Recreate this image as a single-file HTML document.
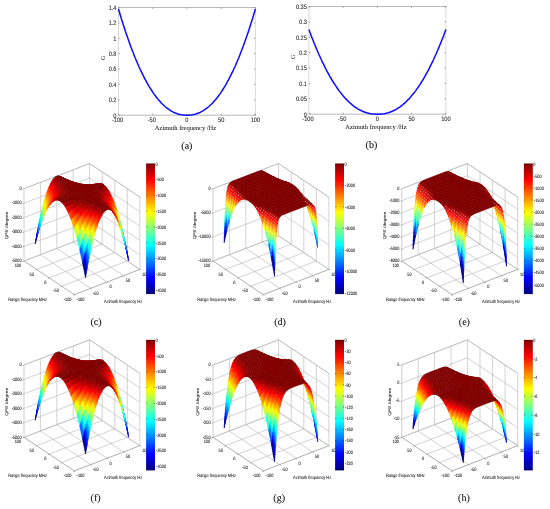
<!DOCTYPE html>
<html lang="en"><head><meta charset="utf-8"><title>Figure</title>
<style>html,body{margin:0;padding:0;background:#fff}svg{display:block}text{text-rendering:geometricPrecision}.j0{fill:#00008f;stroke:#00008f}.j1{fill:#00009f;stroke:#00009f}.j2{fill:#0000af;stroke:#0000af}.j3{fill:#0000bf;stroke:#0000bf}.j4{fill:#0000cf;stroke:#0000cf}.j5{fill:#0000df;stroke:#0000df}.j6{fill:#0000ef;stroke:#0000ef}.j7{fill:#0000ff;stroke:#0000ff}.j8{fill:#0010ff;stroke:#0010ff}.j9{fill:#0020ff;stroke:#0020ff}.j10{fill:#0030ff;stroke:#0030ff}.j11{fill:#0040ff;stroke:#0040ff}.j12{fill:#0050ff;stroke:#0050ff}.j13{fill:#0060ff;stroke:#0060ff}.j14{fill:#0070ff;stroke:#0070ff}.j15{fill:#0080ff;stroke:#0080ff}.j16{fill:#008fff;stroke:#008fff}.j17{fill:#009fff;stroke:#009fff}.j18{fill:#00afff;stroke:#00afff}.j19{fill:#00bfff;stroke:#00bfff}.j20{fill:#00cfff;stroke:#00cfff}.j21{fill:#00dfff;stroke:#00dfff}.j22{fill:#00efff;stroke:#00efff}.j23{fill:#00ffff;stroke:#00ffff}.j24{fill:#10ffef;stroke:#10ffef}.j25{fill:#20ffdf;stroke:#20ffdf}.j26{fill:#30ffcf;stroke:#30ffcf}.j27{fill:#40ffbf;stroke:#40ffbf}.j28{fill:#50ffaf;stroke:#50ffaf}.j29{fill:#60ff9f;stroke:#60ff9f}.j30{fill:#70ff8f;stroke:#70ff8f}.j31{fill:#80ff80;stroke:#80ff80}.j32{fill:#8fff70;stroke:#8fff70}.j33{fill:#9fff60;stroke:#9fff60}.j34{fill:#afff50;stroke:#afff50}.j35{fill:#bfff40;stroke:#bfff40}.j36{fill:#cfff30;stroke:#cfff30}.j37{fill:#dfff20;stroke:#dfff20}.j38{fill:#efff10;stroke:#efff10}.j39{fill:#ffff00;stroke:#ffff00}.j40{fill:#ffef00;stroke:#ffef00}.j41{fill:#ffdf00;stroke:#ffdf00}.j42{fill:#ffcf00;stroke:#ffcf00}.j43{fill:#ffbf00;stroke:#ffbf00}.j44{fill:#ffaf00;stroke:#ffaf00}.j45{fill:#ff9f00;stroke:#ff9f00}.j46{fill:#ff8f00;stroke:#ff8f00}.j47{fill:#ff8000;stroke:#ff8000}.j48{fill:#ff7000;stroke:#ff7000}.j49{fill:#ff6000;stroke:#ff6000}.j50{fill:#ff5000;stroke:#ff5000}.j51{fill:#ff4000;stroke:#ff4000}.j52{fill:#ff3000;stroke:#ff3000}.j53{fill:#ff2000;stroke:#ff2000}.j54{fill:#ff1000;stroke:#ff1000}.j55{fill:#ff0000;stroke:#ff0000}.j56{fill:#ef0000;stroke:#ef0000}.j57{fill:#df0000;stroke:#df0000}.j58{fill:#cf0000;stroke:#cf0000}.j59{fill:#bf0000;stroke:#bf0000}.j60{fill:#af0000;stroke:#af0000}.j61{fill:#9f0000;stroke:#9f0000}.j62{fill:#8f0000;stroke:#8f0000}.j63{fill:#800000;stroke:#800000}</style></head>
<body>
<svg width="550" height="509" viewBox="0 0 550 509">
<defs><linearGradient id="jet" x1="0" y1="1" x2="0" y2="0"><stop offset="0" stop-color="#000080"/><stop offset=".125" stop-color="#0000ff"/><stop offset=".375" stop-color="#00ffff"/><stop offset=".625" stop-color="#ffff00"/><stop offset=".875" stop-color="#ff0000"/><stop offset="1" stop-color="#800000"/></linearGradient><pattern id="net" width="24" height="24" patternUnits="userSpaceOnUse" patternTransform="rotate(40)"><circle cx="12" cy="12" r="6.5" fill="#fff" fill-opacity=".6"/></pattern><filter id="bl" x="0" y="0" width="100%" height="100%" filterUnits="userSpaceOnUse"><feGaussianBlur stdDeviation="0.35"/></filter></defs>
<rect width="550" height="509" fill="#fff"/>
<g filter="url(#bl)">
<line x1="118.5" y1="7.5" x2="255.4" y2="7.5" stroke="#a8a8a8" stroke-width="0.8"/>
<line x1="118.5" y1="115.2" x2="255.4" y2="115.2" stroke="#a8a8a8" stroke-width="0.8"/>
<line x1="118.5" y1="7.5" x2="118.5" y2="115.2" stroke="#cfcfcf" stroke-width="0.8"/>
<line x1="255.4" y1="7.5" x2="255.4" y2="115.2" stroke="#cfcfcf" stroke-width="0.8"/>
<line x1="118.5" y1="115.2" x2="120.1" y2="115.2" stroke="#777" stroke-width="0.6"/>
<line x1="253.8" y1="115.2" x2="255.4" y2="115.2" stroke="#777" stroke-width="0.6"/>
<line x1="118.5" y1="99.8" x2="120.1" y2="99.8" stroke="#777" stroke-width="0.6"/>
<line x1="253.8" y1="99.8" x2="255.4" y2="99.8" stroke="#777" stroke-width="0.6"/>
<line x1="118.5" y1="84.4" x2="120.1" y2="84.4" stroke="#777" stroke-width="0.6"/>
<line x1="253.8" y1="84.4" x2="255.4" y2="84.4" stroke="#777" stroke-width="0.6"/>
<line x1="118.5" y1="69" x2="120.1" y2="69" stroke="#777" stroke-width="0.6"/>
<line x1="253.8" y1="69" x2="255.4" y2="69" stroke="#777" stroke-width="0.6"/>
<line x1="118.5" y1="53.7" x2="120.1" y2="53.7" stroke="#777" stroke-width="0.6"/>
<line x1="253.8" y1="53.7" x2="255.4" y2="53.7" stroke="#777" stroke-width="0.6"/>
<line x1="118.5" y1="38.3" x2="120.1" y2="38.3" stroke="#777" stroke-width="0.6"/>
<line x1="253.8" y1="38.3" x2="255.4" y2="38.3" stroke="#777" stroke-width="0.6"/>
<line x1="118.5" y1="22.9" x2="120.1" y2="22.9" stroke="#777" stroke-width="0.6"/>
<line x1="253.8" y1="22.9" x2="255.4" y2="22.9" stroke="#777" stroke-width="0.6"/>
<line x1="118.5" y1="7.5" x2="120.1" y2="7.5" stroke="#777" stroke-width="0.6"/>
<line x1="253.8" y1="7.5" x2="255.4" y2="7.5" stroke="#777" stroke-width="0.6"/>
<line x1="118.5" y1="115.2" x2="118.5" y2="113.6" stroke="#777" stroke-width="0.6"/>
<line x1="118.5" y1="7.5" x2="118.5" y2="9.1" stroke="#777" stroke-width="0.6"/>
<line x1="152.7" y1="115.2" x2="152.7" y2="113.6" stroke="#777" stroke-width="0.6"/>
<line x1="152.7" y1="7.5" x2="152.7" y2="9.1" stroke="#777" stroke-width="0.6"/>
<line x1="186.9" y1="115.2" x2="186.9" y2="113.6" stroke="#777" stroke-width="0.6"/>
<line x1="186.9" y1="7.5" x2="186.9" y2="9.1" stroke="#777" stroke-width="0.6"/>
<line x1="221.2" y1="115.2" x2="221.2" y2="113.6" stroke="#777" stroke-width="0.6"/>
<line x1="221.2" y1="7.5" x2="221.2" y2="9.1" stroke="#777" stroke-width="0.6"/>
<line x1="255.4" y1="115.2" x2="255.4" y2="113.6" stroke="#777" stroke-width="0.6"/>
<line x1="255.4" y1="7.5" x2="255.4" y2="9.1" stroke="#777" stroke-width="0.6"/>
<polyline fill="none" stroke="#0a0aff" stroke-width="1.5" stroke-linejoin="round" points="118.5,9 119.9,13.7 121.2,18.2 122.6,22.5 124,26.8 125.3,31 126.7,35.1 128.1,39 129.5,42.9 130.8,46.6 132.2,50.2 133.6,53.7 134.9,57.2 136.3,60.5 137.7,63.7 139,66.8 140.4,69.8 141.8,72.6 143.1,75.4 144.5,78.1 145.9,80.7 147.2,83.2 148.6,85.6 150,87.8 151.4,90 152.7,92.1 154.1,94.1 155.5,96 156.8,97.8 158.2,99.5 159.6,101.1 160.9,102.6 162.3,104 163.7,105.3 165,106.5 166.4,107.7 167.8,108.7 169.2,109.7 170.5,110.6 171.9,111.4 173.3,112.1 174.6,112.8 176,113.3 177.4,113.8 178.7,114.2 180.1,114.5 181.5,114.8 182.8,115 184.2,115.1 185.6,115.2 186.9,115.2 188.3,115.2 189.7,115.1 191.1,115 192.4,114.8 193.8,114.5 195.2,114.2 196.5,113.8 197.9,113.3 199.3,112.8 200.6,112.1 202,111.4 203.4,110.6 204.7,109.7 206.1,108.7 207.5,107.7 208.9,106.5 210.2,105.3 211.6,104 213,102.6 214.3,101.1 215.7,99.5 217.1,97.8 218.4,96 219.8,94.1 221.2,92.1 222.5,90 223.9,87.8 225.3,85.6 226.7,83.2 228,80.7 229.4,78.1 230.8,75.4 232.1,72.6 233.5,69.8 234.9,66.8 236.2,63.7 237.6,60.5 239,57.2 240.3,53.7 241.7,50.2 243.1,46.6 244.4,42.9 245.8,39 247.2,35.1 248.6,31 249.9,26.8 251.3,22.5 252.7,18.2 254,13.7 255.4,9"/>
<line x1="308.9" y1="6.5" x2="445.9" y2="6.5" stroke="#a8a8a8" stroke-width="0.8"/>
<line x1="308.9" y1="114.2" x2="445.9" y2="114.2" stroke="#a8a8a8" stroke-width="0.8"/>
<line x1="308.9" y1="6.5" x2="308.9" y2="114.2" stroke="#cfcfcf" stroke-width="0.8"/>
<line x1="445.9" y1="6.5" x2="445.9" y2="114.2" stroke="#cfcfcf" stroke-width="0.8"/>
<line x1="308.9" y1="114.2" x2="310.5" y2="114.2" stroke="#777" stroke-width="0.6"/>
<line x1="444.3" y1="114.2" x2="445.9" y2="114.2" stroke="#777" stroke-width="0.6"/>
<line x1="308.9" y1="98.8" x2="310.5" y2="98.8" stroke="#777" stroke-width="0.6"/>
<line x1="444.3" y1="98.8" x2="445.9" y2="98.8" stroke="#777" stroke-width="0.6"/>
<line x1="308.9" y1="83.4" x2="310.5" y2="83.4" stroke="#777" stroke-width="0.6"/>
<line x1="444.3" y1="83.4" x2="445.9" y2="83.4" stroke="#777" stroke-width="0.6"/>
<line x1="308.9" y1="68" x2="310.5" y2="68" stroke="#777" stroke-width="0.6"/>
<line x1="444.3" y1="68" x2="445.9" y2="68" stroke="#777" stroke-width="0.6"/>
<line x1="308.9" y1="52.7" x2="310.5" y2="52.7" stroke="#777" stroke-width="0.6"/>
<line x1="444.3" y1="52.7" x2="445.9" y2="52.7" stroke="#777" stroke-width="0.6"/>
<line x1="308.9" y1="37.3" x2="310.5" y2="37.3" stroke="#777" stroke-width="0.6"/>
<line x1="444.3" y1="37.3" x2="445.9" y2="37.3" stroke="#777" stroke-width="0.6"/>
<line x1="308.9" y1="21.9" x2="310.5" y2="21.9" stroke="#777" stroke-width="0.6"/>
<line x1="444.3" y1="21.9" x2="445.9" y2="21.9" stroke="#777" stroke-width="0.6"/>
<line x1="308.9" y1="6.5" x2="310.5" y2="6.5" stroke="#777" stroke-width="0.6"/>
<line x1="444.3" y1="6.5" x2="445.9" y2="6.5" stroke="#777" stroke-width="0.6"/>
<line x1="308.9" y1="114.2" x2="308.9" y2="112.6" stroke="#777" stroke-width="0.6"/>
<line x1="308.9" y1="6.5" x2="308.9" y2="8.1" stroke="#777" stroke-width="0.6"/>
<line x1="343.1" y1="114.2" x2="343.1" y2="112.6" stroke="#777" stroke-width="0.6"/>
<line x1="343.1" y1="6.5" x2="343.1" y2="8.1" stroke="#777" stroke-width="0.6"/>
<line x1="377.4" y1="114.2" x2="377.4" y2="112.6" stroke="#777" stroke-width="0.6"/>
<line x1="377.4" y1="6.5" x2="377.4" y2="8.1" stroke="#777" stroke-width="0.6"/>
<line x1="411.6" y1="114.2" x2="411.6" y2="112.6" stroke="#777" stroke-width="0.6"/>
<line x1="411.6" y1="6.5" x2="411.6" y2="8.1" stroke="#777" stroke-width="0.6"/>
<line x1="445.9" y1="114.2" x2="445.9" y2="112.6" stroke="#777" stroke-width="0.6"/>
<line x1="445.9" y1="6.5" x2="445.9" y2="8.1" stroke="#777" stroke-width="0.6"/>
<polyline fill="none" stroke="#0a0aff" stroke-width="1.5" stroke-linejoin="round" points="308.9,29.6 310.3,33.3 311.6,36.8 313,40.3 314.4,43.8 315.8,47.1 317.1,50.3 318.5,53.5 319.9,56.5 321.2,59.5 322.6,62.4 324,65.2 325.3,67.9 326.7,70.6 328.1,73.1 329.4,75.6 330.8,78 332.2,80.3 333.6,82.5 334.9,84.6 336.3,86.7 337.7,88.7 339,90.6 340.4,92.4 341.8,94.1 343.1,95.8 344.5,97.4 345.9,98.9 347.3,100.3 348.6,101.7 350,102.9 351.4,104.1 352.7,105.3 354.1,106.3 355.5,107.3 356.8,108.2 358.2,109.1 359.6,109.8 361,110.5 362.3,111.2 363.7,111.7 365.1,112.3 366.4,112.7 367.8,113.1 369.2,113.4 370.5,113.7 371.9,113.9 373.3,114 374.7,114.1 376,114.2 377.4,114.2 378.8,114.2 380.1,114.1 381.5,114 382.9,113.9 384.2,113.7 385.6,113.4 387,113.1 388.4,112.7 389.7,112.3 391.1,111.7 392.5,111.2 393.8,110.5 395.2,109.8 396.6,109.1 397.9,108.2 399.3,107.3 400.7,106.3 402.1,105.3 403.4,104.1 404.8,102.9 406.2,101.7 407.5,100.3 408.9,98.9 410.3,97.4 411.6,95.8 413,94.1 414.4,92.4 415.8,90.6 417.1,88.7 418.5,86.7 419.9,84.6 421.2,82.5 422.6,80.3 424,78 425.3,75.6 426.7,73.1 428.1,70.6 429.5,67.9 430.8,65.2 432.2,62.4 433.6,59.5 434.9,56.5 436.3,53.5 437.7,50.3 439,47.1 440.4,43.8 441.8,40.3 443.2,36.8 444.5,33.3 445.9,29.6"/>
<line x1="90.7" y1="288.3" x2="40.4" y2="254.7" stroke="#b4b4b4" stroke-width="0.6"/>
<line x1="61.7" y1="286.2" x2="127.3" y2="261" stroke="#b4b4b4" stroke-width="0.6"/>
<line x1="107.1" y1="282" x2="56.8" y2="248.4" stroke="#b4b4b4" stroke-width="0.6"/>
<line x1="49.1" y1="277.8" x2="114.8" y2="252.6" stroke="#b4b4b4" stroke-width="0.6"/>
<line x1="123.5" y1="275.7" x2="73.2" y2="242.1" stroke="#b4b4b4" stroke-width="0.6"/>
<line x1="36.6" y1="269.4" x2="102.2" y2="244.2" stroke="#b4b4b4" stroke-width="0.6"/>
<line x1="40.4" y1="254.7" x2="40.4" y2="182.4" stroke="#b4b4b4" stroke-width="0.6"/>
<line x1="127.3" y1="261" x2="127.3" y2="188.7" stroke="#b4b4b4" stroke-width="0.6"/>
<line x1="56.8" y1="248.4" x2="56.8" y2="176.1" stroke="#b4b4b4" stroke-width="0.6"/>
<line x1="114.8" y1="252.6" x2="114.8" y2="180.3" stroke="#b4b4b4" stroke-width="0.6"/>
<line x1="73.2" y1="242.1" x2="73.2" y2="169.8" stroke="#b4b4b4" stroke-width="0.6"/>
<line x1="102.2" y1="244.2" x2="102.2" y2="171.9" stroke="#b4b4b4" stroke-width="0.6"/>
<line x1="24" y1="188.7" x2="89.6" y2="163.5" stroke="#b4b4b4" stroke-width="0.6"/>
<line x1="89.6" y1="163.5" x2="139.9" y2="197.1" stroke="#b4b4b4" stroke-width="0.6"/>
<line x1="24" y1="203.2" x2="89.6" y2="178" stroke="#b4b4b4" stroke-width="0.6"/>
<line x1="89.6" y1="178" x2="139.9" y2="211.6" stroke="#b4b4b4" stroke-width="0.6"/>
<line x1="24" y1="217.6" x2="89.6" y2="192.4" stroke="#b4b4b4" stroke-width="0.6"/>
<line x1="89.6" y1="192.4" x2="139.9" y2="226" stroke="#b4b4b4" stroke-width="0.6"/>
<line x1="24" y1="232.1" x2="89.6" y2="206.9" stroke="#b4b4b4" stroke-width="0.6"/>
<line x1="89.6" y1="206.9" x2="139.9" y2="240.5" stroke="#b4b4b4" stroke-width="0.6"/>
<line x1="24" y1="246.5" x2="89.6" y2="221.3" stroke="#b4b4b4" stroke-width="0.6"/>
<line x1="89.6" y1="221.3" x2="139.9" y2="254.9" stroke="#b4b4b4" stroke-width="0.6"/>
<line x1="24" y1="261" x2="89.6" y2="235.8" stroke="#b4b4b4" stroke-width="0.6"/>
<line x1="89.6" y1="235.8" x2="139.9" y2="269.4" stroke="#b4b4b4" stroke-width="0.6"/>
<line x1="24" y1="261" x2="89.6" y2="235.8" stroke="#b4b4b4" stroke-width="0.6"/>
<line x1="89.6" y1="235.8" x2="139.9" y2="269.4" stroke="#b4b4b4" stroke-width="0.6"/>
<line x1="89.6" y1="235.8" x2="89.6" y2="163.5" stroke="#b4b4b4" stroke-width="0.6"/>
<line x1="139.9" y1="269.4" x2="139.9" y2="197.1" stroke="#b4b4b4" stroke-width="0.6"/>
<line x1="24" y1="188.7" x2="89.6" y2="163.5" stroke="#b4b4b4" stroke-width="0.6"/>
<line x1="89.6" y1="163.5" x2="139.9" y2="197.1" stroke="#b4b4b4" stroke-width="0.6"/>
<line x1="24" y1="261" x2="74.3" y2="294.6" stroke="#8c8c8c" stroke-width="0.7"/>
<line x1="74.3" y1="294.6" x2="139.9" y2="269.4" stroke="#8c8c8c" stroke-width="0.7"/>
<line x1="24" y1="261" x2="24" y2="188.7" stroke="#cdcdcd" stroke-width="1"/>
<line x1="22.7" y1="189.2" x2="24" y2="188.7" stroke="#777" stroke-width="0.5"/>
<line x1="22.7" y1="203.7" x2="24" y2="203.2" stroke="#777" stroke-width="0.5"/>
<line x1="22.7" y1="218.1" x2="24" y2="217.6" stroke="#777" stroke-width="0.5"/>
<line x1="22.7" y1="232.6" x2="24" y2="232.1" stroke="#777" stroke-width="0.5"/>
<line x1="22.7" y1="247" x2="24" y2="246.5" stroke="#777" stroke-width="0.5"/>
<line x1="22.7" y1="261.5" x2="24" y2="261" stroke="#777" stroke-width="0.5"/>
<line x1="22.8" y1="261.9" x2="24" y2="261" stroke="#777" stroke-width="0.5"/>
<line x1="35.4" y1="270.3" x2="36.6" y2="269.4" stroke="#777" stroke-width="0.5"/>
<line x1="47.9" y1="278.7" x2="49.1" y2="277.8" stroke="#777" stroke-width="0.5"/>
<line x1="60.5" y1="287.1" x2="61.7" y2="286.2" stroke="#777" stroke-width="0.5"/>
<line x1="73.1" y1="295.5" x2="74.3" y2="294.6" stroke="#777" stroke-width="0.5"/>
<line x1="75.5" y1="295.5" x2="74.3" y2="294.6" stroke="#777" stroke-width="0.5"/>
<line x1="91.9" y1="289.2" x2="90.7" y2="288.3" stroke="#777" stroke-width="0.5"/>
<line x1="108.3" y1="282.9" x2="107.1" y2="282" stroke="#777" stroke-width="0.5"/>
<line x1="124.7" y1="276.6" x2="123.5" y2="275.7" stroke="#777" stroke-width="0.5"/>
<line x1="141.1" y1="270.3" x2="139.9" y2="269.4" stroke="#777" stroke-width="0.5"/>
<clipPath id="c115"><rect x="0" y="0" width="146" height="509"/></clipPath>
<g transform="scale(.1)" stroke-width="7" stroke-linejoin="round">
<path class="j3" d="M790 2203l6 25-12 46-5-28z"/>
<path class="j6" d="M785 2178l5 25-11 43-6-28z"/>
<path class="j8" d="M781 2164l4 14-12 40-3-16z"/>
<path class="j9" d="M779 2153l2 11-11 38-2-11z"/>
<path class="j12" d="M773 2129l6 24-11 38-6-28z"/>
<path class="j15" d="M767 2104l6 25-11 34-7-27z"/>
<path class="j19" d="M761 2079l6 25-12 32-6-28z"/>
<path class="j22" d="M754 2054l7 25-12 29-6-27z"/>
<path class="j23" d="M753 2050l1 4-11 27-2-5z"/>
<path class="j25" d="M747 2030l6 20-12 26-5-22z"/>
<path class="j28" d="M740 2006l7 24-11 24-7-27z"/>
<path class="j29" d="M738 2000l2 6-11 21-2-7z"/>
<path class="j32" d="M733 1981l5 19-11 20-6-20z"/>
<path class="j35" d="M724 1954l9 27-12 19-9-30z"/>
<path class="j38" d="M716 1933l8 21-12 16-7-23z"/>
<path class="j40" d="M709 1914l7 19-11 14-7-21z"/>
<path class="j41" d="M708 1909l1 5-11 12-2-6z"/>
<path class="j44" d="M698 1886l10 23-12 11-9-26z"/>
<path class="j45" d="M695 1879l3 7-11 8-4-8z"/>
<path class="j48" d="M688 1863l7 16-12 7-7-18z"/>
<path class="j50" d="M680 1848l8 15-12 5-7-16z"/>
<path class="j51" d="M676 1840l4 8-11 4-4-9z"/>
<path class="j53" d="M666 1822l10 18-11 3-10-20z"/>
<path class="j54" d="M663 1818l3 4-11 1-3-5z"/>
<path class="j56" d="M652 1801l11 17-11 0-12-19z"/>
<path class="j57" d="M648 1797l4 4-12-2-4-5z"/>
<path class="j59" d="M637 1785l11 12-12-3-10-13z"/>
<path class="j60" d="M628 1777l9 8-11-4-10-9z"/>
<path class="j61" d="M623 1774l5 3-12-5-5-4z"/>
<path class="j62" d="M608 1767l15 7-12-6-14-7z"/>
<path class="j63" d="M565 1777l14-8 15-3 14 1-11-6-15-3-14 3-14 8z"/>
<path class="j62" d="M551 1789l14-12-11-8-15 14z"/>
<path class="j61" d="M536 1807l15-18-12-6-14 18z"/>
<path class="j60" d="M531 1814l5-7-11-6-5 8z"/>
<path class="j59" d="M522 1829l9-15-11-5-10 17z"/>
<path class="j57" d="M511 1849l11-20-12-3-10 21z"/>
<path class="j56" d="M507 1857l4-8-11-2-4 8z"/>
<path class="j54" d="M496 1882l11-25-11-2-12 28z"/>
<path class="j53" d="M493 1889l3-7-12 1-3 7z"/>
<path class="j51" d="M483 1914l10-25-12 1-10 27z"/>
<path class="j50" d="M478 1926l5-12-12 3-4 13z"/>
<path class="j48" d="M471 1946l7-20-11 4-7 22z"/>
<path class="j45" d="M464 1967l7-21-11 6-7 23z"/>
<path class="j44" d="M461 1977l3-10-11 8-4 10z"/>
<path class="j41" d="M451 2008l10-31-12 8-9 34z"/>
<path class="j40" d="M450 2014l1-6-11 11-2 6z"/>
<path class="j38" d="M443 2038l7-24-12 11-7 27z"/>
<path class="j35" d="M434 2069l9-31-12 14-8 33z"/>
<path class="j32" d="M426 2099l8-30-11 16-8 33z"/>
<path class="j29" d="M421 2122l5-23-11 19-6 24z"/>
<path class="j28" d="M419 2129l2-7-12 20-2 8z"/>
<path class="j25" d="M412 2159l7-30-12 21-7 33z"/>
<path class="j23" d="M406 2183l6-24-12 24-5 26z"/>
<path class="j22" d="M405 2189l1-6-11 26-2 6z"/>
<path class="j19" d="M398 2218l7-29-12 26-6 33z"/>
<path class="j15" d="M392 2248l6-30-11 30-7 33z"/>
<path class="j12" d="M386 2277l6-29-12 33-6 31z"/>
<path class="j9" d="M380 2307l6-30-12 35-6 32z"/>
<path class="j8" d="M377 2319l3-12-12 37-2 14z"/>
<path class="j6" d="M374 2336l3-17-11 39-3 18z"/>
<path class="j3" d="M368 2365l6-29-11 40-6 32z"/>
<path class="j0" d="M363 2395l5-30-11 43-5 32z"/>
<path class="j8" d="M802 2163l5 22-11 43-6-25z"/>
<path class="j11" d="M796 2141l6 22-12 40-5-25z"/>
<path class="j13" d="M793 2128l3 13-11 37-4-14z"/>
<path class="j14" d="M790 2118l3 10-12 36-2-11z"/>
<path class="j17" d="M784 2096l6 22-11 35-6-24z"/>
<path class="j20" d="M778 2074l6 22-11 33-6-25z"/>
<path class="j23" d="M772 2051l6 23-11 30-6-25z"/>
<path class="j26" d="M764 2025l1 4 7 22-11 28-7-25-1-4z"/>
<path class="j29" d="M759 2007l5 18-11 25-6-20z"/>
<path class="j31" d="M751 1985l8 22-12 23-7-24z"/>
<path class="j32" d="M750 1980l1 5-11 21-2-6z"/>
<path class="j34" d="M744 1964l6 16-12 20-5-19z"/>
<path class="j38" d="M735 1940l9 24-11 17-9-27z"/>
<path class="j40" d="M728 1921l7 19-11 14-8-21z"/>
<path class="j43" d="M719 1899l2 5 7 17-12 12-7-19-1-5z"/>
<path class="j46" d="M709 1878l10 21-11 10-10-23z"/>
<path class="j47" d="M706 1872l3 6-11 8-3-7z"/>
<path class="j49" d="M699 1858l7 14-11 7-7-16z"/>
<path class="j51" d="M692 1845l7 13-11 5-8-15z"/>
<path class="j52" d="M688 1838l4 7-12 3-4-8z"/>
<path class="j54" d="M677 1822l11 16-12 2-10-18z"/>
<path class="j55" d="M675 1818l2 4-11 0-3-4z"/>
<path class="j57" d="M663 1803l12 15-12 0-11-17z"/>
<path class="j58" d="M659 1799l4 4-11-2-4-4z"/>
<path class="j59" d="M649 1789l10 10-11-2-11-12z"/>
<path class="j61" d="M634 1779l5 3 10 7-12-4-9-8-5-3z"/>
<path class="j62" d="M620 1774l14 5-11-5-15-7z"/>
<path class="j63" d="M576 1784l15-8 14-3 15 1-12-7-14-1-15 3-14 8z"/>
<path class="j62" d="M562 1796l14-12-11-7-14 12z"/>
<path class="j61" d="M542 1819l6-6 14-17-11-7-15 18-5 7z"/>
<path class="j59" d="M533 1833l9-14-11-5-9 15z"/>
<path class="j58" d="M522 1852l11-19-11-4-11 20z"/>
<path class="j57" d="M519 1859l3-7-11-3-4 8z"/>
<path class="j55" d="M507 1882l12-23-12-2-11 25z"/>
<path class="j54" d="M504 1888l3-6-11 0-3 7z"/>
<path class="j52" d="M494 1912l10-24-11 1-10 25z"/>
<path class="j51" d="M490 1922l4-10-11 2-5 12z"/>
<path class="j49" d="M483 1941l7-19-12 4-7 20z"/>
<path class="j47" d="M475 1961l8-20-12 5-7 21z"/>
<path class="j46" d="M472 1970l3-9-11 6-3 10z"/>
<path class="j43" d="M461 2003l2-5 9-28-11 7-10 31-1 6z"/>
<path class="j40" d="M454 2026l7-23-11 11-7 24z"/>
<path class="j37" d="M446 2054l8-28-11 12-9 31z"/>
<path class="j34" d="M438 2081l8-27-12 15-8 30z"/>
<path class="j32" d="M432 2102l6-21-12 18-5 23z"/>
<path class="j31" d="M430 2109l2-7-11 20-2 7z"/>
<path class="j29" d="M423 2136l7-27-11 20-7 30z"/>
<path class="j26" d="M416 2163l2-5 5-22-11 23-6 24-1 6z"/>
<path class="j23" d="M410 2191l6-28-11 26-7 29z"/>
<path class="j20" d="M403 2218l7-27-12 27-6 30z"/>
<path class="j17" d="M397 2245l6-27-11 30-6 29z"/>
<path class="j14" d="M391 2271l6-26-11 32-6 30z"/>
<path class="j13" d="M389 2283l2-12-11 36-3 12z"/>
<path class="j11" d="M385 2298l4-15-12 36-3 17z"/>
<path class="j8" d="M380 2325l5-27-11 38-6 29z"/>
<path class="j5" d="M374 2352l6-27-12 40-5 30z"/>
<path class="j13" d="M813 2125l6 20-12 40-5-22z"/>
<path class="j16" d="M808 2105l5 20-11 38-6-22z"/>
<path class="j17" d="M804 2093l4 12-12 36-3-13z"/>
<path class="j19" d="M802 2085l2 8-11 35-3-10z"/>
<path class="j21" d="M796 2065l6 20-12 33-6-22z"/>
<path class="j24" d="M790 2045l6 20-12 31-6-22z"/>
<path class="j26" d="M783 2025l7 20-12 29-6-23z"/>
<path class="j29" d="M777 2006l6 19-11 26-7-22z"/>
<path class="j30" d="M775 2002l2 4-12 23-1-4z"/>
<path class="j32" d="M770 1986l5 16-11 23-5-18z"/>
<path class="j34" d="M763 1967l7 19-11 21-8-22z"/>
<path class="j35" d="M761 1962l2 5-12 18-1-5z"/>
<path class="j37" d="M755 1947l6 15-11 18-6-16z"/>
<path class="j40" d="M747 1926l8 21-11 17-9-24z"/>
<path class="j42" d="M739 1909l8 17-12 14-7-19z"/>
<path class="j44" d="M732 1894l7 15-11 12-7-17z"/>
<path class="j45" d="M730 1890l2 4-11 10-2-5z"/>
<path class="j48" d="M718 1866l3 6 9 18-11 9-10-21-3-6z"/>
<path class="j50" d="M711 1853l7 13-12 6-7-14z"/>
<path class="j52" d="M703 1842l8 11-12 5-7-13z"/>
<path class="j53" d="M699 1836l4 6-11 3-4-7z"/>
<path class="j55" d="M689 1822l10 14-11 2-11-16z"/>
<path class="j56" d="M686 1818l3 4-12 0-2-4z"/>
<path class="j58" d="M671 1802l3 4 12 12-11 0-12-15-4-4z"/>
<path class="j60" d="M660 1793l11 9-12-3-10-10z"/>
<path class="j61" d="M646 1785l5 3 9 5-11-4-10-7-5-3z"/>
<path class="j63" d="M573 1803l15-12 14-7 15-4 14 1 15 4-12-6-14-5-15-1-14 3-15 8-14 12z"/>
<path class="j61" d="M554 1825l5-7 14-15-11-7-14 17-6 6z"/>
<path class="j60" d="M545 1838l9-13-12-6-9 14z"/>
<path class="j58" d="M530 1861l4-6 11-17-12-5-11 19-3 7z"/>
<path class="j56" d="M518 1883l12-22-11-2-12 23z"/>
<path class="j55" d="M516 1888l2-5-11-1-3 6z"/>
<path class="j53" d="M505 1910l11-22-12 0-10 24z"/>
<path class="j52" d="M501 1919l4-9-11 2-4 10z"/>
<path class="j50" d="M494 1937l7-18-11 3-7 19z"/>
<path class="j48" d="M484 1963l3-8 7-18-11 4-8 20-3 9z"/>
<path class="j45" d="M474 1989l10-26-12 7-9 28z"/>
<path class="j44" d="M472 1994l2-5-11 9-2 5z"/>
<path class="j42" d="M465 2014l7-20-11 9-7 23z"/>
<path class="j40" d="M457 2040l8-26-11 12-8 28z"/>
<path class="j37" d="M449 2065l8-25-11 14-8 27z"/>
<path class="j35" d="M444 2084l5-19-11 16-6 21z"/>
<path class="j34" d="M442 2090l2-6-12 18-2 7z"/>
<path class="j32" d="M435 2115l7-25-12 19-7 27z"/>
<path class="j30" d="M429 2135l6-20-12 21-5 22z"/>
<path class="j29" d="M428 2140l1-5-11 23-2 5z"/>
<path class="j26" d="M421 2165l7-25-12 23-6 28z"/>
<path class="j24" d="M415 2190l6-25-11 26-7 27z"/>
<path class="j21" d="M409 2214l6-24-12 28-6 27z"/>
<path class="j19" d="M403 2238l6-24-12 31-6 26z"/>
<path class="j17" d="M400 2249l3-11-12 33-2 12z"/>
<path class="j16" d="M397 2263l3-14-11 34-4 15z"/>
<path class="j13" d="M391 2287l6-24-12 35-5 27z"/>
<path class="j11" d="M386 2311l5-24-11 38-6 27z"/>
<path class="j18" d="M825 2089l5 18-11 38-6-20z"/>
<path class="j21" d="M819 2072l6 17-12 36-5-20z"/>
<path class="j22" d="M816 2061l3 11-11 33-4-12z"/>
<path class="j23" d="M813 2054l3 7-12 32-2-8z"/>
<path class="j25" d="M807 2036l6 18-11 31-6-20z"/>
<path class="j28" d="M801 2019l6 17-11 29-6-20z"/>
<path class="j30" d="M795 2001l6 18-11 26-7-20z"/>
<path class="j32" d="M788 1984l7 17-12 24-6-19z"/>
<path class="j33" d="M787 1980l1 4-11 22-2-4z"/>
<path class="j35" d="M781 1966l6 14-12 22-5-16z"/>
<path class="j37" d="M774 1949l7 17-11 20-7-19z"/>
<path class="j38" d="M772 1945l2 4-11 18-2-5z"/>
<path class="j40" d="M767 1932l5 13-11 17-6-15z"/>
<path class="j42" d="M758 1913l9 19-12 15-8-21z"/>
<path class="j44" d="M751 1898l7 15-11 13-8-17z"/>
<path class="j46" d="M744 1885l7 13-12 11-7-15z"/>
<path class="j47" d="M742 1882l2 3-12 9-2-4z"/>
<path class="j49" d="M732 1866l10 16-12 8-9-18z"/>
<path class="j50" d="M729 1861l3 5-11 6-3-6z"/>
<path class="j52" d="M722 1850l7 11-11 5-7-13z"/>
<path class="j53" d="M715 1840l7 10-11 3-8-11z"/>
<path class="j54" d="M711 1834l4 6-12 2-4-6z"/>
<path class="j56" d="M698 1819l2 3 11 12-12 2-10-14-3-4z"/>
<path class="j58" d="M686 1808l12 11-12-1-12-12z"/>
<path class="j59" d="M682 1805l4 3-12-2-3-4z"/>
<path class="j60" d="M671 1798l11 7-11-3-11-9z"/>
<path class="j61" d="M662 1793l9 5-11-5-9-5z"/>
<path class="j62" d="M657 1791l5 2-11-5-5-3z"/>
<path class="j63" d="M585 1810l14-11 15-7 14-4 15 0 14 3-11-6-15-4-14-1-15 4-14 7-15 12z"/>
<path class="j62" d="M570 1824l15-14-12-7-14 15z"/>
<path class="j61" d="M565 1830l5-6-11-6-5 7z"/>
<path class="j60" d="M556 1842l9-12-11-5-9 13z"/>
<path class="j59" d="M545 1858l11-16-11-4-11 17z"/>
<path class="j58" d="M542 1864l3-6-11-3-4 6z"/>
<path class="j56" d="M527 1889l3-5 12-20-12-3-12 22-2 5z"/>
<path class="j54" d="M517 1908l10-19-11-1-11 22z"/>
<path class="j53" d="M513 1917l4-9-12 2-4 9z"/>
<path class="j52" d="M505 1933l8-16-12 2-7 18z"/>
<path class="j50" d="M498 1949l7-16-11 4-7 18z"/>
<path class="j49" d="M495 1957l3-8-11 6-3 8z"/>
<path class="j47" d="M486 1980l9-23-11 6-10 26z"/>
<path class="j46" d="M484 1985l2-5-12 9-2 5z"/>
<path class="j44" d="M477 2004l7-19-12 9-7 20z"/>
<path class="j42" d="M469 2027l8-23-12 10-8 26z"/>
<path class="j40" d="M461 2050l8-23-12 13-8 25z"/>
<path class="j38" d="M455 2067l6-17-12 15-5 19z"/>
<path class="j37" d="M453 2073l2-6-11 17-2 6z"/>
<path class="j35" d="M446 2095l7-22-11 17-7 25z"/>
<path class="j33" d="M441 2113l5-18-11 20-6 20z"/>
<path class="j32" d="M439 2118l2-5-12 22-1 5z"/>
<path class="j30" d="M433 2140l6-22-11 22-7 25z"/>
<path class="j28" d="M426 2163l7-23-12 25-6 25z"/>
<path class="j25" d="M420 2185l6-22-11 27-6 24z"/>
<path class="j23" d="M414 2207l6-22-11 29-6 24z"/>
<path class="j22" d="M412 2217l2-10-11 31-3 11z"/>
<path class="j21" d="M408 2229l4-12-12 32-3 14z"/>
<path class="j18" d="M403 2251l5-22-11 34-6 24z"/>
<path class="j16" d="M397 2274l6-23-12 36-5 24z"/>
<path class="j23" d="M836 2056l6 16-12 35-5-18z"/>
<path class="j25" d="M831 2040l5 16-11 33-6-17z"/>
<path class="j26" d="M827 2031l4 9-12 32-3-11z"/>
<path class="j27" d="M825 2025l2 6-11 30-3-7z"/>
<path class="j29" d="M819 2009l6 16-12 29-6-18z"/>
<path class="j31" d="M813 1994l6 15-12 27-6-17z"/>
<path class="j34" d="M806 1979l7 15-12 25-6-18z"/>
<path class="j36" d="M798 1960l2 3 6 16-11 22-7-17-1-4z"/>
<path class="j38" d="M793 1948l5 12-11 20-6-14z"/>
<path class="j40" d="M784 1930l2 3 7 15-12 18-7-17-2-4z"/>
<path class="j42" d="M778 1918l6 12-12 15-5-13z"/>
<path class="j44" d="M769 1902l9 16-11 14-9-19z"/>
<path class="j46" d="M762 1889l7 13-11 11-7-15z"/>
<path class="j48" d="M755 1877l7 12-11 9-7-13z"/>
<path class="j49" d="M753 1874l2 3-11 8-2-3z"/>
<path class="j51" d="M741 1856l3 4 9 14-11 8-10-16-3-5z"/>
<path class="j53" d="M733 1847l8 9-12 5-7-11z"/>
<path class="j54" d="M726 1838l7 9-11 3-7-10z"/>
<path class="j55" d="M722 1833l4 5-11 2-4-6z"/>
<path class="j57" d="M709 1820l3 3 10 10-11 1-11-12-2-3z"/>
<path class="j59" d="M694 1808l3 3 12 9-11-1-12-11-4-3z"/>
<path class="j60" d="M683 1802l11 6-12-3-11-7z"/>
<path class="j61" d="M674 1798l9 4-12-4-9-5z"/>
<path class="j62" d="M668 1797l6 1-12-5-5-2z"/>
<path class="j63" d="M596 1817l15-11 14-7 15-4 14-1 14 3-11-6-14-3-15 0-14 4-15 7-14 11z"/>
<path class="j62" d="M582 1830l14-13-11-7-15 14z"/>
<path class="j61" d="M577 1836l5-6-12-6-5 6z"/>
<path class="j60" d="M567 1847l10-11-12-6-9 12z"/>
<path class="j59" d="M553 1866l4-5 10-14-11-5-11 16-3 6z"/>
<path class="j57" d="M539 1889l2-4 12-19-11-2-12 20-3 5z"/>
<path class="j55" d="M528 1908l11-19-12 0-10 19z"/>
<path class="j54" d="M524 1915l4-7-11 0-4 9z"/>
<path class="j53" d="M517 1930l7-15-11 2-8 16z"/>
<path class="j51" d="M507 1951l3-6 7-15-12 3-7 16-3 8z"/>
<path class="j49" d="M497 1973l10-22-12 6-9 23z"/>
<path class="j48" d="M495 1977l2-4-11 7-2 5z"/>
<path class="j46" d="M488 1994l7-17-11 8-7 19z"/>
<path class="j44" d="M480 2015l8-21-11 10-8 23z"/>
<path class="j42" d="M472 2036l8-21-11 12-8 23z"/>
<path class="j40" d="M465 2057l1-6 6-15-11 14-6 17-2 6z"/>
<path class="j38" d="M457 2077l8-20-12 16-7 22z"/>
<path class="j36" d="M451 2097l1-4 5-16-11 18-5 18-2 5z"/>
<path class="j34" d="M444 2118l7-21-12 21-6 22z"/>
<path class="j31" d="M438 2138l6-20-11 22-7 23z"/>
<path class="j29" d="M432 2158l6-20-12 25-6 22z"/>
<path class="j27" d="M426 2178l6-20-12 27-6 22z"/>
<path class="j26" d="M423 2187l3-9-12 29-2 10z"/>
<path class="j25" d="M420 2198l3-11-11 30-4 12z"/>
<path class="j23" d="M414 2218l6-20-12 31-5 22z"/>
<path class="j21" d="M409 2238l5-20-11 33-6 23z"/>
<path class="j27" d="M848 2025l5 14-11 33-6-16z"/>
<path class="j29" d="M842 2012l6 13-12 31-5-16z"/>
<path class="j30" d="M839 2004l3 8-11 28-4-9z"/>
<path class="j31" d="M836 1998l3 6-12 27-2-6z"/>
<path class="j33" d="M830 1985l6 13-11 27-6-16z"/>
<path class="j35" d="M824 1971l6 14-11 24-6-15z"/>
<path class="j37" d="M818 1958l6 13-11 23-7-15z"/>
<path class="j39" d="M810 1942l1 3 7 13-12 21-6-16-2-3z"/>
<path class="j41" d="M804 1931l6 11-12 18-5-12z"/>
<path class="j42" d="M797 1918l7 13-11 17-7-15z"/>
<path class="j43" d="M795 1915l2 3-11 15-2-3z"/>
<path class="j44" d="M790 1906l5 9-11 15-6-12z"/>
<path class="j47" d="M781 1891l9 15-12 12-9-16z"/>
<path class="j48" d="M774 1880l7 11-12 11-7-13z"/>
<path class="j50" d="M765 1868l1 2 8 10-12 9-7-12-2-3z"/>
<path class="j52" d="M755 1856l10 12-12 6-9-14z"/>
<path class="j53" d="M752 1852l3 4-11 4-3-4z"/>
<path class="j54" d="M745 1844l7 8-11 4-8-9z"/>
<path class="j55" d="M738 1837l7 7-12 3-7-9z"/>
<path class="j56" d="M733 1833l5 4-12 1-4-5z"/>
<path class="j57" d="M723 1824l10 9-11 0-10-10z"/>
<path class="j58" d="M720 1822l3 2-11-1-3-3z"/>
<path class="j59" d="M709 1814l11 8-11-2-12-9z"/>
<path class="j60" d="M705 1812l4 2-12-3-3-3z"/>
<path class="j61" d="M694 1807l11 5-11-4-11-6z"/>
<path class="j62" d="M680 1803l5 1 9 3-11-5-9-4-6-1z"/>
<path class="j63" d="M608 1824l14-10 15-7 14-4 14-2 15 2-12-6-14-3-14 1-15 4-14 7-15 11z"/>
<path class="j62" d="M588 1841l5-5 15-12-12-7-14 13-5 6z"/>
<path class="j61" d="M579 1851l9-10-11-5-10 11z"/>
<path class="j60" d="M568 1865l11-14-12-4-10 14z"/>
<path class="j59" d="M564 1870l4-5-11-4-4 5z"/>
<path class="j58" d="M553 1886l11-16-11-4-12 19z"/>
<path class="j57" d="M550 1890l3-4-12-1-2 4z"/>
<path class="j56" d="M540 1907l10-17-11-1-11 19z"/>
<path class="j55" d="M536 1914l4-7-12 1-4 7z"/>
<path class="j54" d="M528 1927l8-13-12 1-7 15z"/>
<path class="j53" d="M521 1941l7-14-11 3-7 15z"/>
<path class="j52" d="M518 1947l3-6-11 4-3 6z"/>
<path class="j50" d="M507 1970l2-4 9-19-11 4-10 22-2 4z"/>
<path class="j48" d="M500 1985l7-15-12 7-7 17z"/>
<path class="j46" d="M491 2004l9-19-12 9-8 21z"/>
<path class="j44" d="M484 2023l7-19-11 11-8 21z"/>
<path class="j43" d="M478 2037l6-14-12 13-6 15z"/>
<path class="j42" d="M476 2042l2-5-12 14-1 6z"/>
<path class="j41" d="M469 2060l7-18-11 15-8 20z"/>
<path class="j39" d="M462 2079l1-4 6-15-12 17-5 16-1 4z"/>
<path class="j37" d="M455 2097l7-18-11 18-7 21z"/>
<path class="j35" d="M449 2116l6-19-11 21-6 20z"/>
<path class="j33" d="M443 2133l6-17-11 22-6 20z"/>
<path class="j31" d="M437 2151l6-18-11 25-6 20z"/>
<path class="j30" d="M435 2159l2-8-11 27-3 9z"/>
<path class="j29" d="M431 2169l4-10-12 28-3 11z"/>
<path class="j27" d="M426 2187l5-18-11 29-6 20z"/>
<path class="j25" d="M420 2205l6-18-12 31-5 20z"/>
<path class="j31" d="M859 1997l6 11-12 31-5-14z"/>
<path class="j33" d="M853 1985l6 12-11 28-6-13z"/>
<path class="j34" d="M850 1978l3 7-11 27-3-8z"/>
<path class="j35" d="M848 1973l2 5-11 26-3-6z"/>
<path class="j36" d="M842 1962l6 11-12 25-6-13z"/>
<path class="j38" d="M836 1950l6 12-12 23-6-14z"/>
<path class="j40" d="M829 1939l7 11-12 21-6-13z"/>
<path class="j41" d="M823 1927l6 12-11 19-7-13z"/>
<path class="j42" d="M821 1925l2 2-12 18-1-3z"/>
<path class="j43" d="M816 1916l5 9-11 17-6-11z"/>
<path class="j45" d="M807 1902l2 3 7 11-12 15-7-13-2-3z"/>
<path class="j47" d="M801 1894l6 8-12 13-5-9z"/>
<path class="j48" d="M792 1882l9 12-11 12-9-15z"/>
<path class="j50" d="M785 1873l7 9-11 9-7-11z"/>
<path class="j51" d="M778 1864l7 9-11 7-8-10z"/>
<path class="j52" d="M776 1862l2 2-12 6-1-2z"/>
<path class="j53" d="M767 1852l9 10-11 6-10-12z"/>
<path class="j54" d="M763 1849l4 3-12 4-3-4z"/>
<path class="j55" d="M756 1842l7 7-11 3-7-8z"/>
<path class="j56" d="M749 1836l7 6-11 2-7-7z"/>
<path class="j57" d="M745 1833l4 3-11 1-5-4z"/>
<path class="j58" d="M732 1824l3 2 10 7-12 0-10-9-3-2z"/>
<path class="j60" d="M716 1816l4 2 12 6-12-2-11-8-4-2z"/>
<path class="j61" d="M706 1812l10 4-11-4-11-5z"/>
<path class="j62" d="M691 1809l5 1 10 2-12-5-9-3-5-1z"/>
<path class="j63" d="M619 1830l15-9 14-7 14-4 15-2 14 1-11-6-15-2-14 2-14 4-15 7-14 10z"/>
<path class="j62" d="M600 1847l5-5 14-12-11-6-15 12-5 5z"/>
<path class="j61" d="M590 1856l10-9-12-6-9 10z"/>
<path class="j60" d="M576 1873l4-5 10-12-11-5-11 14-4 5z"/>
<path class="j58" d="M561 1892l3-4 12-15-12-3-11 16-3 4z"/>
<path class="j57" d="M551 1907l10-15-11-2-10 17z"/>
<path class="j56" d="M547 1914l4-7-11 0-4 7z"/>
<path class="j55" d="M540 1925l7-11-11 0-8 13z"/>
<path class="j54" d="M533 1938l7-13-12 2-7 14z"/>
<path class="j53" d="M529 1943l4-5-12 3-3 6z"/>
<path class="j52" d="M520 1961l9-18-11 4-9 19z"/>
<path class="j51" d="M518 1964l2-3-11 5-2 4z"/>
<path class="j50" d="M511 1978l7-14-11 6-7 15z"/>
<path class="j48" d="M503 1995l8-17-11 7-9 19z"/>
<path class="j47" d="M495 2012l8-17-12 9-7 19z"/>
<path class="j45" d="M487 2028l2-4 6-12-11 11-6 14-2 5z"/>
<path class="j43" d="M480 2045l7-17-11 14-7 18z"/>
<path class="j42" d="M475 2058l5-13-11 15-6 15z"/>
<path class="j41" d="M473 2062l2-4-12 17-1 4z"/>
<path class="j40" d="M467 2078l6-16-11 17-7 18z"/>
<path class="j38" d="M460 2095l7-17-12 19-6 19z"/>
<path class="j36" d="M454 2110l6-15-11 21-6 17z"/>
<path class="j35" d="M448 2127l6-17-11 23-6 18z"/>
<path class="j34" d="M446 2133l2-6-11 24-2 8z"/>
<path class="j33" d="M443 2143l3-10-11 26-4 10z"/>
<path class="j31" d="M437 2159l6-16-12 26-5 18z"/>
<path class="j30" d="M432 2175l5-16-11 28-6 18z"/>
<path class="j35" d="M870 1970l6 10-11 28-6-11z"/>
<path class="j37" d="M865 1960l5 10-11 27-6-12z"/>
<path class="j38" d="M859 1950l3 5 3 5-12 25-3-7-2-5z"/>
<path class="j40" d="M853 1941l6 9-11 23-6-11z"/>
<path class="j41" d="M847 1931l6 10-11 21-6-12z"/>
<path class="j43" d="M841 1921l6 10-11 19-7-11z"/>
<path class="j44" d="M833 1910l1 2 7 9-12 18-6-12-2-2z"/>
<path class="j46" d="M827 1902l6 8-12 15-5-9z"/>
<path class="j47" d="M820 1893l7 9-11 14-7-11z"/>
<path class="j48" d="M818 1891l2 2-11 12-2-3z"/>
<path class="j49" d="M813 1884l5 7-11 11-6-8z"/>
<path class="j50" d="M804 1874l9 10-12 10-9-12z"/>
<path class="j52" d="M796 1866l8 8-12 8-7-9z"/>
<path class="j53" d="M788 1857l1 2 7 7-11 7-7-9-2-2z"/>
<path class="j55" d="M775 1846l3 3 10 8-12 5-9-10-4-3z"/>
<path class="j56" d="M768 1841l7 5-12 3-7-7z"/>
<path class="j57" d="M760 1836l8 5-12 1-7-6z"/>
<path class="j58" d="M756 1833l4 3-11 0-4-3z"/>
<path class="j59" d="M743 1826l3 1 10 6-11 0-10-7-3-2z"/>
<path class="j60" d="M732 1821l11 5-11-2-12-6z"/>
<path class="j61" d="M717 1817l11 3 4 1-12-3-4-2-10-4z"/>
<path class="j62" d="M703 1815l5 1 9 1-11-5-10-2-5-1z"/>
<path class="j63" d="M631 1837l14-8 14-7 15-4 14-3 15 0-12-6-14-1-15 2-14 4-14 7-15 9z"/>
<path class="j62" d="M611 1853l5-5 15-11-12-7-14 12-5 5z"/>
<path class="j61" d="M591 1873l11-12 9-8-11-6-10 9-10 12z"/>
<path class="j60" d="M587 1877l4-4-11-5-4 5z"/>
<path class="j59" d="M573 1894l3-4 11-13-11-4-12 15-3 4z"/>
<path class="j58" d="M563 1908l10-14-12-2-10 15z"/>
<path class="j57" d="M558 1913l5-5-12-1-4 7z"/>
<path class="j56" d="M551 1924l7-11-11 1-7 11z"/>
<path class="j55" d="M541 1940l3-5 7-11-11 1-7 13-4 5z"/>
<path class="j53" d="M530 1959l1-3 10-16-12 3-9 18-2 3z"/>
<path class="j52" d="M523 1971l7-12-12 5-7 14z"/>
<path class="j50" d="M514 1986l9-15-12 7-8 17z"/>
<path class="j49" d="M506 2002l8-16-11 9-8 17z"/>
<path class="j48" d="M501 2013l5-11-11 10-6 12z"/>
<path class="j47" d="M499 2016l2-3-12 11-2 4z"/>
<path class="j46" d="M492 2031l7-15-12 12-7 17z"/>
<path class="j44" d="M485 2046l1-3 6-12-12 14-5 13-2 4z"/>
<path class="j43" d="M478 2061l7-15-12 16-6 16z"/>
<path class="j41" d="M472 2075l6-14-11 17-7 17z"/>
<path class="j40" d="M466 2089l6-14-12 20-6 15z"/>
<path class="j38" d="M457 2110l3-6 6-15-12 21-6 17-2 6z"/>
<path class="j37" d="M454 2118l3-8-11 23-3 10z"/>
<path class="j35" d="M448 2132l6-14-11 25-6 16z"/>
<path class="j34" d="M443 2147l5-15-11 27-5 16z"/>
<path class="j39" d="M882 1946l5 9-11 25-6-10z"/>
<path class="j40" d="M876 1938l6 8-12 24-5-10z"/>
<path class="j41" d="M870 1930l3 3 3 5-11 22-3-5-3-5z"/>
<path class="j43" d="M865 1922l5 8-11 20-6-9z"/>
<path class="j44" d="M858 1914l7 8-12 19-6-10z"/>
<path class="j45" d="M852 1906l6 8-11 17-6-10z"/>
<path class="j47" d="M844 1896l1 2 7 8-11 15-7-9-1-2z"/>
<path class="j48" d="M839 1890l5 6-11 14-6-8z"/>
<path class="j49" d="M831 1882l8 8-12 12-7-9z"/>
<path class="j50" d="M830 1881l1 1-11 11-2-2z"/>
<path class="j51" d="M824 1875l6 6-12 10-5-7z"/>
<path class="j52" d="M815 1867l9 8-11 9-9-10z"/>
<path class="j53" d="M808 1860l7 7-11 7-8-8z"/>
<path class="j54" d="M799 1853l2 2 7 5-12 6-7-7-1-2z"/>
<path class="j56" d="M786 1845l3 2 10 6-11 4-10-8-3-3z"/>
<path class="j57" d="M779 1840l7 5-11 1-7-5z"/>
<path class="j58" d="M768 1834l4 2 7 4-11 1-8-5-4-3z"/>
<path class="j59" d="M757 1830l11 4-12-1-10-6z"/>
<path class="j60" d="M755 1829l2 1-11-3-3-1z"/>
<path class="j61" d="M739 1824l4 1 12 4-12-3-11-5-4-1z"/>
<path class="j62" d="M714 1821l5 1 10 0 10 2-11-4-11-3-9-1-5-1z"/>
<path class="j63" d="M642 1845l14-9 15-6 14-5 15-3 14-1-11-6-15 0-14 3-15 4-14 7-14 8z"/>
<path class="j62" d="M613 1867l9-8 6-4 14-10-11-8-15 11-5 5-9 8z"/>
<path class="j61" d="M599 1881l3-4 11-10-11-6-11 12-4 4z"/>
<path class="j60" d="M587 1893l12-12-12-4-11 13z"/>
<path class="j59" d="M584 1896l3-3-11-3-3 4z"/>
<path class="j58" d="M570 1914l4-5 10-13-11-2-10 14-5 5z"/>
<path class="j57" d="M563 1923l7-9-12-1-7 11z"/>
<path class="j56" d="M552 1938l3-5 8-10-12 1-7 11-3 5z"/>
<path class="j54" d="M541 1955l2-3 9-14-11 2-10 16-1 3z"/>
<path class="j53" d="M534 1966l7-11-11 4-7 12z"/>
<path class="j52" d="M526 1979l8-13-11 5-9 15z"/>
<path class="j51" d="M518 1993l8-14-12 7-8 16z"/>
<path class="j50" d="M512 2003l6-10-12 9-5 11z"/>
<path class="j49" d="M510 2006l2-3-11 10-2 3z"/>
<path class="j48" d="M503 2019l7-13-11 10-7 15z"/>
<path class="j47" d="M496 2032l2-3 5-10-11 12-6 12-1 3z"/>
<path class="j45" d="M490 2045l6-13-11 14-7 15z"/>
<path class="j44" d="M483 2058l7-13-12 16-6 14z"/>
<path class="j43" d="M477 2071l6-13-11 17-6 14z"/>
<path class="j41" d="M469 2089l2-6 6-12-11 18-6 15-3 6z"/>
<path class="j40" d="M466 2096l3-7-12 21-3 8z"/>
<path class="j39" d="M460 2108l6-12-12 22-6 14z"/>
<path class="j38" d="M454 2121l6-13-12 24-5 15z"/>
<path class="j42" d="M893 1925l6 6-12 24-5-9z"/>
<path class="j43" d="M888 1918l5 7-11 21-6-8z"/>
<path class="j44" d="M884 1914l4 4-12 20-3-5z"/>
<path class="j45" d="M882 1911l2 3-11 19-3-3z"/>
<path class="j46" d="M876 1905l6 6-12 19-5-8z"/>
<path class="j47" d="M870 1898l6 7-11 17-7-8z"/>
<path class="j48" d="M863 1892l7 6-12 16-6-8z"/>
<path class="j49" d="M856 1884l1 2 6 6-11 14-7-8-1-2z"/>
<path class="j50" d="M850 1879l6 5-12 12-5-6z"/>
<path class="j51" d="M841 1872l2 1 7 6-11 11-8-8-1-1z"/>
<path class="j52" d="M835 1867l6 5-11 9-6-6z"/>
<path class="j54" d="M827 1861l8 6-11 8-9-8z"/>
<path class="j55" d="M812 1851l7 5 8 5-12 6-7-7-7-5z"/>
<path class="j56" d="M810 1850l2 1-11 4-2-2z"/>
<path class="j57" d="M798 1843l3 2 9 5-11 3-10-6-3-2z"/>
<path class="j58" d="M791 1840l7 3-12 2-7-5z"/>
<path class="j59" d="M779 1836l4 1 8 3-12 0-7-4-4-2z"/>
<path class="j60" d="M766 1832l3 0 10 4-11-2-11-4-2-1z"/>
<path class="j61" d="M751 1829l3 0 12 3-11-3-12-4-4-1z"/>
<path class="j62" d="M731 1828l9 0 11 1-12-5-10-2-10 0z"/>
<path class="j63" d="M639 1861l14-9 15-8 14-7 15-4 14-4 15-1 5 0-12-6-5-1-14 1-15 3-14 5-15 6-14 9-14 10z"/>
<path class="j62" d="M625 1872l9-7 5-4-11-6-6 4-9 8z"/>
<path class="j61" d="M610 1885l4-4 11-9-12-5-11 10-3 4z"/>
<path class="j60" d="M596 1899l2-3 12-11-11-4-12 12-3 3z"/>
<path class="j59" d="M581 1915l5-5 10-11-12-3-10 13-4 5z"/>
<path class="j58" d="M574 1923l7-8-11-1-7 9z"/>
<path class="j57" d="M564 1936l3-4 7-9-11 0-8 10-3 5z"/>
<path class="j56" d="M554 1949l10-13-12 2-9 14z"/>
<path class="j55" d="M545 1961l7-10 2-2-11 3-2 3-7 11z"/>
<path class="j53" d="M537 1973l8-12-11 5-8 13z"/>
<path class="j52" d="M529 1985l8-12-11 6-8 14z"/>
<path class="j51" d="M522 1997l2-3 5-9-11 8-6 10-2 3z"/>
<path class="j50" d="M515 2008l7-11-12 9-7 13z"/>
<path class="j49" d="M508 2020l1-3 6-9-12 11-5 10-2 3z"/>
<path class="j48" d="M501 2031l7-11-12 12-6 13z"/>
<path class="j47" d="M495 2043l6-12-11 14-7 13z"/>
<path class="j46" d="M489 2054l6-11-12 15-6 13z"/>
<path class="j45" d="M483 2065l6-11-12 17-6 12z"/>
<path class="j44" d="M480 2069l3-4-12 18-2 6z"/>
<path class="j43" d="M477 2076l3-7-11 20-3 7z"/>
<path class="j42" d="M471 2087l6-11-11 20-6 12z"/>
<path class="j41" d="M466 2098l5-11-11 21-6 13z"/>
<path class="j45" d="M905 1905l5 6-11 20-6-6z"/>
<path class="j46" d="M899 1900l6 5-12 20-5-7z"/>
<path class="j47" d="M893 1895l3 2 3 3-11 18-4-4-2-3z"/>
<path class="j48" d="M887 1890l6 5-11 16-6-6z"/>
<path class="j49" d="M881 1885l6 5-11 15-6-7z"/>
<path class="j50" d="M875 1880l6 5-11 13-7-6z"/>
<path class="j51" d="M867 1874l1 1 7 5-12 12-6-6-1-2z"/>
<path class="j52" d="M861 1870l6 4-11 10-6-5z"/>
<path class="j53" d="M853 1864l1 1 7 5-11 9-7-6-2-1z"/>
<path class="j54" d="M847 1861l6 3-12 8-6-5z"/>
<path class="j55" d="M838 1856l9 5-12 6-8-6z"/>
<path class="j56" d="M831 1852l7 4-11 5-8-5z"/>
<path class="j57" d="M822 1848l2 1 7 3-12 4-7-5-2-1z"/>
<path class="j58" d="M809 1843l3 1 10 4-12 2-9-5-3-2z"/>
<path class="j59" d="M795 1839l7 2 7 2-11 0-7-3-8-3z"/>
<path class="j60" d="M780 1836l11 2 4 1-12-2-4-1-10-4z"/>
<path class="j61" d="M766 1834l12 1 2 1-11-4-3 0-12-3z"/>
<path class="j62" d="M751 1833l11 1 4 0-12-5-3 0-11-1z"/>
<path class="j63" d="M645 1871l5-3 15-9 14-8 15-6 14-5 15-3 14-3 5 0 9-1-11-5-9 0-5 0-15 1-14 4-15 4-14 7-15 8-14 9-5 4z"/>
<path class="j62" d="M625 1886l11-8 9-7-11-6-9 7-11 9z"/>
<path class="j61" d="M610 1900l12-11 3-3-11-5-4 4-12 11z"/>
<path class="j60" d="M597 1912l10-10 3-2-12-4-2 3-10 11z"/>
<path class="j59" d="M586 1924l7-8 4-4-11-2-5 5-7 8z"/>
<path class="j58" d="M575 1935l3-3 8-8-12-1-7 9-3 4z"/>
<path class="j57" d="M564 1949l2-3 9-11-11 1-10 13-2 2z"/>
<path class="j56" d="M557 1957l7-8-12 2-7 10z"/>
<path class="j55" d="M549 1968l8-11-12 4-8 12z"/>
<path class="j54" d="M541 1978l8-10-12 5-8 12z"/>
<path class="j53" d="M533 1989l2-3 6-8-12 7-5 9-2 3z"/>
<path class="j52" d="M526 1999l7-10-11 8-7 11z"/>
<path class="j51" d="M519 2009l2-2 5-8-11 9-6 9-1 3z"/>
<path class="j50" d="M513 2019l6-10-11 11-7 11z"/>
<path class="j49" d="M506 2029l7-10-12 12-6 12z"/>
<path class="j48" d="M500 2039l6-10-11 14-6 11z"/>
<path class="j47" d="M492 2052l2-4 6-9-11 15-6 11-3 4z"/>
<path class="j46" d="M488 2058l4-6-12 17-3 7z"/>
<path class="j45" d="M483 2068l5-10-11 18-6 11z"/>
<path class="j44" d="M477 2077l6-9-12 19-5 11z"/>
<path class="j48" d="M916 1889l6 4-12 18-5-6z"/>
<path class="j49" d="M911 1885l5 4-11 16-6-5z"/>
<path class="j50" d="M905 1881l2 1 4 3-12 15-3-3-3-2z"/>
<path class="j51" d="M893 1873l6 4 6 4-12 14-6-5-6-5z"/>
<path class="j52" d="M886 1869l7 4-12 12-6-5z"/>
<path class="j53" d="M878 1865l2 1 6 3-11 11-7-5-1-1z"/>
<path class="j54" d="M873 1862l5 3-11 9-6-4z"/>
<path class="j55" d="M864 1858l2 1 7 3-12 8-7-5-1-1z"/>
<path class="j56" d="M850 1852l8 3 6 3-11 6-6-3-9-5z"/>
<path class="j57" d="M842 1849l8 3-12 4-7-4z"/>
<path class="j58" d="M833 1847l2 0 7 2-11 3-7-3-2-1z"/>
<path class="j59" d="M821 1843l3 1 9 3-11 1-10-4-3-1z"/>
<path class="j60" d="M802 1840l4 1 7 1 8 1-12 0-7-2-7-2-4-1z"/>
<path class="j61" d="M789 1839l3 0 10 1-11-2-11-2-2-1z"/>
<path class="j62" d="M763 1839l11 0 3 0 12 0-11-4-12-1-4 0-11-1z"/>
<path class="j63" d="M657 1877l5-3 14-8 15-7 14-6 15-5 14-4 14-3 6-1 9-1-12-6-9 1-5 0-14 3-15 3-14 5-15 6-14 8-15 9-5 3z"/>
<path class="j62" d="M633 1894l4-3 10-7 10-7-12-6-9 7-11 8-3 3z"/>
<path class="j61" d="M619 1906l2-3 12-9-11-5-12 11-3 2z"/>
<path class="j60" d="M597 1925l7-7 4-4 11-8-12-4-10 10-4 4-7 8z"/>
<path class="j59" d="M587 1935l3-3 7-7-11-1-8 8-3 3z"/>
<path class="j58" d="M575 1947l2-2 10-10-12 0-9 11-2 3z"/>
<path class="j57" d="M568 1954l7-7-11 2-7 8z"/>
<path class="j56" d="M552 1973l8-9 8-10-11 3-8 11-8 10z"/>
<path class="j55" d="M545 1982l1-2 6-7-11 5-6 8-2 3z"/>
<path class="j54" d="M537 1991l8-9-12 7-7 10z"/>
<path class="j53" d="M531 2000l1-2 5-7-11 8-5 8-2 2z"/>
<path class="j52" d="M524 2008l7-8-12 9-6 10z"/>
<path class="j51" d="M512 2025l6-8 6-9-11 11-7 10-6 10z"/>
<path class="j50" d="M503 2037l3-3 6-9-12 14-6 9-2 4z"/>
<path class="j49" d="M500 2042l3-5-11 15-4 6z"/>
<path class="j48" d="M489 2059l5-8 6-9-12 16-5 10-6 9z"/>
<path class="j51" d="M928 1874l5 3-11 16-6-4z"/>
<path class="j52" d="M916 1868l3 2 3 1 6 3-12 15-5-4-4-3-2-1z"/>
<path class="j53" d="M910 1866l6 2-11 13-6-4z"/>
<path class="j54" d="M898 1860l6 3 6 3-11 11-6-4-7-4z"/>
<path class="j55" d="M890 1858l1 0 7 2-12 9-6-3-2-1z"/>
<path class="j56" d="M875 1853l2 0 7 3 6 2-12 7-5-3-7-3-2-1z"/>
<path class="j57" d="M870 1851l5 2-11 5-6-3z"/>
<path class="j58" d="M854 1848l7 1 9 2-12 4-8-3-8-3z"/>
<path class="j59" d="M845 1846l2 0 7 2-12 1-7-2-2 0z"/>
<path class="j60" d="M825 1844l7 0 3 1 10 1-12 1-9-3-3-1-8-1z"/>
<path class="j61" d="M803 1843l10 0 5 0 7 1-12-2-7-1-4-1-10-1z"/>
<path class="j62" d="M785 1844l4 0 11-1 3 0-11-4-3 0-12 0-3 0z"/>
<path class="j63" d="M659 1890l9-6 5-3 15-8 14-7 15-6 14-5 14-4 15-3 5-1 9-2 11-1-11-5-11 0-9 1-6 1-14 3-14 4-15 5-14 6-15 7-14 8-5 3-10 7z"/>
<path class="j62" d="M633 1907l11-8 4-2 11-7-12-6-10 7-4 3-12 9z"/>
<path class="j61" d="M616 1921l4-4 10-8 3-2-12-4-2 3-11 8-4 4z"/>
<path class="j60" d="M598 1936l3-3 7-6 8-6-12-3-7 7-7 7-3 3z"/>
<path class="j59" d="M587 1946l2-2 9-8-11-1-10 10-2 2z"/>
<path class="j58" d="M571 1961l9-8 7-7-12 1-7 7-8 10z"/>
<path class="j57" d="M564 1969l7-8-11 3-8 9z"/>
<path class="j56" d="M549 1985l7-8 2-2 6-6-12 4-6 7-1 2-8 9z"/>
<path class="j55" d="M542 1992l1-1 6-6-12 6-5 7-1 2z"/>
<path class="j54" d="M529 2007l6-7 7-8-11 8-7 8-6 9z"/>
<path class="j53" d="M523 2014l6-7-11 10-6 8z"/>
<path class="j52" d="M511 2029l4-4 2-3 6-8-11 11-6 9-3 3-3 5z"/>
<path class="j51" d="M506 2036l5-7-11 13-6 9z"/>
<path class="j50" d="M500 2043l6-7-12 15-5 8z"/>
<path class="j53" d="M939 1862l6 2-12 13-5-3z"/>
<path class="j54" d="M928 1858l2 1 3 1 6 2-11 12-6-3-3-1-3-2z"/>
<path class="j55" d="M916 1855l6 2 6 1-12 10-6-2-6-3z"/>
<path class="j56" d="M909 1853l7 2-12 8-6-3z"/>
<path class="j57" d="M896 1851l5 1 2 0 6 1-11 7-7-2-1 0-6-2z"/>
<path class="j58" d="M881 1848l6 1 2 1 7 1-12 5-7-3-2 0-5-2z"/>
<path class="j59" d="M865 1847l7 0 9 1-11 3-9-2-7-1z"/>
<path class="j60" d="M844 1846l3 0 9 0 2 0 7 1-11 1-7-2-2 0-10-1-3-1z"/>
<path class="j61" d="M825 1846l4 0 7 0 8 0-12-2-7 0-7-1-5 0z"/>
<path class="j62" d="M797 1849l3 0 12-1 3-1 10-1-12-3-10 0-3 0-11 1-4 0z"/>
<path class="j63" d="M670 1896l10-6 5-2 14-8 15-6 14-6 14-5 15-5 14-4 5-1 10-2 11-2-12-5-11 1-9 2-5 1-15 3-14 4-14 5-15 6-14 7-15 8-5 3-9 6z"/>
<path class="j62" d="M641 1914l3-2 12-8 4-2 10-6-11-6-11 7-4 2-11 8-3 2z"/>
<path class="j61" d="M620 1929l7-5 4-3 10-7-11-5-10 8-4 4-8 6z"/>
<path class="j60" d="M598 1946l2-1 9-8 4-2 7-6-12-2-7 6-3 3-9 8-2 2z"/>
<path class="j59" d="M583 1959l8-7 7-6-11 0-7 7-9 8z"/>
<path class="j58" d="M567 1973l2-2 6-5 8-7-12 2-7 8-6 6-2 2z"/>
<path class="j57" d="M554 1986l1-1 5-5 7-7-11 4-7 8-6 6-1 1z"/>
<path class="j56" d="M547 1993l7-7-12 6-7 8z"/>
<path class="j55" d="M534 2005l6-6 7-6-12 7-6 7-6 7z"/>
<path class="j54" d="M523 2018l3-4 2-2 6-7-11 9-6 8-2 3-4 4z"/>
<path class="j53" d="M512 2030l5-6 6-6-12 11-5 7-6 7z"/>
<path class="j55" d="M950 1852l6 1-11 11-6-2z"/>
<path class="j56" d="M939 1850l3 0 3 1 5 1-11 10-6-2-3-1-2-1z"/>
<path class="j57" d="M927 1849l6 0 6 1-11 8-6-1-6-2z"/>
<path class="j58" d="M907 1847l6 1 1 0 7 0 6 1-11 6-7-2-6-1-2 0-5-1z"/>
<path class="j59" d="M893 1847l5 0 2 0 7 0-11 4-7-1-2-1-6-1z"/>
<path class="j60" d="M869 1847l7 0 8 0 9 0-12 1-9-1-7 0-7-1z"/>
<path class="j61" d="M848 1849l7-1 3 0 10-1 1 0-11-1-2 0-9 0-3 0-8 0z"/>
<path class="j62" d="M823 1852l3 0 10-2 5 0 7-1-12-3-7 0-4 0-10 1-3 1z"/>
<path class="j63" d="M667 1910l4-2 11-6 9-5 5-2 15-7 14-7 14-5 15-6 14-4 15-5 5-1 9-2 11-3 4 0 11-3-11-4-12 1-3 0-11 2-10 2-5 1-14 4-15 5-14 5-14 6-15 6-14 8-5 2-10 6-10 6-4 2z"/>
<path class="j62" d="M638 1927l5-2 10-7 3-1 11-7-11-6-12 8-3 2-10 7-4 3z"/>
<path class="j61" d="M611 1946l10-7 3-2 7-5 7-5-11-3-7 5-7 6-4 2-9 8z"/>
<path class="j60" d="M594 1958l9-6 7-5 1-1-11-1-2 1-7 6-8 7z"/>
<path class="j59" d="M579 1970l2-1 5-4 8-7-11 1-8 7-6 5-2 2z"/>
<path class="j58" d="M558 1987l7-5 1-1 6-5 7-6-12 3-7 7-5 5-1 1-7 7z"/>
<path class="j57" d="M546 1998l6-5 6-6-11 6-7 6-6 6z"/>
<path class="j56" d="M534 2009l3-3 3-3 6-5-12 7-6 7-2 2-3 4z"/>
<path class="j55" d="M523 2019l5-5 6-5-11 9-6 6-5 6z"/>
<path class="j57" d="M962 1844l5 0-11 9-6-1z"/>
<path class="j58" d="M945 1844l5 0 3 0 3 0 6 0-12 8-5-1-3-1-3 0-6-1z"/>
<path class="j59" d="M924 1845l1 0 7 0 6-1 7 0-12 5-6 0-6-1-7 0-1 0z"/>
<path class="j60" d="M904 1847l6-1 1 0 8-1 5 0-11 3-6-1-7 0-2 0-5 0z"/>
<path class="j61" d="M879 1849l2 0 7-1 7-1 9 0-11 0-9 0-8 0-7 0-1 0z"/>
<path class="j62" d="M838 1857l10-2 4-1 7-1 7-2 3 0 10-2-11-2-10 1-3 0-7 1-7 1-5 0-10 2z"/>
<path class="j63" d="M667 1922l12-6 3-2 11-5 10-5 5-2 14-7 14-6 15-6 14-5 15-5 14-5 5-1 10-3 10-3 4-1 12-2 3-1-12-5-3 0-11 3-4 0-11 3-9 2-5 1-15 5-14 4-15 6-14 5-14 7-15 7-5 2-9 5-11 6-4 2-11 7z"/>
<path class="j62" d="M632 1942l3-2 8-4 7-4 4-3 10-5 3-2-11-5-3 1-10 7-5 2-7 5-7 5-3 2z"/>
<path class="j61" d="M606 1959l8-5 7-5 2-1 9-6-11-3-10 7-1 1-7 5-9 6z"/>
<path class="j60" d="M583 1974l7-5 2-1 6-4 8-5-12-1-8 7-5 4-2 1-7 6z"/>
<path class="j59" d="M563 1989l7-5 6-5 2-1 5-4-11 2-6 5-1 1-7 5-6 6z"/>
<path class="j58" d="M546 2002l3-3 2-1 6-5 6-4-11 4-6 5-6 5-3 3-3 3z"/>
<path class="j57" d="M534 2011l6-5 6-4-12 7-6 5-5 5z"/>
<path class="j59" d="M962 1840l2 0 4 0 5-1 6-1-12 6-5 0-6 0-3 0-3 0z"/>
<path class="j60" d="M936 1844l1 0 6-1 7-1 6-1 6-1-12 4-5 0-7 0-6 1-7 0-1 0z"/>
<path class="j61" d="M907 1849l8-2 6-1 2 0 7-1 6-1-12 1-5 0-8 1-1 0-6 1-9 0z"/>
<path class="j62" d="M863 1859l8-2 7-2 3 0 9-3 2 0 7-1 8-2-12-2-7 1-7 1-2 0-10 2-3 0-7 2-7 1z"/>
<path class="j63" d="M666 1934l10-5 2-1 12-6 4-2 11-5 9-4 5-2 14-7 15-6 14-5 15-6 14-5 15-5 5-1 9-3 11-3 4-1 11-4 3-1 10-2 4-1-11-5-4 1-10 2-3 1-12 2-4 1-10 3-10 3-5 1-14 5-15 5-14 5-15 6-14 6-14 7-5 2-10 5-11 5-3 2-12 6-3 2-10 5z"/>
<path class="j62" d="M625 1956l7-4 2-1 10-5 3-2 7-4 7-4 5-2-12-5-4 3-7 4-8 4-3 2-9 6-2 1-7 5z"/>
<path class="j61" d="M595 1974l7-5 2-1 5-3 8-5 8-4-11-2-8 5-8 5-6 4-2 1-7 5z"/>
<path class="j60" d="M569 1990l6-4 6-4 7-4 1-1 6-3-12 0-5 4-2 1-6 5-7 5-6 4z"/>
<path class="j59" d="M546 2005l5-4 6-4 3-2 3-1 6-4-12 3-6 5-2 1-3 3-6 4-6 5z"/>
<path class="j60" d="M985 1836l5-1-11 3-6 1z"/>
<path class="j61" d="M947 1845l1-1 7-1 6-2 6-1 6-1 3-1 3-1 6-1-12 3-5 1-4 0-2 0-6 1-6 1-7 1-6 1-1 0z"/>
<path class="j62" d="M902 1856l2 0 7-2 7-2 9-3 6-1 1 0 7-2 6-1-11-1-6 1-7 1-2 0-6 1-8 2-8 2-7 1-2 0z"/>
<path class="j63" d="M655 1950l3-2 8-3 7-3 4-2 10-5 3-1 12-6 3-1 11-5 9-4 5-2 15-6 14-6 15-6 14-5 15-5 14-5 5-2 10-3 10-4 4-1 12-4 2-1 11-3 4-1 7-2 7-2 3-1 10-3-12-4-9 3-3 0-7 2-8 2-4 1-10 2-3 1-11 4-4 1-11 3-9 3-5 1-15 5-14 5-15 6-14 5-15 6-14 7-5 2-9 4-11 5-4 2-12 6-2 1-10 5-5 2-7 4-7 4-3 2z"/>
<path class="j62" d="M606 1975l7-4 2-1 6-3 8-4 8-4 7-4 2 0 9-5-11-4-10 5-2 1-7 4-8 4-8 5-5 3-2 1-7 5z"/>
<path class="j61" d="M568 1995l4-2 2-1 6-3 6-4 7-3 6-4 2 0 5-3-11-1-6 3-1 1-7 4-6 4-6 4-6 4-3 1-3 2z"/>
<path class="j60" d="M557 2001l6-3 5-3-11 2-6 4-5 4z"/>
<path class="j61" d="M996 1836l6-2-12 1-5 1z"/>
<path class="j62" d="M938 1853l6-2 2 0 7-3 5-1 2-1 6-2 7-2 6-1 6-2 2-1 4-1 5-1-11 0-6 1-3 1-3 1-6 1-6 1-6 2-7 1-1 1-6 1-7 2-1 0-6 1z"/>
<path class="j63" d="M640 1967l8-4 7-3 2-1 10-4 3-1 7-4 7-3 4-2 11-4 2-1 12-5 4-2 10-4 10-4 5-2 14-6 15-5 14-6 15-5 14-6 15-5 5-2 9-3 11-4 3-1 12-4 3-1 10-4 4-1 7-3 8-2 3-1 9-3 2-1 7-2 8-2 8-3-11-4-9 3-7 2-7 2-2 0-10 3-3 1-7 2-7 2-4 1-11 3-2 1-12 4-4 1-10 4-10 3-5 2-14 5-15 5-14 5-15 6-14 6-15 6-5 2-9 4-11 5-3 1-12 6-3 1-10 5-4 2-7 3-8 3-3 2-9 5-2 0-7 4-8 4z"/>
<path class="j62" d="M580 1995l3-2 3-1 6-3 6-3 6-3 7-3 1 0 6-3 7-3 1-1 6-3 8-3-11-4-8 4-6 3-2 1-7 4-5 3-2 0-6 4-7 3-6 4-6 3-2 1-4 2z"/>
<path class="j61" d="M569 2000l5-2 6-3-12 0-5 3-6 3z"/>
<path class="j62" d="M996 1841l3-1 3-1 6-2 5-2-11-1-6 2-5 1-4 1-2 1z"/>
<path class="j63" d="M603 1992l6-3 7-2 6-3 1-1 6-2 7-3 2-1 6-2 7-3 9-4 7-3 2 0 9-4 3-2 7-2 8-3 4-2 10-4 3-1 11-5 4-1 11-5 9-3 5-2 15-6 14-6 15-5 14-6 15-5 14-6 5-2 9-3 11-4 4-1 11-5 3-1 10-3 5-2 7-3 7-2 3-1 10-4 2 0 7-3 7-3 9-3 5-2 2 0 7-3 6-2 1 0 7-2 6-3 6-2 6-2-11-2-6 2-6 1-7 2-6 2-2 1-5 1-7 3-2 0-6 2-8 3-8 2-7 2-2 1-9 3-3 1-8 2-7 3-4 1-10 4-3 1-12 4-3 1-11 4-9 3-5 2-15 5-14 6-15 5-14 6-15 5-14 6-5 2-10 4-10 4-4 2-12 5-2 1-11 4-4 2-7 3-7 4-3 1-10 4-2 1-7 3-8 4-8 3-6 3-1 1-7 3-6 3-1 0-7 3-6 3-6 3z"/>
<path class="j62" d="M580 2002l6-3 5-2 4-1 2-1 6-3-11-3-6 3-3 1-3 2-6 3-5 2z"/>
<path class="j63" d="M592 2006l5-2 6-3 3-1 2-1 6-2 6-3 7-2 7-3 1 0 5-2 8-3 1-1 6-2 8-3 8-4 7-2 2-1 9-4 4-1 7-3 7-3 4-1 10-4 3-1 12-5 4-1 10-4 10-4 5-2 14-6 15-5 14-6 15-5 14-6 14-5 5-2 10-4 11-4 3-1 12-5 3-1 10-4 4-1 7-3 8-3 3-1 9-3 2-1 7-3 7-3 9-3 6-2 2-1 7-2 5-2 2-1 6-2 7-3 6-2 6-2 2-1 3-1 6-3 6-2-12-4-5 2-6 2-3 1-3 1-6 2-6 2-6 3-7 2-1 0-6 2-7 3-2 0-5 2-9 3-7 3-7 3-2 0-10 4-3 1-7 2-7 3-5 2-10 3-3 1-11 5-4 1-11 4-9 3-5 2-14 6-15 5-14 6-15 5-14 6-15 6-5 2-9 3-11 5-4 1-11 5-3 1-10 4-4 2-8 3-7 2-3 2-9 4-2 0-7 3-9 4-7 3-6 2-2 1-7 3-6 2-1 1-6 3-7 2-6 3-6 3-2 1-4 1-5 2-6 3z"/>
<path class="j63" d="M603 2012l6-2 5-2 3-1 3-1 6-3 6-2 6-2 7-3 1 0 6-3 7-2 2-1 5-2 8-3 9-3 7-3 1-1 10-3 3-2 7-2 7-3 5-2 10-4 3-1 11-4 4-2 11-4 9-3 5-2 15-6 14-5 14-6 15-6 14-5 15-6 5-2 9-3 11-4 4-2 11-4 3-1 10-4 5-2 7-3 7-2 3-2 10-3 1-1 7-3 8-2 9-4 5-2 2-1 7-2 6-3 1 0 7-3 6-2 6-2 6-3 3-1 3-1 5-2 6-2-11-7-6 2-6 3-3 1-2 1-6 2-6 2-7 3-6 2-2 1-5 2-7 2-2 1-6 2-9 3-7 3-7 3-2 1-9 3-3 1-8 3-7 3-4 1-10 4-3 1-12 5-3 1-11 4-10 4-5 2-14 5-14 6-15 5-14 6-15 5-14 6-5 2-10 4-10 4-4 1-12 5-3 1-10 4-4 1-7 3-7 3-4 1-9 4-2 1-7 2-8 4-8 3-6 2-1 1-8 3-5 2-1 0-7 3-7 2-6 3-6 2-2 1-3 1-6 3-5 2z"/>
<path class="j63" d="M631 2038l5-2 6-3 3-1 3-1 6-3 6-3 6-3 7-3 1 0 6-3 7-3 2 0 5-3 8-3 9-4 7-3 1-1 10-4 3-1 7-3 7-3 5-2 10-4 3-1 11-5 4-1 11-5 9-3 5-2 15-6 14-6 14-5 15-6 14-5 15-6 5-2 9-3 11-4 4-1 11-4 3-1 10-4 4-2 8-2 7-3 3-1 10-3 1-1 7-2 8-3 9-2 5-2 2-1 7-2 6-2 1-1 7-2 6-2 6-2 6-2 2-1 4-1 5-1 6-2-28-26-6 2-5 2-3 1-3 1-6 3-6 2-6 2-7 3-1 0-6 3-7 2-2 1-5 2-9 4-8 2-7 3-1 1-10 3-3 2-7 2-7 3-5 2-10 4-3 1-11 4-4 2-11 4-9 3-5 2-15 6-14 5-15 6-14 6-14 5-15 6-5 2-9 3-11 4-4 2-11 4-3 1-10 4-5 2-7 3-7 2-3 2-10 3-1 1-7 3-9 3-8 3-5 2-2 1-7 2-6 3-1 0-7 3-6 2-6 2-6 3-3 1-3 1-5 2-6 2z"/>
<path class="j60" d="M1086 1913l6 0-28-41-6 2z"/>
<path class="j61" d="M1049 1919l1-1 7-1 6-1 6-1 6 0 2-1 4 0 5-1-28-39-5 1-4 1-2 1-6 2-6 2-6 2-7 2-1 1z"/>
<path class="j62" d="M1003 1927l2 0 7-1 8-2 8-2 6-1 2 0 7-1 6-1-28-33-6 2-7 2-2 1-5 2-9 2-8 3-7 2-1 1z"/>
<path class="j63" d="M757 2021l3-2 7-4 7-3 5-3 10-5 3-1 11-6 4-1 11-5 9-5 5-2 15-6 14-6 14-6 15-5 14-5 15-5 5-2 9-3 11-3 4-1 11-3 3-1 10-3 4-1 8-2 7-2 3 0 9-3-27-26-10 3-3 1-7 3-8 2-4 2-10 4-3 1-11 4-4 1-11 4-9 3-5 2-15 6-14 5-15 6-14 5-14 6-15 6-5 2-9 3-11 5-4 1-11 5-3 1-10 4-5 2-7 3-7 3-3 1z"/>
<path class="j62" d="M708 2048l7-4 2-1 5-3 8-5 8-4 8-4 1-1 10-5-28-26-10 4-1 1-7 3-9 4-8 3-5 3-2 0-7 3z"/>
<path class="j61" d="M670 2072l3-2 3-2 6-4 6-3 6-4 7-4 1-1 6-4-28-32-6 3-1 0-7 3-6 3-6 3-6 3-3 1-3 1z"/>
<path class="j60" d="M659 2079l5-4 6-3-28-39-6 3-5 2z"/>
<path class="j57" d="M1103 1965l2 0 4 1 5 1 6 1-28-55-6 0-5 1-4 0-2 1z"/>
<path class="j58" d="M1091 1963l6 1 6 1-28-50-6 0-6 1z"/>
<path class="j59" d="M1071 1960l6 1 1 0 6 1 7 1-28-47-6 1-7 1-1 1-6 1z"/>
<path class="j60" d="M1048 1959l8 0 6 1 2 0 7 0-28-40-7 1-2 0-6 1-8 2z"/>
<path class="j61" d="M1019 1959l3 0 9 0 2 0 7 0 8 0-28-35-8 2-7 1-2 0-9 3-3 0z"/>
<path class="j62" d="M987 1963l3-1 10-1 4 0 8-1 7-1-28-29-7 2-8 2-4 1-10 3-3 1z"/>
<path class="j63" d="M831 2020l4-2 11-6 9-5 5-3 14-7 15-6 14-6 15-5 14-5 15-4 5-1 9-2 11-3 3 0 12-2-28-24-11 3-4 1-11 3-9 3-5 2-15 5-14 5-15 5-14 6-14 6-15 6-5 2-9 5-11 5-4 1z"/>
<path class="j62" d="M795 2043l7-5 5-3 10-6 2-2 12-7-28-23-11 6-3 1-10 5-5 3-7 3z"/>
<path class="j61" d="M766 2064l7-5 2-2 10-7 3-2 7-5-28-28-7 4-3 2-10 5-1 1-8 4z"/>
<path class="j60" d="M743 2083l2-1 5-5 8-6 8-7-28-33-8 4-8 5-5 3-2 1z"/>
<path class="j59" d="M722 2101l7-6 1-1 6-5 7-6-28-39-7 4-6 4-1 1-7 4z"/>
<path class="j58" d="M710 2112l6-5 6-6-28-44-6 4-6 3z"/>
<path class="j57" d="M692 2129l6-6 3-3 3-2 6-6-28-48-6 4-3 2-3 2-6 3z"/>
<path class="j56" d="M687 2134l5-5-28-54-5 4z"/>
<path class="j51" d="M1142 2034l6 4-28-70-6-1z"/>
<path class="j52" d="M1133 2029l4 2 5 3-28-67-5-1-4-1z"/>
<path class="j53" d="M1125 2023l6 4 2 2-28-64-2 0-6-1z"/>
<path class="j54" d="M1119 2020l6 3-28-59-6-1z"/>
<path class="j55" d="M1104 2012l2 1 6 3 7 4-28-57-7-1-6-1-1 0z"/>
<path class="j56" d="M1099 2010l5 2-27-51-6-1z"/>
<path class="j57" d="M1084 2004l6 2 2 1 7 3-28-50-7 0-2 0-6-1z"/>
<path class="j58" d="M1068 1998l8 3 8 3-28-45-8 0-8 0z"/>
<path class="j59" d="M1059 1996l2 0 7 2-28-39-7 0-2 0z"/>
<path class="j60" d="M1040 1992l7 1 3 0 9 3-28-37-9 0-3 0-7 1z"/>
<path class="j61" d="M1018 1989l10 1 4 0 8 2-28-32-8 1-4 0-10 1z"/>
<path class="j62" d="M1000 1989l3 0 12 0 3 0-28-27-3 1-12 2-3 0z"/>
<path class="j63" d="M874 2034l9-6 5-3 14-8 15-7 14-6 15-5 14-4 15-3 5-1 9-1 11-1-28-24-11 3-9 2-5 1-15 4-14 5-15 5-14 6-15 6-14 7-5 3-9 5z"/>
<path class="j62" d="M847 2054l12-10 4-2 11-8-28-22-11 6-4 2-12 7z"/>
<path class="j61" d="M830 2068l4-4 11-8 2-2-28-27-2 2-10 6-5 3z"/>
<path class="j60" d="M813 2085l3-4 7-6 7-7-28-30-7 5-7 5-3 2z"/>
<path class="j59" d="M801 2096l2-2 10-9-28-35-10 7-2 2z"/>
<path class="j58" d="M786 2112l8-9 7-7-28-37-7 5-8 7z"/>
<path class="j57" d="M771 2130l2-2 5-7 8-9-28-41-8 6-5 5-2 1z"/>
<path class="j56" d="M764 2139l7-9-28-47-7 6z"/>
<path class="j55" d="M750 2156l7-9 1-1 6-7-28-50-6 5-1 1-7 6z"/>
<path class="j54" d="M744 2164l6-8-28-55-6 6z"/>
<path class="j53" d="M732 2180l6-8 6-8-28-57-6 5-6 6z"/>
<path class="j52" d="M726 2188l3-4 3-4-28-62-3 2-3 3z"/>
<path class="j51" d="M715 2205l5-8 6-9-28-65-6 6-5 5z"/>
<path class="j45" d="M1170 2116l6 7-28-85-6-4z"/>
<path class="j46" d="M1161 2105l4 4 5 7-28-82-5-3-4-2z"/>
<path class="j47" d="M1159 2102l2 3-28-76-2-2z"/>
<path class="j48" d="M1153 2095l6 7-28-75-6-4z"/>
<path class="j49" d="M1147 2088l6 7-28-72-6-3z"/>
<path class="j50" d="M1140 2081l7 7-28-68-7-4z"/>
<path class="j51" d="M1132 2073l2 2 6 6-28-65-6-3-2-1z"/>
<path class="j52" d="M1127 2068l5 5-28-61-5-2z"/>
<path class="j53" d="M1118 2060l2 2 7 6-28-58-7-3-2-1z"/>
<path class="j54" d="M1112 2055l6 5-28-54-6-2z"/>
<path class="j55" d="M1104 2049l8 6-28-51-8-3z"/>
<path class="j56" d="M1089 2039l7 4 8 6-28-48-8-3-7-2z"/>
<path class="j57" d="M1087 2037l2 2-28-43-2 0z"/>
<path class="j58" d="M1075 2030l3 2 9 5-28-41-9-3-3 0z"/>
<path class="j59" d="M1060 2024l7 3 8 3-28-37-7-1-8-2z"/>
<path class="j60" d="M1046 2018l10 4 4 2-28-34-4 0-10-1z"/>
<path class="j61" d="M1031 2015l12 3 3 0-28-29-3 0-12 0z"/>
<path class="j62" d="M1017 2013l11 1 3 1-28-26-3 0-11 1z"/>
<path class="j63" d="M911 2050l5-4 14-9 15-8 14-7 15-4 14-3 15-2 5 0 9 0-28-23-9 1-5 1-15 3-14 4-15 5-14 6-15 7-14 8-5 3z"/>
<path class="j62" d="M891 2067l10-9 10-8-28-22-9 6-11 8z"/>
<path class="j61" d="M875 2082l12-12 4-3-28-25-4 2-12 10z"/>
<path class="j60" d="M862 2096l11-11 2-3-28-28-2 2-11 8z"/>
<path class="j59" d="M851 2110l7-9 4-5-28-32-4 4-7 7z"/>
<path class="j58" d="M841 2123l3-4 7-9-28-35-7 6-3 4z"/>
<path class="j57" d="M831 2136l10-13-28-38-10 9z"/>
<path class="j56" d="M822 2148l7-10 2-2-28-42-2 2-7 7z"/>
<path class="j55" d="M814 2161l8-13-28-45-8 9z"/>
<path class="j54" d="M806 2173l8-12-28-49-8 9z"/>
<path class="j53" d="M799 2185l1-3 6-9-28-52-5 7-2 2z"/>
<path class="j52" d="M792 2197l7-12-28-55-7 9z"/>
<path class="j51" d="M785 2209l1-2 6-10-28-58-6 7-1 1z"/>
<path class="j50" d="M778 2221l7-12-28-62-7 9z"/>
<path class="j49" d="M772 2233l6-12-28-65-6 8z"/>
<path class="j48" d="M766 2244l6-11-28-69-6 8z"/>
<path class="j47" d="M760 2255l6-11-28-72-6 8z"/>
<path class="j46" d="M754 2267l3-7 3-5-28-75-3 4-3 4z"/>
<path class="j45" d="M748 2278l6-11-28-79-6 9z"/>
<path class="j44" d="M743 2289l5-11-28-81-5 8z"/>
<path class="j36" d="M1198 2211l6 12-28-100-6-7z"/>
<path class="j38" d="M1193 2200l5 11-28-95-5-7z"/>
<path class="j39" d="M1187 2189l2 5 4 6-28-91-4-4-2-3z"/>
<path class="j41" d="M1181 2178l6 11-28-87-6-7z"/>
<path class="j42" d="M1175 2168l6 10-28-83-6-7z"/>
<path class="j44" d="M1168 2157l7 11-28-80-7-7z"/>
<path class="j45" d="M1160 2144l2 2 6 11-28-76-6-6-2-2z"/>
<path class="j46" d="M1155 2135l5 9-28-71-5-5z"/>
<path class="j48" d="M1146 2122l2 3 7 10-28-67-7-6-2-2z"/>
<path class="j49" d="M1140 2115l6 7-28-62-6-5z"/>
<path class="j51" d="M1131 2103l9 12-28-60-8-6z"/>
<path class="j52" d="M1124 2094l7 9-27-54-8-6z"/>
<path class="j53" d="M1117 2086l7 8-28-51-7-4z"/>
<path class="j54" d="M1115 2084l2 2-28-47-2-2z"/>
<path class="j55" d="M1103 2072l3 3 9 9-28-47-9-5-3-2z"/>
<path class="j56" d="M1095 2066l8 6-28-42-8-3z"/>
<path class="j57" d="M1088 2060l7 6-28-39-7-3z"/>
<path class="j58" d="M1084 2057l4 3-28-36-4-2z"/>
<path class="j59" d="M1071 2049l3 1 10 7-28-35-10-4-3 0z"/>
<path class="j60" d="M1059 2043l12 6-28-31-12-3z"/>
<path class="j61" d="M1045 2038l11 3 3 2-28-28-3-1-11-1z"/>
<path class="j62" d="M1030 2035l6 1 9 2-28-25-9 0-5 0z"/>
<path class="j63" d="M958 2057l15-9 14-7 15-4 14-2 14 0-27-22-15 2-14 3-15 4-14 7-15 8z"/>
<path class="j62" d="M939 2073l5-5 14-11-28-20-14 9-5 4z"/>
<path class="j61" d="M919 2094l10-12 10-9-28-23-10 8-10 9z"/>
<path class="j60" d="M915 2098l4-4-28-27-4 3z"/>
<path class="j59" d="M901 2117l2-4 12-15-28-28-12 12-2 3z"/>
<path class="j58" d="M890 2131l11-14-28-32-11 11z"/>
<path class="j57" d="M886 2137l4-6-28-35-4 5z"/>
<path class="j56" d="M879 2149l7-12-28-36-7 9z"/>
<path class="j55" d="M869 2166l3-5 7-12-28-39-7 9-3 4z"/>
<path class="j54" d="M859 2183l10-17-28-43-10 13z"/>
<path class="j53" d="M857 2186l2-3-28-47-2 2z"/>
<path class="j52" d="M850 2200l7-14-28-48-7 10z"/>
<path class="j51" d="M842 2216l8-16-28-52-8 13z"/>
<path class="j49" d="M834 2232l8-16-28-55-8 12z"/>
<path class="j48" d="M827 2248l1-4 6-12-28-59-6 9-1 3z"/>
<path class="j46" d="M819 2264l8-16-28-63-7 12z"/>
<path class="j45" d="M813 2280l1-3 5-13-27-67-6 10-1 2z"/>
<path class="j44" d="M806 2296l7-16-28-71-7 12z"/>
<path class="j42" d="M800 2312l6-16-28-75-6 12z"/>
<path class="j41" d="M794 2327l6-15-28-79-6 11z"/>
<path class="j39" d="M785 2349l3-6 6-16-28-83-6 11-3 5z"/>
<path class="j38" d="M782 2358l3-9-28-89-3 7z"/>
<path class="j36" d="M776 2374l6-16-28-91-6 11z"/>
<path class="j35" d="M771 2389l5-15-28-96-5 11z"/>
<path class="j27" d="M1226 2321l6 16-28-114-6-12z"/>
<path class="j29" d="M1220 2305l6 16-28-110-5-11z"/>
<path class="j30" d="M1217 2296l3 9-27-105-4-6z"/>
<path class="j31" d="M1215 2289l2 7-28-102-2-5z"/>
<path class="j33" d="M1209 2274l6 15-28-100-6-11z"/>
<path class="j34" d="M1203 2258l6 16-28-96-6-10z"/>
<path class="j36" d="M1196 2242l7 16-28-90-7-11z"/>
<path class="j38" d="M1190 2227l6 15-28-85-6-11z"/>
<path class="j39" d="M1188 2224l2 3-28-81-2-2z"/>
<path class="j40" d="M1183 2211l5 13-28-80-5-9z"/>
<path class="j42" d="M1176 2196l7 15-28-76-7-10z"/>
<path class="j43" d="M1174 2192l2 4-28-71-2-3z"/>
<path class="j44" d="M1168 2181l6 11-28-70-6-7z"/>
<path class="j46" d="M1159 2164l9 17-28-66-9-12z"/>
<path class="j48" d="M1152 2151l7 13-28-61-7-9z"/>
<path class="j50" d="M1143 2137l2 3 7 11-28-57-7-8-2-2z"/>
<path class="j52" d="M1131 2118l3 4 9 15-28-53-9-9-3-3z"/>
<path class="j54" d="M1123 2108l8 10-28-46-8-6z"/>
<path class="j55" d="M1116 2099l7 9-28-42-7-6z"/>
<path class="j56" d="M1112 2095l4 4-28-39-4-3z"/>
<path class="j57" d="M1102 2084l10 11-28-38-10-7z"/>
<path class="j58" d="M1099 2082l3 2-28-34-3-1z"/>
<path class="j59" d="M1087 2072l12 10-28-33-12-6z"/>
<path class="j60" d="M1084 2069l3 3-28-29-3-2z"/>
<path class="j61" d="M1073 2063l11 6-28-28-11-3z"/>
<path class="j62" d="M1058 2057l6 2 9 4-28-25-9-2-6-1z"/>
<path class="j63" d="M986 2077l15-10 14-7 15-4 14-1 14 2-28-22-14 0-14 2-15 4-14 7-15 9z"/>
<path class="j62" d="M967 2096l5-5 14-14-28-20-14 11-5 5z"/>
<path class="j61" d="M957 2107l10-11-28-23-10 9z"/>
<path class="j60" d="M947 2122l10-15-28-25-10 12z"/>
<path class="j59" d="M943 2127l4-5-28-28-4 4z"/>
<path class="j58" d="M931 2146l12-19-28-29-12 15z"/>
<path class="j57" d="M929 2151l2-5-28-33-2 4z"/>
<path class="j56" d="M918 2169l11-18-28-34-11 14z"/>
<path class="j55" d="M914 2177l4-8-28-38-4 6z"/>
<path class="j54" d="M907 2191l7-14-28-40-7 12z"/>
<path class="j52" d="M897 2213l3-6 7-16-28-42-7 12-3 5z"/>
<path class="j50" d="M885 2239l2-4 10-22-28-47-10 17-2 3z"/>
<path class="j48" d="M878 2256l7-17-28-53-7 14z"/>
<path class="j46" d="M870 2278l8-22-28-56-8 16z"/>
<path class="j44" d="M862 2299l8-21-28-62-8 16z"/>
<path class="j43" d="M856 2314l6-15-28-67-6 12z"/>
<path class="j42" d="M855 2320l1-6-28-70-1 4z"/>
<path class="j40" d="M847 2340l8-20-28-72-8 16z"/>
<path class="j39" d="M842 2357l5-17-28-76-5 13z"/>
<path class="j38" d="M841 2361l1-4-28-80-1 3z"/>
<path class="j36" d="M834 2382l7-21-28-81-7 16z"/>
<path class="j34" d="M827 2402l7-20-28-86-6 16z"/>
<path class="j33" d="M821 2422l6-20-27-90-6 15z"/>
<path class="j31" d="M816 2443l5-21-27-95-6 16z"/>
<path class="j30" d="M813 2451l3-8-28-100-3 6z"/>
<path class="j29" d="M810 2463l3-12-28-102-3 9z"/>
<path class="j27" d="M804 2483l6-20-28-105-6 16z"/>
<path class="j25" d="M799 2503l5-20-28-109-5 15z"/>
<path class="j15" d="M1254 2444l6 22-28-129-6-16z"/>
<path class="j18" d="M1248 2423l6 21-28-123-6-16z"/>
<path class="j19" d="M1245 2411l3 12-28-118-3-9z"/>
<path class="j21" d="M1243 2402l2 9-28-115-2-7z"/>
<path class="j23" d="M1237 2381l6 21-28-113-6-15z"/>
<path class="j26" d="M1231 2359l6 22-28-107-6-16z"/>
<path class="j28" d="M1224 2338l7 21-28-101-7-16z"/>
<path class="j31" d="M1216 2313l2 4 6 21-28-96-6-15-2-3z"/>
<path class="j33" d="M1211 2296l5 17-28-89-5-13z"/>
<path class="j36" d="M1202 2270l2 6 7 20-28-85-7-15-2-4z"/>
<path class="j38" d="M1196 2255l6 15-28-78-6-11z"/>
<path class="j41" d="M1187 2232l9 23-28-74-9-17z"/>
<path class="j43" d="M1180 2214l7 18-28-68-7-13z"/>
<path class="j45" d="M1173 2198l7 16-28-63-7-11z"/>
<path class="j46" d="M1171 2194l2 4-28-58-2-3z"/>
<path class="j48" d="M1162 2174l9 20-28-57-9-15z"/>
<path class="j49" d="M1159 2168l3 6-28-52-3-4z"/>
<path class="j51" d="M1151 2154l8 14-28-50-8-10z"/>
<path class="j52" d="M1144 2142l7 12-28-46-7-9z"/>
<path class="j53" d="M1140 2135l4 7-28-43-4-4z"/>
<path class="j55" d="M1130 2120l10 15-28-40-10-11z"/>
<path class="j56" d="M1127 2117l3 3-28-36-3-2z"/>
<path class="j58" d="M1112 2099l3 4 12 14-28-35-12-10-3-3z"/>
<path class="j60" d="M1101 2090l11 9-28-30-11-6z"/>
<path class="j61" d="M1086 2081l5 2 10 7-28-27-9-4-6-2z"/>
<path class="j63" d="M1014 2098l15-12 14-8 14-3 15 1 14 5-28-24-14-2-14 1-15 4-14 7-15 10z"/>
<path class="j61" d="M995 2120l5-6 14-16-28-21-14 14-5 5z"/>
<path class="j60" d="M985 2134l10-14-28-24-10 11z"/>
<path class="j58" d="M971 2158l4-6 10-18-28-27-10 15-4 5z"/>
<path class="j56" d="M959 2181l12-23-28-31-12 19z"/>
<path class="j55" d="M956 2187l3-6-28-35-2 5z"/>
<path class="j53" d="M946 2210l10-23-27-36-11 18z"/>
<path class="j52" d="M942 2220l4-10-28-41-4 8z"/>
<path class="j51" d="M935 2238l7-18-28-43-7 14z"/>
<path class="j49" d="M928 2257l7-19-28-47-7 16z"/>
<path class="j48" d="M924 2265l4-8-28-50-3 6z"/>
<path class="j46" d="M915 2292l9-27-27-52-10 22z"/>
<path class="j45" d="M913 2298l2-6-28-57-2 4z"/>
<path class="j43" d="M906 2319l7-21-28-59-7 17z"/>
<path class="j41" d="M898 2346l8-27-28-63-8 22z"/>
<path class="j38" d="M890 2372l8-26-28-68-8 21z"/>
<path class="j36" d="M883 2399l1-7 6-20-28-73-6 15-1 6z"/>
<path class="j33" d="M875 2425l8-26-28-79-8 20z"/>
<path class="j31" d="M869 2451l1-5 5-21-28-85-5 17-1 4z"/>
<path class="j28" d="M862 2477l7-26-28-90-7 21z"/>
<path class="j26" d="M855 2504l7-27-28-95-7 20z"/>
<path class="j23" d="M849 2529l6-25-28-102-6 20z"/>
<path class="j21" d="M843 2555l6-26-28-107-5 21z"/>
<path class="j19" d="M841 2566l2-11-27-112-3 8z"/>
<path class="j18" d="M838 2581l3-15-28-115-3 12z"/>
<path class="j15" d="M832 2607l6-26-28-118-6 20z"/>
<path class="j13" d="M827 2632l5-25-28-124-5 20z"/>
<path class="j3" d="M1282 2582l5 28-27-144-6-22z"/>
<path class="j6" d="M1276 2554l6 28-28-138-6-21z"/>
<path class="j8" d="M1273 2538l3 16-28-131-3-12z"/>
<path class="j9" d="M1271 2527l2 11-28-127-2-9z"/>
<path class="j12" d="M1265 2499l6 28-28-125-6-21z"/>
<path class="j15" d="M1258 2472l7 27-28-118-6-22z"/>
<path class="j19" d="M1252 2444l6 28-27-113-7-21z"/>
<path class="j22" d="M1246 2417l6 27-28-106-6-21z"/>
<path class="j23" d="M1244 2412l2 5-28-100-2-4z"/>
<path class="j25" d="M1239 2390l5 22-28-99-5-17z"/>
<path class="j28" d="M1232 2363l7 27-28-94-7-20z"/>
<path class="j29" d="M1230 2356l2 7-28-87-2-6z"/>
<path class="j32" d="M1224 2336l6 20-28-86-6-15z"/>
<path class="j35" d="M1215 2306l9 30-28-81-9-23z"/>
<path class="j38" d="M1208 2283l7 23-28-74-7-18z"/>
<path class="j40" d="M1201 2262l7 21-28-69-7-16z"/>
<path class="j41" d="M1199 2256l2 6-28-64-2-4z"/>
<path class="j44" d="M1190 2230l9 26-28-62-9-20z"/>
<path class="j45" d="M1186 2222l4 8-28-56-3-6z"/>
<path class="j48" d="M1179 2204l7 18-27-54-8-14z"/>
<path class="j50" d="M1172 2188l7 16-28-50-7-12z"/>
<path class="j51" d="M1168 2179l4 9-28-46-4-7z"/>
<path class="j53" d="M1158 2159l10 20-28-44-10-15z"/>
<path class="j54" d="M1155 2154l3 5-28-39-3-3z"/>
<path class="j56" d="M1143 2135l12 19-28-37-12-14z"/>
<path class="j57" d="M1139 2130l4 5-28-32-3-4z"/>
<path class="j59" d="M1129 2117l10 13-27-31-11-9z"/>
<path class="j60" d="M1119 2108l10 9-28-27-10-7z"/>
<path class="j61" d="M1114 2104l5 4-28-25-5-2z"/>
<path class="j62" d="M1100 2097l14 7-28-23-14-5z"/>
<path class="j63" d="M1057 2105l14-8 14-3 15 3-28-21-15-1-14 3-14 8z"/>
<path class="j62" d="M1042 2119l15-14-28-19-15 12z"/>
<path class="j61" d="M1028 2137l14-18-28-21-14 16z"/>
<path class="j60" d="M1023 2145l5-8-28-23-5 6z"/>
<path class="j59" d="M1013 2162l10-17-28-25-10 14z"/>
<path class="j57" d="M1003 2183l10-21-28-28-10 18z"/>
<path class="j56" d="M999 2191l4-8-28-31-4 6z"/>
<path class="j54" d="M987 2219l12-28-28-33-12 23z"/>
<path class="j53" d="M984 2226l3-7-28-38-3 6z"/>
<path class="j51" d="M974 2253l10-27-28-39-10 23z"/>
<path class="j50" d="M970 2266l4-13-28-43-4 10z"/>
<path class="j48" d="M963 2288l7-22-28-46-7 18z"/>
<path class="j45" d="M956 2311l7-23-28-50-7 19z"/>
<path class="j44" d="M952 2321l4-10-28-54-4 8z"/>
<path class="j41" d="M943 2355l9-34-28-56-9 27z"/>
<path class="j40" d="M941 2361l2-6-28-63-2 6z"/>
<path class="j38" d="M934 2388l7-27-28-63-7 21z"/>
<path class="j35" d="M926 2421l8-33-28-69-8 27z"/>
<path class="j32" d="M918 2454l8-33-28-75-8 26z"/>
<path class="j29" d="M912 2478l6-24-28-82-6 20z"/>
<path class="j28" d="M910 2486l2-8-28-86-1 7z"/>
<path class="j25" d="M903 2519l7-33-27-87-8 26z"/>
<path class="j23" d="M898 2545l5-26-28-94-5 21z"/>
<path class="j22" d="M896 2551l2-6-28-99-1 5z"/>
<path class="j19" d="M890 2584l6-33-27-100-7 26z"/>
<path class="j15" d="M883 2617l7-33-28-107-7 27z"/>
<path class="j12" d="M877 2648l6-31-28-113-6 25z"/>
<path class="j9" d="M871 2680l6-32-28-119-6 26z"/>
<path class="j8" d="M869 2694l2-14-28-125-2 11z"/>
<path class="j6" d="M866 2712l3-18-28-128-3 15z"/>
<path class="j3" d="M860 2744l6-32-28-131-6 26z"/>
<path class="j0" d="M855 2776l5-32-28-137-5 25z"/>
</g>
<rect x="146.1" y="163.7" width="8.9" height="130.2" fill="url(#jet)"/>
<line x1="146.1" y1="163.9" x2="155" y2="163.9" stroke="#3a0000" stroke-width="0.5"/>
<line x1="146.1" y1="293.7" x2="155" y2="293.7" stroke="#00003a" stroke-width="0.5"/>
<line x1="153.7" y1="179.5" x2="155" y2="179.5" stroke="#222" stroke-width="0.45"/>
<line x1="146.1" y1="179.5" x2="147.4" y2="179.5" stroke="#222" stroke-width="0.45"/>
<line x1="153.7" y1="195.3" x2="155" y2="195.3" stroke="#222" stroke-width="0.45"/>
<line x1="146.1" y1="195.3" x2="147.4" y2="195.3" stroke="#222" stroke-width="0.45"/>
<line x1="153.7" y1="211.1" x2="155" y2="211.1" stroke="#222" stroke-width="0.45"/>
<line x1="146.1" y1="211.1" x2="147.4" y2="211.1" stroke="#222" stroke-width="0.45"/>
<line x1="153.7" y1="226.9" x2="155" y2="226.9" stroke="#222" stroke-width="0.45"/>
<line x1="146.1" y1="226.9" x2="147.4" y2="226.9" stroke="#222" stroke-width="0.45"/>
<line x1="153.7" y1="242.7" x2="155" y2="242.7" stroke="#222" stroke-width="0.45"/>
<line x1="146.1" y1="242.7" x2="147.4" y2="242.7" stroke="#222" stroke-width="0.45"/>
<line x1="153.7" y1="258.5" x2="155" y2="258.5" stroke="#222" stroke-width="0.45"/>
<line x1="146.1" y1="258.5" x2="147.4" y2="258.5" stroke="#222" stroke-width="0.45"/>
<line x1="153.7" y1="274.3" x2="155" y2="274.3" stroke="#222" stroke-width="0.45"/>
<line x1="146.1" y1="274.3" x2="147.4" y2="274.3" stroke="#222" stroke-width="0.45"/>
<line x1="153.7" y1="290.1" x2="155" y2="290.1" stroke="#222" stroke-width="0.45"/>
<line x1="146.1" y1="290.1" x2="147.4" y2="290.1" stroke="#222" stroke-width="0.45"/>
<line x1="279.7" y1="288.3" x2="229.4" y2="254.7" stroke="#b4b4b4" stroke-width="0.6"/>
<line x1="250.7" y1="286.2" x2="316.3" y2="261" stroke="#b4b4b4" stroke-width="0.6"/>
<line x1="296.1" y1="282" x2="245.8" y2="248.4" stroke="#b4b4b4" stroke-width="0.6"/>
<line x1="238.2" y1="277.8" x2="303.8" y2="252.6" stroke="#b4b4b4" stroke-width="0.6"/>
<line x1="312.5" y1="275.7" x2="262.2" y2="242.1" stroke="#b4b4b4" stroke-width="0.6"/>
<line x1="225.6" y1="269.4" x2="291.2" y2="244.2" stroke="#b4b4b4" stroke-width="0.6"/>
<line x1="229.4" y1="254.7" x2="229.4" y2="182.4" stroke="#b4b4b4" stroke-width="0.6"/>
<line x1="316.3" y1="261" x2="316.3" y2="188.7" stroke="#b4b4b4" stroke-width="0.6"/>
<line x1="245.8" y1="248.4" x2="245.8" y2="176.1" stroke="#b4b4b4" stroke-width="0.6"/>
<line x1="303.8" y1="252.6" x2="303.8" y2="180.3" stroke="#b4b4b4" stroke-width="0.6"/>
<line x1="262.2" y1="242.1" x2="262.2" y2="169.8" stroke="#b4b4b4" stroke-width="0.6"/>
<line x1="291.2" y1="244.2" x2="291.2" y2="171.9" stroke="#b4b4b4" stroke-width="0.6"/>
<line x1="213" y1="188.7" x2="278.6" y2="163.5" stroke="#b4b4b4" stroke-width="0.6"/>
<line x1="278.6" y1="163.5" x2="328.9" y2="197.1" stroke="#b4b4b4" stroke-width="0.6"/>
<line x1="213" y1="212.8" x2="278.6" y2="187.6" stroke="#b4b4b4" stroke-width="0.6"/>
<line x1="278.6" y1="187.6" x2="328.9" y2="221.2" stroke="#b4b4b4" stroke-width="0.6"/>
<line x1="213" y1="236.9" x2="278.6" y2="211.7" stroke="#b4b4b4" stroke-width="0.6"/>
<line x1="278.6" y1="211.7" x2="328.9" y2="245.3" stroke="#b4b4b4" stroke-width="0.6"/>
<line x1="213" y1="261" x2="278.6" y2="235.8" stroke="#b4b4b4" stroke-width="0.6"/>
<line x1="278.6" y1="235.8" x2="328.9" y2="269.4" stroke="#b4b4b4" stroke-width="0.6"/>
<line x1="213" y1="261" x2="278.6" y2="235.8" stroke="#b4b4b4" stroke-width="0.6"/>
<line x1="278.6" y1="235.8" x2="328.9" y2="269.4" stroke="#b4b4b4" stroke-width="0.6"/>
<line x1="278.6" y1="235.8" x2="278.6" y2="163.5" stroke="#b4b4b4" stroke-width="0.6"/>
<line x1="328.9" y1="269.4" x2="328.9" y2="197.1" stroke="#b4b4b4" stroke-width="0.6"/>
<line x1="213" y1="188.7" x2="278.6" y2="163.5" stroke="#b4b4b4" stroke-width="0.6"/>
<line x1="278.6" y1="163.5" x2="328.9" y2="197.1" stroke="#b4b4b4" stroke-width="0.6"/>
<line x1="213" y1="261" x2="263.3" y2="294.6" stroke="#8c8c8c" stroke-width="0.7"/>
<line x1="263.3" y1="294.6" x2="328.9" y2="269.4" stroke="#8c8c8c" stroke-width="0.7"/>
<line x1="213" y1="261" x2="213" y2="188.7" stroke="#cdcdcd" stroke-width="1"/>
<line x1="211.7" y1="189.2" x2="213" y2="188.7" stroke="#777" stroke-width="0.5"/>
<line x1="211.7" y1="213.3" x2="213" y2="212.8" stroke="#777" stroke-width="0.5"/>
<line x1="211.7" y1="237.4" x2="213" y2="236.9" stroke="#777" stroke-width="0.5"/>
<line x1="211.7" y1="261.5" x2="213" y2="261" stroke="#777" stroke-width="0.5"/>
<line x1="211.8" y1="261.9" x2="213" y2="261" stroke="#777" stroke-width="0.5"/>
<line x1="224.4" y1="270.3" x2="225.6" y2="269.4" stroke="#777" stroke-width="0.5"/>
<line x1="237" y1="278.7" x2="238.2" y2="277.8" stroke="#777" stroke-width="0.5"/>
<line x1="249.5" y1="287.1" x2="250.7" y2="286.2" stroke="#777" stroke-width="0.5"/>
<line x1="262.1" y1="295.5" x2="263.3" y2="294.6" stroke="#777" stroke-width="0.5"/>
<line x1="264.5" y1="295.5" x2="263.3" y2="294.6" stroke="#777" stroke-width="0.5"/>
<line x1="280.9" y1="289.2" x2="279.7" y2="288.3" stroke="#777" stroke-width="0.5"/>
<line x1="297.3" y1="282.9" x2="296.1" y2="282" stroke="#777" stroke-width="0.5"/>
<line x1="313.7" y1="276.6" x2="312.5" y2="275.7" stroke="#777" stroke-width="0.5"/>
<line x1="330.1" y1="270.3" x2="328.9" y2="269.4" stroke="#777" stroke-width="0.5"/>
<clipPath id="c1169"><rect x="0" y="0" width="335" height="509"/></clipPath>
<g transform="scale(.1)" stroke-width="7" stroke-linejoin="round">
<path class="j13" d="M2701 2023l1 21-28 95-1-28z"/>
<path class="j16" d="M2700 1991l1 32-28 88-1-43z"/>
<path class="j21" d="M2699 1970l1 21-28 77-1-28z"/>
<path class="j24" d="M2697 1949l2 21-28 70-2-28z"/>
<path class="j27" d="M2696 1928l1 21-28 63-1-28z"/>
<path class="j30" d="M2695 1907l1 21-28 56-1-28z"/>
<path class="j33" d="M2693 1883l2 24-28 49-2-33z"/>
<path class="j37" d="M2691 1865l2 18-28 40-2-23z"/>
<path class="j40" d="M2689 1844l2 21-28 35-2-28z"/>
<path class="j43" d="M2688 1834l1 10-28 28-1-14z"/>
<path class="j44" d="M2687 1823l1 11-28 24-1-14z"/>
<path class="j46" d="M2685 1813l2 10-28 21-2-14z"/>
<path class="j48" d="M2684 1803l1 10-28 17-1-14z"/>
<path class="j49" d="M2682 1792l2 11-28 13-2-14z"/>
<path class="j51" d="M2680 1782l2 10-28 10-2-13z"/>
<path class="j52" d="M2678 1772l2 10-28 7-2-14z"/>
<path class="j54" d="M2676 1762l2 10-28 3-2-14z"/>
<path class="j55" d="M2673 1752l3 10-28-1-3-13z"/>
<path class="j57" d="M2669 1743l4 9-28-4-4-13z"/>
<path class="j59" d="M2663 1733l6 10-28-8-6-14z"/>
<path class="j60" d="M2655 1726l8 7-28-12-8-10z"/>
<path class="j62" d="M2643 1723l10 2 2 1-28-15-2-1-10-4z"/>
<path class="j63" d="M2329 1845l9-7 10-5 10-4 10-4 10-4 10-4 9-3 10-4 10-4 10-4 10-3 10-4 9-4 10-4 10-4 10-3 10-4 10-4 9-4 10-3 10-4 10-4 10-4 10-4 10-3 9-4 10-4 10-4 10-3 10-4 10-2 9-2-28-17-9 1-10 2-10 3-10 4-10 3-10 4-9 4-10 4-10 4-10 3-10 4-10 4-9 4-10 3-10 4-10 4-10 4-10 4-10 3-9 4-10 4-10 4-10 3-10 4-10 4-9 4-10 4-10 3-10 4-10 5-10 5-9 8z"/>
<path class="j62" d="M2317 1858l2-2 10-11-28-17-10 13-2 3z"/>
<path class="j60" d="M2308 1875l9-17-28-14-9 21z"/>
<path class="j58" d="M2303 1890l5-15-28-10-5 20z"/>
<path class="j55" d="M2299 1907l4-17-28-5-4 22z"/>
<path class="j54" d="M2296 1920l3-13-28 0-3 17z"/>
<path class="j52" d="M2294 1935l2-15-28 4-2 19z"/>
<path class="j50" d="M2292 1949l2-14-28 8-2 19z"/>
<path class="j48" d="M2290 1964l2-15-28 13-2 19z"/>
<path class="j46" d="M2288 1978l2-14-28 17-2 19z"/>
<path class="j44" d="M2287 1992l1-14-28 22-1 18z"/>
<path class="j42" d="M2285 2007l2-15-28 26-2 19z"/>
<path class="j40" d="M2284 2021l1-14-28 30-1 19z"/>
<path class="j36" d="M2282 2049l2-28-28 35-2 37z"/>
<path class="j32" d="M2280 2078l2-29-28 44-2 37z"/>
<path class="j28" d="M2278 2106l2-28-28 52-2 38z"/>
<path class="j24" d="M2277 2134l1-28-28 62-1 37z"/>
<path class="j20" d="M2275 2162l2-28-28 71-2 37z"/>
<path class="j16" d="M2274 2190l1-28-28 80-1 37z"/>
<path class="j12" d="M2273 2218l1-28-28 89-1 37z"/>
<path class="j6" d="M2271 2260l2-42-28 98-2 56z"/>
<path class="j0" d="M2269 2302l2-42-28 112-1 55z"/>
<path class="j25" d="M2729 1952l1 15-28 77-1-21z"/>
<path class="j28" d="M2728 1929l1 23-28 71-1-32z"/>
<path class="j31" d="M2727 1914l1 15-28 62-1-21z"/>
<path class="j34" d="M2725 1899l2 15-28 56-2-21z"/>
<path class="j36" d="M2724 1884l1 15-28 50-1-21z"/>
<path class="j38" d="M2722 1869l2 15-28 44-1-21z"/>
<path class="j41" d="M2721 1851l1 18-27 38-2-24z"/>
<path class="j43" d="M2719 1839l2 12-28 32-2-18z"/>
<path class="j45" d="M2717 1824l2 15-28 26-2-21z"/>
<path class="j48" d="M2716 1816l1 8-28 20-1-10z"/>
<path class="j49" d="M2714 1809l2 7-28 18-1-11z"/>
<path class="j50" d="M2713 1801l1 8-27 14-2-10z"/>
<path class="j51" d="M2712 1794l1 7-28 12-1-10z"/>
<path class="j53" d="M2710 1787l2 7-28 9-2-11z"/>
<path class="j54" d="M2708 1780l2 7-28 5-2-10z"/>
<path class="j55" d="M2706 1773l2 7-28 2-2-10z"/>
<path class="j56" d="M2703 1766l3 7-28-1-2-10z"/>
<path class="j57" d="M2700 1759l3 7-27-4-3-10z"/>
<path class="j59" d="M2697 1752l3 7-27-7-4-9z"/>
<path class="j60" d="M2691 1746l6 6-28-9-6-10z"/>
<path class="j61" d="M2683 1742l8 4-28-13-8-7z"/>
<path class="j62" d="M2671 1741l10 0 2 1-28-16-2-1-10-2z"/>
<path class="j63" d="M2356 1862l10-6 10-4 10-4 10-4 10-4 9-4 10-4 10-3 10-4 10-4 10-4 10-4 9-3 10-4 10-4 10-4 10-3 10-4 9-4 10-4 10-4 10-3 10-4 10-4 9-4 10-3 10-4 10-4 10-4 10-3 9-3 10-2-28-18-9 2-10 2-10 4-10 3-10 4-10 4-9 4-10 3-10 4-10 4-10 4-10 4-10 3-9 4-10 4-10 4-10 3-10 4-10 4-9 4-10 4-10 3-10 4-10 4-10 4-9 3-10 4-10 4-10 4-10 4-10 5-9 7z"/>
<path class="j62" d="M2345 1873l2-2 9-9-27-17-10 11-2 2z"/>
<path class="j61" d="M2336 1886l9-13-28-15-9 17z"/>
<path class="j59" d="M2331 1898l5-12-28-11-5 15z"/>
<path class="j57" d="M2327 1911l4-13-28-8-4 17z"/>
<path class="j56" d="M2324 1920l3-9-28-4-3 13z"/>
<path class="j55" d="M2322 1931l2-11-28 0-2 15z"/>
<path class="j53" d="M2320 1942l2-11-28 4-2 14z"/>
<path class="j52" d="M2318 1953l2-11-28 7-2 15z"/>
<path class="j50" d="M2316 1963l2-10-28 11-2 14z"/>
<path class="j49" d="M2315 1974l1-11-28 15-1 14z"/>
<path class="j47" d="M2313 1984l2-10-28 18-2 15z"/>
<path class="j46" d="M2312 1995l1-11-28 23-1 14z"/>
<path class="j43" d="M2310 2015l2-20-28 26-2 28z"/>
<path class="j40" d="M2308 2036l2-21-28 34-2 29z"/>
<path class="j36" d="M2306 2057l2-21-28 42-2 28z"/>
<path class="j33" d="M2305 2077l1-20-28 49-1 28z"/>
<path class="j30" d="M2303 2098l2-21-28 57-2 28z"/>
<path class="j27" d="M2302 2119l1-21-28 64-1 28z"/>
<path class="j24" d="M2301 2139l1-20-28 71-1 28z"/>
<path class="j20" d="M2299 2170l2-31-28 79-2 42z"/>
<path class="j15" d="M2297 2201l2-31-28 90-2 42z"/>
<path class="j36" d="M2757 1898l1 10-28 59-1-15z"/>
<path class="j38" d="M2756 1882l1 16-28 54-1-23z"/>
<path class="j40" d="M2755 1872l1 10-28 47-1-15z"/>
<path class="j42" d="M2753 1861l2 11-28 42-2-15z"/>
<path class="j44" d="M2752 1851l1 10-28 38-1-15z"/>
<path class="j45" d="M2750 1841l2 10-28 33-2-15z"/>
<path class="j47" d="M2748 1829l2 12-28 28-1-18z"/>
<path class="j49" d="M2747 1820l1 9-27 22-2-12z"/>
<path class="j50" d="M2745 1810l2 10-28 19-2-15z"/>
<path class="j52" d="M2744 1805l1 5-28 14-1-8z"/>
<path class="j53" d="M2742 1800l2 5-28 11-2-7z"/>
<path class="j54" d="M2741 1795l1 5-28 9-1-8z"/>
<path class="j55" d="M2740 1791l1 4-28 6-1-7z"/>
<path class="j56" d="M2736 1781l2 5 2 5-28 3-2-7-2-7z"/>
<path class="j57" d="M2734 1776l2 5-28-1-2-7z"/>
<path class="j58" d="M2731 1772l3 4-28-3-3-7z"/>
<path class="j59" d="M2728 1767l3 5-28-6-3-7z"/>
<path class="j60" d="M2725 1763l3 4-28-8-3-7z"/>
<path class="j61" d="M2719 1760l6 3-28-11-6-6z"/>
<path class="j62" d="M2711 1758l8 2-28-14-8-4z"/>
<path class="j63" d="M2375 1887l9-7 10-5 10-5 10-4 10-4 10-3 9-4 10-4 10-4 10-4 10-3 10-4 9-4 10-4 10-3 10-4 10-4 10-4 10-4 9-3 10-4 10-4 10-4 10-3 10-4 9-4 10-4 10-4 10-3 10-4 10-4 9-3 10-2 10-1 2 0-28-16-2-1-10 0-10 2-9 3-10 3-10 4-10 4-10 4-10 3-9 4-10 4-10 4-10 3-10 4-10 4-9 4-10 4-10 3-10 4-10 4-10 4-9 3-10 4-10 4-10 4-10 4-10 3-10 4-9 4-10 4-10 4-10 4-10 4-10 6-9 9z"/>
<path class="j62" d="M2373 1889l2-2-28-16-2 2z"/>
<path class="j61" d="M2364 1899l9-10-28-16-9 13z"/>
<path class="j60" d="M2359 1908l5-9-28-13-5 12z"/>
<path class="j59" d="M2355 1917l4-9-28-10-4 13z"/>
<path class="j58" d="M2352 1924l3-7-28-6-3 9z"/>
<path class="j57" d="M2350 1932l2-8-28-4-2 11z"/>
<path class="j56" d="M2348 1939l2-7-28-1-2 11z"/>
<path class="j55" d="M2346 1947l2-8-28 3-2 11z"/>
<path class="j54" d="M2344 1954l2-7-28 6-2 10z"/>
<path class="j53" d="M2343 1962l1-8-28 9-1 11z"/>
<path class="j52" d="M2341 1969l2-7-28 12-2 10z"/>
<path class="j50" d="M2340 1977l1-8-28 15-1 11z"/>
<path class="j48" d="M2338 1991l2-14-28 18-2 20z"/>
<path class="j46" d="M2336 2006l2-15-28 24-2 21z"/>
<path class="j44" d="M2334 2020l2-14-28 30-2 21z"/>
<path class="j42" d="M2333 2035l1-15-28 37-1 20z"/>
<path class="j39" d="M2331 2049l2-14-28 42-2 21z"/>
<path class="j37" d="M2330 2063l1-14-28 49-1 21z"/>
<path class="j35" d="M2329 2078l1-15-28 56-1 20z"/>
<path class="j32" d="M2327 2099l2-21-28 61-2 31z"/>
<path class="j28" d="M2325 2121l2-22-28 71-2 31z"/>
<path class="j44" d="M2785 1858l1 7-28 43-1-10z"/>
<path class="j46" d="M2784 1849l1 9-28 40-1-16z"/>
<path class="j47" d="M2782 1842l2 7-28 33-1-10z"/>
<path class="j49" d="M2781 1836l1 6-27 30-2-11z"/>
<path class="j50" d="M2780 1829l1 7-28 25-1-10z"/>
<path class="j51" d="M2778 1823l2 6-28 22-2-10z"/>
<path class="j52" d="M2776 1815l2 8-28 18-2-12z"/>
<path class="j53" d="M2775 1810l1 5-28 14-1-9z"/>
<path class="j54" d="M2773 1804l2 6-28 10-2-10z"/>
<path class="j56" d="M2770 1798l2 3 1 3-28 6-1-5-2-5z"/>
<path class="j57" d="M2768 1792l1 3 1 3-28 2-1-5-1-4z"/>
<path class="j58" d="M2766 1789l2 3-28-1-2-5z"/>
<path class="j59" d="M2762 1783l2 3 2 3-28-3-2-5-2-5z"/>
<path class="j60" d="M2756 1778l3 3 3 2-28-7-3-4-3-5z"/>
<path class="j61" d="M2753 1776l3 2-28-11-3-4z"/>
<path class="j62" d="M2739 1774l8 1 6 1-28-13-6-3-8-2z"/>
<path class="j63" d="M2401 1905l1-1 10-6 10-5 10-4 10-4 10-4 10-4 9-4 10-3 10-4 10-4 10-4 10-3 9-4 10-4 10-4 10-4 10-3 10-4 9-4 10-4 10-3 10-4 10-4 10-4 9-4 10-3 10-4 10-4 10-4 10-3 10-4 9-3 10-3 10-2 2-1-28-16-2 0-10 1-10 2-9 3-10 4-10 4-10 3-10 4-10 4-9 4-10 4-10 3-10 4-10 4-10 4-9 3-10 4-10 4-10 4-10 4-10 3-10 4-9 4-10 4-10 3-10 4-10 4-10 4-9 4-10 3-10 4-10 4-10 5-10 5-9 7-2 2z"/>
<path class="j62" d="M2392 1913l9-8-28-16-9 10z"/>
<path class="j61" d="M2387 1919l5-6-28-14-5 9z"/>
<path class="j60" d="M2380 1930l3-5 4-6-28-11-4 9-3 7z"/>
<path class="j59" d="M2378 1936l2-6-28-6-2 8z"/>
<path class="j58" d="M2374 1946l2-5 2-5-28-4-2 7-2 8z"/>
<path class="j57" d="M2372 1951l2-5-28 1-2 7z"/>
<path class="j56" d="M2371 1956l1-5-28 3-1 8z"/>
<path class="j55" d="M2369 1961l2-5-28 6-2 7z"/>
<path class="j54" d="M2368 1966l1-5-28 8-1 8z"/>
<path class="j53" d="M2366 1976l2-10-28 11-2 14z"/>
<path class="j51" d="M2364 1986l2-10-28 15-2 15z"/>
<path class="j50" d="M2362 1995l2-9-28 20-2 14z"/>
<path class="j48" d="M2360 2005l2-10-28 25-1 15z"/>
<path class="j47" d="M2359 2014l1-9-27 30-2 14z"/>
<path class="j45" d="M2358 2024l1-10-28 35-1 14z"/>
<path class="j44" d="M2356 2033l2-9-28 39-1 15z"/>
<path class="j42" d="M2355 2047l1-14-27 45-2 21z"/>
<path class="j39" d="M2353 2061l2-14-28 52-2 22z"/>
<path class="j51" d="M2813 1833l1 4-28 28-1-7z"/>
<path class="j52" d="M2812 1828l1 5-28 25-1-9z"/>
<path class="j53" d="M2810 1824l2 4-28 21-2-7z"/>
<path class="j54" d="M2809 1821l1 3-28 18-1-6z"/>
<path class="j55" d="M2806 1813l2 4 1 4-28 15-1-7-2-6z"/>
<path class="j56" d="M2804 1809l2 4-28 10-2-8z"/>
<path class="j57" d="M2803 1807l1 2-28 6-1-5z"/>
<path class="j58" d="M2800 1802l1 1 2 4-28 3-2-6-1-3z"/>
<path class="j59" d="M2797 1799l1 1 2 2-28-1-2-3-1-3z"/>
<path class="j60" d="M2792 1794l2 2 1 1 2 2-28-4-1-3-2-3-2-3z"/>
<path class="j61" d="M2787 1792l3 1 2 1-28-8-2-3-3-2z"/>
<path class="j62" d="M2775 1790l6 0 3 1 3 1-28-11-3-3-3-2-6-1z"/>
<path class="j63" d="M2420 1928l9-6 1-1 10-5 10-5 10-4 10-3 10-4 9-4 10-4 10-4 10-3 10-4 10-4 10-4 9-4 10-3 10-4 10-4 10-4 10-3 9-4 10-4 10-4 10-4 10-3 10-4 9-4 10-4 10-3 10-4 10-4 10-4 9-3 10-4 10-3 10-3 2 0 8-2-28-15-8-1-2 1-10 2-10 3-9 3-10 4-10 3-10 4-10 4-10 4-10 3-9 4-10 4-10 4-10 4-10 3-10 4-9 4-10 4-10 3-10 4-10 4-10 4-9 4-10 3-10 4-10 4-10 4-10 3-9 4-10 4-10 4-10 4-10 4-10 5-10 6-1 1-9 8z"/>
<path class="j62" d="M2411 1937l4-5 5-4-28-15-5 6-4 6z"/>
<path class="j61" d="M2406 1944l2-4 3-3-28-12-3 5-2 6z"/>
<path class="j60" d="M2402 1950l2-3 2-3-28-8-2 5-2 5z"/>
<path class="j59" d="M2399 1957l1-3 2-4-28-4-2 5-1 5z"/>
<path class="j58" d="M2396 1963l1-3 2-3-28-1-2 5-1 5z"/>
<path class="j57" d="M2394 1969l2-6-28 3-2 10z"/>
<path class="j56" d="M2392 1975l2-6-28 7-2 10z"/>
<path class="j55" d="M2390 1981l2-6-28 11-2 9z"/>
<path class="j54" d="M2388 1987l2-6-28 14-2 10z"/>
<path class="j53" d="M2387 1992l1-5-28 18-1 9z"/>
<path class="j52" d="M2386 1998l1-6-28 22-1 10z"/>
<path class="j51" d="M2384 2004l2-6-28 26-2 9z"/>
<path class="j49" d="M2383 2012l1-8-28 29-1 14z"/>
<path class="j48" d="M2381 2021l2-9-28 35-2 14z"/>
<path class="j56" d="M2841 1821l1 2-28 14-1-4z"/>
<path class="j57" d="M2838 1817l2 2 1 2-28 12-1-5-2-4z"/>
<path class="j58" d="M2836 1814l1 2 1 1-28 7-1-3-1-4z"/>
<path class="j59" d="M2832 1811l2 2 2 1-28 3-2-4-2-4z"/>
<path class="j60" d="M2829 1809l2 1 1 1-28-2-1-2-2-4z"/>
<path class="j61" d="M2822 1806l1 0 2 1 1 0 1 1 2 1-28-6-1-1-2-2-1-1-2-2-1-1z"/>
<path class="j62" d="M2812 1806l3-1 3 0 2 1 2 0-28-10-2-2-2-1-3-1-3-1z"/>
<path class="j63" d="M2443 1947l5-3 9-5 1-1 10-4 10-4 10-4 10-4 10-4 9-3 10-4 10-4 10-4 10-4 10-3 9-4 10-4 10-4 10-3 10-4 10-4 10-4 9-4 10-3 10-4 10-4 10-4 10-3 9-4 10-4 10-4 10-4 10-3 10-4 9-4 10-4 10-3 10-3 2-1 8-2 5-1 4 0-28-15-3-1-6 0-8 2-2 0-10 3-10 3-10 4-9 3-10 4-10 4-10 4-10 3-10 4-9 4-10 4-10 3-10 4-10 4-10 4-9 4-10 3-10 4-10 4-10 4-10 3-9 4-10 4-10 4-10 4-10 3-10 4-10 4-9 4-10 4-10 3-10 4-10 5-10 5-1 1-9 6-5 4z"/>
<path class="j62" d="M2431 1957l3-2 2-3 3-2 4-3-28-15-4 5-3 3-2 4-2 3z"/>
<path class="j61" d="M2426 1962l2-1 2-2 1-2-27-10-2 3-2 4-1 3z"/>
<path class="j60" d="M2422 1970l2-4 1-2 1-2-27-5-2 3-1 3-2 6z"/>
<path class="j59" d="M2420 1973l2-3-28-1-2 6z"/>
<path class="j58" d="M2416 1979l2-3 2-3-28 2-2 6-2 6z"/>
<path class="j57" d="M2414 1986l1-3 1-4-28 8-1 5-1 6z"/>
<path class="j56" d="M2412 1989l2-3-28 12-2 6z"/>
<path class="j55" d="M2411 1993l1-4-28 15-1 8z"/>
<path class="j54" d="M2409 1998l2-5-28 19-2 9z"/>
<path class="j60" d="M2866 1820l1 0 2 1 1 0-28 2-1-2-1-2-2-2z"/>
<path class="j61" d="M2860 1819l2 0 2 0 1 0 1 1-28-3-1-1-1-2-2-1-2-2z"/>
<path class="j62" d="M2850 1820l1-1 2 0 1 0 1 0 2 0 2 0 1 0-28-8-1-1-2-1-2-1-1-1-1 0-2-1-1 0z"/>
<path class="j63" d="M2459 1970l3-2 2-1 3-2 4-2 5-2 9-4 1-1 10-4 10-4 10-3 10-4 10-4 9-4 10-4 10-3 10-4 10-4 10-4 9-3 10-4 10-4 10-4 10-4 10-3 9-4 10-4 10-4 10-3 10-4 10-4 9-4 10-4 10-3 10-4 10-4 10-4 10-3 9-4 10-4 10-4 10-3 2-1 8-3 5-1 4-1 3-1 3-1 2 0 2 0-28-14-2 0-2-1-3 0-3 1-4 0-5 1-8 2-2 1-10 3-10 3-10 4-9 4-10 4-10 3-10 4-10 4-10 4-9 4-10 3-10 4-10 4-10 4-10 3-9 4-10 4-10 4-10 4-10 3-10 4-10 4-9 4-10 3-10 4-10 4-10 4-10 4-9 3-10 4-10 4-10 4-10 4-10 4-1 1-9 5-5 3-4 3-3 2-2 3-3 2z"/>
<path class="j62" d="M2450 1977l2-2 1-1 1-1 2-1 2-1 1-1-28-13-1 2-2 2-2 1-1 2-1 2-2 4z"/>
<path class="j61" d="M2444 1982l2-2 2-1 2-2-28-7-2 3-2 3-2 3z"/>
<path class="j60" d="M2440 1986l2-1 1-2 1-1-28-3-1 4-1 3-2 3z"/>
<path class="j59" d="M2437 1991l2-2 1-3-28 3-1 4-2 5z"/>
<path class="j62" d="M2893 1831l1-1 1 0 2 0 1 0-28-9-1 0-2-1-1 0-1-1z"/>
<path class="j63" d="M2474 1992l2-1 1-1 3-1 1-1 1 0 2-1 1-1 2 0 2-1 3-1 3-1 4-2 5-2 9-4 1 0 10-4 10-4 10-4 10-4 9-3 10-4 10-4 10-4 10-3 10-4 10-4 9-4 10-4 10-3 10-4 10-4 10-4 9-3 10-4 10-4 10-4 10-4 10-3 9-4 10-4 10-4 10-3 10-4 10-4 9-4 10-4 10-3 10-4 10-4 2-1 8-3 5-2 4-1 3-1 3-1 2-1 2 0 1-1 2 0 1-1 1 0 2-1 2 0 1-1 2 0 2-1 1 0-28-12-1 0-2 0-2 0-1 0-2 0-2 0-1 0-1 0-2 0-1 1-2 0-2 0-3 1-3 1-4 1-5 1-8 3-2 1-10 3-10 4-10 4-9 4-10 3-10 4-10 4-10 4-10 3-10 4-9 4-10 4-10 4-10 3-10 4-10 4-9 4-10 3-10 4-10 4-10 4-10 4-9 3-10 4-10 4-10 4-10 3-10 4-9 4-10 4-10 4-10 3-10 4-10 4-1 1-9 4-5 2-4 2-3 2-2 1-3 2-1 1-2 1-2 1-1 1-1 1-2 2-2 2-2 1z"/>
<path class="j62" d="M2465 1996l2 0 1-1 1-1 2-1 1 0 2-1-28-12-2 2-1 1-1 2-2 1-1 3-2 2z"/>
<path class="j63" d="M2493 2012l2 0 1-1 1-1 2 0 1-1 2 0 1-1 2-1 3 0 1-1 1 0 2-1 1-1 2 0 2-1 3-1 3-1 4-2 5-2 8-3 2-1 10-4 10-3 10-4 10-4 9-4 10-3 10-4 10-4 10-4 10-4 9-3 10-4 10-4 10-4 10-3 10-4 10-4 9-4 10-4 10-3 10-4 10-4 10-4 9-3 10-4 10-4 10-4 10-4 10-3 9-4 10-4 10-4 10-3 10-4 2-1 8-3 5-2 4-2 3-1 3-1 2-1 2 0 1-1 2-1 1 0 1-1 1 0 3-1 1 0 2-1 2-1 1 0 1-1 1 0 2-1 1 0-28-16-1 0-2 0-1 0-1 1-1 0-2 1-2 0-1 1-2 0-2 1-1 0-1 1-2 0-1 1-2 0-2 1-3 1-3 1-4 1-5 2-8 3-2 1-10 4-10 4-10 3-10 4-9 4-10 4-10 4-10 3-10 4-10 4-9 4-10 3-10 4-10 4-10 4-10 4-9 3-10 4-10 4-10 4-10 3-10 4-9 4-10 4-10 4-10 3-10 4-10 4-10 4-9 3-10 4-10 4-10 4-10 4-1 0-9 4-5 2-4 2-3 1-3 1-2 1-2 0-1 1-2 1-1 0-1 1-3 1-1 1-2 1-2 1-1 0-2 1-1 1-1 1-2 0z"/>
<path class="j63" d="M2521 2034l1-1 2-1 1-1 2 0 1-1 2-1 1-1 2-1 3-1 1 0 1-1 2-1 1 0 2-1 2-1 3-1 2-1 5-2 5-2 8-3 2-1 10-4 10-4 10-3 10-4 9-4 10-4 10-4 10-3 10-4 10-4 9-4 10-3 10-4 10-4 10-4 10-4 9-3 10-4 10-4 10-4 10-3 10-4 9-4 10-4 10-4 10-3 10-4 10-4 10-4 9-3 10-4 10-4 10-4 10-4 1 0 9-3 5-2 4-2 3-1 3-1 2 0 2-1 1-1 2 0 1-1 1 0 1 0 3-1 1 0 2-1 2 0 1-1 1 0 1 0 2-1 1 0-28-21-1 0-2 1-1 0-1 1-1 0-2 1-2 1-1 0-3 1-1 0-1 1-1 0-2 1-1 1-2 0-2 1-3 1-3 1-4 2-5 2-8 3-2 1-10 4-10 3-10 4-10 4-9 4-10 3-10 4-10 4-10 4-10 4-9 3-10 4-10 4-10 4-10 3-10 4-9 4-10 4-10 4-10 3-10 4-10 4-10 4-9 3-10 4-10 4-10 4-10 4-10 3-9 4-10 4-10 4-10 3-10 4-2 1-8 3-5 2-4 2-3 1-3 1-2 1-2 0-1 1-2 1-1 0-1 1-3 0-2 1-1 1-2 0-1 1-2 0-1 1-1 1-2 0z"/>
<path class="j62" d="M2977 1894l1 0 1 1 2 0 1 1-28-29-1 0-2 1-1 0-1 0z"/>
<path class="j63" d="M2558 2055l1-2 2-1 3-2 1-1 1-1 2-1 1-1 2-2 2-1 3-1 2-2 5-2 5-2 8-4 2-1 10-4 10-4 10-4 9-4 10-3 10-4 10-4 10-4 10-3 10-4 9-4 10-4 10-4 10-3 10-4 10-4 9-4 10-3 10-4 10-4 10-4 10-4 9-3 10-4 10-4 10-4 10-3 10-4 9-4 10-4 10-4 10-3 10-4 10-4 1 0 9-3 5-2 4-1 3-1 2 0 3-1 1 0 2 0 2 0 1 0 1 0 1-1 2 0 2 0 2 1 1 0 2 0-28-26-1 1-2 0-2 1-1 0-3 1-1 0-1 0-1 1-2 0-1 1-2 1-2 0-3 1-3 1-4 2-5 2-9 3-1 0-10 4-10 4-10 4-10 4-9 3-10 4-10 4-10 4-10 3-10 4-10 4-9 4-10 4-10 3-10 4-10 4-10 4-9 3-10 4-10 4-10 4-10 4-10 3-9 4-10 4-10 4-10 3-10 4-10 4-9 4-10 4-10 3-10 4-10 4-2 1-8 3-5 2-5 2-2 1-3 1-2 1-2 1-1 0-2 1-1 1-1 0-3 1-2 1-1 1z"/>
<path class="j62" d="M2549 2065l1-2 2-2 1-1 2-2 1-1 2-2-28-26-2 1-1 1-2 0-1 1-2 1-1 1z"/>
<path class="j60" d="M3006 1929l1 2 2 2 1 2-28-39-1-1-2 0-1-1z"/>
<path class="j61" d="M3000 1923l2 2 1 1 2 2 1 1-28-35-1 0-2 0-1 0-2-1z"/>
<path class="j62" d="M2989 1918l2 0 2 1 1 0 1 1 1 1 2 1 2 1-28-30-2 0-2 0-1 1-1 0-1 0-2 0-2 0z"/>
<path class="j63" d="M2599 2069l2-2 3-3 2-2 5-3 5-3 8-5 2-1 10-4 10-4 10-4 9-4 10-4 10-3 10-4 10-4 10-4 9-4 10-3 10-4 10-4 10-4 10-3 9-4 10-4 10-4 10-4 10-3 10-4 10-4 9-4 10-3 10-4 10-4 10-4 10-4 9-3 10-4 10-4 10-4 10-3 10-3 1-1 8-2 6-1 4 0 3-1 2 0 3 1 1 0-28-24-1 0-3 1-2 0-3 1-4 1-5 2-9 3-1 0-10 4-10 4-10 3-10 4-10 4-9 4-10 4-10 3-10 4-10 4-10 4-9 3-10 4-10 4-10 4-10 4-10 3-9 4-10 4-10 4-10 3-10 4-10 4-9 4-10 4-10 3-10 4-10 4-10 4-10 3-9 4-10 4-10 4-10 4-2 1-8 4-5 2-5 2-2 2-3 1-2 1z"/>
<path class="j62" d="M2589 2082l3-4 1-2 1-2 2-1 1-2 2-2-28-25-2 2-1 1-2 1-1 1-1 1-3 2z"/>
<path class="j61" d="M2584 2091l2-3 1-3 2-3-28-30-2 1-1 2-2 2z"/>
<path class="j60" d="M2580 2101l1-3 2-3 1-4-28-34-1 1-2 2-1 1z"/>
<path class="j59" d="M2577 2110l1-5 2-4-28-40-2 2-1 2z"/>
<path class="j56" d="M3037 1983l1 3-28-51-1-2z"/>
<path class="j57" d="M3034 1974l1 3 2 6-28-50-2-2-1-2z"/>
<path class="j58" d="M3031 1966l2 4 1 4-28-45-1-1-2-2z"/>
<path class="j59" d="M3028 1959l2 4 1 3-28-40-1-1-2-2z"/>
<path class="j60" d="M3024 1953l2 3 2 3-28-36-2-1-2-1z"/>
<path class="j61" d="M3017 1945l2 1 1 2 2 1 1 2 1 2-28-32-1-1-1-1-1 0-2-1-2 0z"/>
<path class="j62" d="M3008 1940l3 1 2 1 2 2 2 1-28-27-1 0-3-1-2 0-3 1z"/>
<path class="j63" d="M2638 2082l6-5 8-6 2-1 10-5 10-4 10-4 9-4 10-4 10-4 10-4 10-3 10-4 9-4 10-4 10-3 10-4 10-4 10-4 9-4 10-3 10-4 10-4 10-4 10-3 9-4 10-4 10-4 10-4 10-3 10-4 10-4 9-4 10-3 10-4 10-4 10-3 10-3 1 0 8-1 6 0 4 0-28-22-4 0-6 1-8 2-1 1-10 3-10 3-10 4-10 4-10 4-9 3-10 4-10 4-10 4-10 4-10 3-9 4-10 4-10 4-10 3-10 4-10 4-10 4-9 4-10 3-10 4-10 4-10 4-10 3-9 4-10 4-10 4-10 4-10 3-10 4-9 4-10 4-10 4-10 4-2 1-8 5-5 3z"/>
<path class="j62" d="M2627 2096l2-3 3-4 2-3 4-4-27-23-5 3-2 2-3 3-2 2z"/>
<path class="j61" d="M2622 2106l2-3 1-3 2-4-28-27-2 2-1 2-2 1z"/>
<path class="j60" d="M2617 2118l2-6 2-3 1-3-28-32-1 2-1 2-3 4z"/>
<path class="j59" d="M2615 2124l2-6-28-36-2 3z"/>
<path class="j58" d="M2612 2136l2-6 1-6-28-39-1 3-2 3z"/>
<path class="j57" d="M2609 2147l2-5 1-6-28-45-1 4-2 3z"/>
<path class="j56" d="M2608 2153l1-6-28-49-1 3z"/>
<path class="j55" d="M2606 2162l2-9-28-52-2 4z"/>
<path class="j54" d="M2605 2170l1-8-28-57-1 5z"/>
<path class="j51" d="M3065 2045l1 7-28-66-1-3z"/>
<path class="j52" d="M3063 2035l2 10-28-62-2-6z"/>
<path class="j53" d="M3062 2029l1 6-28-58-1-3z"/>
<path class="j54" d="M3061 2022l1 7-28-55-1-4z"/>
<path class="j55" d="M3058 2009l1 7 2 6-28-52-2-4-1-3z"/>
<path class="j56" d="M3056 2002l2 7-28-46-2-4z"/>
<path class="j57" d="M3054 1997l2 5-28-43-2-3z"/>
<path class="j58" d="M3051 1987l1 3 2 7-28-41-2-3-1-2z"/>
<path class="j59" d="M3048 1981l2 3 1 3-28-36-1-2-2-1z"/>
<path class="j60" d="M3043 1973l2 2 2 3 1 3-28-33-1-2-2-1-2-1z"/>
<path class="j61" d="M3039 1967l2 3 2 3-28-29-2-2-2-1z"/>
<path class="j62" d="M3026 1961l6 2 4 2 3 2-28-26-3-1-4 0-6 0z"/>
<path class="j63" d="M2672 2099l8-7 2-2 10-6 10-4 9-5 10-3 10-4 10-4 10-4 10-4 10-3 9-4 10-4 10-4 10-4 10-3 10-4 9-4 10-4 10-3 10-4 10-4 10-4 9-4 10-3 10-4 10-4 10-4 10-3 9-4 10-4 10-4 10-3 10-4 10-3 10-2 1 0 8 0-28-21-8 1-1 0-10 3-10 3-10 4-10 4-10 3-9 4-10 4-10 4-10 3-10 4-10 4-10 4-9 4-10 3-10 4-10 4-10 4-10 3-9 4-10 4-10 4-10 4-10 3-10 4-9 4-10 4-10 3-10 4-10 4-10 4-9 4-10 4-10 4-10 5-2 1-8 6z"/>
<path class="j62" d="M2662 2112l4-6 6-7-28-22-6 5-4 4z"/>
<path class="j61" d="M2657 2122l3-5 2-5-28-26-2 3-3 4z"/>
<path class="j60" d="M2653 2133l2-5 2-6-28-29-2 3-2 4z"/>
<path class="j59" d="M2650 2143l1-5 2-5-28-33-1 3-2 3z"/>
<path class="j58" d="M2647 2153l2-5 1-5-28-37-1 3-2 3z"/>
<path class="j57" d="M2645 2163l2-10-28-41-2 6z"/>
<path class="j56" d="M2643 2172l2-9-28-45-2 6z"/>
<path class="j55" d="M2641 2182l2-10-28-48-1 6z"/>
<path class="j54" d="M2640 2191l1-9-27-52-2 6z"/>
<path class="j53" d="M2638 2201l2-10-28-55-1 6z"/>
<path class="j52" d="M2637 2210l1-9-27-59-2 5z"/>
<path class="j51" d="M2636 2220l1-10-28-63-1 6z"/>
<path class="j49" d="M2634 2234l2-14-28-67-2 9z"/>
<path class="j48" d="M2633 2248l1-14-28-72-1 8z"/>
<path class="j44" d="M3093 2122l1 10-28-80-1-7z"/>
<path class="j46" d="M3091 2106l2 16-28-77-2-10z"/>
<path class="j47" d="M3090 2096l1 10-28-71-1-6z"/>
<path class="j49" d="M3089 2085l1 11-28-67-1-7z"/>
<path class="j50" d="M3087 2075l2 10-28-63-2-6z"/>
<path class="j51" d="M3086 2065l1 10-28-59-1-7z"/>
<path class="j52" d="M3084 2053l2 12-28-56-2-7z"/>
<path class="j53" d="M3082 2044l2 9-28-51-2-5z"/>
<path class="j54" d="M3080 2034l2 10-28-47-2-7z"/>
<path class="j56" d="M3078 2024l1 5 1 5-28-44-1-3-1-3z"/>
<path class="j57" d="M3075 2015l1 4 2 5-28-40-2-3-1-3z"/>
<path class="j58" d="M3073 2010l2 5-28-37-2-3z"/>
<path class="j59" d="M3069 2000l2 5 2 5-28-35-2-2-2-3z"/>
<path class="j60" d="M3064 1991l3 5 2 4-28-30-2-3-3-2z"/>
<path class="j61" d="M3060 1987l4 4-28-26-4-2z"/>
<path class="j62" d="M3046 1982l8 2 6 3-28-24-6-2-8 0z"/>
<path class="j63" d="M2708 2113l2-2 10-7 10-5 9-5 10-4 10-4 10-3 10-4 10-4 9-4 10-4 10-3 10-4 10-4 10-4 9-3 10-4 10-4 10-4 10-4 10-3 10-4 9-4 10-4 10-3 10-4 10-4 10-4 9-4 10-3 10-4 10-4 10-3 10-2 9-1 2 0-28-21-1 0-10 2-10 3-10 4-10 3-10 4-10 4-9 4-10 3-10 4-10 4-10 4-10 3-9 4-10 4-10 4-10 4-10 3-10 4-9 4-10 4-10 3-10 4-10 4-10 4-9 4-10 3-10 4-10 4-10 4-10 4-10 3-9 5-10 4-10 6-2 2z"/>
<path class="j62" d="M2700 2123l8-10-28-21-8 7z"/>
<path class="j61" d="M2694 2132l6-9-28-24-6 7z"/>
<path class="j60" d="M2688 2148l2-7 4-9-28-26-4 6-2 5z"/>
<path class="j59" d="M2685 2156l3-8-28-31-3 5z"/>
<path class="j58" d="M2681 2171l2-8 2-7-28-34-2 6-2 5z"/>
<path class="j57" d="M2679 2178l2-7-28-38-2 5z"/>
<path class="j56" d="M2678 2186l1-8-28-40-1 5z"/>
<path class="j55" d="M2677 2193l1-7-28-43-1 5z"/>
<path class="j54" d="M2675 2201l2-8-28-45-2 5z"/>
<path class="j53" d="M2673 2215l2-14-28-48-2 10z"/>
<path class="j51" d="M2671 2230l2-15-28-52-2 9z"/>
<path class="j50" d="M2669 2244l2-14-28-58-2 10z"/>
<path class="j48" d="M2668 2259l1-15-28-62-1 9z"/>
<path class="j47" d="M2666 2273l2-14-28-68-2 10z"/>
<path class="j45" d="M2665 2287l1-14-28-72-1 9z"/>
<path class="j44" d="M2664 2302l1-15-28-77-1 10z"/>
<path class="j42" d="M2662 2323l2-21-28-82-2 14z"/>
<path class="j39" d="M2661 2345l1-22-28-89-1 14z"/>
<path class="j36" d="M3121 2213l1 16-28-97-1-10z"/>
<path class="j38" d="M3119 2191l2 22-28-91-2-16z"/>
<path class="j40" d="M3118 2175l1 16-28-85-1-10z"/>
<path class="j42" d="M3117 2160l1 15-28-79-1-11z"/>
<path class="j44" d="M3115 2145l2 15-28-75-2-10z"/>
<path class="j45" d="M3114 2130l1 15-28-70-1-10z"/>
<path class="j47" d="M3112 2113l2 17-28-65-2-12z"/>
<path class="j49" d="M3110 2100l2 13-28-60-2-9z"/>
<path class="j50" d="M3108 2085l2 15-28-56-2-10z"/>
<path class="j52" d="M3107 2078l1 7-28-51-1-5z"/>
<path class="j53" d="M3106 2070l1 8-28-49-1-5z"/>
<path class="j54" d="M3104 2063l2 7-28-46-2-5z"/>
<path class="j55" d="M3103 2055l1 8-28-44-1-4z"/>
<path class="j56" d="M3099 2041l2 7 2 7-28-40-2-5-2-5z"/>
<path class="j57" d="M3097 2034l2 7-28-36-2-5z"/>
<path class="j58" d="M3095 2027l2 7-28-34-2-4z"/>
<path class="j59" d="M3092 2020l3 7-28-31-3-5z"/>
<path class="j60" d="M3088 2014l4 6-28-29-4-4z"/>
<path class="j61" d="M3082 2007l6 7-28-27-6-3z"/>
<path class="j62" d="M3074 2003l8 4-28-23-8-2z"/>
<path class="j63" d="M2738 2132l10-8 10-6 9-5 10-4 10-4 10-4 10-4 10-3 9-4 10-4 10-4 10-3 10-4 10-4 9-4 10-4 10-3 10-4 10-4 10-4 9-3 10-4 10-4 10-4 10-4 10-3 10-4 9-4 10-4 10-3 10-4 10-3 10-2 9 0 2 1-28-21-2 0-9 1-10 2-10 3-10 4-10 4-10 3-9 4-10 4-10 4-10 4-10 3-10 4-9 4-10 4-10 3-10 4-10 4-10 4-10 4-9 3-10 4-10 4-10 4-10 3-10 4-9 4-10 4-10 4-10 3-10 4-10 4-9 5-10 5-10 7z"/>
<path class="j62" d="M2736 2134l2-2-28-21-2 2z"/>
<path class="j61" d="M2728 2147l8-13-28-21-8 10z"/>
<path class="j60" d="M2722 2159l6-12-28-24-6 9z"/>
<path class="j59" d="M2718 2172l4-13-28-27-4 9z"/>
<path class="j58" d="M2716 2182l2-10-28-31-2 7z"/>
<path class="j57" d="M2713 2193l3-11-28-34-3 8z"/>
<path class="j56" d="M2711 2203l2-10-28-37-2 7z"/>
<path class="j55" d="M2709 2214l2-11-28-40-2 8z"/>
<path class="j54" d="M2707 2225l2-11-28-43-2 7z"/>
<path class="j53" d="M2706 2235l1-10-28-47-1 8z"/>
<path class="j52" d="M2705 2246l1-11-28-49-1 7z"/>
<path class="j50" d="M2703 2256l2-10-28-53-2 8z"/>
<path class="j48" d="M2701 2277l2-21-28-55-2 14z"/>
<path class="j46" d="M2699 2298l2-21-28-62-2 15z"/>
<path class="j44" d="M2697 2318l2-20-28-68-2 14z"/>
<path class="j42" d="M2696 2339l1-21-28-74-1 15z"/>
<path class="j39" d="M2694 2359l2-20-28-80-2 14z"/>
<path class="j37" d="M2693 2380l1-21-28-86-1 14z"/>
<path class="j35" d="M2692 2400l1-20-28-93-1 15z"/>
<path class="j32" d="M2690 2431l2-31-28-98-2 21z"/>
<path class="j28" d="M2689 2462l1-31-28-108-1 22z"/>
<path class="j25" d="M3149 2322l1 21-28-114-1-16z"/>
<path class="j28" d="M3147 2290l2 32-28-109-2-22z"/>
<path class="j31" d="M3146 2269l1 21-28-99-1-16z"/>
<path class="j34" d="M3144 2248l2 21-28-94-1-15z"/>
<path class="j36" d="M3143 2227l1 21-27-88-2-15z"/>
<path class="j38" d="M3142 2206l1 21-28-82-1-15z"/>
<path class="j41" d="M3140 2181l2 25-28-76-2-17z"/>
<path class="j43" d="M3138 2164l2 17-28-68-2-13z"/>
<path class="j45" d="M3136 2143l2 21-28-64-2-15z"/>
<path class="j48" d="M3135 2132l1 11-28-58-1-7z"/>
<path class="j49" d="M3134 2122l1 10-28-54-1-8z"/>
<path class="j50" d="M3132 2112l2 10-28-52-2-7z"/>
<path class="j51" d="M3131 2101l1 11-28-49-1-8z"/>
<path class="j53" d="M3129 2091l2 10-28-46-2-7z"/>
<path class="j54" d="M3127 2081l2 10-28-43-2-7z"/>
<path class="j55" d="M3125 2071l2 10-28-40-2-7z"/>
<path class="j56" d="M3123 2061l2 10-28-37-2-7z"/>
<path class="j57" d="M3120 2051l3 10-28-34-3-7z"/>
<path class="j59" d="M3116 2041l4 10-28-31-4-6z"/>
<path class="j60" d="M3110 2032l6 9-28-27-6-7z"/>
<path class="j61" d="M3102 2025l8 7-28-25-8-4z"/>
<path class="j62" d="M3090 2022l10 2 2 1-28-22-2-1-9 0z"/>
<path class="j63" d="M2776 2144l9-7 10-5 10-4 10-4 10-4 10-4 9-4 10-3 10-4 10-4 10-4 10-4 10-3 9-4 10-4 10-4 10-3 10-4 10-4 9-4 10-4 10-3 10-4 10-4 10-4 9-3 10-4 10-4 10-4 10-3 10-3 9-1-27-20-10 2-10 3-10 4-10 3-10 4-9 4-10 4-10 3-10 4-10 4-10 4-10 4-9 3-10 4-10 4-10 4-10 3-10 4-9 4-10 4-10 4-10 3-10 4-10 4-9 4-10 3-10 4-10 4-10 4-10 4-9 5-10 6z"/>
<path class="j62" d="M2764 2157l2-3 10-10-28-20-10 8-2 2z"/>
<path class="j61" d="M2755 2174l9-17-28-23-8 13z"/>
<path class="j59" d="M2750 2189l5-15-27-27-6 12z"/>
<path class="j57" d="M2746 2206l4-17-28-30-4 13z"/>
<path class="j56" d="M2743 2219l3-13-28-34-2 10z"/>
<path class="j55" d="M2741 2234l2-15-27-37-3 11z"/>
<path class="j53" d="M2739 2248l2-14-28-41-2 10z"/>
<path class="j52" d="M2737 2262l2-14-28-45-2 11z"/>
<path class="j50" d="M2735 2277l2-15-28-48-2 11z"/>
<path class="j49" d="M2734 2291l1-14-28-52-1 10z"/>
<path class="j47" d="M2732 2305l2-14-28-56-1 11z"/>
<path class="j46" d="M2731 2320l1-15-27-59-2 10z"/>
<path class="j43" d="M2729 2348l2-28-28-64-2 21z"/>
<path class="j40" d="M2727 2376l2-28-28-71-2 21z"/>
<path class="j36" d="M2725 2404l2-28-28-78-2 20z"/>
<path class="j33" d="M2724 2433l1-29-28-86-1 21z"/>
<path class="j30" d="M2722 2461l2-28-28-94-2 20z"/>
<path class="j27" d="M2721 2489l1-28-28-102-1 21z"/>
<path class="j24" d="M2720 2517l1-28-28-109-1 20z"/>
<path class="j20" d="M2718 2559l2-42-28-117-2 31z"/>
<path class="j15" d="M2717 2601l1-42-28-128-1 31z"/>
<path class="j13" d="M3176 2447l1 28-27-132-1-21z"/>
<path class="j16" d="M3175 2404l1 43-27-125-2-32z"/>
<path class="j21" d="M3174 2376l1 28-28-114-1-21z"/>
<path class="j24" d="M3172 2348l2 28-28-107-2-21z"/>
<path class="j27" d="M3171 2320l1 28-28-100-1-21z"/>
<path class="j30" d="M3170 2292l1 28-28-93-1-21z"/>
<path class="j33" d="M3168 2259l2 33-28-86-2-25z"/>
<path class="j37" d="M3166 2236l2 23-28-78-2-17z"/>
<path class="j40" d="M3164 2208l2 28-28-72-2-21z"/>
<path class="j43" d="M3163 2194l1 14-28-65-1-11z"/>
<path class="j44" d="M3162 2180l1 14-28-62-1-10z"/>
<path class="j46" d="M3160 2166l2 14-28-58-2-10z"/>
<path class="j48" d="M3159 2152l1 14-28-54-1-11z"/>
<path class="j49" d="M3157 2138l2 14-28-51-2-10z"/>
<path class="j51" d="M3155 2125l2 13-28-47-2-10z"/>
<path class="j52" d="M3153 2111l2 14-28-44-2-10z"/>
<path class="j54" d="M3151 2097l2 14-28-40-2-10z"/>
<path class="j55" d="M3148 2084l3 13-28-36-3-10z"/>
<path class="j57" d="M3144 2071l4 13-28-33-4-10z"/>
<path class="j59" d="M3138 2057l6 14-28-30-6-9z"/>
<path class="j60" d="M3130 2047l8 10-28-25-8-7z"/>
<path class="j62" d="M3118 2042l10 4 2 1-28-22-2-1-10-2z"/>
<path class="j63" d="M2804 2164l9-8 10-5 10-5 10-4 10-3 10-4 9-4 10-4 10-4 10-3 10-4 10-4 9-4 10-3 10-4 10-4 10-4 10-4 10-3 9-4 10-4 10-4 10-3 10-4 10-4 9-4 10-4 10-3 10-4 10-3 10-2 9-1-28-20-9 1-10 3-10 3-10 4-10 4-10 4-9 3-10 4-10 4-10 4-10 3-10 4-9 4-10 4-10 4-10 3-10 4-10 4-9 4-10 3-10 4-10 4-10 4-10 4-10 3-9 4-10 4-10 4-10 4-10 4-10 5-9 7z"/>
<path class="j62" d="M2792 2180l2-3 10-13-28-20-10 10-2 3z"/>
<path class="j60" d="M2783 2201l9-21-28-23-9 17z"/>
<path class="j58" d="M2778 2221l5-20-28-27-5 15z"/>
<path class="j55" d="M2774 2243l4-22-28-32-4 17z"/>
<path class="j54" d="M2771 2260l3-17-28-37-3 13z"/>
<path class="j52" d="M2769 2279l2-19-28-41-2 15z"/>
<path class="j50" d="M2767 2298l2-19-28-45-2 14z"/>
<path class="j48" d="M2765 2317l2-19-28-50-2 14z"/>
<path class="j46" d="M2763 2336l2-19-28-55-2 15z"/>
<path class="j44" d="M2762 2354l1-18-28-59-1 14z"/>
<path class="j42" d="M2760 2373l2-19-28-63-2 14z"/>
<path class="j40" d="M2759 2392l1-19-28-68-1 15z"/>
<path class="j36" d="M2757 2429l2-37-28-72-2 28z"/>
<path class="j32" d="M2755 2466l2-37-28-81-2 28z"/>
<path class="j28" d="M2753 2504l2-38-28-90-2 28z"/>
<path class="j24" d="M2752 2541l1-37-28-100-1 29z"/>
<path class="j20" d="M2750 2578l2-37-28-108-2 28z"/>
<path class="j16" d="M2749 2615l1-37-28-117-1 28z"/>
<path class="j12" d="M2748 2652l1-37-28-126-1 28z"/>
<path class="j6" d="M2746 2708l2-56-28-135-2 42z"/>
<path class="j0" d="M2745 2763l1-55-28-149-1 42z"/>
</g>
<g transform="scale(.1)" fill="url(#net)">
<polygon points="2750,2578 2752,2541 2753,2504 2755,2466 2757,2429 2759,2392 2760,2373 2762,2354 2763,2336 2765,2317 2767,2298 2769,2279 2771,2260 2774,2243 2778,2221 2783,2201 2792,2180 2764,2157 2755,2174 2750,2189 2746,2206 2743,2219 2741,2234 2739,2248 2737,2262 2735,2277 2734,2291 2732,2305 2731,2320 2729,2348 2727,2376 2725,2404 2724,2433 2722,2461"/>
<polygon points="3130,2047 3138,2057 3144,2071 3148,2084 3151,2097 3153,2111 3155,2125 3157,2138 3159,2152 3160,2166 3162,2180 3163,2194 3164,2208 3166,2236 3168,2259 3170,2292 3171,2320 3172,2348 3174,2376 3175,2404 3147,2290 3146,2269 3144,2248 3143,2227 3142,2206 3140,2181 3138,2164 3136,2143 3135,2132 3134,2122 3132,2112 3131,2101 3129,2091 3127,2081 3125,2071 3123,2061 3120,2051 3116,2041 3110,2032 3102,2025"/>
<polygon points="2718,2559 2720,2517 2721,2489 2722,2461 2724,2433 2725,2404 2727,2376 2729,2348 2731,2320 2732,2305 2734,2291 2735,2277 2737,2262 2739,2248 2741,2234 2743,2219 2746,2206 2750,2189 2755,2174 2764,2157 2736,2134 2728,2147 2722,2159 2718,2172 2716,2182 2713,2193 2711,2203 2709,2214 2707,2225 2706,2235 2705,2246 2703,2256 2701,2277 2699,2298 2697,2318 2696,2339 2694,2359 2693,2380 2692,2400 2690,2431"/>
<polygon points="3102,2025 3110,2032 3116,2041 3120,2051 3123,2061 3125,2071 3127,2081 3129,2091 3131,2101 3132,2112 3134,2122 3135,2132 3136,2143 3138,2164 3140,2181 3142,2206 3143,2227 3144,2248 3146,2269 3147,2290 3149,2322 3150,2343 3122,2229 3121,2213 3119,2191 3118,2175 3117,2160 3115,2145 3114,2130 3112,2113 3110,2100 3108,2085 3107,2078 3106,2070 3104,2063 3103,2055 3101,2048 3099,2041 3097,2034 3095,2027 3092,2020 3088,2014 3082,2007 3074,2003"/>
<polygon points="2689,2462 2690,2431 2692,2400 2693,2380 2694,2359 2696,2339 2697,2318 2699,2298 2701,2277 2703,2256 2705,2246 2706,2235 2707,2225 2709,2214 2711,2203 2713,2193 2716,2182 2718,2172 2722,2159 2728,2147 2700,2123 2694,2132 2690,2141 2688,2148 2685,2156 2683,2163 2681,2171 2679,2178 2678,2186 2677,2193 2675,2201 2673,2215 2671,2230 2669,2244 2668,2259 2666,2273 2665,2287 2664,2302 2662,2323 2661,2345"/>
<polygon points="3082,2007 3088,2014 3092,2020 3095,2027 3097,2034 3099,2041 3101,2048 3103,2055 3104,2063 3106,2070 3107,2078 3108,2085 3110,2100 3112,2113 3114,2130 3115,2145 3117,2160 3118,2175 3119,2191 3121,2213 3122,2229 3094,2132 3093,2122 3091,2106 3090,2096 3089,2085 3087,2075 3086,2065 3084,2053 3082,2044 3080,2034 3079,2029 3078,2024 3076,2019 3075,2015 3073,2010 3071,2005 3069,2000 3067,1996 3064,1991 3060,1987 3054,1984"/>
<polygon points="2661,2345 2662,2323 2664,2302 2665,2287 2666,2273 2668,2259 2669,2244 2671,2230 2673,2215 2675,2201 2677,2193 2678,2186 2679,2178 2681,2171 2683,2163 2685,2156 2688,2148 2690,2141 2694,2132 2666,2106 2662,2112 2660,2117 2657,2122 2655,2128 2653,2133 2651,2138 2650,2143 2649,2148 2647,2153 2645,2163 2643,2172 2641,2182 2640,2191 2638,2201 2637,2210 2636,2220 2634,2234 2633,2248"/>
<polygon points="3060,1987 3064,1991 3067,1996 3069,2000 3071,2005 3073,2010 3075,2015 3076,2019 3078,2024 3079,2029 3080,2034 3082,2044 3084,2053 3086,2065 3087,2075 3089,2085 3090,2096 3091,2106 3093,2122 3094,2132 3066,2052 3065,2045 3063,2035 3062,2029 3061,2022 3059,2016 3058,2009 3056,2002 3054,1997 3052,1990 3051,1987 3050,1984 3048,1981 3047,1978 3045,1975 3043,1973 3041,1970 3039,1967 3036,1965 3032,1963"/>
<polygon points="2633,2248 2634,2234 2636,2220 2637,2210 2638,2201 2640,2191 2641,2182 2643,2172 2645,2163 2647,2153 2649,2148 2650,2143 2651,2138 2653,2133 2655,2128 2657,2122 2660,2117 2662,2112 2634,2086 2632,2089 2629,2093 2627,2096 2625,2100 2624,2103 2622,2106 2621,2109 2619,2112 2617,2118 2615,2124 2614,2130 2612,2136 2611,2142 2609,2147 2608,2153 2606,2162 2605,2170"/>
<polygon points="3039,1967 3041,1970 3043,1973 3045,1975 3047,1978 3048,1981 3050,1984 3051,1987 3052,1990 3054,1997 3056,2002 3058,2009 3059,2016 3061,2022 3062,2029 3063,2035 3065,2045 3066,2052 3038,1986 3037,1983 3035,1977 3034,1974 3033,1970 3031,1966 3030,1963 3028,1959 3026,1956 3024,1953 3023,1951 3022,1949 3020,1948 3019,1946 3017,1945 3015,1944 3013,1942 3011,1941"/>
<polygon points="2605,2170 2606,2162 2608,2153 2609,2147 2611,2142 2612,2136 2614,2130 2615,2124 2617,2118 2619,2112 2621,2109 2622,2106 2624,2103 2625,2100 2627,2096 2599,2069 2597,2071 2596,2073 2594,2074 2593,2076 2592,2078 2589,2082 2587,2085 2586,2088 2584,2091 2583,2095 2581,2098 2580,2101 2578,2105 2577,2110"/>
<polygon points="3019,1946 3020,1948 3022,1949 3023,1951 3024,1953 3026,1956 3028,1959 3030,1963 3031,1966 3033,1970 3034,1974 3035,1977 3037,1983 3038,1986 3010,1935 3009,1933 3007,1931 3006,1929 3005,1928 3003,1926 3002,1925 3000,1923 2998,1922 2996,1921 2995,1920 2994,1919 2993,1919 2991,1918"/>
<polygon points="2577,2110 2578,2105 2580,2101 2581,2098 2583,2095 2584,2091 2586,2088 2587,2085 2589,2082 2561,2052 2559,2053 2558,2055 2556,2057 2555,2058 2553,2060 2552,2061 2550,2063 2549,2065"/>
<polygon points="3002,1925 3003,1926 3005,1928 3006,1929 3007,1931 3009,1933 3010,1935 2982,1896 2981,1895 2979,1895 2978,1894 2977,1894 2975,1894 2974,1894"/>
<polygon points="2437,1991 2439,1989 2440,1986 2442,1985 2443,1983 2444,1982 2446,1980 2448,1979 2450,1977 2422,1970 2420,1973 2418,1976 2416,1979 2415,1983 2414,1986 2412,1989 2411,1993 2409,1998"/>
<polygon points="2409,1998 2411,1993 2412,1989 2414,1986 2415,1983 2416,1979 2418,1976 2420,1973 2422,1970 2424,1966 2425,1964 2426,1962 2428,1961 2430,1959 2431,1957 2404,1947 2402,1950 2400,1954 2399,1957 2397,1960 2396,1963 2394,1969 2392,1975 2390,1981 2388,1987 2387,1992 2386,1998 2384,2004 2383,2012 2381,2021"/>
<polygon points="2381,2021 2383,2012 2384,2004 2386,1998 2387,1992 2388,1987 2390,1981 2392,1975 2394,1969 2396,1963 2397,1960 2399,1957 2400,1954 2402,1950 2404,1947 2406,1944 2408,1940 2411,1937 2383,1925 2380,1930 2378,1936 2376,1941 2374,1946 2372,1951 2371,1956 2369,1961 2368,1966 2366,1976 2364,1986 2362,1995 2360,2005 2359,2014 2358,2024 2356,2033 2355,2047 2353,2061"/>
<polygon points="2353,2061 2355,2047 2356,2033 2358,2024 2359,2014 2360,2005 2362,1995 2364,1986 2366,1976 2368,1966 2369,1961 2371,1956 2372,1951 2374,1946 2376,1941 2378,1936 2380,1930 2383,1925 2387,1919 2359,1908 2355,1917 2352,1924 2350,1932 2348,1939 2346,1947 2344,1954 2343,1962 2341,1969 2340,1977 2338,1991 2336,2006 2334,2020 2333,2035 2331,2049 2330,2063 2329,2078 2327,2099 2325,2121"/>
<polygon points="2325,2121 2327,2099 2329,2078 2330,2063 2331,2049 2333,2035 2334,2020 2336,2006 2338,1991 2340,1977 2341,1969 2343,1962 2344,1954 2346,1947 2348,1939 2350,1932 2352,1924 2355,1917 2359,1908 2364,1899 2336,1886 2331,1898 2327,1911 2324,1920 2322,1931 2320,1942 2318,1953 2316,1963 2315,1974 2313,1984 2312,1995 2310,2015 2308,2036 2306,2057 2305,2077 2303,2098 2302,2119 2301,2139 2299,2170 2297,2201"/>
<polygon points="2299,2170 2301,2139 2302,2119 2303,2098 2305,2077 2306,2057 2308,2036 2310,2015 2312,1995 2313,1984 2315,1974 2316,1963 2318,1953 2320,1942 2322,1931 2324,1920 2327,1911 2331,1898 2336,1886 2345,1873 2317,1858 2308,1875 2303,1890 2299,1907 2296,1920 2294,1935 2292,1949 2290,1964 2288,1978 2287,1992 2285,2007 2284,2021 2282,2049 2280,2078 2278,2106 2277,2134 2275,2162 2274,2190 2273,2218 2271,2260"/>
<polygon points="2275,2162 2277,2134 2278,2106 2280,2078 2282,2049 2284,2021 2285,2007 2287,1992 2288,1978 2290,1964 2292,1949 2294,1935 2296,1920 2299,1907 2303,1890 2308,1875 2317,1858 2289,1844 2280,1865 2275,1885 2271,1907 2268,1924 2266,1943 2264,1962 2262,1981 2260,2000 2259,2018 2257,2037 2256,2056 2254,2093 2252,2130 2250,2168 2249,2205 2247,2242"/>
</g>
<rect x="335.1" y="163.7" width="8.9" height="130.2" fill="url(#jet)"/>
<line x1="335.1" y1="163.9" x2="344" y2="163.9" stroke="#3a0000" stroke-width="0.5"/>
<line x1="335.1" y1="293.7" x2="344" y2="293.7" stroke="#00003a" stroke-width="0.5"/>
<line x1="342.7" y1="185.2" x2="344" y2="185.2" stroke="#222" stroke-width="0.45"/>
<line x1="335.1" y1="185.2" x2="336.4" y2="185.2" stroke="#222" stroke-width="0.45"/>
<line x1="342.7" y1="206.7" x2="344" y2="206.7" stroke="#222" stroke-width="0.45"/>
<line x1="335.1" y1="206.7" x2="336.4" y2="206.7" stroke="#222" stroke-width="0.45"/>
<line x1="342.7" y1="228.3" x2="344" y2="228.3" stroke="#222" stroke-width="0.45"/>
<line x1="335.1" y1="228.3" x2="336.4" y2="228.3" stroke="#222" stroke-width="0.45"/>
<line x1="342.7" y1="249.8" x2="344" y2="249.8" stroke="#222" stroke-width="0.45"/>
<line x1="335.1" y1="249.8" x2="336.4" y2="249.8" stroke="#222" stroke-width="0.45"/>
<line x1="342.7" y1="271.3" x2="344" y2="271.3" stroke="#222" stroke-width="0.45"/>
<line x1="335.1" y1="271.3" x2="336.4" y2="271.3" stroke="#222" stroke-width="0.45"/>
<line x1="342.7" y1="292.8" x2="344" y2="292.8" stroke="#222" stroke-width="0.45"/>
<line x1="335.1" y1="292.8" x2="336.4" y2="292.8" stroke="#222" stroke-width="0.45"/>
<line x1="468.5" y1="288.3" x2="418.2" y2="254.7" stroke="#b4b4b4" stroke-width="0.6"/>
<line x1="439.5" y1="286.2" x2="505.1" y2="261" stroke="#b4b4b4" stroke-width="0.6"/>
<line x1="484.9" y1="282" x2="434.6" y2="248.4" stroke="#b4b4b4" stroke-width="0.6"/>
<line x1="427" y1="277.8" x2="492.6" y2="252.6" stroke="#b4b4b4" stroke-width="0.6"/>
<line x1="501.3" y1="275.7" x2="451" y2="242.1" stroke="#b4b4b4" stroke-width="0.6"/>
<line x1="414.4" y1="269.4" x2="480" y2="244.2" stroke="#b4b4b4" stroke-width="0.6"/>
<line x1="418.2" y1="254.7" x2="418.2" y2="182.4" stroke="#b4b4b4" stroke-width="0.6"/>
<line x1="505.1" y1="261" x2="505.1" y2="188.7" stroke="#b4b4b4" stroke-width="0.6"/>
<line x1="434.6" y1="248.4" x2="434.6" y2="176.1" stroke="#b4b4b4" stroke-width="0.6"/>
<line x1="492.6" y1="252.6" x2="492.6" y2="180.3" stroke="#b4b4b4" stroke-width="0.6"/>
<line x1="451" y1="242.1" x2="451" y2="169.8" stroke="#b4b4b4" stroke-width="0.6"/>
<line x1="480" y1="244.2" x2="480" y2="171.9" stroke="#b4b4b4" stroke-width="0.6"/>
<line x1="401.8" y1="188.7" x2="467.4" y2="163.5" stroke="#b4b4b4" stroke-width="0.6"/>
<line x1="467.4" y1="163.5" x2="517.7" y2="197.1" stroke="#b4b4b4" stroke-width="0.6"/>
<line x1="401.8" y1="200.8" x2="467.4" y2="175.6" stroke="#b4b4b4" stroke-width="0.6"/>
<line x1="467.4" y1="175.6" x2="517.7" y2="209.2" stroke="#b4b4b4" stroke-width="0.6"/>
<line x1="401.8" y1="212.8" x2="467.4" y2="187.6" stroke="#b4b4b4" stroke-width="0.6"/>
<line x1="467.4" y1="187.6" x2="517.7" y2="221.2" stroke="#b4b4b4" stroke-width="0.6"/>
<line x1="401.8" y1="224.8" x2="467.4" y2="199.7" stroke="#b4b4b4" stroke-width="0.6"/>
<line x1="467.4" y1="199.7" x2="517.7" y2="233.3" stroke="#b4b4b4" stroke-width="0.6"/>
<line x1="401.8" y1="236.9" x2="467.4" y2="211.7" stroke="#b4b4b4" stroke-width="0.6"/>
<line x1="467.4" y1="211.7" x2="517.7" y2="245.3" stroke="#b4b4b4" stroke-width="0.6"/>
<line x1="401.8" y1="248.9" x2="467.4" y2="223.8" stroke="#b4b4b4" stroke-width="0.6"/>
<line x1="467.4" y1="223.8" x2="517.7" y2="257.4" stroke="#b4b4b4" stroke-width="0.6"/>
<line x1="401.8" y1="261" x2="467.4" y2="235.8" stroke="#b4b4b4" stroke-width="0.6"/>
<line x1="467.4" y1="235.8" x2="517.7" y2="269.4" stroke="#b4b4b4" stroke-width="0.6"/>
<line x1="401.8" y1="261" x2="467.4" y2="235.8" stroke="#b4b4b4" stroke-width="0.6"/>
<line x1="467.4" y1="235.8" x2="517.7" y2="269.4" stroke="#b4b4b4" stroke-width="0.6"/>
<line x1="467.4" y1="235.8" x2="467.4" y2="163.5" stroke="#b4b4b4" stroke-width="0.6"/>
<line x1="517.7" y1="269.4" x2="517.7" y2="197.1" stroke="#b4b4b4" stroke-width="0.6"/>
<line x1="401.8" y1="188.7" x2="467.4" y2="163.5" stroke="#b4b4b4" stroke-width="0.6"/>
<line x1="467.4" y1="163.5" x2="517.7" y2="197.1" stroke="#b4b4b4" stroke-width="0.6"/>
<line x1="401.8" y1="261" x2="452.1" y2="294.6" stroke="#8c8c8c" stroke-width="0.7"/>
<line x1="452.1" y1="294.6" x2="517.7" y2="269.4" stroke="#8c8c8c" stroke-width="0.7"/>
<line x1="401.8" y1="261" x2="401.8" y2="188.7" stroke="#cdcdcd" stroke-width="1"/>
<line x1="400.5" y1="189.2" x2="401.8" y2="188.7" stroke="#777" stroke-width="0.5"/>
<line x1="400.5" y1="201.2" x2="401.8" y2="200.8" stroke="#777" stroke-width="0.5"/>
<line x1="400.5" y1="213.3" x2="401.8" y2="212.8" stroke="#777" stroke-width="0.5"/>
<line x1="400.5" y1="225.3" x2="401.8" y2="224.8" stroke="#777" stroke-width="0.5"/>
<line x1="400.5" y1="237.4" x2="401.8" y2="236.9" stroke="#777" stroke-width="0.5"/>
<line x1="400.5" y1="249.4" x2="401.8" y2="248.9" stroke="#777" stroke-width="0.5"/>
<line x1="400.5" y1="261.5" x2="401.8" y2="261" stroke="#777" stroke-width="0.5"/>
<line x1="400.6" y1="261.9" x2="401.8" y2="261" stroke="#777" stroke-width="0.5"/>
<line x1="413.2" y1="270.3" x2="414.4" y2="269.4" stroke="#777" stroke-width="0.5"/>
<line x1="425.8" y1="278.7" x2="427" y2="277.8" stroke="#777" stroke-width="0.5"/>
<line x1="438.3" y1="287.1" x2="439.5" y2="286.2" stroke="#777" stroke-width="0.5"/>
<line x1="450.9" y1="295.5" x2="452.1" y2="294.6" stroke="#777" stroke-width="0.5"/>
<line x1="453.3" y1="295.5" x2="452.1" y2="294.6" stroke="#777" stroke-width="0.5"/>
<line x1="469.7" y1="289.2" x2="468.5" y2="288.3" stroke="#777" stroke-width="0.5"/>
<line x1="486.1" y1="282.9" x2="484.9" y2="282" stroke="#777" stroke-width="0.5"/>
<line x1="502.5" y1="276.6" x2="501.3" y2="275.7" stroke="#777" stroke-width="0.5"/>
<line x1="518.9" y1="270.3" x2="517.7" y2="269.4" stroke="#777" stroke-width="0.5"/>
<clipPath id="c1704"><rect x="0" y="0" width="523.8" height="509"/></clipPath>
<g transform="scale(.1)" stroke-width="7" stroke-linejoin="round">
<path class="j0" d="M4589 2155l1 30-28 141-1-40z"/>
<path class="j4" d="M4588 2125l1 30-28 131-1-40z"/>
<path class="j7" d="M4586 2095l2 30-28 121-2-40z"/>
<path class="j11" d="M4584 2065l2 30-28 111-2-40z"/>
<path class="j16" d="M4582 2036l2 29-28 101-1-39z"/>
<path class="j19" d="M4580 2006l2 30-27 91-2-40z"/>
<path class="j23" d="M4578 1976l2 30-27 81-3-40z"/>
<path class="j27" d="M4577 1961l1 15-28 71-1-20z"/>
<path class="j29" d="M4576 1946l1 15-28 66-1-19z"/>
<path class="j32" d="M4575 1932l1 14-28 62-1-20z"/>
<path class="j34" d="M4573 1917l2 15-28 56-2-20z"/>
<path class="j36" d="M4572 1902l1 15-28 51-1-20z"/>
<path class="j37" d="M4570 1888l2 14-28 46-2-19z"/>
<path class="j39" d="M4569 1873l1 15-28 41-1-20z"/>
<path class="j41" d="M4567 1858l2 15-28 36-2-19z"/>
<path class="j43" d="M4565 1844l2 14-28 32-2-20z"/>
<path class="j46" d="M4562 1829l3 15-28 26-3-19z"/>
<path class="j48" d="M4560 1815l2 14-28 22-2-20z"/>
<path class="j50" d="M4557 1801l3 14-28 16-3-19z"/>
<path class="j51" d="M4554 1787l3 14-28 11-3-19z"/>
<path class="j54" d="M4551 1777l3 10-28 6-3-13z"/>
<path class="j55" d="M4545 1760l5 13 1 4-28 3-1-6-5-18z"/>
<path class="j58" d="M4541 1752l4 8-28-4-4-10z"/>
<path class="j59" d="M4531 1739l7 8 3 5-28-6-3-8-7-11z"/>
<path class="j61" d="M4527 1736l4 3-28-12-4-5z"/>
<path class="j62" d="M4512 1732l10 2 5 2-28-14-5-4-10-3z"/>
<path class="j63" d="M4236 1838l10-7 10-5 10-4 10-4 9-4 10-4 10-4 10-4 10-3 10-4 9-4 10-4 10-4 10-3 10-4 10-4 9-4 10-3 10-4 10-4 10-4 10-4 10-3 9-4 10-3 10-4 10-2 10-1-28-17-10 0-10 2-10 3-10 3-9 4-10 4-10 4-10 3-10 4-10 4-9 4-10 3-10 4-10 4-10 4-10 4-10 3-9 4-10 4-10 4-10 3-10 4-10 4-9 4-10 4-10 5-10 6-10 7z"/>
<path class="j62" d="M4221 1854l5-7 10-9-28-17-10 11-5 8z"/>
<path class="j61" d="M4217 1860l4-6-28-14-4 8z"/>
<path class="j59" d="M4207 1881l3-8 7-13-28-12-7 17-3 9z"/>
<path class="j58" d="M4203 1891l4-10-28-7-4 13z"/>
<path class="j55" d="M4197 1913l1-5 5-17-28-4-5 23-1 6z"/>
<path class="j54" d="M4194 1925l3-12-28 3-3 15z"/>
<path class="j51" d="M4191 1942l3-17-28 6-3 22z"/>
<path class="j49" d="M4187 1964l4-22-28 11-4 29z"/>
<path class="j48" d="M4185 1974l2-10-28 18-1 13z"/>
<path class="j46" d="M4183 1990l2-16-27 21-3 22z"/>
<path class="j43" d="M4181 2006l2-16-28 27-2 21z"/>
<path class="j41" d="M4179 2022l2-16-28 32-2 21z"/>
<path class="j39" d="M4178 2038l1-16-28 37-1 21z"/>
<path class="j37" d="M4176 2054l2-16-28 42-2 20z"/>
<path class="j36" d="M4175 2070l1-16-28 46-1 21z"/>
<path class="j34" d="M4173 2086l2-16-28 51-2 21z"/>
<path class="j32" d="M4172 2102l1-16-28 56-1 21z"/>
<path class="j29" d="M4171 2117l1-15-28 61-1 20z"/>
<path class="j25" d="M4168 2149l3-32-28 66-2 42z"/>
<path class="j23" d="M4167 2166l1-17-27 76-2 23z"/>
<path class="j19" d="M4165 2196l2-30-28 82-2 39z"/>
<path class="j16" d="M4164 2227l1-31-28 91-1 41z"/>
<path class="j11" d="M4162 2258l2-31-28 101-2 41z"/>
<path class="j7" d="M4160 2289l2-31-28 111-2 41z"/>
<path class="j4" d="M4159 2320l1-31-28 121-1 41z"/>
<path class="j0" d="M4157 2351l2-31-28 131-1 41z"/>
<path class="j15" d="M4617 2048l1 22-28 115-1-30z"/>
<path class="j18" d="M4615 2027l2 21-28 107-1-30z"/>
<path class="j21" d="M4614 2005l1 22-27 98-2-30z"/>
<path class="j24" d="M4612 1984l2 21-28 90-2-30z"/>
<path class="j27" d="M4610 1962l2 22-28 81-2-29z"/>
<path class="j30" d="M4608 1941l2 21-28 74-2-30z"/>
<path class="j33" d="M4606 1919l2 22-28 65-2-30z"/>
<path class="j36" d="M4605 1909l1 10-28 57-1-15z"/>
<path class="j38" d="M4604 1898l1 11-28 52-1-15z"/>
<path class="j39" d="M4603 1887l1 11-28 48-1-14z"/>
<path class="j41" d="M4601 1877l2 10-28 45-2-15z"/>
<path class="j42" d="M4600 1866l1 11-28 40-1-15z"/>
<path class="j44" d="M4598 1856l2 10-28 36-2-14z"/>
<path class="j45" d="M4596 1846l2 10-28 32-1-15z"/>
<path class="j47" d="M4595 1835l1 11-27 27-2-15z"/>
<path class="j48" d="M4593 1825l2 10-28 23-2-14z"/>
<path class="j50" d="M4590 1815l3 10-28 19-3-15z"/>
<path class="j51" d="M4588 1804l2 11-28 14-2-14z"/>
<path class="j53" d="M4585 1794l3 10-28 11-3-14z"/>
<path class="j54" d="M4582 1785l3 9-28 7-3-14z"/>
<path class="j56" d="M4579 1778l3 7-28 2-3-10z"/>
<path class="j57" d="M4573 1766l5 9 1 3-28-1-1-4-5-13z"/>
<path class="j59" d="M4569 1761l4 5-28-6-4-8z"/>
<path class="j60" d="M4559 1753l7 4 3 4-28-9-3-5-7-8z"/>
<path class="j62" d="M4540 1749l9 0 6 2 4 2-28-14-4-3-5-2-10-2z"/>
<path class="j63" d="M4264 1855l10-6 10-4 10-5 9-4 10-4 10-3 10-4 10-4 10-4 10-4 9-3 10-4 10-4 10-4 10-3 10-4 9-4 10-4 10-4 10-3 10-4 10-4 9-4 10-3 10-4 10-3 10-3 10-2-28-17-10 1-10 2-10 4-10 3-9 4-10 3-10 4-10 4-10 4-10 4-10 3-9 4-10 4-10 4-10 3-10 4-10 4-9 4-10 4-10 3-10 4-10 4-10 4-9 4-10 4-10 4-10 5-10 7z"/>
<path class="j62" d="M4244 1873l5-5 5-5 10-8-28-17-10 9-5 7-4 6z"/>
<path class="j60" d="M4235 1890l3-6 6-11-27-13-7 13-3 8z"/>
<path class="j59" d="M4231 1897l4-7-28-9-4 10z"/>
<path class="j57" d="M4225 1914l1-4 5-13-28-6-5 17-1 5z"/>
<path class="j56" d="M4222 1923l3-9-28-1-3 12z"/>
<path class="j54" d="M4219 1935l3-12-28 2-3 17z"/>
<path class="j52" d="M4215 1952l4-17-28 7-4 22z"/>
<path class="j51" d="M4213 1959l2-7-28 12-2 10z"/>
<path class="j50" d="M4211 1971l2-12-28 15-2 16z"/>
<path class="j48" d="M4209 1983l2-12-28 19-2 16z"/>
<path class="j47" d="M4207 1995l2-12-28 23-2 16z"/>
<path class="j45" d="M4206 2007l1-12-28 27-1 16z"/>
<path class="j44" d="M4204 2018l2-11-28 31-2 16z"/>
<path class="j42" d="M4203 2030l1-12-28 36-1 16z"/>
<path class="j41" d="M4201 2042l2-12-28 40-2 16z"/>
<path class="j39" d="M4200 2053l1-11-28 44-1 16z"/>
<path class="j38" d="M4199 2065l1-12-28 49-1 15z"/>
<path class="j35" d="M4196 2088l3-23-28 52-3 32z"/>
<path class="j33" d="M4195 2100l1-12-28 61-1 17z"/>
<path class="j30" d="M4193 2122l2-22-28 66-2 30z"/>
<path class="j27" d="M4192 2145l1-23-28 74-1 31z"/>
<path class="j24" d="M4190 2168l2-23-28 82-2 31z"/>
<path class="j21" d="M4188 2191l2-23-28 90-2 31z"/>
<path class="j18" d="M4187 2213l1-22-28 98-1 31z"/>
<path class="j15" d="M4185 2236l2-23-28 107-2 31z"/>
<path class="j28" d="M4645 1964l1 15-28 91-1-22z"/>
<path class="j31" d="M4643 1949l2 15-28 84-2-21z"/>
<path class="j33" d="M4642 1935l1 14-28 78-1-22z"/>
<path class="j35" d="M4640 1920l2 15-28 70-2-21z"/>
<path class="j37" d="M4638 1905l2 15-28 64-2-22z"/>
<path class="j39" d="M4636 1891l2 14-28 57-2-21z"/>
<path class="j42" d="M4634 1876l2 15-28 50-2-22z"/>
<path class="j44" d="M4633 1869l1 7-28 43-1-10z"/>
<path class="j45" d="M4632 1862l1 7-28 40-1-11z"/>
<path class="j46" d="M4631 1855l1 7-28 36-1-11z"/>
<path class="j47" d="M4629 1848l2 7-28 32-2-10z"/>
<path class="j48" d="M4628 1841l1 7-28 29-1-11z"/>
<path class="j49" d="M4626 1833l2 8-28 25-2-10z"/>
<path class="j50" d="M4624 1826l2 7-28 23-2-10z"/>
<path class="j51" d="M4623 1820l1 6-28 20-1-11z"/>
<path class="j53" d="M4621 1813l2 7-28 15-2-10z"/>
<path class="j54" d="M4618 1806l3 7-28 12-3-10z"/>
<path class="j55" d="M4616 1799l2 7-28 9-2-11z"/>
<path class="j56" d="M4613 1793l3 6-28 5-3-10z"/>
<path class="j57" d="M4610 1786l3 7-28 1-3-9z"/>
<path class="j58" d="M4607 1782l3 4-28-1-3-7z"/>
<path class="j59" d="M4601 1774l5 6 1 2-28-4-1-3-5-9z"/>
<path class="j60" d="M4597 1771l4 3-28-8-4-5z"/>
<path class="j61" d="M4587 1767l7 2 3 2-28-10-3-4-7-4z"/>
<path class="j62" d="M4577 1766l6 0 4 1-28-14-4-2-6-2z"/>
<path class="j63" d="M4282 1879l10-6 10-6 10-4 10-4 9-4 10-4 10-4 10-4 10-3 10-4 9-4 10-4 10-3 10-4 10-4 10-4 10-4 9-3 10-4 10-4 10-4 10-3 10-4 9-4 10-4 10-3 10-4 10-3 10-2 9-1-28-17-9 0-10 2-10 3-10 3-10 4-10 3-9 4-10 4-10 4-10 3-10 4-10 4-9 4-10 4-10 3-10 4-10 4-10 4-9 3-10 4-10 4-10 4-10 4-10 3-10 4-9 4-10 5-10 4-10 6-10 8z"/>
<path class="j62" d="M4272 1888l5-5 5-4-28-16-5 5-5 5z"/>
<path class="j61" d="M4263 1900l3-5 6-7-28-15-6 11-3 6z"/>
<path class="j60" d="M4259 1906l4-6-28-10-4 7z"/>
<path class="j59" d="M4253 1918l1-3 5-9-28-9-5 13-1 4z"/>
<path class="j58" d="M4250 1924l3-6-28-4-3 9z"/>
<path class="j57" d="M4247 1933l3-9-28-1-3 12z"/>
<path class="j55" d="M4241 1951l2-6 4-12-28 2-4 17-2 7z"/>
<path class="j54" d="M4239 1959l2-8-28 8-2 12z"/>
<path class="j53" d="M4237 1968l2-9-28 12-2 12z"/>
<path class="j51" d="M4235 1976l2-8-28 15-2 12z"/>
<path class="j50" d="M4234 1984l1-8-28 19-1 12z"/>
<path class="j49" d="M4232 1993l2-9-28 23-2 11z"/>
<path class="j48" d="M4231 2001l1-8-28 25-1 12z"/>
<path class="j47" d="M4229 2009l2-8-28 29-2 12z"/>
<path class="j46" d="M4228 2017l1-8-28 33-1 11z"/>
<path class="j45" d="M4227 2025l1-8-28 36-1 12z"/>
<path class="j43" d="M4224 2041l3-16-28 40-3 23z"/>
<path class="j42" d="M4223 2050l1-9-28 47-1 12z"/>
<path class="j39" d="M4221 2066l2-16-28 50-2 22z"/>
<path class="j37" d="M4219 2082l2-16-28 56-1 23z"/>
<path class="j35" d="M4218 2098l1-16-27 63-2 23z"/>
<path class="j33" d="M4216 2113l2-15-28 70-2 23z"/>
<path class="j31" d="M4215 2129l1-16-28 78-1 22z"/>
<path class="j28" d="M4213 2145l2-16-28 84-2 23z"/>
<path class="j39" d="M4673 1901l1 10-28 68-1-15z"/>
<path class="j41" d="M4671 1892l2 9-28 63-2-15z"/>
<path class="j42" d="M4670 1883l1 9-28 57-1-14z"/>
<path class="j44" d="M4668 1873l2 10-28 52-2-15z"/>
<path class="j45" d="M4666 1864l2 9-28 47-2-15z"/>
<path class="j47" d="M4664 1855l2 9-28 41-2-14z"/>
<path class="j48" d="M4662 1846l2 9-28 36-2-15z"/>
<path class="j50" d="M4661 1842l1 4-28 30-1-7z"/>
<path class="j51" d="M4658 1833l2 4 1 5-28 27-1-7-1-7z"/>
<path class="j52" d="M4657 1828l1 5-27 22-2-7z"/>
<path class="j53" d="M4656 1824l1 4-28 20-1-7z"/>
<path class="j54" d="M4652 1815l2 5 2 4-28 17-2-8-2-7z"/>
<path class="j55" d="M4650 1811l2 4-28 11-1-6z"/>
<path class="j56" d="M4648 1807l2 4-27 9-2-7z"/>
<path class="j57" d="M4644 1799l2 4 2 4-27 6-3-7-2-7z"/>
<path class="j58" d="M4641 1795l3 4-28 0-3-6z"/>
<path class="j59" d="M4638 1791l3 4-28-2-3-7z"/>
<path class="j60" d="M4629 1785l5 3 1 1 3 2-28-5-3-4-1-2-5-6z"/>
<path class="j61" d="M4625 1783l4 2-28-11-4-3z"/>
<path class="j62" d="M4611 1782l4 0 7 1 3 0-28-12-3-2-7-2-4-1z"/>
<path class="j63" d="M4305 1899l5-3 10-6 10-4 10-5 10-4 9-3 10-4 10-4 10-4 10-4 10-3 9-4 10-4 10-4 10-4 10-3 10-4 9-4 10-4 10-3 10-4 10-4 10-4 9-4 10-3 10-4 10-4 10-3 10-4 10-3 9-2 6 0-28-16-6 0-9 1-10 2-10 3-10 4-10 3-10 4-9 4-10 4-10 3-10 4-10 4-10 4-9 3-10 4-10 4-10 4-10 4-10 3-10 4-9 4-10 4-10 3-10 4-10 4-10 4-9 4-10 4-10 4-10 6-10 6-5 4z"/>
<path class="j62" d="M4290 1912l4-3 6-6 5-4-28-16-5 5-6 7-3 5z"/>
<path class="j61" d="M4287 1916l3-4-27-12-4 6z"/>
<path class="j60" d="M4278 1929l3-4 1-2 5-7-28-10-5 9-1 3-3 6z"/>
<path class="j59" d="M4275 1936l3-7-28-5-3 9z"/>
<path class="j58" d="M4271 1944l4-8-28-3-4 12z"/>
<path class="j57" d="M4267 1953l2-5 2-4-28 1-2 6-2 8z"/>
<path class="j56" d="M4265 1959l2-6-28 6-2 9z"/>
<path class="j55" d="M4263 1965l2-6-28 9-2 8z"/>
<path class="j54" d="M4260 1976l2-6 1-5-28 11-1 8-2 9z"/>
<path class="j53" d="M4258 1981l2-5-28 17-1 8z"/>
<path class="j52" d="M4257 1987l1-6-27 20-2 8z"/>
<path class="j51" d="M4255 1998l1-6 1-5-28 22-1 8-1 8z"/>
<path class="j49" d="M4252 2009l3-11-28 27-3 16z"/>
<path class="j48" d="M4251 2014l1-5-28 32-1 9z"/>
<path class="j47" d="M4249 2025l2-11-28 36-2 16z"/>
<path class="j45" d="M4247 2035l2-10-28 41-2 16z"/>
<path class="j44" d="M4246 2046l1-11-28 47-1 16z"/>
<path class="j42" d="M4244 2056l2-10-28 52-2 15z"/>
<path class="j41" d="M4243 2067l1-11-28 57-1 16z"/>
<path class="j39" d="M4241 2077l2-10-28 62-2 16z"/>
<path class="j48" d="M4701 1858l1 6-28 47-1-10z"/>
<path class="j49" d="M4699 1853l2 5-28 43-2-9z"/>
<path class="j50" d="M4698 1848l1 5-28 39-1-9z"/>
<path class="j51" d="M4696 1843l2 5-28 35-2-10z"/>
<path class="j52" d="M4694 1838l2 5-28 30-2-9z"/>
<path class="j53" d="M4692 1833l2 5-28 26-2-9z"/>
<path class="j54" d="M4690 1828l2 5-28 22-2-9z"/>
<path class="j55" d="M4688 1823l1 2 1 3-28 18-1-4-1-5z"/>
<path class="j56" d="M4685 1818l1 3 2 2-28 14-2-4-1-5z"/>
<path class="j57" d="M4682 1814l2 2 1 2-28 10-1-4-2-4z"/>
<path class="j58" d="M4678 1809l2 2 2 3-28 6-2-5-2-4z"/>
<path class="j59" d="M4674 1805l2 2 2 2-28 2-2-4-2-4z"/>
<path class="j60" d="M4669 1801l3 2 2 2-28-2-2-4-3-4z"/>
<path class="j61" d="M4662 1798l1 1 3 1 3 1-28-6-3-4-3-2-1-1z"/>
<path class="j62" d="M4650 1797l3 0 4 0 5 1-28-10-5-3-4-2-3 0z"/>
<path class="j63" d="M4322 1923l6-4 5-3 5-3 10-5 10-4 10-4 9-4 10-4 10-4 10-3 10-4 10-4 10-4 9-4 10-3 10-4 10-4 10-4 10-3 9-4 10-4 10-4 10-4 10-3 10-4 9-4 10-4 10-3 10-4 10-4 10-3 9-4 10-2 6-2 4 0 7-1-28-14-7-1-4 0-6 0-9 2-10 3-10 4-10 3-10 4-10 4-10 3-9 4-10 4-10 4-10 4-10 3-10 4-9 4-10 4-10 3-10 4-10 4-10 4-9 4-10 3-10 4-10 4-10 4-10 4-9 3-10 4-10 5-10 4-10 6-5 3-5 4-6 6z"/>
<path class="j62" d="M4310 1933l5-4 3-3 4-3-28-14-4 3-3 4-5 7z"/>
<path class="j61" d="M4303 1942l3-4 3-3 1-2-28-10-1 2-3 4-3 7z"/>
<path class="j60" d="M4297 1950l2-2 4-6-28-6-4 8-2 4z"/>
<path class="j59" d="M4293 1957l2-3 2-4-28-2-2 5-2 6z"/>
<path class="j58" d="M4289 1964l2-3 2-4-28 2-2 6-1 5z"/>
<path class="j57" d="M4286 1971l2-3 1-4-27 6-2 6-2 5z"/>
<path class="j56" d="M4284 1978l1-3 1-4-28 10-1 6-1 5z"/>
<path class="j55" d="M4283 1982l1-4-28 14-1 6z"/>
<path class="j54" d="M4279 1992l1-4 3-6-28 16-3 11-1 5z"/>
<path class="j53" d="M4277 1998l2-6-28 22-2 11z"/>
<path class="j52" d="M4275 2005l2-7-28 27-2 10z"/>
<path class="j51" d="M4274 2011l1-6-28 30-1 11z"/>
<path class="j50" d="M4272 2017l2-6-28 35-2 10z"/>
<path class="j49" d="M4271 2024l1-7-28 39-1 11z"/>
<path class="j48" d="M4269 2030l2-6-28 43-2 10z"/>
<path class="j54" d="M4729 1834l1 2-28 28-1-6z"/>
<path class="j55" d="M4727 1832l2 2-28 24-2-5z"/>
<path class="j56" d="M4724 1827l2 2 1 3-28 21-1-5-2-5z"/>
<path class="j57" d="M4720 1823l2 2 2 2-28 16-2-5-2-5z"/>
<path class="j58" d="M4717 1820l1 1 2 2-28 10-2-5-1-3z"/>
<path class="j59" d="M4713 1817l1 1 2 1 1 1-28 5-1-2-2-2-1-3z"/>
<path class="j60" d="M4706 1813l2 1 2 1 1 1 2 1-28 1-1-2-2-2-2-3-2-2z"/>
<path class="j61" d="M4700 1812l2 0 2 1 2 0-28-4-2-2-2-2-2-2z"/>
<path class="j62" d="M4685 1812l5-1 1 0 2 0 4 0 3 1-28-9-3-2-3-1-3-1-1-1-5-1z"/>
<path class="j63" d="M4343 1943l3-2 4-2 6-4 5-2 5-2 10-5 10-4 10-4 9-3 10-4 10-4 10-4 10-4 10-3 9-4 10-4 10-4 10-3 10-4 10-4 10-4 9-4 10-3 10-4 10-4 10-4 10-3 9-4 10-4 10-4 10-4 10-3 10-4 9-3 10-4 6-1 4-2 7-1 3-1 4 0-28-15-4 0-3 0-7 1-4 0-6 2-10 2-9 4-10 3-10 4-10 4-10 3-10 4-9 4-10 4-10 3-10 4-10 4-10 4-9 4-10 3-10 4-10 4-10 4-10 3-9 4-10 4-10 4-10 4-10 3-10 4-10 4-9 4-10 4-10 4-10 5-5 3-5 3-6 4-4 3-3 3z"/>
<path class="j62" d="M4331 1952l3-3 3-2 1-1 5-3-28-14-5 4-1 2-3 3-3 4z"/>
<path class="j61" d="M4321 1962l2-3 2-2 2-1 4-4-28-10-4 6-2 2-2 4-2 3z"/>
<path class="j60" d="M4314 1970l2-2 1-2 2-2 2-2-28-5-2 4-2 3-1 4-2 3z"/>
<path class="j59" d="M4310 1976l2-2 1-2 1-2-28 1-1 4-1 3-1 4z"/>
<path class="j58" d="M4307 1982l1-3 2-3-27 6-3 6-1 4z"/>
<path class="j57" d="M4303 1989l2-4 2-3-28 10-2 6-2 7z"/>
<path class="j56" d="M4300 1996l2-4 1-3-28 16-1 6-2 6z"/>
<path class="j55" d="M4299 1999l1-3-28 21-1 7z"/>
<path class="j54" d="M4297 2003l2-4-28 25-2 6z"/>
<path class="j59" d="M4754 1824l1 1 2 0 1 1-28 10-1-2-2-2-1-3z"/>
<path class="j60" d="M4748 1823l2 1 2 0 2 0-28 5-2-2-2-2-2-2z"/>
<path class="j61" d="M4739 1823l2 0 1 0 2 0 1 0 1 0 2 0-28 0-2-2-1-1-1-1-2-1-1-1-2-1z"/>
<path class="j62" d="M4725 1825l3-1 2 0 2-1 2 0 2 0 2 0 1 0-28-7-1-1-2-1-2-1-2 0-2-1-2 0-3-1z"/>
<path class="j63" d="M4358 1965l4-2 2-1 2-1 5-2 3-2 4-1 6-3 5-2 5-2 10-4 10-4 10-4 9-4 10-4 10-3 10-4 10-4 10-4 9-3 10-4 10-4 10-4 10-4 10-3 9-4 10-4 10-4 10-3 10-4 10-4 9-4 10-4 10-3 10-4 10-4 10-4 10-3 9-4 10-4 6-2 4-1 7-2 3-1 3-1 5-2 2 0 2-1 4 0-28-14-4 0-2 0-1 0-5 1-4 0-3 1-7 1-4 2-6 1-10 4-9 3-10 4-10 3-10 4-10 4-10 4-9 4-10 3-10 4-10 4-10 4-10 3-9 4-10 4-10 4-10 4-10 3-10 4-10 4-9 4-10 3-10 4-10 4-10 4-10 4-9 3-10 4-10 4-10 5-5 2-5 2-6 4-4 2-3 2-5 3-1 1-3 2-3 3z"/>
<path class="j62" d="M4344 1975l1-1 2-2 2-1 2-1 2-2 2 0 3-3-27-13-4 4-2 1-2 2-2 3-2 2-2 2-1 2z"/>
<path class="j61" d="M4335 1982l1-1 2-2 2-1 1-1 1-1 2-1-28-7-2 2-1 2-1 2-2 2-2 3-1 3z"/>
<path class="j60" d="M4330 1987l1-1 2-2 2-2-28 0-2 3-2 4-1 3z"/>
<path class="j59" d="M4325 1992l2-1 1-2 2-2-28 5-2 4-1 3-2 4z"/>
<path class="j62" d="M4774 1834l2-1 2 0 2-1 2 0 1-1 2 0 1-1-28-4-1-1-2 0-1-1-2 0-2 0-2-1-2 0z"/>
<path class="j63" d="M4366 1990l2 0 1-1 1-1 2 0 1-1 2-1 2-1 2 0 2-1 2-1 3-2 4-1 2-1 2-1 5-2 3-1 3-1 7-3 4-2 6-2 10-4 10-4 9-3 10-4 10-4 10-4 10-3 10-4 10-4 9-4 10-4 10-3 10-4 10-4 10-4 9-3 10-4 10-4 10-4 10-4 10-3 9-4 10-4 10-4 10-3 10-4 10-4 9-4 10-4 10-3 6-2 4-2 7-2 3-2 3-1 5-2 2 0 2-1 4-1 3-1 2-1 2-1 2-1 2 0 2-1 1 0 2-1 1 0 2-1 1 0 1 0-28-11-1 0-1 0-2 0-1 0-2 0-1 0-2 0-2 0-2 0-2 1-2 0-3 1-4 0-2 1-2 0-5 2-3 1-3 1-7 2-4 1-6 2-10 4-9 4-10 3-10 4-10 4-10 4-10 3-10 4-9 4-10 4-10 4-10 3-10 4-10 4-9 4-10 3-10 4-10 4-10 4-10 4-9 3-10 4-10 4-10 4-10 3-10 4-9 4-10 4-10 4-10 4-5 2-5 2-6 3-4 1-3 2-5 2-2 1-2 1-4 2-3 3-2 0-2 2-2 1-2 1-2 2-1 1-2 1-1 1-1 1-2 1z"/>
<path class="j62" d="M4353 1997l1-1 2-1 2-1 1 0 2-1 2-1 1-1 2-1-28-11-2 2-1 1-2 2-2 2-1 1-2 2-1 2-2 1z"/>
<path class="j63" d="M4381 2012l1 0 2-1 1-1 2 0 2-1 2-1 1 0 2-1 2 0 1-1 1 0 2-1 1-1 2 0 2-1 2-1 2-1 2 0 3-2 4-1 2-1 2 0 5-2 3-2 3-1 7-3 4-1 6-2 10-4 10-4 9-4 10-3 10-4 10-4 10-4 10-4 9-3 10-4 10-4 10-4 10-3 10-4 10-4 9-4 10-4 10-3 10-4 10-4 10-4 9-3 10-4 10-4 10-4 10-4 10-3 9-4 10-4 10-4 6-2 4-1 7-3 3-1 3-2 5-2 2 0 2-1 4-1 2-1 3-1 2-1 2-1 2-1 2 0 1-1 2-1 1 0 1-1 2 0 1-1 2 0 2-1 2-1 2 0 1-1 2-1 1 0-28-16-1 1-2 0-1 1-2 0-2 1-2 0-2 1-1 0-1 0-2 1-1 0-2 1-1 0-2 1-2 0-2 1-2 1-2 1-3 1-4 1-2 1-2 0-5 2-3 1-3 2-7 2-4 2-6 2-10 3-10 4-9 4-10 4-10 4-10 3-10 4-10 4-9 4-10 3-10 4-10 4-10 4-10 4-9 3-10 4-10 4-10 4-10 3-10 4-9 4-10 4-10 4-10 3-10 4-10 4-10 4-9 3-10 4-10 4-6 2-4 2-7 3-3 1-3 1-5 2-2 1-2 1-4 1-3 2-2 1-2 1-2 0-2 1-2 1-1 1-2 0-1 1-1 1-2 0-2 1-1 1-2 1-2 1-1 0-2 1-2 1-1 1z"/>
<path class="j63" d="M4409 2034l1-1 2 0 1-1 2-1 2-1 2-1 1 0 2-2 1 0 2-1 1 0 2-1 1-1 2 0 2-1 2-1 2-1 1-1 4-1 4-2 2-1 2 0 5-2 3-2 3-1 7-3 4-1 6-3 10-3 10-4 9-4 10-4 10-4 10-3 10-4 10-4 9-4 10-3 10-4 10-4 10-4 10-4 9-3 10-4 10-4 10-4 10-3 10-4 9-4 10-4 10-4 10-3 10-4 10-4 10-4 9-3 10-4 10-4 6-2 4-2 7-2 3-1 3-2 5-1 2-1 2-1 4-1 2-1 3-1 2-1 2 0 2-1 2 0 1-1 2 0 1-1 1 0 2-1 1 0 2-1 2 0 2-1 1 0 2 0 2-1 1 0-28-22-1 0-2 1-1 1-2 0-2 1-2 1-2 0-1 1-2 0-1 1-1 0-2 1-1 1-2 0-2 1-2 1-2 1-3 1-2 1-4 1-2 1-2 0-5 2-3 2-3 1-7 3-4 1-6 2-10 4-10 4-9 4-10 3-10 4-10 4-10 4-10 4-9 3-10 4-10 4-10 4-10 3-10 4-9 4-10 4-10 4-10 3-10 4-10 4-10 4-9 3-10 4-10 4-10 4-10 4-10 3-9 4-10 4-10 4-6 2-4 1-7 3-3 1-3 2-5 2-2 0-2 1-4 1-3 2-2 0-2 1-2 1-2 1-2 0-1 1-2 1-1 0-1 1-2 0-2 1-1 0-2 1-2 1-2 0-1 1-2 1-1 0z"/>
<path class="j62" d="M4858 1898l2 0 2 0 2 1 1 0 2 1 1 0 2 1-28-33-1 0-2 1-2 0-1 0-2 1-2 0-2 1z"/>
<path class="j63" d="M4450 2054l1-1 2-1 1-1 2-2 1-1 2-1 2-1 2-1 2-2 1-1 4-2 4-2 2-1 2-1 5-2 3-2 3-2 7-2 4-2 6-3 10-4 9-3 10-4 10-4 10-4 10-4 10-3 10-4 9-4 10-4 10-4 10-3 10-4 10-4 9-4 10-3 10-4 10-4 10-4 10-4 9-3 10-4 10-4 10-4 10-3 10-4 9-4 10-4 10-3 10-4 5-2 5-1 6-3 4-1 3-1 5-1 2 0 2-1 4-1 2 0 3-1 2 0 2 0 2 0 2 0 1-1 2 0 1 0 1 1 2 0 1 0-28-27-1 0-2 1-1 0-1 1-2 0-1 1-2 0-2 1-2 0-2 1-3 1-2 1-4 1-2 1-2 1-5 1-3 2-3 1-7 2-4 2-6 2-10 4-10 4-9 3-10 4-10 4-10 4-10 3-10 4-10 4-9 4-10 4-10 3-10 4-10 4-10 4-9 3-10 4-10 4-10 4-10 4-10 3-9 4-10 4-10 4-10 3-10 4-10 4-9 4-10 4-10 3-6 3-4 1-7 3-3 1-3 2-5 2-2 0-2 1-4 2-4 1-1 1-2 1-2 1-2 1-2 0-1 1-2 1-1 0-2 1-1 0z"/>
<path class="j62" d="M4437 2067l1-2 2-1 1-2 2-2 2-2 2-1 1-1 2-2-28-27-2 2-1 0-2 1-2 1-2 1-1 1-2 0-1 1z"/>
<path class="j59" d="M4893 1941l2 3 1 2 2 2-28-47-2-1-1 0-2-1z"/>
<path class="j60" d="M4888 1935l2 2 2 2 1 2-28-42-1 0-2-1-2 0z"/>
<path class="j61" d="M4879 1928l2 1 1 1 1 1 2 1 1 1 2 2-28-37-2 0-1 0-2 0-1-1-1 0-2 0z"/>
<path class="j62" d="M4864 1923l3 1 3 0 2 1 2 0 2 1 2 1 1 1-28-31-1 1-2 0-2 0-2 0-2 0-3 1-2 0z"/>
<path class="j63" d="M4498 2064l4-3 2-2 1-1 5-3 4-2 3-2 7-4 4-2 6-2 10-5 9-4 10-4 10-3 10-4 10-4 10-4 9-4 10-3 10-4 10-4 10-4 10-3 9-4 10-4 10-4 10-4 10-3 10-4 10-4 9-4 10-3 10-4 10-4 10-4 10-4 9-3 10-4 10-3 10-4 5-1 5-2 6-1 4-1 3 0 5-1 1 0 3 0 3 0-27-24-4 1-2 1-2 0-5 1-3 1-4 1-6 3-5 1-5 2-10 4-10 3-10 4-9 4-10 4-10 3-10 4-10 4-10 4-9 3-10 4-10 4-10 4-10 4-10 3-9 4-10 4-10 4-10 3-10 4-10 4-9 4-10 4-10 3-10 4-10 4-10 4-10 4-9 3-10 4-6 3-4 2-7 2-3 2-3 2-5 2-2 1-2 1-4 2z"/>
<path class="j62" d="M4484 2080l1-2 2-2 2-2 2-3 2-2 1-1 4-4-28-24-4 2-1 1-2 2-2 1-2 1-2 1-1 1z"/>
<path class="j61" d="M4475 2094l1-3 2-3 1-2 2-2 1-2 2-2-28-31-2 2-1 1-2 1-1 1-2 2-1 1z"/>
<path class="j60" d="M4469 2104l2-3 2-4 2-3-28-37-2 1-2 2-2 2z"/>
<path class="j59" d="M4465 2115l1-4 2-3 1-4-28-42-1 2-2 1-1 2z"/>
<path class="j54" d="M4924 2008l2 5-28-65-2-2z"/>
<path class="j55" d="M4923 2003l1 5-28-62-1-2z"/>
<path class="j56" d="M4920 1992l1 5 2 6-28-59-2-3-1-2z"/>
<path class="j57" d="M4916 1982l2 5 2 5-28-53-2-2-2-2z"/>
<path class="j58" d="M4912 1975l2 2 2 5-28-47-2-2-1-1z"/>
<path class="j59" d="M4909 1968l1 2 1 2 1 3-27-43-2-1-1-1-1-1z"/>
<path class="j60" d="M4902 1959l2 2 2 2 1 2 2 3-28-39-2-1-1-1-2-1-2-1z"/>
<path class="j61" d="M4895 1952l3 2 2 2 2 3-28-34-2 0-2-1-3 0z"/>
<path class="j62" d="M4880 1947l5 1 1 0 3 1 3 2 3 1-28-28-3-1-3 0-3 0-1 0-5 1z"/>
<path class="j63" d="M4538 2078l4-3 3-3 7-4 4-3 6-3 10-4 9-5 10-4 10-4 10-3 10-4 10-4 9-4 10-4 10-3 10-4 10-4 10-4 9-4 10-3 10-4 10-4 10-4 10-3 9-4 10-4 10-4 10-4 10-3 10-4 10-4 9-3 10-4 10-3 10-3 5-1 5-1 6-1 4 0 3 1-28-23-3 0-4 1-6 1-5 2-5 1-10 4-10 3-10 4-9 3-10 4-10 4-10 4-10 4-10 3-9 4-10 4-10 4-10 3-10 4-10 4-10 4-9 4-10 3-10 4-10 4-10 4-10 3-9 4-10 4-10 4-10 4-10 3-10 4-9 4-10 5-6 2-4 2-7 4-3 2-4 2z"/>
<path class="j62" d="M4526 2091l3-4 3-3 1-1 5-5-28-23-5 3-1 1-2 2-4 3z"/>
<path class="j61" d="M4517 2107l2-4 2-4 1-2 4-6-28-27-4 4-1 1-2 2-2 3z"/>
<path class="j60" d="M4510 2121l1-4 2-3 2-4 2-3-28-33-2 2-2 2-1 2-2 2z"/>
<path class="j59" d="M4506 2131l1-3 2-4 1-3-28-39-1 2-2 2-1 2z"/>
<path class="j58" d="M4503 2141l1-3 2-7-28-43-2 3-1 3z"/>
<path class="j57" d="M4499 2154l2-7 2-6-28-47-2 3-2 4z"/>
<path class="j56" d="M4496 2167l1-7 2-6-28-53-2 3-1 4z"/>
<path class="j55" d="M4494 2173l2-6-28-59-2 3z"/>
<path class="j54" d="M4493 2179l1-6-28-62-1 4z"/>
<path class="j48" d="M4952 2088l2 9-28-84-2-5z"/>
<path class="j49" d="M4951 2079l1 9-28-80-1-5z"/>
<path class="j50" d="M4949 2069l2 10-28-76-2-6z"/>
<path class="j51" d="M4948 2060l1 9-28-72-1-5z"/>
<path class="j52" d="M4946 2051l2 9-28-68-2-5z"/>
<path class="j53" d="M4944 2042l2 9-28-64-2-5z"/>
<path class="j54" d="M4942 2033l2 9-28-60-2-5z"/>
<path class="j55" d="M4939 2024l1 4 2 5-28-56-2-2-1-3z"/>
<path class="j56" d="M4937 2015l1 4 1 5-28-52-1-2-1-2z"/>
<path class="j57" d="M4933 2006l2 5 2 4-28-47-2-3-1-2z"/>
<path class="j58" d="M4930 1998l2 4 1 4-27-43-2-2-2-2z"/>
<path class="j59" d="M4926 1989l2 5 2 4-28-39-2-3-2-2z"/>
<path class="j60" d="M4920 1982l3 3 3 4-28-35-3-2-3-1z"/>
<path class="j61" d="M4913 1975l1 1 3 2 3 4-28-31-3-2-3-1-1 0z"/>
<path class="j62" d="M4901 1969l4 1 3 2 5 3-28-27-5-1-3-1-4 0z"/>
<path class="j63" d="M4573 2095l7-6 4-3 6-4 9-5 10-5 10-4 10-4 10-4 10-4 10-3 9-4 10-4 10-4 10-4 10-3 10-4 9-4 10-4 10-3 10-4 10-4 10-4 9-4 10-3 10-4 10-4 10-4 10-3 9-4 10-4 10-3 10-3 10-2 5-1 5 0 6 1-28-23-6 1-5 1-5 1-10 3-10 3-10 4-9 3-10 4-10 4-10 3-10 4-10 4-10 4-9 4-10 3-10 4-10 4-10 4-10 3-9 4-10 4-10 4-10 4-10 3-10 4-9 4-10 4-10 4-10 3-10 4-10 4-9 5-10 4-6 3-4 3-7 4z"/>
<path class="j62" d="M4561 2110l5-7 4-4 3-4-28-23-3 3-4 3-5 5z"/>
<path class="j61" d="M4554 2122l3-6 3-4 1-2-28-27-1 1-3 3-3 4z"/>
<path class="j60" d="M4549 2134l1-3 4-9-28-31-4 6-1 2z"/>
<path class="j59" d="M4545 2146l2-6 2-6-28-35-2 4-2 4z"/>
<path class="j58" d="M4541 2157l2-6 2-5-28-39-2 3-2 4z"/>
<path class="j57" d="M4538 2168l1-5 2-6-28-43-2 3-1 4z"/>
<path class="j56" d="M4535 2179l2-5 1-6-28-47-1 3-2 4z"/>
<path class="j55" d="M4534 2184l1-5-28-51-1 3z"/>
<path class="j54" d="M4531 2201l1-6 2-11-28-53-2 7-1 3z"/>
<path class="j53" d="M4529 2211l2-10-28-60-2 6z"/>
<path class="j52" d="M4527 2222l2-11-28-64-2 7z"/>
<path class="j51" d="M4525 2232l2-10-28-68-2 6z"/>
<path class="j50" d="M4524 2243l1-11-28-72-1 7z"/>
<path class="j49" d="M4522 2253l2-10-28-76-2 6z"/>
<path class="j48" d="M4521 2264l1-11-28-80-1 6z"/>
<path class="j39" d="M4980 2188l2 15-28-106-2-9z"/>
<path class="j41" d="M4979 2173l1 15-28-100-1-9z"/>
<path class="j42" d="M4977 2159l2 14-28-94-2-10z"/>
<path class="j44" d="M4976 2144l1 15-28-90-1-9z"/>
<path class="j45" d="M4974 2129l2 15-28-84-2-9z"/>
<path class="j47" d="M4972 2115l2 14-28-78-2-9z"/>
<path class="j48" d="M4970 2100l2 15-28-73-2-9z"/>
<path class="j50" d="M4968 2093l2 7-28-67-2-5z"/>
<path class="j51" d="M4966 2079l1 7 1 7-28-65-1-4-1-5z"/>
<path class="j52" d="M4964 2072l2 7-28-60-1-4z"/>
<path class="j53" d="M4963 2065l1 7-27-57-2-4z"/>
<path class="j54" d="M4960 2050l1 7 2 8-28-54-2-5-1-4z"/>
<path class="j55" d="M4958 2044l2 6-28-48-2-4z"/>
<path class="j56" d="M4956 2037l2 7-28-46-2-4z"/>
<path class="j57" d="M4951 2023l3 7 2 7-28-43-2-5-3-4z"/>
<path class="j58" d="M4948 2017l3 6-28-38-3-3z"/>
<path class="j59" d="M4945 2010l3 7-28-35-3-4z"/>
<path class="j60" d="M4936 1998l5 6 1 2 3 4-28-32-3-2-1-1-5-3z"/>
<path class="j61" d="M4932 1995l4 3-28-26-3-2z"/>
<path class="j62" d="M4918 1990l5 1 6 2 3 2-27-25-4-1-6-1-5 0z"/>
<path class="j63" d="M4612 2107l6-4 9-6 10-6 10-4 10-4 10-4 10-4 9-4 10-4 10-3 10-4 10-4 10-4 9-3 10-4 10-4 10-4 10-4 10-3 10-4 9-4 10-4 10-3 10-4 10-4 10-4 9-3 10-4 10-3 10-2 10-1 5 0-28-22-5 1-10 2-10 3-10 3-10 4-9 4-10 3-10 4-10 4-10 4-10 3-9 4-10 4-10 4-10 4-10 3-10 4-9 4-10 4-10 3-10 4-10 4-10 4-9 4-10 3-10 4-10 4-10 4-10 4-10 5-9 5-6 4z"/>
<path class="j62" d="M4598 2124l3-5 7-7 4-5-28-21-4 3-7 6-3 4z"/>
<path class="j61" d="M4594 2130l4-6-28-25-4 4z"/>
<path class="j60" d="M4585 2148l3-6 1-3 5-9-28-27-5 7-1 2-3 4z"/>
<path class="j59" d="M4582 2157l3-9-28-32-3 6z"/>
<path class="j58" d="M4578 2169l4-12-28-35-4 9z"/>
<path class="j57" d="M4574 2183l3-8 1-6-28-38-1 3-2 6z"/>
<path class="j56" d="M4572 2192l2-9-27-43-2 6z"/>
<path class="j55" d="M4571 2200l1-8-27-46-2 5z"/>
<path class="j54" d="M4567 2217l2-9 2-8-28-49-2 6-2 6z"/>
<path class="j53" d="M4566 2225l1-8-28-54-1 5z"/>
<path class="j52" d="M4564 2233l2-8-28-57-1 6z"/>
<path class="j51" d="M4562 2249l1-8 1-8-27-59-2 5-1 5z"/>
<path class="j49" d="M4560 2265l2-16-28-65-2 11z"/>
<path class="j48" d="M4559 2274l1-9-28-70-1 6z"/>
<path class="j47" d="M4557 2290l2-16-28-73-2 10z"/>
<path class="j45" d="M4555 2306l2-16-28-79-2 11z"/>
<path class="j44" d="M4553 2322l2-16-28-84-2 10z"/>
<path class="j42" d="M4552 2337l1-15-28-90-1 11z"/>
<path class="j41" d="M4550 2353l2-16-28-94-2 10z"/>
<path class="j39" d="M4549 2369l1-16-28-100-1 11z"/>
<path class="j28" d="M5008 2310l2 21-28-128-2-15z"/>
<path class="j31" d="M5007 2288l1 22-28-122-1-15z"/>
<path class="j33" d="M5005 2266l2 22-28-115-2-14z"/>
<path class="j35" d="M5003 2245l2 21-28-107-1-15z"/>
<path class="j37" d="M5002 2223l1 22-27-101-2-15z"/>
<path class="j39" d="M5000 2202l2 21-28-94-2-14z"/>
<path class="j42" d="M4997 2181l3 21-28-87-2-15z"/>
<path class="j44" d="M4996 2170l1 11-27-81-2-7z"/>
<path class="j45" d="M4995 2159l1 11-28-77-1-7z"/>
<path class="j46" d="M4994 2149l1 10-28-73-1-7z"/>
<path class="j47" d="M4992 2138l2 11-28-70-2-7z"/>
<path class="j48" d="M4991 2128l1 10-28-66-1-7z"/>
<path class="j49" d="M4989 2117l2 11-28-63-2-8z"/>
<path class="j50" d="M4988 2107l1 10-28-60-1-7z"/>
<path class="j51" d="M4986 2096l2 11-28-57-2-6z"/>
<path class="j53" d="M4984 2086l2 10-28-52-2-7z"/>
<path class="j54" d="M4982 2076l2 10-28-49-2-7z"/>
<path class="j55" d="M4979 2066l3 10-28-46-3-7z"/>
<path class="j56" d="M4976 2056l3 10-28-43-3-6z"/>
<path class="j57" d="M4973 2046l3 10-28-39-3-7z"/>
<path class="j58" d="M4970 2039l3 7-28-36-3-4z"/>
<path class="j59" d="M4964 2027l5 9 1 3-28-33-1-2-5-6z"/>
<path class="j60" d="M4960 2022l4 5-28-29-4-3z"/>
<path class="j61" d="M4951 2014l6 5 3 3-28-27-3-2-6-2z"/>
<path class="j62" d="M4941 2011l5 1 5 2-28-23-5-1-5 0z"/>
<path class="j63" d="M4646 2124l9-8 10-5 10-5 10-4 10-4 10-4 9-4 10-4 10-4 10-3 10-4 10-4 9-4 10-4 10-3 10-4 10-4 10-4 9-3 10-4 10-4 10-4 10-4 10-3 10-4 9-4 10-3 10-3 10-1 10 0-28-21-10 1-10 2-10 3-10 4-9 3-10 4-10 4-10 4-10 3-10 4-9 4-10 4-10 3-10 4-10 4-10 4-10 4-9 3-10 4-10 4-10 4-10 3-10 4-9 4-10 4-10 4-10 4-10 4-10 6-9 6z"/>
<path class="j62" d="M4636 2135l4-5 6-6-28-21-6 4-4 5z"/>
<path class="j61" d="M4626 2151l3-6 7-10-28-23-7 7-3 5z"/>
<path class="j60" d="M4622 2159l4-8-28-27-4 6z"/>
<path class="j59" d="M4616 2175l1-3 5-13-28-29-5 9-1 3z"/>
<path class="j58" d="M4613 2184l3-9-28-33-3 6z"/>
<path class="j57" d="M4610 2197l3-13-28-36-3 9z"/>
<path class="j55" d="M4605 2221l1-8 4-16-28-40-4 12-1 6z"/>
<path class="j54" d="M4602 2233l3-12-28-46-3 8z"/>
<path class="j53" d="M4600 2245l2-12-28-50-2 9z"/>
<path class="j51" d="M4599 2256l1-11-28-53-1 8z"/>
<path class="j50" d="M4597 2268l2-12-28-56-2 8z"/>
<path class="j49" d="M4595 2280l2-12-28-60-2 9z"/>
<path class="j48" d="M4594 2291l1-11-28-63-1 8z"/>
<path class="j47" d="M4592 2303l2-12-28-66-2 8z"/>
<path class="j46" d="M4591 2315l1-12-28-70-1 8z"/>
<path class="j45" d="M4590 2326l1-11-28-74-1 8z"/>
<path class="j43" d="M4588 2349l2-23-28-77-2 16z"/>
<path class="j42" d="M4586 2362l2-13-28-84-1 9z"/>
<path class="j39" d="M4585 2384l1-22-27-88-2 16z"/>
<path class="j37" d="M4583 2406l2-22-28-94-2 16z"/>
<path class="j35" d="M4581 2429l2-23-28-100-2 16z"/>
<path class="j33" d="M4580 2452l1-23-28-107-1 15z"/>
<path class="j31" d="M4578 2475l2-23-28-115-2 16z"/>
<path class="j28" d="M4577 2497l1-22-28-122-1 16z"/>
<path class="j15" d="M5036 2454l2 30-28-153-2-21z"/>
<path class="j18" d="M5035 2424l1 30-28-144-1-22z"/>
<path class="j21" d="M5033 2394l2 30-28-136-2-22z"/>
<path class="j24" d="M5031 2364l2 30-28-128-2-21z"/>
<path class="j27" d="M5030 2334l1 30-28-119-1-22z"/>
<path class="j30" d="M5028 2304l2 30-28-111-2-21z"/>
<path class="j33" d="M5025 2275l3 29-28-102-3-21z"/>
<path class="j36" d="M5024 2260l1 15-28-94-1-11z"/>
<path class="j38" d="M5023 2245l1 15-28-90-1-11z"/>
<path class="j39" d="M5022 2230l1 15-28-86-1-10z"/>
<path class="j41" d="M5020 2216l2 14-28-81-2-11z"/>
<path class="j42" d="M5019 2201l1 15-28-78-1-10z"/>
<path class="j44" d="M5017 2186l2 15-28-73-2-11z"/>
<path class="j45" d="M5016 2172l1 14-28-69-1-10z"/>
<path class="j47" d="M5014 2157l2 15-28-65-2-11z"/>
<path class="j48" d="M5012 2143l2 14-28-61-2-10z"/>
<path class="j50" d="M5010 2128l2 15-28-57-2-10z"/>
<path class="j51" d="M5007 2114l3 14-28-52-3-10z"/>
<path class="j53" d="M5004 2100l3 14-28-48-3-10z"/>
<path class="j54" d="M5001 2086l3 14-28-44-3-10z"/>
<path class="j56" d="M4998 2076l3 10-28-40-3-7z"/>
<path class="j57" d="M4992 2059l5 13 1 4-28-37-1-3-5-9z"/>
<path class="j59" d="M4988 2051l4 8-28-32-4-5z"/>
<path class="j60" d="M4978 2038l7 8 3 5-28-29-3-3-6-5z"/>
<path class="j62" d="M4959 2031l10 1 5 3 4 3-27-24-5-2-5-1-10 0z"/>
<path class="j63" d="M4683 2137l10-7 10-5 10-5 10-4 9-4 10-3 10-4 10-4 10-4 10-4 10-3 9-4 10-4 10-4 10-3 10-4 10-4 9-4 10-4 10-3 10-4 10-4 10-4 9-3 10-4 10-3 10-2 10-1-28-20-10 1-10 3-10 3-9 4-10 4-10 3-10 4-10 4-10 4-10 4-9 3-10 4-10 4-10 4-10 3-10 4-9 4-10 4-10 4-10 3-10 4-10 4-9 4-10 4-10 4-10 4-10 5-10 5z"/>
<path class="j62" d="M4664 2159l4-7 5-6 10-9-28-21-9 8-6 6-4 5z"/>
<path class="j60" d="M4654 2180l3-8 7-13-28-24-7 10-3 6z"/>
<path class="j59" d="M4650 2190l4-10-28-29-4 8z"/>
<path class="j57" d="M4644 2212l1-5 5-17-28-31-5 13-1 3z"/>
<path class="j56" d="M4641 2224l3-12-28-37-3 9z"/>
<path class="j54" d="M4638 2240l3-16-28-40-3 13z"/>
<path class="j52" d="M4634 2263l4-23-28-43-4 16z"/>
<path class="j51" d="M4633 2273l1-10-28-50-1 8z"/>
<path class="j50" d="M4630 2289l3-16-28-52-3 12z"/>
<path class="j48" d="M4628 2305l2-16-28-56-2 12z"/>
<path class="j47" d="M4626 2321l2-16-28-60-1 11z"/>
<path class="j45" d="M4625 2337l1-16-27-65-2 12z"/>
<path class="j44" d="M4623 2353l2-16-28-69-2 12z"/>
<path class="j42" d="M4622 2369l1-16-28-73-1 11z"/>
<path class="j41" d="M4620 2384l2-15-28-78-2 12z"/>
<path class="j39" d="M4619 2400l1-16-28-81-1 12z"/>
<path class="j38" d="M4618 2416l1-16-28-85-1 11z"/>
<path class="j35" d="M4616 2447l2-31-28-90-2 23z"/>
<path class="j33" d="M4614 2465l2-18-28-98-2 13z"/>
<path class="j30" d="M4613 2494l1-29-28-103-1 22z"/>
<path class="j27" d="M4611 2526l2-32-28-110-2 22z"/>
<path class="j24" d="M4609 2557l2-31-28-120-2 23z"/>
<path class="j21" d="M4607 2588l2-31-28-128-1 23z"/>
<path class="j18" d="M4606 2619l1-31-27-136-2 23z"/>
<path class="j15" d="M4605 2650l1-31-28-144-1 22z"/>
<path class="j0" d="M5064 2622l1 40-27-178-2-30z"/>
<path class="j4" d="M5063 2582l1 40-28-168-1-30z"/>
<path class="j7" d="M5061 2542l2 40-28-158-2-30z"/>
<path class="j11" d="M5059 2502l2 40-28-148-2-30z"/>
<path class="j16" d="M5058 2463l1 39-28-138-1-30z"/>
<path class="j19" d="M5056 2423l2 40-28-129-2-30z"/>
<path class="j23" d="M5053 2383l3 40-28-119-3-29z"/>
<path class="j27" d="M5052 2363l1 20-28-108-1-15z"/>
<path class="j29" d="M5051 2344l1 19-28-103-1-15z"/>
<path class="j32" d="M5050 2324l1 20-28-99-1-15z"/>
<path class="j34" d="M5048 2304l2 20-28-94-2-14z"/>
<path class="j36" d="M5047 2284l1 20-28-88-1-15z"/>
<path class="j37" d="M5045 2265l2 19-28-83-2-15z"/>
<path class="j39" d="M5044 2245l1 20-28-79-1-14z"/>
<path class="j41" d="M5042 2226l2 19-28-73-2-15z"/>
<path class="j43" d="M5040 2206l2 20-28-69-2-14z"/>
<path class="j46" d="M5037 2187l3 19-28-63-2-15z"/>
<path class="j48" d="M5035 2167l2 20-27-59-3-14z"/>
<path class="j50" d="M5032 2148l3 19-28-53-3-14z"/>
<path class="j51" d="M5029 2129l3 19-28-48-3-14z"/>
<path class="j54" d="M5026 2116l3 13-28-43-3-10z"/>
<path class="j55" d="M5020 2092l5 18 1 6-28-40-1-4-5-13z"/>
<path class="j58" d="M5016 2082l4 10-28-33-4-8z"/>
<path class="j59" d="M5006 2063l7 11 3 8-28-31-3-5-7-8z"/>
<path class="j61" d="M5002 2058l4 5-28-25-4-3z"/>
<path class="j62" d="M4987 2051l10 3 5 4-28-23-5-3-10-1z"/>
<path class="j63" d="M4711 2157l10-7 10-6 10-5 10-4 9-4 10-4 10-4 10-3 10-4 10-4 9-4 10-3 10-4 10-4 10-4 10-4 10-3 9-4 10-4 10-4 10-3 10-4 10-4 9-4 10-3 10-3 10-2 10 0-28-20-10 1-10 2-10 3-10 4-9 3-10 4-10 4-10 4-10 3-10 4-9 4-10 4-10 4-10 3-10 4-10 4-9 4-10 3-10 4-10 4-10 4-10 4-10 3-9 4-10 4-10 5-10 5-10 7z"/>
<path class="j62" d="M4696 2176l5-8 10-11-28-20-10 9-5 6z"/>
<path class="j61" d="M4692 2184l4-8-28-24-4 7z"/>
<path class="j59" d="M4682 2210l3-9 7-17-28-25-7 13-3 8z"/>
<path class="j58" d="M4678 2223l4-13-28-30-4 10z"/>
<path class="j55" d="M4672 2252l1-6 5-23-28-33-5 17-1 5z"/>
<path class="j54" d="M4669 2267l3-15-28-40-3 12z"/>
<path class="j51" d="M4666 2289l3-22-28-43-3 16z"/>
<path class="j49" d="M4662 2318l4-29-28-49-4 23z"/>
<path class="j48" d="M4661 2331l1-13-28-55-1 10z"/>
<path class="j46" d="M4658 2353l3-22-28-58-3 16z"/>
<path class="j43" d="M4656 2374l2-21-28-64-2 16z"/>
<path class="j41" d="M4654 2395l2-21-28-69-2 16z"/>
<path class="j39" d="M4653 2416l1-21-28-74-1 16z"/>
<path class="j37" d="M4651 2436l2-20-28-79-2 16z"/>
<path class="j36" d="M4650 2457l1-21-28-83-1 16z"/>
<path class="j34" d="M4648 2478l2-21-28-88-2 15z"/>
<path class="j32" d="M4647 2499l1-21-28-94-1 16z"/>
<path class="j29" d="M4646 2519l1-20-28-99-1 16z"/>
<path class="j25" d="M4644 2561l2-42-28-103-2 31z"/>
<path class="j23" d="M4642 2584l2-23-28-114-2 18z"/>
<path class="j19" d="M4640 2623l2-39-28-119-1 29z"/>
<path class="j16" d="M4639 2664l1-41-27-129-2 32z"/>
<path class="j11" d="M4637 2705l2-41-28-138-2 31z"/>
<path class="j7" d="M4635 2746l2-41-28-148-2 31z"/>
<path class="j4" d="M4634 2787l1-41-28-158-1 31z"/>
<path class="j0" d="M4633 2828l1-41-28-168-1 31z"/>
</g>
<g transform="scale(.1)" fill="url(#net)">
<polygon points="4640,2623 4642,2584 4644,2561 4646,2519 4647,2499 4648,2478 4650,2457 4651,2436 4653,2416 4654,2395 4656,2374 4658,2353 4661,2331 4662,2318 4666,2289 4669,2267 4672,2252 4673,2246 4678,2223 4682,2210 4685,2201 4692,2184 4696,2176 4668,2152 4664,2159 4657,2172 4654,2180 4650,2190 4645,2207 4644,2212 4641,2224 4638,2240 4634,2263 4633,2273 4630,2289 4628,2305 4626,2321 4625,2337 4623,2353 4622,2369 4620,2384 4619,2400 4618,2416 4616,2447 4614,2465 4613,2494"/>
<polygon points="5002,2058 5006,2063 5013,2074 5016,2082 5020,2092 5025,2110 5026,2116 5029,2129 5032,2148 5035,2167 5037,2187 5040,2206 5042,2226 5044,2245 5045,2265 5047,2284 5048,2304 5050,2324 5051,2344 5052,2363 5053,2383 5056,2423 5058,2463 5030,2334 5028,2304 5025,2275 5024,2260 5023,2245 5022,2230 5020,2216 5019,2201 5017,2186 5016,2172 5014,2157 5012,2143 5010,2128 5007,2114 5004,2100 5001,2086 4998,2076 4997,2072 4992,2059 4988,2051 4985,2046 4978,2038 4974,2035"/>
<polygon points="4606,2619 4607,2588 4609,2557 4611,2526 4613,2494 4614,2465 4616,2447 4618,2416 4619,2400 4620,2384 4622,2369 4623,2353 4625,2337 4626,2321 4628,2305 4630,2289 4633,2273 4634,2263 4638,2240 4641,2224 4644,2212 4645,2207 4650,2190 4654,2180 4657,2172 4664,2159 4636,2135 4629,2145 4626,2151 4622,2159 4617,2172 4616,2175 4613,2184 4610,2197 4606,2213 4605,2221 4602,2233 4600,2245 4599,2256 4597,2268 4595,2280 4594,2291 4592,2303 4591,2315 4590,2326 4588,2349 4586,2362 4585,2384 4583,2406 4581,2429 4580,2452 4578,2475"/>
<polygon points="4978,2038 4985,2046 4988,2051 4992,2059 4997,2072 4998,2076 5001,2086 5004,2100 5007,2114 5010,2128 5012,2143 5014,2157 5016,2172 5017,2186 5019,2201 5020,2216 5022,2230 5023,2245 5024,2260 5025,2275 5028,2304 5030,2334 5031,2364 5033,2394 5035,2424 5036,2454 5008,2310 5007,2288 5005,2266 5003,2245 5002,2223 5000,2202 4997,2181 4996,2170 4995,2159 4994,2149 4992,2138 4991,2128 4989,2117 4988,2107 4986,2096 4984,2086 4982,2076 4979,2066 4976,2056 4973,2046 4970,2039 4969,2036 4964,2027 4960,2022 4957,2019 4951,2014"/>
<polygon points="4577,2497 4578,2475 4580,2452 4581,2429 4583,2406 4585,2384 4586,2362 4588,2349 4590,2326 4591,2315 4592,2303 4594,2291 4595,2280 4597,2268 4599,2256 4600,2245 4602,2233 4605,2221 4606,2213 4610,2197 4613,2184 4616,2175 4617,2172 4622,2159 4626,2151 4629,2145 4601,2119 4598,2124 4594,2130 4589,2139 4588,2142 4585,2148 4582,2157 4578,2169 4577,2175 4574,2183 4572,2192 4571,2200 4569,2208 4567,2217 4566,2225 4564,2233 4563,2241 4562,2249 4560,2265 4559,2274 4557,2290 4555,2306 4553,2322 4552,2337 4550,2353 4549,2369"/>
<polygon points="4957,2019 4960,2022 4964,2027 4969,2036 4970,2039 4973,2046 4976,2056 4979,2066 4982,2076 4984,2086 4986,2096 4988,2107 4989,2117 4991,2128 4992,2138 4994,2149 4995,2159 4996,2170 4997,2181 5000,2202 5002,2223 5003,2245 5005,2266 5007,2288 5008,2310 5010,2331 4982,2203 4980,2188 4979,2173 4977,2159 4976,2144 4974,2129 4972,2115 4970,2100 4968,2093 4967,2086 4966,2079 4964,2072 4963,2065 4961,2057 4960,2050 4958,2044 4956,2037 4954,2030 4951,2023 4948,2017 4945,2010 4942,2006 4941,2004 4936,1998 4932,1995 4929,1993"/>
<polygon points="4549,2369 4550,2353 4552,2337 4553,2322 4555,2306 4557,2290 4559,2274 4560,2265 4562,2249 4563,2241 4564,2233 4566,2225 4567,2217 4569,2208 4571,2200 4572,2192 4574,2183 4577,2175 4578,2169 4582,2157 4585,2148 4588,2142 4589,2139 4594,2130 4598,2124 4570,2099 4566,2103 4561,2110 4560,2112 4557,2116 4554,2122 4550,2131 4549,2134 4547,2140 4545,2146 4543,2151 4541,2157 4539,2163 4538,2168 4537,2174 4535,2179 4534,2184 4532,2195 4531,2201 4529,2211 4527,2222 4525,2232 4524,2243 4522,2253 4521,2264"/>
<polygon points="4932,1995 4936,1998 4941,2004 4942,2006 4945,2010 4948,2017 4951,2023 4954,2030 4956,2037 4958,2044 4960,2050 4961,2057 4963,2065 4964,2072 4966,2079 4967,2086 4968,2093 4970,2100 4972,2115 4974,2129 4976,2144 4977,2159 4979,2173 4980,2188 4982,2203 4954,2097 4952,2088 4951,2079 4949,2069 4948,2060 4946,2051 4944,2042 4942,2033 4940,2028 4939,2024 4938,2019 4937,2015 4935,2011 4933,2006 4932,2002 4930,1998 4928,1994 4926,1989 4923,1985 4920,1982 4917,1978 4914,1976 4913,1975 4908,1972 4905,1970"/>
<polygon points="4521,2264 4522,2253 4524,2243 4525,2232 4527,2222 4529,2211 4531,2201 4532,2195 4534,2184 4535,2179 4537,2174 4538,2168 4539,2163 4541,2157 4543,2151 4545,2146 4547,2140 4549,2134 4550,2131 4554,2122 4557,2116 4560,2112 4532,2084 4529,2087 4526,2091 4522,2097 4521,2099 4519,2103 4517,2107 4515,2110 4513,2114 4511,2117 4510,2121 4509,2124 4507,2128 4506,2131 4504,2138 4503,2141 4501,2147 4499,2154 4497,2160 4496,2167 4494,2173 4493,2179"/>
<polygon points="4914,1976 4917,1978 4920,1982 4923,1985 4926,1989 4928,1994 4930,1998 4932,2002 4933,2006 4935,2011 4937,2015 4938,2019 4939,2024 4940,2028 4942,2033 4944,2042 4946,2051 4948,2060 4949,2069 4951,2079 4952,2088 4954,2097 4926,2013 4924,2008 4923,2003 4921,1997 4920,1992 4918,1987 4916,1982 4914,1977 4912,1975 4911,1972 4910,1970 4909,1968 4907,1965 4906,1963 4904,1961 4902,1959 4900,1956 4898,1954 4895,1952 4892,1951 4889,1949 4886,1948"/>
<polygon points="4493,2179 4494,2173 4496,2167 4497,2160 4499,2154 4501,2147 4503,2141 4504,2138 4506,2131 4507,2128 4509,2124 4510,2121 4511,2117 4513,2114 4515,2110 4517,2107 4519,2103 4521,2099 4522,2097 4494,2068 4493,2069 4491,2071 4489,2074 4487,2076 4485,2078 4484,2080 4482,2082 4481,2084 4479,2086 4478,2088 4476,2091 4475,2094 4473,2097 4471,2101 4469,2104 4468,2108 4466,2111 4465,2115"/>
<polygon points="4895,1952 4898,1954 4900,1956 4902,1959 4904,1961 4906,1963 4907,1965 4909,1968 4910,1970 4911,1972 4912,1975 4914,1977 4916,1982 4918,1987 4920,1992 4921,1997 4923,2003 4924,2008 4926,2013 4898,1948 4896,1946 4895,1944 4893,1941 4892,1939 4890,1937 4888,1935 4886,1933 4885,1932 4883,1931 4882,1930 4881,1929 4879,1928 4878,1927 4876,1926 4874,1925 4872,1925 4870,1924 4867,1924"/>
<polygon points="4465,2115 4466,2111 4468,2108 4469,2104 4471,2101 4473,2097 4475,2094 4476,2091 4478,2088 4479,2086 4481,2084 4453,2052 4451,2053 4450,2054 4448,2056 4447,2057 4445,2058 4443,2060 4441,2062 4440,2064 4438,2065 4437,2067"/>
<polygon points="4882,1930 4883,1931 4885,1932 4886,1933 4888,1935 4890,1937 4892,1939 4893,1941 4895,1944 4896,1946 4898,1948 4870,1901 4868,1900 4867,1900 4865,1899 4864,1899 4862,1898 4860,1898 4858,1898 4857,1898 4855,1898 4854,1897"/>
<polygon points="4325,1992 4327,1991 4328,1989 4330,1987 4331,1986 4333,1984 4335,1982 4336,1981 4338,1979 4340,1978 4341,1977 4313,1972 4312,1974 4310,1976 4308,1979 4307,1982 4305,1985 4303,1989 4302,1992 4300,1996 4299,1999 4297,2003"/>
<polygon points="4297,2003 4299,1999 4300,1996 4302,1992 4303,1989 4305,1985 4307,1982 4308,1979 4310,1976 4312,1974 4313,1972 4314,1970 4316,1968 4317,1966 4319,1964 4321,1962 4323,1959 4325,1957 4327,1956 4299,1948 4297,1950 4295,1954 4293,1957 4291,1961 4289,1964 4288,1968 4286,1971 4285,1975 4284,1978 4283,1982 4280,1988 4279,1992 4277,1998 4275,2005 4274,2011 4272,2017 4271,2024 4269,2030"/>
<polygon points="4269,2030 4271,2024 4272,2017 4274,2011 4275,2005 4277,1998 4279,1992 4280,1988 4283,1982 4284,1978 4285,1975 4286,1971 4288,1968 4289,1964 4291,1961 4293,1957 4295,1954 4297,1950 4299,1948 4303,1942 4306,1938 4309,1935 4281,1925 4278,1929 4275,1936 4271,1944 4269,1948 4267,1953 4265,1959 4263,1965 4262,1970 4260,1976 4258,1981 4257,1987 4256,1992 4255,1998 4252,2009 4251,2014 4249,2025 4247,2035 4246,2046 4244,2056 4243,2067 4241,2077"/>
<polygon points="4241,2077 4243,2067 4244,2056 4246,2046 4247,2035 4249,2025 4251,2014 4252,2009 4255,1998 4256,1992 4257,1987 4258,1981 4260,1976 4262,1970 4263,1965 4265,1959 4267,1953 4269,1948 4271,1944 4275,1936 4278,1929 4281,1925 4282,1923 4287,1916 4290,1912 4263,1900 4259,1906 4254,1915 4253,1918 4250,1924 4247,1933 4243,1945 4241,1951 4239,1959 4237,1968 4235,1976 4234,1984 4232,1993 4231,2001 4229,2009 4228,2017 4227,2025 4224,2041 4223,2050 4221,2066 4219,2082 4218,2098 4216,2113 4215,2129 4213,2145"/>
<polygon points="4213,2145 4215,2129 4216,2113 4218,2098 4219,2082 4221,2066 4223,2050 4224,2041 4227,2025 4228,2017 4229,2009 4231,2001 4232,1993 4234,1984 4235,1976 4237,1968 4239,1959 4241,1951 4243,1945 4247,1933 4250,1924 4253,1918 4254,1915 4259,1906 4263,1900 4266,1895 4238,1884 4235,1890 4231,1897 4226,1910 4225,1914 4222,1923 4219,1935 4215,1952 4213,1959 4211,1971 4209,1983 4207,1995 4206,2007 4204,2018 4203,2030 4201,2042 4200,2053 4199,2065 4196,2088 4195,2100 4193,2122 4192,2145 4190,2168 4188,2191 4187,2213 4185,2236"/>
<polygon points="4187,2213 4188,2191 4190,2168 4192,2145 4193,2122 4195,2100 4196,2088 4199,2065 4200,2053 4201,2042 4203,2030 4204,2018 4206,2007 4207,1995 4209,1983 4211,1971 4213,1959 4215,1952 4219,1935 4222,1923 4225,1914 4226,1910 4231,1897 4235,1890 4238,1884 4244,1873 4217,1860 4210,1873 4207,1881 4203,1891 4198,1908 4197,1913 4194,1925 4191,1942 4187,1964 4185,1974 4183,1990 4181,2006 4179,2022 4178,2038 4176,2054 4175,2070 4173,2086 4172,2102 4171,2117 4168,2149 4167,2166 4165,2196 4164,2227 4162,2258 4160,2289 4159,2320"/>
<polygon points="4165,2196 4167,2166 4168,2149 4171,2117 4172,2102 4173,2086 4175,2070 4176,2054 4178,2038 4179,2022 4181,2006 4183,1990 4185,1974 4187,1964 4191,1942 4194,1925 4197,1913 4198,1908 4203,1891 4207,1881 4210,1873 4217,1860 4221,1854 4193,1840 4189,1848 4182,1865 4179,1874 4175,1887 4170,1910 4169,1916 4166,1931 4163,1953 4159,1982 4158,1995 4155,2017 4153,2038 4151,2059 4150,2080 4148,2100 4147,2121 4145,2142 4144,2163 4143,2183 4141,2225 4139,2248 4137,2287"/>
</g>
<rect x="523.9" y="163.7" width="8.9" height="130.2" fill="url(#jet)"/>
<line x1="523.9" y1="163.9" x2="532.8" y2="163.9" stroke="#3a0000" stroke-width="0.5"/>
<line x1="523.9" y1="293.7" x2="532.8" y2="293.7" stroke="#00003a" stroke-width="0.5"/>
<line x1="531.5" y1="175.8" x2="532.8" y2="175.8" stroke="#222" stroke-width="0.45"/>
<line x1="523.9" y1="175.8" x2="525.2" y2="175.8" stroke="#222" stroke-width="0.45"/>
<line x1="531.5" y1="187.9" x2="532.8" y2="187.9" stroke="#222" stroke-width="0.45"/>
<line x1="523.9" y1="187.9" x2="525.2" y2="187.9" stroke="#222" stroke-width="0.45"/>
<line x1="531.5" y1="200" x2="532.8" y2="200" stroke="#222" stroke-width="0.45"/>
<line x1="523.9" y1="200" x2="525.2" y2="200" stroke="#222" stroke-width="0.45"/>
<line x1="531.5" y1="212.1" x2="532.8" y2="212.1" stroke="#222" stroke-width="0.45"/>
<line x1="523.9" y1="212.1" x2="525.2" y2="212.1" stroke="#222" stroke-width="0.45"/>
<line x1="531.5" y1="224.2" x2="532.8" y2="224.2" stroke="#222" stroke-width="0.45"/>
<line x1="523.9" y1="224.2" x2="525.2" y2="224.2" stroke="#222" stroke-width="0.45"/>
<line x1="531.5" y1="236.3" x2="532.8" y2="236.3" stroke="#222" stroke-width="0.45"/>
<line x1="523.9" y1="236.3" x2="525.2" y2="236.3" stroke="#222" stroke-width="0.45"/>
<line x1="531.5" y1="248.4" x2="532.8" y2="248.4" stroke="#222" stroke-width="0.45"/>
<line x1="523.9" y1="248.4" x2="525.2" y2="248.4" stroke="#222" stroke-width="0.45"/>
<line x1="531.5" y1="260.5" x2="532.8" y2="260.5" stroke="#222" stroke-width="0.45"/>
<line x1="523.9" y1="260.5" x2="525.2" y2="260.5" stroke="#222" stroke-width="0.45"/>
<line x1="531.5" y1="272.6" x2="532.8" y2="272.6" stroke="#222" stroke-width="0.45"/>
<line x1="523.9" y1="272.6" x2="525.2" y2="272.6" stroke="#222" stroke-width="0.45"/>
<line x1="531.5" y1="284.7" x2="532.8" y2="284.7" stroke="#222" stroke-width="0.45"/>
<line x1="523.9" y1="284.7" x2="525.2" y2="284.7" stroke="#222" stroke-width="0.45"/>
<line x1="90.7" y1="464.6" x2="40.4" y2="431" stroke="#b4b4b4" stroke-width="0.6"/>
<line x1="61.7" y1="462.5" x2="127.3" y2="437.3" stroke="#b4b4b4" stroke-width="0.6"/>
<line x1="107.1" y1="458.3" x2="56.8" y2="424.7" stroke="#b4b4b4" stroke-width="0.6"/>
<line x1="49.1" y1="454.1" x2="114.8" y2="428.9" stroke="#b4b4b4" stroke-width="0.6"/>
<line x1="123.5" y1="452" x2="73.2" y2="418.4" stroke="#b4b4b4" stroke-width="0.6"/>
<line x1="36.6" y1="445.7" x2="102.2" y2="420.5" stroke="#b4b4b4" stroke-width="0.6"/>
<line x1="40.4" y1="431" x2="40.4" y2="358.7" stroke="#b4b4b4" stroke-width="0.6"/>
<line x1="127.3" y1="437.3" x2="127.3" y2="365" stroke="#b4b4b4" stroke-width="0.6"/>
<line x1="56.8" y1="424.7" x2="56.8" y2="352.4" stroke="#b4b4b4" stroke-width="0.6"/>
<line x1="114.8" y1="428.9" x2="114.8" y2="356.6" stroke="#b4b4b4" stroke-width="0.6"/>
<line x1="73.2" y1="418.4" x2="73.2" y2="346.1" stroke="#b4b4b4" stroke-width="0.6"/>
<line x1="102.2" y1="420.5" x2="102.2" y2="348.2" stroke="#b4b4b4" stroke-width="0.6"/>
<line x1="24" y1="365" x2="89.6" y2="339.8" stroke="#b4b4b4" stroke-width="0.6"/>
<line x1="89.6" y1="339.8" x2="139.9" y2="373.4" stroke="#b4b4b4" stroke-width="0.6"/>
<line x1="24" y1="379.5" x2="89.6" y2="354.3" stroke="#b4b4b4" stroke-width="0.6"/>
<line x1="89.6" y1="354.3" x2="139.9" y2="387.9" stroke="#b4b4b4" stroke-width="0.6"/>
<line x1="24" y1="393.9" x2="89.6" y2="368.7" stroke="#b4b4b4" stroke-width="0.6"/>
<line x1="89.6" y1="368.7" x2="139.9" y2="402.3" stroke="#b4b4b4" stroke-width="0.6"/>
<line x1="24" y1="408.4" x2="89.6" y2="383.2" stroke="#b4b4b4" stroke-width="0.6"/>
<line x1="89.6" y1="383.2" x2="139.9" y2="416.8" stroke="#b4b4b4" stroke-width="0.6"/>
<line x1="24" y1="422.8" x2="89.6" y2="397.6" stroke="#b4b4b4" stroke-width="0.6"/>
<line x1="89.6" y1="397.6" x2="139.9" y2="431.2" stroke="#b4b4b4" stroke-width="0.6"/>
<line x1="24" y1="437.3" x2="89.6" y2="412.1" stroke="#b4b4b4" stroke-width="0.6"/>
<line x1="89.6" y1="412.1" x2="139.9" y2="445.7" stroke="#b4b4b4" stroke-width="0.6"/>
<line x1="24" y1="437.3" x2="89.6" y2="412.1" stroke="#b4b4b4" stroke-width="0.6"/>
<line x1="89.6" y1="412.1" x2="139.9" y2="445.7" stroke="#b4b4b4" stroke-width="0.6"/>
<line x1="89.6" y1="412.1" x2="89.6" y2="339.8" stroke="#b4b4b4" stroke-width="0.6"/>
<line x1="139.9" y1="445.7" x2="139.9" y2="373.4" stroke="#b4b4b4" stroke-width="0.6"/>
<line x1="24" y1="365" x2="89.6" y2="339.8" stroke="#b4b4b4" stroke-width="0.6"/>
<line x1="89.6" y1="339.8" x2="139.9" y2="373.4" stroke="#b4b4b4" stroke-width="0.6"/>
<line x1="24" y1="437.3" x2="74.3" y2="470.9" stroke="#8c8c8c" stroke-width="0.7"/>
<line x1="74.3" y1="470.9" x2="139.9" y2="445.7" stroke="#8c8c8c" stroke-width="0.7"/>
<line x1="24" y1="437.3" x2="24" y2="365" stroke="#cdcdcd" stroke-width="1"/>
<line x1="22.7" y1="365.5" x2="24" y2="365" stroke="#777" stroke-width="0.5"/>
<line x1="22.7" y1="380" x2="24" y2="379.5" stroke="#777" stroke-width="0.5"/>
<line x1="22.7" y1="394.4" x2="24" y2="393.9" stroke="#777" stroke-width="0.5"/>
<line x1="22.7" y1="408.9" x2="24" y2="408.4" stroke="#777" stroke-width="0.5"/>
<line x1="22.7" y1="423.3" x2="24" y2="422.8" stroke="#777" stroke-width="0.5"/>
<line x1="22.7" y1="437.8" x2="24" y2="437.3" stroke="#777" stroke-width="0.5"/>
<line x1="22.8" y1="438.2" x2="24" y2="437.3" stroke="#777" stroke-width="0.5"/>
<line x1="35.4" y1="446.6" x2="36.6" y2="445.7" stroke="#777" stroke-width="0.5"/>
<line x1="47.9" y1="455" x2="49.1" y2="454.1" stroke="#777" stroke-width="0.5"/>
<line x1="60.5" y1="463.4" x2="61.7" y2="462.5" stroke="#777" stroke-width="0.5"/>
<line x1="73.1" y1="471.8" x2="74.3" y2="470.9" stroke="#777" stroke-width="0.5"/>
<line x1="75.5" y1="471.8" x2="74.3" y2="470.9" stroke="#777" stroke-width="0.5"/>
<line x1="91.9" y1="465.5" x2="90.7" y2="464.6" stroke="#777" stroke-width="0.5"/>
<line x1="108.3" y1="459.2" x2="107.1" y2="458.3" stroke="#777" stroke-width="0.5"/>
<line x1="124.7" y1="452.9" x2="123.5" y2="452" stroke="#777" stroke-width="0.5"/>
<line x1="141.1" y1="446.6" x2="139.9" y2="445.7" stroke="#777" stroke-width="0.5"/>
<clipPath id="c2318"><rect x="0" y="0" width="146" height="509"/></clipPath>
<g transform="scale(.1)" stroke-width="7" stroke-linejoin="round">
<path class="j3" d="M790 3966l6 25-12 46-5-28z"/>
<path class="j6" d="M785 3941l5 25-11 43-6-28z"/>
<path class="j8" d="M781 3927l4 14-12 40-3-16z"/>
<path class="j9" d="M779 3916l2 11-11 38-2-11z"/>
<path class="j12" d="M773 3892l6 24-11 38-6-28z"/>
<path class="j15" d="M767 3867l6 25-11 34-7-27z"/>
<path class="j19" d="M761 3842l6 25-12 32-6-28z"/>
<path class="j22" d="M754 3817l7 25-12 29-6-27z"/>
<path class="j23" d="M753 3813l1 4-11 27-2-5z"/>
<path class="j25" d="M747 3793l6 20-12 26-5-22z"/>
<path class="j28" d="M740 3769l7 24-11 24-7-27z"/>
<path class="j29" d="M738 3763l2 6-11 21-2-7z"/>
<path class="j32" d="M733 3744l5 19-11 20-6-20z"/>
<path class="j35" d="M724 3717l9 27-12 19-9-30z"/>
<path class="j38" d="M716 3696l8 21-12 16-7-23z"/>
<path class="j40" d="M709 3677l7 19-11 14-7-21z"/>
<path class="j41" d="M708 3672l1 5-11 12-2-6z"/>
<path class="j44" d="M698 3649l10 23-12 11-9-26z"/>
<path class="j45" d="M695 3642l3 7-11 8-4-8z"/>
<path class="j48" d="M688 3626l7 16-12 7-7-18z"/>
<path class="j50" d="M680 3611l8 15-12 5-7-16z"/>
<path class="j51" d="M676 3603l4 8-11 4-4-9z"/>
<path class="j53" d="M666 3585l10 18-11 3-10-20z"/>
<path class="j54" d="M663 3581l3 4-11 1-3-5z"/>
<path class="j56" d="M652 3564l11 17-11 0-12-19z"/>
<path class="j57" d="M648 3560l4 4-12-2-4-5z"/>
<path class="j59" d="M637 3548l11 12-12-3-10-13z"/>
<path class="j60" d="M628 3540l9 8-11-4-10-9z"/>
<path class="j61" d="M623 3537l5 3-12-5-5-4z"/>
<path class="j62" d="M608 3530l15 7-12-6-14-7z"/>
<path class="j63" d="M565 3540l14-8 15-3 14 1-11-6-15-3-14 3-14 8z"/>
<path class="j62" d="M551 3552l14-12-11-8-15 14z"/>
<path class="j61" d="M536 3570l15-18-12-6-14 18z"/>
<path class="j60" d="M531 3577l5-7-11-6-5 8z"/>
<path class="j59" d="M522 3592l9-15-11-5-10 17z"/>
<path class="j57" d="M511 3612l11-20-12-3-10 21z"/>
<path class="j56" d="M507 3620l4-8-11-2-4 8z"/>
<path class="j54" d="M496 3645l11-25-11-2-12 28z"/>
<path class="j53" d="M493 3652l3-7-12 1-3 7z"/>
<path class="j51" d="M483 3677l10-25-12 1-10 27z"/>
<path class="j50" d="M478 3689l5-12-12 3-4 13z"/>
<path class="j48" d="M471 3709l7-20-11 4-7 22z"/>
<path class="j45" d="M464 3730l7-21-11 6-7 23z"/>
<path class="j44" d="M461 3740l3-10-11 8-4 10z"/>
<path class="j41" d="M451 3771l10-31-12 8-9 34z"/>
<path class="j40" d="M450 3777l1-6-11 11-2 6z"/>
<path class="j38" d="M443 3801l7-24-12 11-7 27z"/>
<path class="j35" d="M434 3832l9-31-12 14-8 33z"/>
<path class="j32" d="M426 3862l8-30-11 16-8 33z"/>
<path class="j29" d="M421 3885l5-23-11 19-6 24z"/>
<path class="j28" d="M419 3892l2-7-12 20-2 8z"/>
<path class="j25" d="M412 3922l7-30-12 21-7 33z"/>
<path class="j23" d="M406 3946l6-24-12 24-5 26z"/>
<path class="j22" d="M405 3952l1-6-11 26-2 6z"/>
<path class="j19" d="M398 3981l7-29-12 26-6 33z"/>
<path class="j15" d="M392 4011l6-30-11 30-7 33z"/>
<path class="j12" d="M386 4040l6-29-12 33-6 31z"/>
<path class="j9" d="M380 4070l6-30-12 35-6 32z"/>
<path class="j8" d="M377 4082l3-12-12 37-2 14z"/>
<path class="j6" d="M374 4099l3-17-11 39-3 18z"/>
<path class="j3" d="M368 4128l6-29-11 40-6 32z"/>
<path class="j0" d="M363 4158l5-30-11 43-5 32z"/>
<path class="j8" d="M802 3926l5 22-11 43-6-25z"/>
<path class="j11" d="M796 3904l6 22-12 40-5-25z"/>
<path class="j13" d="M793 3891l3 13-11 37-4-14z"/>
<path class="j14" d="M790 3881l3 10-12 36-2-11z"/>
<path class="j17" d="M784 3859l6 22-11 35-6-24z"/>
<path class="j20" d="M778 3837l6 22-11 33-6-25z"/>
<path class="j23" d="M772 3814l6 23-11 30-6-25z"/>
<path class="j26" d="M764 3788l1 4 7 22-11 28-7-25-1-4z"/>
<path class="j29" d="M759 3770l5 18-11 25-6-20z"/>
<path class="j31" d="M751 3748l8 22-12 23-7-24z"/>
<path class="j32" d="M750 3743l1 5-11 21-2-6z"/>
<path class="j34" d="M744 3727l6 16-12 20-5-19z"/>
<path class="j38" d="M735 3703l9 24-11 17-9-27z"/>
<path class="j40" d="M728 3684l7 19-11 14-8-21z"/>
<path class="j43" d="M719 3662l2 5 7 17-12 12-7-19-1-5z"/>
<path class="j46" d="M709 3641l10 21-11 10-10-23z"/>
<path class="j47" d="M706 3635l3 6-11 8-3-7z"/>
<path class="j49" d="M699 3621l7 14-11 7-7-16z"/>
<path class="j51" d="M692 3608l7 13-11 5-8-15z"/>
<path class="j52" d="M688 3601l4 7-12 3-4-8z"/>
<path class="j54" d="M677 3585l11 16-12 2-10-18z"/>
<path class="j55" d="M675 3581l2 4-11 0-3-4z"/>
<path class="j57" d="M663 3566l12 15-12 0-11-17z"/>
<path class="j58" d="M659 3562l4 4-11-2-4-4z"/>
<path class="j59" d="M649 3552l10 10-11-2-11-12z"/>
<path class="j61" d="M634 3542l5 3 10 7-12-4-9-8-5-3z"/>
<path class="j62" d="M620 3537l14 5-11-5-15-7z"/>
<path class="j63" d="M576 3547l15-8 14-3 15 1-12-7-14-1-15 3-14 8z"/>
<path class="j62" d="M562 3559l14-12-11-7-14 12z"/>
<path class="j61" d="M542 3582l6-6 14-17-11-7-15 18-5 7z"/>
<path class="j59" d="M533 3596l9-14-11-5-9 15z"/>
<path class="j58" d="M522 3615l11-19-11-4-11 20z"/>
<path class="j57" d="M519 3622l3-7-11-3-4 8z"/>
<path class="j55" d="M507 3645l12-23-12-2-11 25z"/>
<path class="j54" d="M504 3651l3-6-11 0-3 7z"/>
<path class="j52" d="M494 3675l10-24-11 1-10 25z"/>
<path class="j51" d="M490 3685l4-10-11 2-5 12z"/>
<path class="j49" d="M483 3704l7-19-12 4-7 20z"/>
<path class="j47" d="M475 3724l8-20-12 5-7 21z"/>
<path class="j46" d="M472 3733l3-9-11 6-3 10z"/>
<path class="j43" d="M461 3766l2-5 9-28-11 7-10 31-1 6z"/>
<path class="j40" d="M454 3789l7-23-11 11-7 24z"/>
<path class="j37" d="M446 3817l8-28-11 12-9 31z"/>
<path class="j34" d="M438 3844l8-27-12 15-8 30z"/>
<path class="j32" d="M432 3865l6-21-12 18-5 23z"/>
<path class="j31" d="M430 3872l2-7-11 20-2 7z"/>
<path class="j29" d="M423 3899l7-27-11 20-7 30z"/>
<path class="j26" d="M416 3926l2-5 5-22-11 23-6 24-1 6z"/>
<path class="j23" d="M410 3954l6-28-11 26-7 29z"/>
<path class="j20" d="M403 3981l7-27-12 27-6 30z"/>
<path class="j17" d="M397 4008l6-27-11 30-6 29z"/>
<path class="j14" d="M391 4034l6-26-11 32-6 30z"/>
<path class="j13" d="M389 4046l2-12-11 36-3 12z"/>
<path class="j11" d="M385 4061l4-15-12 36-3 17z"/>
<path class="j8" d="M380 4088l5-27-11 38-6 29z"/>
<path class="j5" d="M374 4115l6-27-12 40-5 30z"/>
<path class="j13" d="M813 3888l6 20-12 40-5-22z"/>
<path class="j16" d="M808 3868l5 20-11 38-6-22z"/>
<path class="j17" d="M804 3856l4 12-12 36-3-13z"/>
<path class="j19" d="M802 3848l2 8-11 35-3-10z"/>
<path class="j21" d="M796 3828l6 20-12 33-6-22z"/>
<path class="j24" d="M790 3808l6 20-12 31-6-22z"/>
<path class="j26" d="M783 3788l7 20-12 29-6-23z"/>
<path class="j29" d="M777 3769l6 19-11 26-7-22z"/>
<path class="j30" d="M775 3765l2 4-12 23-1-4z"/>
<path class="j32" d="M770 3749l5 16-11 23-5-18z"/>
<path class="j34" d="M763 3730l7 19-11 21-8-22z"/>
<path class="j35" d="M761 3725l2 5-12 18-1-5z"/>
<path class="j37" d="M755 3710l6 15-11 18-6-16z"/>
<path class="j40" d="M747 3689l8 21-11 17-9-24z"/>
<path class="j42" d="M739 3672l8 17-12 14-7-19z"/>
<path class="j44" d="M732 3657l7 15-11 12-7-17z"/>
<path class="j45" d="M730 3653l2 4-11 10-2-5z"/>
<path class="j48" d="M718 3629l3 6 9 18-11 9-10-21-3-6z"/>
<path class="j50" d="M711 3616l7 13-12 6-7-14z"/>
<path class="j52" d="M703 3605l8 11-12 5-7-13z"/>
<path class="j53" d="M699 3599l4 6-11 3-4-7z"/>
<path class="j55" d="M689 3585l10 14-11 2-11-16z"/>
<path class="j56" d="M686 3581l3 4-12 0-2-4z"/>
<path class="j58" d="M671 3565l3 4 12 12-11 0-12-15-4-4z"/>
<path class="j60" d="M660 3556l11 9-12-3-10-10z"/>
<path class="j61" d="M646 3548l5 3 9 5-11-4-10-7-5-3z"/>
<path class="j63" d="M573 3566l15-12 14-7 15-4 14 1 15 4-12-6-14-5-15-1-14 3-15 8-14 12z"/>
<path class="j61" d="M554 3588l5-7 14-15-11-7-14 17-6 6z"/>
<path class="j60" d="M545 3601l9-13-12-6-9 14z"/>
<path class="j58" d="M530 3624l4-6 11-17-12-5-11 19-3 7z"/>
<path class="j56" d="M518 3646l12-22-11-2-12 23z"/>
<path class="j55" d="M516 3651l2-5-11-1-3 6z"/>
<path class="j53" d="M505 3673l11-22-12 0-10 24z"/>
<path class="j52" d="M501 3682l4-9-11 2-4 10z"/>
<path class="j50" d="M494 3700l7-18-11 3-7 19z"/>
<path class="j48" d="M484 3726l3-8 7-18-11 4-8 20-3 9z"/>
<path class="j45" d="M474 3752l10-26-12 7-9 28z"/>
<path class="j44" d="M472 3757l2-5-11 9-2 5z"/>
<path class="j42" d="M465 3777l7-20-11 9-7 23z"/>
<path class="j40" d="M457 3803l8-26-11 12-8 28z"/>
<path class="j37" d="M449 3828l8-25-11 14-8 27z"/>
<path class="j35" d="M444 3847l5-19-11 16-6 21z"/>
<path class="j34" d="M442 3853l2-6-12 18-2 7z"/>
<path class="j32" d="M435 3878l7-25-12 19-7 27z"/>
<path class="j30" d="M429 3898l6-20-12 21-5 22z"/>
<path class="j29" d="M428 3903l1-5-11 23-2 5z"/>
<path class="j26" d="M421 3928l7-25-12 23-6 28z"/>
<path class="j24" d="M415 3953l6-25-11 26-7 27z"/>
<path class="j21" d="M409 3977l6-24-12 28-6 27z"/>
<path class="j19" d="M403 4001l6-24-12 31-6 26z"/>
<path class="j17" d="M400 4012l3-11-12 33-2 12z"/>
<path class="j16" d="M397 4026l3-14-11 34-4 15z"/>
<path class="j13" d="M391 4050l6-24-12 35-5 27z"/>
<path class="j11" d="M386 4074l5-24-11 38-6 27z"/>
<path class="j18" d="M825 3852l5 18-11 38-6-20z"/>
<path class="j21" d="M819 3835l6 17-12 36-5-20z"/>
<path class="j22" d="M816 3824l3 11-11 33-4-12z"/>
<path class="j23" d="M813 3817l3 7-12 32-2-8z"/>
<path class="j25" d="M807 3799l6 18-11 31-6-20z"/>
<path class="j28" d="M801 3782l6 17-11 29-6-20z"/>
<path class="j30" d="M795 3764l6 18-11 26-7-20z"/>
<path class="j32" d="M788 3747l7 17-12 24-6-19z"/>
<path class="j33" d="M787 3743l1 4-11 22-2-4z"/>
<path class="j35" d="M781 3729l6 14-12 22-5-16z"/>
<path class="j37" d="M774 3712l7 17-11 20-7-19z"/>
<path class="j38" d="M772 3708l2 4-11 18-2-5z"/>
<path class="j40" d="M767 3695l5 13-11 17-6-15z"/>
<path class="j42" d="M758 3676l9 19-12 15-8-21z"/>
<path class="j44" d="M751 3661l7 15-11 13-8-17z"/>
<path class="j46" d="M744 3648l7 13-12 11-7-15z"/>
<path class="j47" d="M742 3645l2 3-12 9-2-4z"/>
<path class="j49" d="M732 3629l10 16-12 8-9-18z"/>
<path class="j50" d="M729 3624l3 5-11 6-3-6z"/>
<path class="j52" d="M722 3613l7 11-11 5-7-13z"/>
<path class="j53" d="M715 3603l7 10-11 3-8-11z"/>
<path class="j54" d="M711 3597l4 6-12 2-4-6z"/>
<path class="j56" d="M698 3582l2 3 11 12-12 2-10-14-3-4z"/>
<path class="j58" d="M686 3571l12 11-12-1-12-12z"/>
<path class="j59" d="M682 3568l4 3-12-2-3-4z"/>
<path class="j60" d="M671 3561l11 7-11-3-11-9z"/>
<path class="j61" d="M662 3556l9 5-11-5-9-5z"/>
<path class="j62" d="M657 3554l5 2-11-5-5-3z"/>
<path class="j63" d="M585 3573l14-11 15-7 14-4 15 0 14 3-11-6-15-4-14-1-15 4-14 7-15 12z"/>
<path class="j62" d="M570 3587l15-14-12-7-14 15z"/>
<path class="j61" d="M565 3593l5-6-11-6-5 7z"/>
<path class="j60" d="M556 3605l9-12-11-5-9 13z"/>
<path class="j59" d="M545 3621l11-16-11-4-11 17z"/>
<path class="j58" d="M542 3627l3-6-11-3-4 6z"/>
<path class="j56" d="M527 3652l3-5 12-20-12-3-12 22-2 5z"/>
<path class="j54" d="M517 3671l10-19-11-1-11 22z"/>
<path class="j53" d="M513 3680l4-9-12 2-4 9z"/>
<path class="j52" d="M505 3696l8-16-12 2-7 18z"/>
<path class="j50" d="M498 3712l7-16-11 4-7 18z"/>
<path class="j49" d="M495 3720l3-8-11 6-3 8z"/>
<path class="j47" d="M486 3743l9-23-11 6-10 26z"/>
<path class="j46" d="M484 3748l2-5-12 9-2 5z"/>
<path class="j44" d="M477 3767l7-19-12 9-7 20z"/>
<path class="j42" d="M469 3790l8-23-12 10-8 26z"/>
<path class="j40" d="M461 3813l8-23-12 13-8 25z"/>
<path class="j38" d="M455 3830l6-17-12 15-5 19z"/>
<path class="j37" d="M453 3836l2-6-11 17-2 6z"/>
<path class="j35" d="M446 3858l7-22-11 17-7 25z"/>
<path class="j33" d="M441 3876l5-18-11 20-6 20z"/>
<path class="j32" d="M439 3881l2-5-12 22-1 5z"/>
<path class="j30" d="M433 3903l6-22-11 22-7 25z"/>
<path class="j28" d="M426 3926l7-23-12 25-6 25z"/>
<path class="j25" d="M420 3948l6-22-11 27-6 24z"/>
<path class="j23" d="M414 3970l6-22-11 29-6 24z"/>
<path class="j22" d="M412 3980l2-10-11 31-3 11z"/>
<path class="j21" d="M408 3992l4-12-12 32-3 14z"/>
<path class="j18" d="M403 4014l5-22-11 34-6 24z"/>
<path class="j16" d="M397 4037l6-23-12 36-5 24z"/>
<path class="j23" d="M836 3819l6 16-12 35-5-18z"/>
<path class="j25" d="M831 3803l5 16-11 33-6-17z"/>
<path class="j26" d="M827 3794l4 9-12 32-3-11z"/>
<path class="j27" d="M825 3788l2 6-11 30-3-7z"/>
<path class="j29" d="M819 3772l6 16-12 29-6-18z"/>
<path class="j31" d="M813 3757l6 15-12 27-6-17z"/>
<path class="j34" d="M806 3742l7 15-12 25-6-18z"/>
<path class="j36" d="M798 3723l2 3 6 16-11 22-7-17-1-4z"/>
<path class="j38" d="M793 3711l5 12-11 20-6-14z"/>
<path class="j40" d="M784 3693l2 3 7 15-12 18-7-17-2-4z"/>
<path class="j42" d="M778 3681l6 12-12 15-5-13z"/>
<path class="j44" d="M769 3665l9 16-11 14-9-19z"/>
<path class="j46" d="M762 3652l7 13-11 11-7-15z"/>
<path class="j48" d="M755 3640l7 12-11 9-7-13z"/>
<path class="j49" d="M753 3637l2 3-11 8-2-3z"/>
<path class="j51" d="M741 3619l3 4 9 14-11 8-10-16-3-5z"/>
<path class="j53" d="M733 3610l8 9-12 5-7-11z"/>
<path class="j54" d="M726 3601l7 9-11 3-7-10z"/>
<path class="j55" d="M722 3596l4 5-11 2-4-6z"/>
<path class="j57" d="M709 3583l3 3 10 10-11 1-11-12-2-3z"/>
<path class="j59" d="M694 3571l3 3 12 9-11-1-12-11-4-3z"/>
<path class="j60" d="M683 3565l11 6-12-3-11-7z"/>
<path class="j61" d="M674 3561l9 4-12-4-9-5z"/>
<path class="j62" d="M668 3560l6 1-12-5-5-2z"/>
<path class="j63" d="M596 3580l15-11 14-7 15-4 14-1 14 3-11-6-14-3-15 0-14 4-15 7-14 11z"/>
<path class="j62" d="M582 3593l14-13-11-7-15 14z"/>
<path class="j61" d="M577 3599l5-6-12-6-5 6z"/>
<path class="j60" d="M567 3610l10-11-12-6-9 12z"/>
<path class="j59" d="M553 3629l4-5 10-14-11-5-11 16-3 6z"/>
<path class="j57" d="M539 3652l2-4 12-19-11-2-12 20-3 5z"/>
<path class="j55" d="M528 3671l11-19-12 0-10 19z"/>
<path class="j54" d="M524 3678l4-7-11 0-4 9z"/>
<path class="j53" d="M517 3693l7-15-11 2-8 16z"/>
<path class="j51" d="M507 3714l3-6 7-15-12 3-7 16-3 8z"/>
<path class="j49" d="M497 3736l10-22-12 6-9 23z"/>
<path class="j48" d="M495 3740l2-4-11 7-2 5z"/>
<path class="j46" d="M488 3757l7-17-11 8-7 19z"/>
<path class="j44" d="M480 3778l8-21-11 10-8 23z"/>
<path class="j42" d="M472 3799l8-21-11 12-8 23z"/>
<path class="j40" d="M465 3820l1-6 6-15-11 14-6 17-2 6z"/>
<path class="j38" d="M457 3840l8-20-12 16-7 22z"/>
<path class="j36" d="M451 3860l1-4 5-16-11 18-5 18-2 5z"/>
<path class="j34" d="M444 3881l7-21-12 21-6 22z"/>
<path class="j31" d="M438 3901l6-20-11 22-7 23z"/>
<path class="j29" d="M432 3921l6-20-12 25-6 22z"/>
<path class="j27" d="M426 3941l6-20-12 27-6 22z"/>
<path class="j26" d="M423 3950l3-9-12 29-2 10z"/>
<path class="j25" d="M420 3961l3-11-11 30-4 12z"/>
<path class="j23" d="M414 3981l6-20-12 31-5 22z"/>
<path class="j21" d="M409 4001l5-20-11 33-6 23z"/>
<path class="j27" d="M848 3788l5 14-11 33-6-16z"/>
<path class="j29" d="M842 3775l6 13-12 31-5-16z"/>
<path class="j30" d="M839 3767l3 8-11 28-4-9z"/>
<path class="j31" d="M836 3761l3 6-12 27-2-6z"/>
<path class="j33" d="M830 3748l6 13-11 27-6-16z"/>
<path class="j35" d="M824 3734l6 14-11 24-6-15z"/>
<path class="j37" d="M818 3721l6 13-11 23-7-15z"/>
<path class="j39" d="M810 3705l1 3 7 13-12 21-6-16-2-3z"/>
<path class="j41" d="M804 3694l6 11-12 18-5-12z"/>
<path class="j42" d="M797 3681l7 13-11 17-7-15z"/>
<path class="j43" d="M795 3678l2 3-11 15-2-3z"/>
<path class="j44" d="M790 3669l5 9-11 15-6-12z"/>
<path class="j47" d="M781 3654l9 15-12 12-9-16z"/>
<path class="j48" d="M774 3643l7 11-12 11-7-13z"/>
<path class="j50" d="M765 3631l1 2 8 10-12 9-7-12-2-3z"/>
<path class="j52" d="M755 3619l10 12-12 6-9-14z"/>
<path class="j53" d="M752 3615l3 4-11 4-3-4z"/>
<path class="j54" d="M745 3607l7 8-11 4-8-9z"/>
<path class="j55" d="M738 3600l7 7-12 3-7-9z"/>
<path class="j56" d="M733 3596l5 4-12 1-4-5z"/>
<path class="j57" d="M723 3587l10 9-11 0-10-10z"/>
<path class="j58" d="M720 3585l3 2-11-1-3-3z"/>
<path class="j59" d="M709 3577l11 8-11-2-12-9z"/>
<path class="j60" d="M705 3575l4 2-12-3-3-3z"/>
<path class="j61" d="M694 3570l11 5-11-4-11-6z"/>
<path class="j62" d="M680 3566l5 1 9 3-11-5-9-4-6-1z"/>
<path class="j63" d="M608 3587l14-10 15-7 14-4 14-2 15 2-12-6-14-3-14 1-15 4-14 7-15 11z"/>
<path class="j62" d="M588 3604l5-5 15-12-12-7-14 13-5 6z"/>
<path class="j61" d="M579 3614l9-10-11-5-10 11z"/>
<path class="j60" d="M568 3628l11-14-12-4-10 14z"/>
<path class="j59" d="M564 3633l4-5-11-4-4 5z"/>
<path class="j58" d="M553 3649l11-16-11-4-12 19z"/>
<path class="j57" d="M550 3653l3-4-12-1-2 4z"/>
<path class="j56" d="M540 3670l10-17-11-1-11 19z"/>
<path class="j55" d="M536 3677l4-7-12 1-4 7z"/>
<path class="j54" d="M528 3690l8-13-12 1-7 15z"/>
<path class="j53" d="M521 3704l7-14-11 3-7 15z"/>
<path class="j52" d="M518 3710l3-6-11 4-3 6z"/>
<path class="j50" d="M507 3733l2-4 9-19-11 4-10 22-2 4z"/>
<path class="j48" d="M500 3748l7-15-12 7-7 17z"/>
<path class="j46" d="M491 3767l9-19-12 9-8 21z"/>
<path class="j44" d="M484 3786l7-19-11 11-8 21z"/>
<path class="j43" d="M478 3800l6-14-12 13-6 15z"/>
<path class="j42" d="M476 3805l2-5-12 14-1 6z"/>
<path class="j41" d="M469 3823l7-18-11 15-8 20z"/>
<path class="j39" d="M462 3842l1-4 6-15-12 17-5 16-1 4z"/>
<path class="j37" d="M455 3860l7-18-11 18-7 21z"/>
<path class="j35" d="M449 3879l6-19-11 21-6 20z"/>
<path class="j33" d="M443 3896l6-17-11 22-6 20z"/>
<path class="j31" d="M437 3914l6-18-11 25-6 20z"/>
<path class="j30" d="M435 3922l2-8-11 27-3 9z"/>
<path class="j29" d="M431 3932l4-10-12 28-3 11z"/>
<path class="j27" d="M426 3950l5-18-11 29-6 20z"/>
<path class="j25" d="M420 3968l6-18-12 31-5 20z"/>
<path class="j31" d="M859 3760l6 11-12 31-5-14z"/>
<path class="j33" d="M853 3748l6 12-11 28-6-13z"/>
<path class="j34" d="M850 3741l3 7-11 27-3-8z"/>
<path class="j35" d="M848 3736l2 5-11 26-3-6z"/>
<path class="j36" d="M842 3725l6 11-12 25-6-13z"/>
<path class="j38" d="M836 3713l6 12-12 23-6-14z"/>
<path class="j40" d="M829 3702l7 11-12 21-6-13z"/>
<path class="j41" d="M823 3690l6 12-11 19-7-13z"/>
<path class="j42" d="M821 3688l2 2-12 18-1-3z"/>
<path class="j43" d="M816 3679l5 9-11 17-6-11z"/>
<path class="j45" d="M807 3665l2 3 7 11-12 15-7-13-2-3z"/>
<path class="j47" d="M801 3657l6 8-12 13-5-9z"/>
<path class="j48" d="M792 3645l9 12-11 12-9-15z"/>
<path class="j50" d="M785 3636l7 9-11 9-7-11z"/>
<path class="j51" d="M778 3627l7 9-11 7-8-10z"/>
<path class="j52" d="M776 3625l2 2-12 6-1-2z"/>
<path class="j53" d="M767 3615l9 10-11 6-10-12z"/>
<path class="j54" d="M763 3612l4 3-12 4-3-4z"/>
<path class="j55" d="M756 3605l7 7-11 3-7-8z"/>
<path class="j56" d="M749 3599l7 6-11 2-7-7z"/>
<path class="j57" d="M745 3596l4 3-11 1-5-4z"/>
<path class="j58" d="M732 3587l3 2 10 7-12 0-10-9-3-2z"/>
<path class="j60" d="M716 3579l4 2 12 6-12-2-11-8-4-2z"/>
<path class="j61" d="M706 3575l10 4-11-4-11-5z"/>
<path class="j62" d="M691 3572l5 1 10 2-12-5-9-3-5-1z"/>
<path class="j63" d="M619 3593l15-9 14-7 14-4 15-2 14 1-11-6-15-2-14 2-14 4-15 7-14 10z"/>
<path class="j62" d="M600 3610l5-5 14-12-11-6-15 12-5 5z"/>
<path class="j61" d="M590 3619l10-9-12-6-9 10z"/>
<path class="j60" d="M576 3636l4-5 10-12-11-5-11 14-4 5z"/>
<path class="j58" d="M561 3655l3-4 12-15-12-3-11 16-3 4z"/>
<path class="j57" d="M551 3670l10-15-11-2-10 17z"/>
<path class="j56" d="M547 3677l4-7-11 0-4 7z"/>
<path class="j55" d="M540 3688l7-11-11 0-8 13z"/>
<path class="j54" d="M533 3701l7-13-12 2-7 14z"/>
<path class="j53" d="M529 3706l4-5-12 3-3 6z"/>
<path class="j52" d="M520 3724l9-18-11 4-9 19z"/>
<path class="j51" d="M518 3727l2-3-11 5-2 4z"/>
<path class="j50" d="M511 3741l7-14-11 6-7 15z"/>
<path class="j48" d="M503 3758l8-17-11 7-9 19z"/>
<path class="j47" d="M495 3775l8-17-12 9-7 19z"/>
<path class="j45" d="M487 3791l2-4 6-12-11 11-6 14-2 5z"/>
<path class="j43" d="M480 3808l7-17-11 14-7 18z"/>
<path class="j42" d="M475 3821l5-13-11 15-6 15z"/>
<path class="j41" d="M473 3825l2-4-12 17-1 4z"/>
<path class="j40" d="M467 3841l6-16-11 17-7 18z"/>
<path class="j38" d="M460 3858l7-17-12 19-6 19z"/>
<path class="j36" d="M454 3873l6-15-11 21-6 17z"/>
<path class="j35" d="M448 3890l6-17-11 23-6 18z"/>
<path class="j34" d="M446 3896l2-6-11 24-2 8z"/>
<path class="j33" d="M443 3906l3-10-11 26-4 10z"/>
<path class="j31" d="M437 3922l6-16-12 26-5 18z"/>
<path class="j30" d="M432 3938l5-16-11 28-6 18z"/>
<path class="j35" d="M870 3733l6 10-11 28-6-11z"/>
<path class="j37" d="M865 3723l5 10-11 27-6-12z"/>
<path class="j38" d="M859 3713l3 5 3 5-12 25-3-7-2-5z"/>
<path class="j40" d="M853 3704l6 9-11 23-6-11z"/>
<path class="j41" d="M847 3694l6 10-11 21-6-12z"/>
<path class="j43" d="M841 3684l6 10-11 19-7-11z"/>
<path class="j44" d="M833 3673l1 2 7 9-12 18-6-12-2-2z"/>
<path class="j46" d="M827 3665l6 8-12 15-5-9z"/>
<path class="j47" d="M820 3656l7 9-11 14-7-11z"/>
<path class="j48" d="M818 3654l2 2-11 12-2-3z"/>
<path class="j49" d="M813 3647l5 7-11 11-6-8z"/>
<path class="j50" d="M804 3637l9 10-12 10-9-12z"/>
<path class="j52" d="M796 3629l8 8-12 8-7-9z"/>
<path class="j53" d="M788 3620l1 2 7 7-11 7-7-9-2-2z"/>
<path class="j55" d="M775 3609l3 3 10 8-12 5-9-10-4-3z"/>
<path class="j56" d="M768 3604l7 5-12 3-7-7z"/>
<path class="j57" d="M760 3599l8 5-12 1-7-6z"/>
<path class="j58" d="M756 3596l4 3-11 0-4-3z"/>
<path class="j59" d="M743 3589l3 1 10 6-11 0-10-7-3-2z"/>
<path class="j60" d="M732 3584l11 5-11-2-12-6z"/>
<path class="j61" d="M717 3580l11 3 4 1-12-3-4-2-10-4z"/>
<path class="j62" d="M703 3578l5 1 9 1-11-5-10-2-5-1z"/>
<path class="j63" d="M631 3600l14-8 14-7 15-4 14-3 15 0-12-6-14-1-15 2-14 4-14 7-15 9z"/>
<path class="j62" d="M611 3616l5-5 15-11-12-7-14 12-5 5z"/>
<path class="j61" d="M591 3636l11-12 9-8-11-6-10 9-10 12z"/>
<path class="j60" d="M587 3640l4-4-11-5-4 5z"/>
<path class="j59" d="M573 3657l3-4 11-13-11-4-12 15-3 4z"/>
<path class="j58" d="M563 3671l10-14-12-2-10 15z"/>
<path class="j57" d="M558 3676l5-5-12-1-4 7z"/>
<path class="j56" d="M551 3687l7-11-11 1-7 11z"/>
<path class="j55" d="M541 3703l3-5 7-11-11 1-7 13-4 5z"/>
<path class="j53" d="M530 3722l1-3 10-16-12 3-9 18-2 3z"/>
<path class="j52" d="M523 3734l7-12-12 5-7 14z"/>
<path class="j50" d="M514 3749l9-15-12 7-8 17z"/>
<path class="j49" d="M506 3765l8-16-11 9-8 17z"/>
<path class="j48" d="M501 3776l5-11-11 10-6 12z"/>
<path class="j47" d="M499 3779l2-3-12 11-2 4z"/>
<path class="j46" d="M492 3794l7-15-12 12-7 17z"/>
<path class="j44" d="M485 3809l1-3 6-12-12 14-5 13-2 4z"/>
<path class="j43" d="M478 3824l7-15-12 16-6 16z"/>
<path class="j41" d="M472 3838l6-14-11 17-7 17z"/>
<path class="j40" d="M466 3852l6-14-12 20-6 15z"/>
<path class="j38" d="M457 3873l3-6 6-15-12 21-6 17-2 6z"/>
<path class="j37" d="M454 3881l3-8-11 23-3 10z"/>
<path class="j35" d="M448 3895l6-14-11 25-6 16z"/>
<path class="j34" d="M443 3910l5-15-11 27-5 16z"/>
<path class="j39" d="M882 3709l5 9-11 25-6-10z"/>
<path class="j40" d="M876 3701l6 8-12 24-5-10z"/>
<path class="j41" d="M870 3693l3 3 3 5-11 22-3-5-3-5z"/>
<path class="j43" d="M865 3685l5 8-11 20-6-9z"/>
<path class="j44" d="M858 3677l7 8-12 19-6-10z"/>
<path class="j45" d="M852 3669l6 8-11 17-6-10z"/>
<path class="j47" d="M844 3659l1 2 7 8-11 15-7-9-1-2z"/>
<path class="j48" d="M839 3653l5 6-11 14-6-8z"/>
<path class="j49" d="M831 3645l8 8-12 12-7-9z"/>
<path class="j50" d="M830 3644l1 1-11 11-2-2z"/>
<path class="j51" d="M824 3638l6 6-12 10-5-7z"/>
<path class="j52" d="M815 3630l9 8-11 9-9-10z"/>
<path class="j53" d="M808 3623l7 7-11 7-8-8z"/>
<path class="j54" d="M799 3616l2 2 7 5-12 6-7-7-1-2z"/>
<path class="j56" d="M786 3608l3 2 10 6-11 4-10-8-3-3z"/>
<path class="j57" d="M779 3603l7 5-11 1-7-5z"/>
<path class="j58" d="M768 3597l4 2 7 4-11 1-8-5-4-3z"/>
<path class="j59" d="M757 3593l11 4-12-1-10-6z"/>
<path class="j60" d="M755 3592l2 1-11-3-3-1z"/>
<path class="j61" d="M739 3587l4 1 12 4-12-3-11-5-4-1z"/>
<path class="j62" d="M714 3584l5 1 10 0 10 2-11-4-11-3-9-1-5-1z"/>
<path class="j63" d="M642 3608l14-9 15-6 14-5 15-3 14-1-11-6-15 0-14 3-15 4-14 7-14 8z"/>
<path class="j62" d="M613 3630l9-8 6-4 14-10-11-8-15 11-5 5-9 8z"/>
<path class="j61" d="M599 3644l3-4 11-10-11-6-11 12-4 4z"/>
<path class="j60" d="M587 3656l12-12-12-4-11 13z"/>
<path class="j59" d="M584 3659l3-3-11-3-3 4z"/>
<path class="j58" d="M570 3677l4-5 10-13-11-2-10 14-5 5z"/>
<path class="j57" d="M563 3686l7-9-12-1-7 11z"/>
<path class="j56" d="M552 3701l3-5 8-10-12 1-7 11-3 5z"/>
<path class="j54" d="M541 3718l2-3 9-14-11 2-10 16-1 3z"/>
<path class="j53" d="M534 3729l7-11-11 4-7 12z"/>
<path class="j52" d="M526 3742l8-13-11 5-9 15z"/>
<path class="j51" d="M518 3756l8-14-12 7-8 16z"/>
<path class="j50" d="M512 3766l6-10-12 9-5 11z"/>
<path class="j49" d="M510 3769l2-3-11 10-2 3z"/>
<path class="j48" d="M503 3782l7-13-11 10-7 15z"/>
<path class="j47" d="M496 3795l2-3 5-10-11 12-6 12-1 3z"/>
<path class="j45" d="M490 3808l6-13-11 14-7 15z"/>
<path class="j44" d="M483 3821l7-13-12 16-6 14z"/>
<path class="j43" d="M477 3834l6-13-11 17-6 14z"/>
<path class="j41" d="M469 3852l2-6 6-12-11 18-6 15-3 6z"/>
<path class="j40" d="M466 3859l3-7-12 21-3 8z"/>
<path class="j39" d="M460 3871l6-12-12 22-6 14z"/>
<path class="j38" d="M454 3884l6-13-12 24-5 15z"/>
<path class="j42" d="M893 3688l6 6-12 24-5-9z"/>
<path class="j43" d="M888 3681l5 7-11 21-6-8z"/>
<path class="j44" d="M884 3677l4 4-12 20-3-5z"/>
<path class="j45" d="M882 3674l2 3-11 19-3-3z"/>
<path class="j46" d="M876 3668l6 6-12 19-5-8z"/>
<path class="j47" d="M870 3661l6 7-11 17-7-8z"/>
<path class="j48" d="M863 3655l7 6-12 16-6-8z"/>
<path class="j49" d="M856 3647l1 2 6 6-11 14-7-8-1-2z"/>
<path class="j50" d="M850 3642l6 5-12 12-5-6z"/>
<path class="j51" d="M841 3635l2 1 7 6-11 11-8-8-1-1z"/>
<path class="j52" d="M835 3630l6 5-11 9-6-6z"/>
<path class="j54" d="M827 3624l8 6-11 8-9-8z"/>
<path class="j55" d="M812 3614l7 5 8 5-12 6-7-7-7-5z"/>
<path class="j56" d="M810 3613l2 1-11 4-2-2z"/>
<path class="j57" d="M798 3606l3 2 9 5-11 3-10-6-3-2z"/>
<path class="j58" d="M791 3603l7 3-12 2-7-5z"/>
<path class="j59" d="M779 3599l4 1 8 3-12 0-7-4-4-2z"/>
<path class="j60" d="M766 3595l3 0 10 4-11-2-11-4-2-1z"/>
<path class="j61" d="M751 3592l3 0 12 3-11-3-12-4-4-1z"/>
<path class="j62" d="M731 3591l9 0 11 1-12-5-10-2-10 0z"/>
<path class="j63" d="M639 3624l14-9 15-8 14-7 15-4 14-4 15-1 5 0-12-6-5-1-14 1-15 3-14 5-15 6-14 9-14 10z"/>
<path class="j62" d="M625 3635l9-7 5-4-11-6-6 4-9 8z"/>
<path class="j61" d="M610 3648l4-4 11-9-12-5-11 10-3 4z"/>
<path class="j60" d="M596 3662l2-3 12-11-11-4-12 12-3 3z"/>
<path class="j59" d="M581 3678l5-5 10-11-12-3-10 13-4 5z"/>
<path class="j58" d="M574 3686l7-8-11-1-7 9z"/>
<path class="j57" d="M564 3699l3-4 7-9-11 0-8 10-3 5z"/>
<path class="j56" d="M554 3712l10-13-12 2-9 14z"/>
<path class="j55" d="M545 3724l7-10 2-2-11 3-2 3-7 11z"/>
<path class="j53" d="M537 3736l8-12-11 5-8 13z"/>
<path class="j52" d="M529 3748l8-12-11 6-8 14z"/>
<path class="j51" d="M522 3760l2-3 5-9-11 8-6 10-2 3z"/>
<path class="j50" d="M515 3771l7-11-12 9-7 13z"/>
<path class="j49" d="M508 3783l1-3 6-9-12 11-5 10-2 3z"/>
<path class="j48" d="M501 3794l7-11-12 12-6 13z"/>
<path class="j47" d="M495 3806l6-12-11 14-7 13z"/>
<path class="j46" d="M489 3817l6-11-12 15-6 13z"/>
<path class="j45" d="M483 3828l6-11-12 17-6 12z"/>
<path class="j44" d="M480 3832l3-4-12 18-2 6z"/>
<path class="j43" d="M477 3839l3-7-11 20-3 7z"/>
<path class="j42" d="M471 3850l6-11-11 20-6 12z"/>
<path class="j41" d="M466 3861l5-11-11 21-6 13z"/>
<path class="j45" d="M905 3668l5 6-11 20-6-6z"/>
<path class="j46" d="M899 3663l6 5-12 20-5-7z"/>
<path class="j47" d="M893 3658l3 2 3 3-11 18-4-4-2-3z"/>
<path class="j48" d="M887 3653l6 5-11 16-6-6z"/>
<path class="j49" d="M881 3648l6 5-11 15-6-7z"/>
<path class="j50" d="M875 3643l6 5-11 13-7-6z"/>
<path class="j51" d="M867 3637l1 1 7 5-12 12-6-6-1-2z"/>
<path class="j52" d="M861 3633l6 4-11 10-6-5z"/>
<path class="j53" d="M853 3627l1 1 7 5-11 9-7-6-2-1z"/>
<path class="j54" d="M847 3624l6 3-12 8-6-5z"/>
<path class="j55" d="M838 3619l9 5-12 6-8-6z"/>
<path class="j56" d="M831 3615l7 4-11 5-8-5z"/>
<path class="j57" d="M822 3611l2 1 7 3-12 4-7-5-2-1z"/>
<path class="j58" d="M809 3606l3 1 10 4-12 2-9-5-3-2z"/>
<path class="j59" d="M795 3602l7 2 7 2-11 0-7-3-8-3z"/>
<path class="j60" d="M780 3599l11 2 4 1-12-2-4-1-10-4z"/>
<path class="j61" d="M766 3597l12 1 2 1-11-4-3 0-12-3z"/>
<path class="j62" d="M751 3596l11 1 4 0-12-5-3 0-11-1z"/>
<path class="j63" d="M645 3634l5-3 15-9 14-8 15-6 14-5 15-3 14-3 5 0 9-1-11-5-9 0-5 0-15 1-14 4-15 4-14 7-15 8-14 9-5 4z"/>
<path class="j62" d="M625 3649l11-8 9-7-11-6-9 7-11 9z"/>
<path class="j61" d="M610 3663l12-11 3-3-11-5-4 4-12 11z"/>
<path class="j60" d="M597 3675l10-10 3-2-12-4-2 3-10 11z"/>
<path class="j59" d="M586 3687l7-8 4-4-11-2-5 5-7 8z"/>
<path class="j58" d="M575 3698l3-3 8-8-12-1-7 9-3 4z"/>
<path class="j57" d="M564 3712l2-3 9-11-11 1-10 13-2 2z"/>
<path class="j56" d="M557 3720l7-8-12 2-7 10z"/>
<path class="j55" d="M549 3731l8-11-12 4-8 12z"/>
<path class="j54" d="M541 3741l8-10-12 5-8 12z"/>
<path class="j53" d="M533 3752l2-3 6-8-12 7-5 9-2 3z"/>
<path class="j52" d="M526 3762l7-10-11 8-7 11z"/>
<path class="j51" d="M519 3772l2-2 5-8-11 9-6 9-1 3z"/>
<path class="j50" d="M513 3782l6-10-11 11-7 11z"/>
<path class="j49" d="M506 3792l7-10-12 12-6 12z"/>
<path class="j48" d="M500 3802l6-10-11 14-6 11z"/>
<path class="j47" d="M492 3815l2-4 6-9-11 15-6 11-3 4z"/>
<path class="j46" d="M488 3821l4-6-12 17-3 7z"/>
<path class="j45" d="M483 3831l5-10-11 18-6 11z"/>
<path class="j44" d="M477 3840l6-9-12 19-5 11z"/>
<path class="j48" d="M916 3652l6 4-12 18-5-6z"/>
<path class="j49" d="M911 3648l5 4-11 16-6-5z"/>
<path class="j50" d="M905 3644l2 1 4 3-12 15-3-3-3-2z"/>
<path class="j51" d="M893 3636l6 4 6 4-12 14-6-5-6-5z"/>
<path class="j52" d="M886 3632l7 4-12 12-6-5z"/>
<path class="j53" d="M878 3628l2 1 6 3-11 11-7-5-1-1z"/>
<path class="j54" d="M873 3625l5 3-11 9-6-4z"/>
<path class="j55" d="M864 3621l2 1 7 3-12 8-7-5-1-1z"/>
<path class="j56" d="M850 3615l8 3 6 3-11 6-6-3-9-5z"/>
<path class="j57" d="M842 3612l8 3-12 4-7-4z"/>
<path class="j58" d="M833 3610l2 0 7 2-11 3-7-3-2-1z"/>
<path class="j59" d="M821 3606l3 1 9 3-11 1-10-4-3-1z"/>
<path class="j60" d="M802 3603l4 1 7 1 8 1-12 0-7-2-7-2-4-1z"/>
<path class="j61" d="M789 3602l3 0 10 1-11-2-11-2-2-1z"/>
<path class="j62" d="M763 3602l11 0 3 0 12 0-11-4-12-1-4 0-11-1z"/>
<path class="j63" d="M657 3640l5-3 14-8 15-7 14-6 15-5 14-4 14-3 6-1 9-1-12-6-9 1-5 0-14 3-15 3-14 5-15 6-14 8-15 9-5 3z"/>
<path class="j62" d="M633 3657l4-3 10-7 10-7-12-6-9 7-11 8-3 3z"/>
<path class="j61" d="M619 3669l2-3 12-9-11-5-12 11-3 2z"/>
<path class="j60" d="M597 3688l7-7 4-4 11-8-12-4-10 10-4 4-7 8z"/>
<path class="j59" d="M587 3698l3-3 7-7-11-1-8 8-3 3z"/>
<path class="j58" d="M575 3710l2-2 10-10-12 0-9 11-2 3z"/>
<path class="j57" d="M568 3717l7-7-11 2-7 8z"/>
<path class="j56" d="M552 3736l8-9 8-10-11 3-8 11-8 10z"/>
<path class="j55" d="M545 3745l1-2 6-7-11 5-6 8-2 3z"/>
<path class="j54" d="M537 3754l8-9-12 7-7 10z"/>
<path class="j53" d="M531 3763l1-2 5-7-11 8-5 8-2 2z"/>
<path class="j52" d="M524 3771l7-8-12 9-6 10z"/>
<path class="j51" d="M512 3788l6-8 6-9-11 11-7 10-6 10z"/>
<path class="j50" d="M503 3800l3-3 6-9-12 14-6 9-2 4z"/>
<path class="j49" d="M500 3805l3-5-11 15-4 6z"/>
<path class="j48" d="M489 3822l5-8 6-9-12 16-5 10-6 9z"/>
<path class="j51" d="M928 3637l5 3-11 16-6-4z"/>
<path class="j52" d="M916 3631l3 2 3 1 6 3-12 15-5-4-4-3-2-1z"/>
<path class="j53" d="M910 3629l6 2-11 13-6-4z"/>
<path class="j54" d="M898 3623l6 3 6 3-11 11-6-4-7-4z"/>
<path class="j55" d="M890 3621l1 0 7 2-12 9-6-3-2-1z"/>
<path class="j56" d="M875 3616l2 0 7 3 6 2-12 7-5-3-7-3-2-1z"/>
<path class="j57" d="M870 3614l5 2-11 5-6-3z"/>
<path class="j58" d="M854 3611l7 1 9 2-12 4-8-3-8-3z"/>
<path class="j59" d="M845 3609l2 0 7 2-12 1-7-2-2 0z"/>
<path class="j60" d="M825 3607l7 0 3 1 10 1-12 1-9-3-3-1-8-1z"/>
<path class="j61" d="M803 3606l10 0 5 0 7 1-12-2-7-1-4-1-10-1z"/>
<path class="j62" d="M785 3607l4 0 11-1 3 0-11-4-3 0-12 0-3 0z"/>
<path class="j63" d="M659 3653l9-6 5-3 15-8 14-7 15-6 14-5 14-4 15-3 5-1 9-2 11-1-11-5-11 0-9 1-6 1-14 3-14 4-15 5-14 6-15 7-14 8-5 3-10 7z"/>
<path class="j62" d="M633 3670l11-8 4-2 11-7-12-6-10 7-4 3-12 9z"/>
<path class="j61" d="M616 3684l4-4 10-8 3-2-12-4-2 3-11 8-4 4z"/>
<path class="j60" d="M598 3699l3-3 7-6 8-6-12-3-7 7-7 7-3 3z"/>
<path class="j59" d="M587 3709l2-2 9-8-11-1-10 10-2 2z"/>
<path class="j58" d="M571 3724l9-8 7-7-12 1-7 7-8 10z"/>
<path class="j57" d="M564 3732l7-8-11 3-8 9z"/>
<path class="j56" d="M549 3748l7-8 2-2 6-6-12 4-6 7-1 2-8 9z"/>
<path class="j55" d="M542 3755l1-1 6-6-12 6-5 7-1 2z"/>
<path class="j54" d="M529 3770l6-7 7-8-11 8-7 8-6 9z"/>
<path class="j53" d="M523 3777l6-7-11 10-6 8z"/>
<path class="j52" d="M511 3792l4-4 2-3 6-8-11 11-6 9-3 3-3 5z"/>
<path class="j51" d="M506 3799l5-7-11 13-6 9z"/>
<path class="j50" d="M500 3806l6-7-12 15-5 8z"/>
<path class="j53" d="M939 3625l6 2-12 13-5-3z"/>
<path class="j54" d="M928 3621l2 1 3 1 6 2-11 12-6-3-3-1-3-2z"/>
<path class="j55" d="M916 3618l6 2 6 1-12 10-6-2-6-3z"/>
<path class="j56" d="M909 3616l7 2-12 8-6-3z"/>
<path class="j57" d="M896 3614l5 1 2 0 6 1-11 7-7-2-1 0-6-2z"/>
<path class="j58" d="M881 3611l6 1 2 1 7 1-12 5-7-3-2 0-5-2z"/>
<path class="j59" d="M865 3610l7 0 9 1-11 3-9-2-7-1z"/>
<path class="j60" d="M844 3609l3 0 9 0 2 0 7 1-11 1-7-2-2 0-10-1-3-1z"/>
<path class="j61" d="M825 3609l4 0 7 0 8 0-12-2-7 0-7-1-5 0z"/>
<path class="j62" d="M797 3612l3 0 12-1 3-1 10-1-12-3-10 0-3 0-11 1-4 0z"/>
<path class="j63" d="M670 3659l10-6 5-2 14-8 15-6 14-6 14-5 15-5 14-4 5-1 10-2 11-2-12-5-11 1-9 2-5 1-15 3-14 4-14 5-15 6-14 7-15 8-5 3-9 6z"/>
<path class="j62" d="M641 3677l3-2 12-8 4-2 10-6-11-6-11 7-4 2-11 8-3 2z"/>
<path class="j61" d="M620 3692l7-5 4-3 10-7-11-5-10 8-4 4-8 6z"/>
<path class="j60" d="M598 3709l2-1 9-8 4-2 7-6-12-2-7 6-3 3-9 8-2 2z"/>
<path class="j59" d="M583 3722l8-7 7-6-11 0-7 7-9 8z"/>
<path class="j58" d="M567 3736l2-2 6-5 8-7-12 2-7 8-6 6-2 2z"/>
<path class="j57" d="M554 3749l1-1 5-5 7-7-11 4-7 8-6 6-1 1z"/>
<path class="j56" d="M547 3756l7-7-12 6-7 8z"/>
<path class="j55" d="M534 3768l6-6 7-6-12 7-6 7-6 7z"/>
<path class="j54" d="M523 3781l3-4 2-2 6-7-11 9-6 8-2 3-4 4z"/>
<path class="j53" d="M512 3793l5-6 6-6-12 11-5 7-6 7z"/>
<path class="j55" d="M950 3615l6 1-11 11-6-2z"/>
<path class="j56" d="M939 3613l3 0 3 1 5 1-11 10-6-2-3-1-2-1z"/>
<path class="j57" d="M927 3612l6 0 6 1-11 8-6-1-6-2z"/>
<path class="j58" d="M907 3610l6 1 1 0 7 0 6 1-11 6-7-2-6-1-2 0-5-1z"/>
<path class="j59" d="M893 3610l5 0 2 0 7 0-11 4-7-1-2-1-6-1z"/>
<path class="j60" d="M869 3610l7 0 8 0 9 0-12 1-9-1-7 0-7-1z"/>
<path class="j61" d="M848 3612l7-1 3 0 10-1 1 0-11-1-2 0-9 0-3 0-8 0z"/>
<path class="j62" d="M823 3615l3 0 10-2 5 0 7-1-12-3-7 0-4 0-10 1-3 1z"/>
<path class="j63" d="M667 3673l4-2 11-6 9-5 5-2 15-7 14-7 14-5 15-6 14-4 15-5 5-1 9-2 11-3 4 0 11-3-11-4-12 1-3 0-11 2-10 2-5 1-14 4-15 5-14 5-14 6-15 6-14 8-5 2-10 6-10 6-4 2z"/>
<path class="j62" d="M638 3690l5-2 10-7 3-1 11-7-11-6-12 8-3 2-10 7-4 3z"/>
<path class="j61" d="M611 3709l10-7 3-2 7-5 7-5-11-3-7 5-7 6-4 2-9 8z"/>
<path class="j60" d="M594 3721l9-6 7-5 1-1-11-1-2 1-7 6-8 7z"/>
<path class="j59" d="M579 3733l2-1 5-4 8-7-11 1-8 7-6 5-2 2z"/>
<path class="j58" d="M558 3750l7-5 1-1 6-5 7-6-12 3-7 7-5 5-1 1-7 7z"/>
<path class="j57" d="M546 3761l6-5 6-6-11 6-7 6-6 6z"/>
<path class="j56" d="M534 3772l3-3 3-3 6-5-12 7-6 7-2 2-3 4z"/>
<path class="j55" d="M523 3782l5-5 6-5-11 9-6 6-5 6z"/>
<path class="j57" d="M962 3607l5 0-11 9-6-1z"/>
<path class="j58" d="M945 3607l5 0 3 0 3 0 6 0-12 8-5-1-3-1-3 0-6-1z"/>
<path class="j59" d="M924 3608l1 0 7 0 6-1 7 0-12 5-6 0-6-1-7 0-1 0z"/>
<path class="j60" d="M904 3610l6-1 1 0 8-1 5 0-11 3-6-1-7 0-2 0-5 0z"/>
<path class="j61" d="M879 3612l2 0 7-1 7-1 9 0-11 0-9 0-8 0-7 0-1 0z"/>
<path class="j62" d="M838 3620l10-2 4-1 7-1 7-2 3 0 10-2-11-2-10 1-3 0-7 1-7 1-5 0-10 2z"/>
<path class="j63" d="M667 3685l12-6 3-2 11-5 10-5 5-2 14-7 14-6 15-6 14-5 15-5 14-5 5-1 10-3 10-3 4-1 12-2 3-1-12-5-3 0-11 3-4 0-11 3-9 2-5 1-15 5-14 4-15 6-14 5-14 7-15 7-5 2-9 5-11 6-4 2-11 7z"/>
<path class="j62" d="M632 3705l3-2 8-4 7-4 4-3 10-5 3-2-11-5-3 1-10 7-5 2-7 5-7 5-3 2z"/>
<path class="j61" d="M606 3722l8-5 7-5 2-1 9-6-11-3-10 7-1 1-7 5-9 6z"/>
<path class="j60" d="M583 3737l7-5 2-1 6-4 8-5-12-1-8 7-5 4-2 1-7 6z"/>
<path class="j59" d="M563 3752l7-5 6-5 2-1 5-4-11 2-6 5-1 1-7 5-6 6z"/>
<path class="j58" d="M546 3765l3-3 2-1 6-5 6-4-11 4-6 5-6 5-3 3-3 3z"/>
<path class="j57" d="M534 3774l6-5 6-4-12 7-6 5-5 5z"/>
<path class="j59" d="M962 3603l2 0 4 0 5-1 6-1-12 6-5 0-6 0-3 0-3 0z"/>
<path class="j60" d="M936 3607l1 0 6-1 7-1 6-1 6-1-12 4-5 0-7 0-6 1-7 0-1 0z"/>
<path class="j61" d="M907 3612l8-2 6-1 2 0 7-1 6-1-12 1-5 0-8 1-1 0-6 1-9 0z"/>
<path class="j62" d="M863 3622l8-2 7-2 3 0 9-3 2 0 7-1 8-2-12-2-7 1-7 1-2 0-10 2-3 0-7 2-7 1z"/>
<path class="j63" d="M666 3697l10-5 2-1 12-6 4-2 11-5 9-4 5-2 14-7 15-6 14-5 15-6 14-5 15-5 5-1 9-3 11-3 4-1 11-4 3-1 10-2 4-1-11-5-4 1-10 2-3 1-12 2-4 1-10 3-10 3-5 1-14 5-15 5-14 5-15 6-14 6-14 7-5 2-10 5-11 5-3 2-12 6-3 2-10 5z"/>
<path class="j62" d="M625 3719l7-4 2-1 10-5 3-2 7-4 7-4 5-2-12-5-4 3-7 4-8 4-3 2-9 6-2 1-7 5z"/>
<path class="j61" d="M595 3737l7-5 2-1 5-3 8-5 8-4-11-2-8 5-8 5-6 4-2 1-7 5z"/>
<path class="j60" d="M569 3753l6-4 6-4 7-4 1-1 6-3-12 0-5 4-2 1-6 5-7 5-6 4z"/>
<path class="j59" d="M546 3768l5-4 6-4 3-2 3-1 6-4-12 3-6 5-2 1-3 3-6 4-6 5z"/>
<path class="j60" d="M985 3599l5-1-11 3-6 1z"/>
<path class="j61" d="M947 3608l1-1 7-1 6-2 6-1 6-1 3-1 3-1 6-1-12 3-5 1-4 0-2 0-6 1-6 1-7 1-6 1-1 0z"/>
<path class="j62" d="M902 3619l2 0 7-2 7-2 9-3 6-1 1 0 7-2 6-1-11-1-6 1-7 1-2 0-6 1-8 2-8 2-7 1-2 0z"/>
<path class="j63" d="M655 3713l3-2 8-3 7-3 4-2 10-5 3-1 12-6 3-1 11-5 9-4 5-2 15-6 14-6 15-6 14-5 15-5 14-5 5-2 10-3 10-4 4-1 12-4 2-1 11-3 4-1 7-2 7-2 3-1 10-3-12-4-9 3-3 0-7 2-8 2-4 1-10 2-3 1-11 4-4 1-11 3-9 3-5 1-15 5-14 5-15 6-14 5-15 6-14 7-5 2-9 4-11 5-4 2-12 6-2 1-10 5-5 2-7 4-7 4-3 2z"/>
<path class="j62" d="M606 3738l7-4 2-1 6-3 8-4 8-4 7-4 2 0 9-5-11-4-10 5-2 1-7 4-8 4-8 5-5 3-2 1-7 5z"/>
<path class="j61" d="M568 3758l4-2 2-1 6-3 6-4 7-3 6-4 2 0 5-3-11-1-6 3-1 1-7 4-6 4-6 4-6 4-3 1-3 2z"/>
<path class="j60" d="M557 3764l6-3 5-3-11 2-6 4-5 4z"/>
<path class="j61" d="M996 3599l6-2-12 1-5 1z"/>
<path class="j62" d="M938 3616l6-2 2 0 7-3 5-1 2-1 6-2 7-2 6-1 6-2 2-1 4-1 5-1-11 0-6 1-3 1-3 1-6 1-6 1-6 2-7 1-1 1-6 1-7 2-1 0-6 1z"/>
<path class="j63" d="M640 3730l8-4 7-3 2-1 10-4 3-1 7-4 7-3 4-2 11-4 2-1 12-5 4-2 10-4 10-4 5-2 14-6 15-5 14-6 15-5 14-6 15-5 5-2 9-3 11-4 3-1 12-4 3-1 10-4 4-1 7-3 8-2 3-1 9-3 2-1 7-2 8-2 8-3-11-4-9 3-7 2-7 2-2 0-10 3-3 1-7 2-7 2-4 1-11 3-2 1-12 4-4 1-10 4-10 3-5 2-14 5-15 5-14 5-15 6-14 6-15 6-5 2-9 4-11 5-3 1-12 6-3 1-10 5-4 2-7 3-8 3-3 2-9 5-2 0-7 4-8 4z"/>
<path class="j62" d="M580 3758l3-2 3-1 6-3 6-3 6-3 7-3 1 0 6-3 7-3 1-1 6-3 8-3-11-4-8 4-6 3-2 1-7 4-5 3-2 0-6 4-7 3-6 4-6 3-2 1-4 2z"/>
<path class="j61" d="M569 3763l5-2 6-3-12 0-5 3-6 3z"/>
<path class="j62" d="M996 3604l3-1 3-1 6-2 5-2-11-1-6 2-5 1-4 1-2 1z"/>
<path class="j63" d="M603 3755l6-3 7-2 6-3 1-1 6-2 7-3 2-1 6-2 7-3 9-4 7-3 2 0 9-4 3-2 7-2 8-3 4-2 10-4 3-1 11-5 4-1 11-5 9-3 5-2 15-6 14-6 15-5 14-6 15-5 14-6 5-2 9-3 11-4 4-1 11-5 3-1 10-3 5-2 7-3 7-2 3-1 10-4 2 0 7-3 7-3 9-3 5-2 2 0 7-3 6-2 1 0 7-2 6-3 6-2 6-2-11-2-6 2-6 1-7 2-6 2-2 1-5 1-7 3-2 0-6 2-8 3-8 2-7 2-2 1-9 3-3 1-8 2-7 3-4 1-10 4-3 1-12 4-3 1-11 4-9 3-5 2-15 5-14 6-15 5-14 6-15 5-14 6-5 2-10 4-10 4-4 2-12 5-2 1-11 4-4 2-7 3-7 4-3 1-10 4-2 1-7 3-8 4-8 3-6 3-1 1-7 3-6 3-1 0-7 3-6 3-6 3z"/>
<path class="j62" d="M580 3765l6-3 5-2 4-1 2-1 6-3-11-3-6 3-3 1-3 2-6 3-5 2z"/>
<path class="j63" d="M592 3769l5-2 6-3 3-1 2-1 6-2 6-3 7-2 7-3 1 0 5-2 8-3 1-1 6-2 8-3 8-4 7-2 2-1 9-4 4-1 7-3 7-3 4-1 10-4 3-1 12-5 4-1 10-4 10-4 5-2 14-6 15-5 14-6 15-5 14-6 14-5 5-2 10-4 11-4 3-1 12-5 3-1 10-4 4-1 7-3 8-3 3-1 9-3 2-1 7-3 7-3 9-3 6-2 2-1 7-2 5-2 2-1 6-2 7-3 6-2 6-2 2-1 3-1 6-3 6-2-12-4-5 2-6 2-3 1-3 1-6 2-6 2-6 3-7 2-1 0-6 2-7 3-2 0-5 2-9 3-7 3-7 3-2 0-10 4-3 1-7 2-7 3-5 2-10 3-3 1-11 5-4 1-11 4-9 3-5 2-14 6-15 5-14 6-15 5-14 6-15 6-5 2-9 3-11 5-4 1-11 5-3 1-10 4-4 2-8 3-7 2-3 2-9 4-2 0-7 3-9 4-7 3-6 2-2 1-7 3-6 2-1 1-6 3-7 2-6 3-6 3-2 1-4 1-5 2-6 3z"/>
<path class="j63" d="M603 3775l6-2 5-2 3-1 3-1 6-3 6-2 6-2 7-3 1 0 6-3 7-2 2-1 5-2 8-3 9-3 7-3 1-1 10-3 3-2 7-2 7-3 5-2 10-4 3-1 11-4 4-2 11-4 9-3 5-2 15-6 14-5 14-6 15-6 14-5 15-6 5-2 9-3 11-4 4-2 11-4 3-1 10-4 5-2 7-3 7-2 3-2 10-3 1-1 7-3 8-2 9-4 5-2 2-1 7-2 6-3 1 0 7-3 6-2 6-2 6-3 3-1 3-1 5-2 6-2-11-7-6 2-6 3-3 1-2 1-6 2-6 2-7 3-6 2-2 1-5 2-7 2-2 1-6 2-9 3-7 3-7 3-2 1-9 3-3 1-8 3-7 3-4 1-10 4-3 1-12 5-3 1-11 4-10 4-5 2-14 5-14 6-15 5-14 6-15 5-14 6-5 2-10 4-10 4-4 1-12 5-3 1-10 4-4 1-7 3-7 3-4 1-9 4-2 1-7 2-8 4-8 3-6 2-1 1-8 3-5 2-1 0-7 3-7 2-6 3-6 2-2 1-3 1-6 3-5 2z"/>
<path class="j63" d="M631 3801l5-2 6-3 3-1 3-1 6-3 6-3 6-3 7-3 1 0 6-3 7-3 2 0 5-3 8-3 9-4 7-3 1-1 10-4 3-1 7-3 7-3 5-2 10-4 3-1 11-5 4-1 11-5 9-3 5-2 15-6 14-6 14-5 15-6 14-5 15-6 5-2 9-3 11-4 4-1 11-4 3-1 10-4 4-2 8-2 7-3 3-1 10-3 1-1 7-2 8-3 9-2 5-2 2-1 7-2 6-2 1-1 7-2 6-2 6-2 6-2 2-1 4-1 5-1 6-2-28-26-6 2-5 2-3 1-3 1-6 3-6 2-6 2-7 3-1 0-6 3-7 2-2 1-5 2-9 4-8 2-7 3-1 1-10 3-3 2-7 2-7 3-5 2-10 4-3 1-11 4-4 2-11 4-9 3-5 2-15 6-14 5-15 6-14 6-14 5-15 6-5 2-9 3-11 4-4 2-11 4-3 1-10 4-5 2-7 3-7 2-3 2-10 3-1 1-7 3-9 3-8 3-5 2-2 1-7 2-6 3-1 0-7 3-6 2-6 2-6 3-3 1-3 1-5 2-6 2z"/>
<path class="j60" d="M1086 3676l6 0-28-41-6 2z"/>
<path class="j61" d="M1049 3682l1-1 7-1 6-1 6-1 6 0 2-1 4 0 5-1-28-39-5 1-4 1-2 1-6 2-6 2-6 2-7 2-1 1z"/>
<path class="j62" d="M1003 3690l2 0 7-1 8-2 8-2 6-1 2 0 7-1 6-1-28-33-6 2-7 2-2 1-5 2-9 2-8 3-7 2-1 1z"/>
<path class="j63" d="M757 3784l3-2 7-4 7-3 5-3 10-5 3-1 11-6 4-1 11-5 9-5 5-2 15-6 14-6 14-6 15-5 14-5 15-5 5-2 9-3 11-3 4-1 11-3 3-1 10-3 4-1 8-2 7-2 3 0 9-3-27-26-10 3-3 1-7 3-8 2-4 2-10 4-3 1-11 4-4 1-11 4-9 3-5 2-15 6-14 5-15 6-14 5-14 6-15 6-5 2-9 3-11 5-4 1-11 5-3 1-10 4-5 2-7 3-7 3-3 1z"/>
<path class="j62" d="M708 3811l7-4 2-1 5-3 8-5 8-4 8-4 1-1 10-5-28-26-10 4-1 1-7 3-9 4-8 3-5 3-2 0-7 3z"/>
<path class="j61" d="M670 3835l3-2 3-2 6-4 6-3 6-4 7-4 1-1 6-4-28-32-6 3-1 0-7 3-6 3-6 3-6 3-3 1-3 1z"/>
<path class="j60" d="M659 3842l5-4 6-3-28-39-6 3-5 2z"/>
<path class="j57" d="M1103 3728l2 0 4 1 5 1 6 1-28-55-6 0-5 1-4 0-2 1z"/>
<path class="j58" d="M1091 3726l6 1 6 1-28-50-6 0-6 1z"/>
<path class="j59" d="M1071 3723l6 1 1 0 6 1 7 1-28-47-6 1-7 1-1 1-6 1z"/>
<path class="j60" d="M1048 3722l8 0 6 1 2 0 7 0-28-40-7 1-2 0-6 1-8 2z"/>
<path class="j61" d="M1019 3722l3 0 9 0 2 0 7 0 8 0-28-35-8 2-7 1-2 0-9 3-3 0z"/>
<path class="j62" d="M987 3726l3-1 10-1 4 0 8-1 7-1-28-29-7 2-8 2-4 1-10 3-3 1z"/>
<path class="j63" d="M831 3783l4-2 11-6 9-5 5-3 14-7 15-6 14-6 15-5 14-5 15-4 5-1 9-2 11-3 3 0 12-2-28-24-11 3-4 1-11 3-9 3-5 2-15 5-14 5-15 5-14 6-14 6-15 6-5 2-9 5-11 5-4 1z"/>
<path class="j62" d="M795 3806l7-5 5-3 10-6 2-2 12-7-28-23-11 6-3 1-10 5-5 3-7 3z"/>
<path class="j61" d="M766 3827l7-5 2-2 10-7 3-2 7-5-28-28-7 4-3 2-10 5-1 1-8 4z"/>
<path class="j60" d="M743 3846l2-1 5-5 8-6 8-7-28-33-8 4-8 5-5 3-2 1z"/>
<path class="j59" d="M722 3864l7-6 1-1 6-5 7-6-28-39-7 4-6 4-1 1-7 4z"/>
<path class="j58" d="M710 3875l6-5 6-6-28-44-6 4-6 3z"/>
<path class="j57" d="M692 3892l6-6 3-3 3-2 6-6-28-48-6 4-3 2-3 2-6 3z"/>
<path class="j56" d="M687 3897l5-5-28-54-5 4z"/>
<path class="j51" d="M1142 3797l6 4-28-70-6-1z"/>
<path class="j52" d="M1133 3792l4 2 5 3-28-67-5-1-4-1z"/>
<path class="j53" d="M1125 3786l6 4 2 2-28-64-2 0-6-1z"/>
<path class="j54" d="M1119 3783l6 3-28-59-6-1z"/>
<path class="j55" d="M1104 3775l2 1 6 3 7 4-28-57-7-1-6-1-1 0z"/>
<path class="j56" d="M1099 3773l5 2-27-51-6-1z"/>
<path class="j57" d="M1084 3767l6 2 2 1 7 3-28-50-7 0-2 0-6-1z"/>
<path class="j58" d="M1068 3761l8 3 8 3-28-45-8 0-8 0z"/>
<path class="j59" d="M1059 3759l2 0 7 2-28-39-7 0-2 0z"/>
<path class="j60" d="M1040 3755l7 1 3 0 9 3-28-37-9 0-3 0-7 1z"/>
<path class="j61" d="M1018 3752l10 1 4 0 8 2-28-32-8 1-4 0-10 1z"/>
<path class="j62" d="M1000 3752l3 0 12 0 3 0-28-27-3 1-12 2-3 0z"/>
<path class="j63" d="M874 3797l9-6 5-3 14-8 15-7 14-6 15-5 14-4 15-3 5-1 9-1 11-1-28-24-11 3-9 2-5 1-15 4-14 5-15 5-14 6-15 6-14 7-5 3-9 5z"/>
<path class="j62" d="M847 3817l12-10 4-2 11-8-28-22-11 6-4 2-12 7z"/>
<path class="j61" d="M830 3831l4-4 11-8 2-2-28-27-2 2-10 6-5 3z"/>
<path class="j60" d="M813 3848l3-4 7-6 7-7-28-30-7 5-7 5-3 2z"/>
<path class="j59" d="M801 3859l2-2 10-9-28-35-10 7-2 2z"/>
<path class="j58" d="M786 3875l8-9 7-7-28-37-7 5-8 7z"/>
<path class="j57" d="M771 3893l2-2 5-7 8-9-28-41-8 6-5 5-2 1z"/>
<path class="j56" d="M764 3902l7-9-28-47-7 6z"/>
<path class="j55" d="M750 3919l7-9 1-1 6-7-28-50-6 5-1 1-7 6z"/>
<path class="j54" d="M744 3927l6-8-28-55-6 6z"/>
<path class="j53" d="M732 3943l6-8 6-8-28-57-6 5-6 6z"/>
<path class="j52" d="M726 3951l3-4 3-4-28-62-3 2-3 3z"/>
<path class="j51" d="M715 3968l5-8 6-9-28-65-6 6-5 5z"/>
<path class="j45" d="M1170 3879l6 7-28-85-6-4z"/>
<path class="j46" d="M1161 3868l4 4 5 7-28-82-5-3-4-2z"/>
<path class="j47" d="M1159 3865l2 3-28-76-2-2z"/>
<path class="j48" d="M1153 3858l6 7-28-75-6-4z"/>
<path class="j49" d="M1147 3851l6 7-28-72-6-3z"/>
<path class="j50" d="M1140 3844l7 7-28-68-7-4z"/>
<path class="j51" d="M1132 3836l2 2 6 6-28-65-6-3-2-1z"/>
<path class="j52" d="M1127 3831l5 5-28-61-5-2z"/>
<path class="j53" d="M1118 3823l2 2 7 6-28-58-7-3-2-1z"/>
<path class="j54" d="M1112 3818l6 5-28-54-6-2z"/>
<path class="j55" d="M1104 3812l8 6-28-51-8-3z"/>
<path class="j56" d="M1089 3802l7 4 8 6-28-48-8-3-7-2z"/>
<path class="j57" d="M1087 3800l2 2-28-43-2 0z"/>
<path class="j58" d="M1075 3793l3 2 9 5-28-41-9-3-3 0z"/>
<path class="j59" d="M1060 3787l7 3 8 3-28-37-7-1-8-2z"/>
<path class="j60" d="M1046 3781l10 4 4 2-28-34-4 0-10-1z"/>
<path class="j61" d="M1031 3778l12 3 3 0-28-29-3 0-12 0z"/>
<path class="j62" d="M1017 3776l11 1 3 1-28-26-3 0-11 1z"/>
<path class="j63" d="M911 3813l5-4 14-9 15-8 14-7 15-4 14-3 15-2 5 0 9 0-28-23-9 1-5 1-15 3-14 4-15 5-14 6-15 7-14 8-5 3z"/>
<path class="j62" d="M891 3830l10-9 10-8-28-22-9 6-11 8z"/>
<path class="j61" d="M875 3845l12-12 4-3-28-25-4 2-12 10z"/>
<path class="j60" d="M862 3859l11-11 2-3-28-28-2 2-11 8z"/>
<path class="j59" d="M851 3873l7-9 4-5-28-32-4 4-7 7z"/>
<path class="j58" d="M841 3886l3-4 7-9-28-35-7 6-3 4z"/>
<path class="j57" d="M831 3899l10-13-28-38-10 9z"/>
<path class="j56" d="M822 3911l7-10 2-2-28-42-2 2-7 7z"/>
<path class="j55" d="M814 3924l8-13-28-45-8 9z"/>
<path class="j54" d="M806 3936l8-12-28-49-8 9z"/>
<path class="j53" d="M799 3948l1-3 6-9-28-52-5 7-2 2z"/>
<path class="j52" d="M792 3960l7-12-28-55-7 9z"/>
<path class="j51" d="M785 3972l1-2 6-10-28-58-6 7-1 1z"/>
<path class="j50" d="M778 3984l7-12-28-62-7 9z"/>
<path class="j49" d="M772 3996l6-12-28-65-6 8z"/>
<path class="j48" d="M766 4007l6-11-28-69-6 8z"/>
<path class="j47" d="M760 4018l6-11-28-72-6 8z"/>
<path class="j46" d="M754 4030l3-7 3-5-28-75-3 4-3 4z"/>
<path class="j45" d="M748 4041l6-11-28-79-6 9z"/>
<path class="j44" d="M743 4052l5-11-28-81-5 8z"/>
<path class="j36" d="M1198 3974l6 12-28-100-6-7z"/>
<path class="j38" d="M1193 3963l5 11-28-95-5-7z"/>
<path class="j39" d="M1187 3952l2 5 4 6-28-91-4-4-2-3z"/>
<path class="j41" d="M1181 3941l6 11-28-87-6-7z"/>
<path class="j42" d="M1175 3931l6 10-28-83-6-7z"/>
<path class="j44" d="M1168 3920l7 11-28-80-7-7z"/>
<path class="j45" d="M1160 3907l2 2 6 11-28-76-6-6-2-2z"/>
<path class="j46" d="M1155 3898l5 9-28-71-5-5z"/>
<path class="j48" d="M1146 3885l2 3 7 10-28-67-7-6-2-2z"/>
<path class="j49" d="M1140 3878l6 7-28-62-6-5z"/>
<path class="j51" d="M1131 3866l9 12-28-60-8-6z"/>
<path class="j52" d="M1124 3857l7 9-27-54-8-6z"/>
<path class="j53" d="M1117 3849l7 8-28-51-7-4z"/>
<path class="j54" d="M1115 3847l2 2-28-47-2-2z"/>
<path class="j55" d="M1103 3835l3 3 9 9-28-47-9-5-3-2z"/>
<path class="j56" d="M1095 3829l8 6-28-42-8-3z"/>
<path class="j57" d="M1088 3823l7 6-28-39-7-3z"/>
<path class="j58" d="M1084 3820l4 3-28-36-4-2z"/>
<path class="j59" d="M1071 3812l3 1 10 7-28-35-10-4-3 0z"/>
<path class="j60" d="M1059 3806l12 6-28-31-12-3z"/>
<path class="j61" d="M1045 3801l11 3 3 2-28-28-3-1-11-1z"/>
<path class="j62" d="M1030 3798l6 1 9 2-28-25-9 0-5 0z"/>
<path class="j63" d="M958 3820l15-9 14-7 15-4 14-2 14 0-27-22-15 2-14 3-15 4-14 7-15 8z"/>
<path class="j62" d="M939 3836l5-5 14-11-28-20-14 9-5 4z"/>
<path class="j61" d="M919 3857l10-12 10-9-28-23-10 8-10 9z"/>
<path class="j60" d="M915 3861l4-4-28-27-4 3z"/>
<path class="j59" d="M901 3880l2-4 12-15-28-28-12 12-2 3z"/>
<path class="j58" d="M890 3894l11-14-28-32-11 11z"/>
<path class="j57" d="M886 3900l4-6-28-35-4 5z"/>
<path class="j56" d="M879 3912l7-12-28-36-7 9z"/>
<path class="j55" d="M869 3929l3-5 7-12-28-39-7 9-3 4z"/>
<path class="j54" d="M859 3946l10-17-28-43-10 13z"/>
<path class="j53" d="M857 3949l2-3-28-47-2 2z"/>
<path class="j52" d="M850 3963l7-14-28-48-7 10z"/>
<path class="j51" d="M842 3979l8-16-28-52-8 13z"/>
<path class="j49" d="M834 3995l8-16-28-55-8 12z"/>
<path class="j48" d="M827 4011l1-4 6-12-28-59-6 9-1 3z"/>
<path class="j46" d="M819 4027l8-16-28-63-7 12z"/>
<path class="j45" d="M813 4043l1-3 5-13-27-67-6 10-1 2z"/>
<path class="j44" d="M806 4059l7-16-28-71-7 12z"/>
<path class="j42" d="M800 4075l6-16-28-75-6 12z"/>
<path class="j41" d="M794 4090l6-15-28-79-6 11z"/>
<path class="j39" d="M785 4112l3-6 6-16-28-83-6 11-3 5z"/>
<path class="j38" d="M782 4121l3-9-28-89-3 7z"/>
<path class="j36" d="M776 4137l6-16-28-91-6 11z"/>
<path class="j35" d="M771 4152l5-15-28-96-5 11z"/>
<path class="j27" d="M1226 4084l6 16-28-114-6-12z"/>
<path class="j29" d="M1220 4068l6 16-28-110-5-11z"/>
<path class="j30" d="M1217 4059l3 9-27-105-4-6z"/>
<path class="j31" d="M1215 4052l2 7-28-102-2-5z"/>
<path class="j33" d="M1209 4037l6 15-28-100-6-11z"/>
<path class="j34" d="M1203 4021l6 16-28-96-6-10z"/>
<path class="j36" d="M1196 4005l7 16-28-90-7-11z"/>
<path class="j38" d="M1190 3990l6 15-28-85-6-11z"/>
<path class="j39" d="M1188 3987l2 3-28-81-2-2z"/>
<path class="j40" d="M1183 3974l5 13-28-80-5-9z"/>
<path class="j42" d="M1176 3959l7 15-28-76-7-10z"/>
<path class="j43" d="M1174 3955l2 4-28-71-2-3z"/>
<path class="j44" d="M1168 3944l6 11-28-70-6-7z"/>
<path class="j46" d="M1159 3927l9 17-28-66-9-12z"/>
<path class="j48" d="M1152 3914l7 13-28-61-7-9z"/>
<path class="j50" d="M1143 3900l2 3 7 11-28-57-7-8-2-2z"/>
<path class="j52" d="M1131 3881l3 4 9 15-28-53-9-9-3-3z"/>
<path class="j54" d="M1123 3871l8 10-28-46-8-6z"/>
<path class="j55" d="M1116 3862l7 9-28-42-7-6z"/>
<path class="j56" d="M1112 3858l4 4-28-39-4-3z"/>
<path class="j57" d="M1102 3847l10 11-28-38-10-7z"/>
<path class="j58" d="M1099 3845l3 2-28-34-3-1z"/>
<path class="j59" d="M1087 3835l12 10-28-33-12-6z"/>
<path class="j60" d="M1084 3832l3 3-28-29-3-2z"/>
<path class="j61" d="M1073 3826l11 6-28-28-11-3z"/>
<path class="j62" d="M1058 3820l6 2 9 4-28-25-9-2-6-1z"/>
<path class="j63" d="M986 3840l15-10 14-7 15-4 14-1 14 2-28-22-14 0-14 2-15 4-14 7-15 9z"/>
<path class="j62" d="M967 3859l5-5 14-14-28-20-14 11-5 5z"/>
<path class="j61" d="M957 3870l10-11-28-23-10 9z"/>
<path class="j60" d="M947 3885l10-15-28-25-10 12z"/>
<path class="j59" d="M943 3890l4-5-28-28-4 4z"/>
<path class="j58" d="M931 3909l12-19-28-29-12 15z"/>
<path class="j57" d="M929 3914l2-5-28-33-2 4z"/>
<path class="j56" d="M918 3932l11-18-28-34-11 14z"/>
<path class="j55" d="M914 3940l4-8-28-38-4 6z"/>
<path class="j54" d="M907 3954l7-14-28-40-7 12z"/>
<path class="j52" d="M897 3976l3-6 7-16-28-42-7 12-3 5z"/>
<path class="j50" d="M885 4002l2-4 10-22-28-47-10 17-2 3z"/>
<path class="j48" d="M878 4019l7-17-28-53-7 14z"/>
<path class="j46" d="M870 4041l8-22-28-56-8 16z"/>
<path class="j44" d="M862 4062l8-21-28-62-8 16z"/>
<path class="j43" d="M856 4077l6-15-28-67-6 12z"/>
<path class="j42" d="M855 4083l1-6-28-70-1 4z"/>
<path class="j40" d="M847 4103l8-20-28-72-8 16z"/>
<path class="j39" d="M842 4120l5-17-28-76-5 13z"/>
<path class="j38" d="M841 4124l1-4-28-80-1 3z"/>
<path class="j36" d="M834 4145l7-21-28-81-7 16z"/>
<path class="j34" d="M827 4165l7-20-28-86-6 16z"/>
<path class="j33" d="M821 4185l6-20-27-90-6 15z"/>
<path class="j31" d="M816 4206l5-21-27-95-6 16z"/>
<path class="j30" d="M813 4214l3-8-28-100-3 6z"/>
<path class="j29" d="M810 4226l3-12-28-102-3 9z"/>
<path class="j27" d="M804 4246l6-20-28-105-6 16z"/>
<path class="j25" d="M799 4266l5-20-28-109-5 15z"/>
<path class="j15" d="M1254 4207l6 22-28-129-6-16z"/>
<path class="j18" d="M1248 4186l6 21-28-123-6-16z"/>
<path class="j19" d="M1245 4174l3 12-28-118-3-9z"/>
<path class="j21" d="M1243 4165l2 9-28-115-2-7z"/>
<path class="j23" d="M1237 4144l6 21-28-113-6-15z"/>
<path class="j26" d="M1231 4122l6 22-28-107-6-16z"/>
<path class="j28" d="M1224 4101l7 21-28-101-7-16z"/>
<path class="j31" d="M1216 4076l2 4 6 21-28-96-6-15-2-3z"/>
<path class="j33" d="M1211 4059l5 17-28-89-5-13z"/>
<path class="j36" d="M1202 4033l2 6 7 20-28-85-7-15-2-4z"/>
<path class="j38" d="M1196 4018l6 15-28-78-6-11z"/>
<path class="j41" d="M1187 3995l9 23-28-74-9-17z"/>
<path class="j43" d="M1180 3977l7 18-28-68-7-13z"/>
<path class="j45" d="M1173 3961l7 16-28-63-7-11z"/>
<path class="j46" d="M1171 3957l2 4-28-58-2-3z"/>
<path class="j48" d="M1162 3937l9 20-28-57-9-15z"/>
<path class="j49" d="M1159 3931l3 6-28-52-3-4z"/>
<path class="j51" d="M1151 3917l8 14-28-50-8-10z"/>
<path class="j52" d="M1144 3905l7 12-28-46-7-9z"/>
<path class="j53" d="M1140 3898l4 7-28-43-4-4z"/>
<path class="j55" d="M1130 3883l10 15-28-40-10-11z"/>
<path class="j56" d="M1127 3880l3 3-28-36-3-2z"/>
<path class="j58" d="M1112 3862l3 4 12 14-28-35-12-10-3-3z"/>
<path class="j60" d="M1101 3853l11 9-28-30-11-6z"/>
<path class="j61" d="M1086 3844l5 2 10 7-28-27-9-4-6-2z"/>
<path class="j63" d="M1014 3861l15-12 14-8 14-3 15 1 14 5-28-24-14-2-14 1-15 4-14 7-15 10z"/>
<path class="j61" d="M995 3883l5-6 14-16-28-21-14 14-5 5z"/>
<path class="j60" d="M985 3897l10-14-28-24-10 11z"/>
<path class="j58" d="M971 3921l4-6 10-18-28-27-10 15-4 5z"/>
<path class="j56" d="M959 3944l12-23-28-31-12 19z"/>
<path class="j55" d="M956 3950l3-6-28-35-2 5z"/>
<path class="j53" d="M946 3973l10-23-27-36-11 18z"/>
<path class="j52" d="M942 3983l4-10-28-41-4 8z"/>
<path class="j51" d="M935 4001l7-18-28-43-7 14z"/>
<path class="j49" d="M928 4020l7-19-28-47-7 16z"/>
<path class="j48" d="M924 4028l4-8-28-50-3 6z"/>
<path class="j46" d="M915 4055l9-27-27-52-10 22z"/>
<path class="j45" d="M913 4061l2-6-28-57-2 4z"/>
<path class="j43" d="M906 4082l7-21-28-59-7 17z"/>
<path class="j41" d="M898 4109l8-27-28-63-8 22z"/>
<path class="j38" d="M890 4135l8-26-28-68-8 21z"/>
<path class="j36" d="M883 4162l1-7 6-20-28-73-6 15-1 6z"/>
<path class="j33" d="M875 4188l8-26-28-79-8 20z"/>
<path class="j31" d="M869 4214l1-5 5-21-28-85-5 17-1 4z"/>
<path class="j28" d="M862 4240l7-26-28-90-7 21z"/>
<path class="j26" d="M855 4267l7-27-28-95-7 20z"/>
<path class="j23" d="M849 4292l6-25-28-102-6 20z"/>
<path class="j21" d="M843 4318l6-26-28-107-5 21z"/>
<path class="j19" d="M841 4329l2-11-27-112-3 8z"/>
<path class="j18" d="M838 4344l3-15-28-115-3 12z"/>
<path class="j15" d="M832 4370l6-26-28-118-6 20z"/>
<path class="j13" d="M827 4395l5-25-28-124-5 20z"/>
<path class="j3" d="M1282 4345l5 28-27-144-6-22z"/>
<path class="j6" d="M1276 4317l6 28-28-138-6-21z"/>
<path class="j8" d="M1273 4301l3 16-28-131-3-12z"/>
<path class="j9" d="M1271 4290l2 11-28-127-2-9z"/>
<path class="j12" d="M1265 4262l6 28-28-125-6-21z"/>
<path class="j15" d="M1258 4235l7 27-28-118-6-22z"/>
<path class="j19" d="M1252 4207l6 28-27-113-7-21z"/>
<path class="j22" d="M1246 4180l6 27-28-106-6-21z"/>
<path class="j23" d="M1244 4175l2 5-28-100-2-4z"/>
<path class="j25" d="M1239 4153l5 22-28-99-5-17z"/>
<path class="j28" d="M1232 4126l7 27-28-94-7-20z"/>
<path class="j29" d="M1230 4119l2 7-28-87-2-6z"/>
<path class="j32" d="M1224 4099l6 20-28-86-6-15z"/>
<path class="j35" d="M1215 4069l9 30-28-81-9-23z"/>
<path class="j38" d="M1208 4046l7 23-28-74-7-18z"/>
<path class="j40" d="M1201 4025l7 21-28-69-7-16z"/>
<path class="j41" d="M1199 4019l2 6-28-64-2-4z"/>
<path class="j44" d="M1190 3993l9 26-28-62-9-20z"/>
<path class="j45" d="M1186 3985l4 8-28-56-3-6z"/>
<path class="j48" d="M1179 3967l7 18-27-54-8-14z"/>
<path class="j50" d="M1172 3951l7 16-28-50-7-12z"/>
<path class="j51" d="M1168 3942l4 9-28-46-4-7z"/>
<path class="j53" d="M1158 3922l10 20-28-44-10-15z"/>
<path class="j54" d="M1155 3917l3 5-28-39-3-3z"/>
<path class="j56" d="M1143 3898l12 19-28-37-12-14z"/>
<path class="j57" d="M1139 3893l4 5-28-32-3-4z"/>
<path class="j59" d="M1129 3880l10 13-27-31-11-9z"/>
<path class="j60" d="M1119 3871l10 9-28-27-10-7z"/>
<path class="j61" d="M1114 3867l5 4-28-25-5-2z"/>
<path class="j62" d="M1100 3860l14 7-28-23-14-5z"/>
<path class="j63" d="M1057 3868l14-8 14-3 15 3-28-21-15-1-14 3-14 8z"/>
<path class="j62" d="M1042 3882l15-14-28-19-15 12z"/>
<path class="j61" d="M1028 3900l14-18-28-21-14 16z"/>
<path class="j60" d="M1023 3908l5-8-28-23-5 6z"/>
<path class="j59" d="M1013 3925l10-17-28-25-10 14z"/>
<path class="j57" d="M1003 3946l10-21-28-28-10 18z"/>
<path class="j56" d="M999 3954l4-8-28-31-4 6z"/>
<path class="j54" d="M987 3982l12-28-28-33-12 23z"/>
<path class="j53" d="M984 3989l3-7-28-38-3 6z"/>
<path class="j51" d="M974 4016l10-27-28-39-10 23z"/>
<path class="j50" d="M970 4029l4-13-28-43-4 10z"/>
<path class="j48" d="M963 4051l7-22-28-46-7 18z"/>
<path class="j45" d="M956 4074l7-23-28-50-7 19z"/>
<path class="j44" d="M952 4084l4-10-28-54-4 8z"/>
<path class="j41" d="M943 4118l9-34-28-56-9 27z"/>
<path class="j40" d="M941 4124l2-6-28-63-2 6z"/>
<path class="j38" d="M934 4151l7-27-28-63-7 21z"/>
<path class="j35" d="M926 4184l8-33-28-69-8 27z"/>
<path class="j32" d="M918 4217l8-33-28-75-8 26z"/>
<path class="j29" d="M912 4241l6-24-28-82-6 20z"/>
<path class="j28" d="M910 4249l2-8-28-86-1 7z"/>
<path class="j25" d="M903 4282l7-33-27-87-8 26z"/>
<path class="j23" d="M898 4308l5-26-28-94-5 21z"/>
<path class="j22" d="M896 4314l2-6-28-99-1 5z"/>
<path class="j19" d="M890 4347l6-33-27-100-7 26z"/>
<path class="j15" d="M883 4380l7-33-28-107-7 27z"/>
<path class="j12" d="M877 4411l6-31-28-113-6 25z"/>
<path class="j9" d="M871 4443l6-32-28-119-6 26z"/>
<path class="j8" d="M869 4457l2-14-28-125-2 11z"/>
<path class="j6" d="M866 4475l3-18-28-128-3 15z"/>
<path class="j3" d="M860 4507l6-32-28-131-6 26z"/>
<path class="j0" d="M855 4539l5-32-28-137-5 25z"/>
</g>
<rect x="146.1" y="340" width="8.9" height="130.2" fill="url(#jet)"/>
<line x1="146.1" y1="340.2" x2="155" y2="340.2" stroke="#3a0000" stroke-width="0.5"/>
<line x1="146.1" y1="470" x2="155" y2="470" stroke="#00003a" stroke-width="0.5"/>
<line x1="153.7" y1="355.8" x2="155" y2="355.8" stroke="#222" stroke-width="0.45"/>
<line x1="146.1" y1="355.8" x2="147.4" y2="355.8" stroke="#222" stroke-width="0.45"/>
<line x1="153.7" y1="371.6" x2="155" y2="371.6" stroke="#222" stroke-width="0.45"/>
<line x1="146.1" y1="371.6" x2="147.4" y2="371.6" stroke="#222" stroke-width="0.45"/>
<line x1="153.7" y1="387.4" x2="155" y2="387.4" stroke="#222" stroke-width="0.45"/>
<line x1="146.1" y1="387.4" x2="147.4" y2="387.4" stroke="#222" stroke-width="0.45"/>
<line x1="153.7" y1="403.2" x2="155" y2="403.2" stroke="#222" stroke-width="0.45"/>
<line x1="146.1" y1="403.2" x2="147.4" y2="403.2" stroke="#222" stroke-width="0.45"/>
<line x1="153.7" y1="419" x2="155" y2="419" stroke="#222" stroke-width="0.45"/>
<line x1="146.1" y1="419" x2="147.4" y2="419" stroke="#222" stroke-width="0.45"/>
<line x1="153.7" y1="434.8" x2="155" y2="434.8" stroke="#222" stroke-width="0.45"/>
<line x1="146.1" y1="434.8" x2="147.4" y2="434.8" stroke="#222" stroke-width="0.45"/>
<line x1="153.7" y1="450.6" x2="155" y2="450.6" stroke="#222" stroke-width="0.45"/>
<line x1="146.1" y1="450.6" x2="147.4" y2="450.6" stroke="#222" stroke-width="0.45"/>
<line x1="153.7" y1="466.4" x2="155" y2="466.4" stroke="#222" stroke-width="0.45"/>
<line x1="146.1" y1="466.4" x2="147.4" y2="466.4" stroke="#222" stroke-width="0.45"/>
<line x1="279.7" y1="464.6" x2="229.4" y2="431" stroke="#b4b4b4" stroke-width="0.6"/>
<line x1="250.7" y1="462.5" x2="316.3" y2="437.3" stroke="#b4b4b4" stroke-width="0.6"/>
<line x1="296.1" y1="458.3" x2="245.8" y2="424.7" stroke="#b4b4b4" stroke-width="0.6"/>
<line x1="238.2" y1="454.1" x2="303.8" y2="428.9" stroke="#b4b4b4" stroke-width="0.6"/>
<line x1="312.5" y1="452" x2="262.2" y2="418.4" stroke="#b4b4b4" stroke-width="0.6"/>
<line x1="225.6" y1="445.7" x2="291.2" y2="420.5" stroke="#b4b4b4" stroke-width="0.6"/>
<line x1="229.4" y1="431" x2="229.4" y2="358.7" stroke="#b4b4b4" stroke-width="0.6"/>
<line x1="316.3" y1="437.3" x2="316.3" y2="365" stroke="#b4b4b4" stroke-width="0.6"/>
<line x1="245.8" y1="424.7" x2="245.8" y2="352.4" stroke="#b4b4b4" stroke-width="0.6"/>
<line x1="303.8" y1="428.9" x2="303.8" y2="356.6" stroke="#b4b4b4" stroke-width="0.6"/>
<line x1="262.2" y1="418.4" x2="262.2" y2="346.1" stroke="#b4b4b4" stroke-width="0.6"/>
<line x1="291.2" y1="420.5" x2="291.2" y2="348.2" stroke="#b4b4b4" stroke-width="0.6"/>
<line x1="213" y1="365" x2="278.6" y2="339.8" stroke="#b4b4b4" stroke-width="0.6"/>
<line x1="278.6" y1="339.8" x2="328.9" y2="373.4" stroke="#b4b4b4" stroke-width="0.6"/>
<line x1="213" y1="379.5" x2="278.6" y2="354.3" stroke="#b4b4b4" stroke-width="0.6"/>
<line x1="278.6" y1="354.3" x2="328.9" y2="387.9" stroke="#b4b4b4" stroke-width="0.6"/>
<line x1="213" y1="393.9" x2="278.6" y2="368.7" stroke="#b4b4b4" stroke-width="0.6"/>
<line x1="278.6" y1="368.7" x2="328.9" y2="402.3" stroke="#b4b4b4" stroke-width="0.6"/>
<line x1="213" y1="408.4" x2="278.6" y2="383.2" stroke="#b4b4b4" stroke-width="0.6"/>
<line x1="278.6" y1="383.2" x2="328.9" y2="416.8" stroke="#b4b4b4" stroke-width="0.6"/>
<line x1="213" y1="422.8" x2="278.6" y2="397.6" stroke="#b4b4b4" stroke-width="0.6"/>
<line x1="278.6" y1="397.6" x2="328.9" y2="431.2" stroke="#b4b4b4" stroke-width="0.6"/>
<line x1="213" y1="437.3" x2="278.6" y2="412.1" stroke="#b4b4b4" stroke-width="0.6"/>
<line x1="278.6" y1="412.1" x2="328.9" y2="445.7" stroke="#b4b4b4" stroke-width="0.6"/>
<line x1="213" y1="437.3" x2="278.6" y2="412.1" stroke="#b4b4b4" stroke-width="0.6"/>
<line x1="278.6" y1="412.1" x2="328.9" y2="445.7" stroke="#b4b4b4" stroke-width="0.6"/>
<line x1="278.6" y1="412.1" x2="278.6" y2="339.8" stroke="#b4b4b4" stroke-width="0.6"/>
<line x1="328.9" y1="445.7" x2="328.9" y2="373.4" stroke="#b4b4b4" stroke-width="0.6"/>
<line x1="213" y1="365" x2="278.6" y2="339.8" stroke="#b4b4b4" stroke-width="0.6"/>
<line x1="278.6" y1="339.8" x2="328.9" y2="373.4" stroke="#b4b4b4" stroke-width="0.6"/>
<line x1="213" y1="437.3" x2="263.3" y2="470.9" stroke="#8c8c8c" stroke-width="0.7"/>
<line x1="263.3" y1="470.9" x2="328.9" y2="445.7" stroke="#8c8c8c" stroke-width="0.7"/>
<line x1="213" y1="437.3" x2="213" y2="365" stroke="#cdcdcd" stroke-width="1"/>
<line x1="211.7" y1="365.5" x2="213" y2="365" stroke="#777" stroke-width="0.5"/>
<line x1="211.7" y1="380" x2="213" y2="379.5" stroke="#777" stroke-width="0.5"/>
<line x1="211.7" y1="394.4" x2="213" y2="393.9" stroke="#777" stroke-width="0.5"/>
<line x1="211.7" y1="408.9" x2="213" y2="408.4" stroke="#777" stroke-width="0.5"/>
<line x1="211.7" y1="423.3" x2="213" y2="422.8" stroke="#777" stroke-width="0.5"/>
<line x1="211.7" y1="437.8" x2="213" y2="437.3" stroke="#777" stroke-width="0.5"/>
<line x1="211.8" y1="438.2" x2="213" y2="437.3" stroke="#777" stroke-width="0.5"/>
<line x1="224.4" y1="446.6" x2="225.6" y2="445.7" stroke="#777" stroke-width="0.5"/>
<line x1="237" y1="455" x2="238.2" y2="454.1" stroke="#777" stroke-width="0.5"/>
<line x1="249.5" y1="463.4" x2="250.7" y2="462.5" stroke="#777" stroke-width="0.5"/>
<line x1="262.1" y1="471.8" x2="263.3" y2="470.9" stroke="#777" stroke-width="0.5"/>
<line x1="264.5" y1="471.8" x2="263.3" y2="470.9" stroke="#777" stroke-width="0.5"/>
<line x1="280.9" y1="465.5" x2="279.7" y2="464.6" stroke="#777" stroke-width="0.5"/>
<line x1="297.3" y1="459.2" x2="296.1" y2="458.3" stroke="#777" stroke-width="0.5"/>
<line x1="313.7" y1="452.9" x2="312.5" y2="452" stroke="#777" stroke-width="0.5"/>
<line x1="330.1" y1="446.6" x2="328.9" y2="445.7" stroke="#777" stroke-width="0.5"/>
<clipPath id="c3378"><rect x="0" y="0" width="335" height="509"/></clipPath>
<g transform="scale(.1)" stroke-width="7" stroke-linejoin="round">
<path class="j6" d="M2684 4004l2 28-12 50-2-31z"/>
<path class="j9" d="M2681 3976l3 28-12 47-2-31z"/>
<path class="j12" d="M2679 3948l2 28-11 44-2-31z"/>
<path class="j15" d="M2676 3920l3 28-11 41-3-31z"/>
<path class="j18" d="M2674 3892l2 28-11 38-3-31z"/>
<path class="j21" d="M2671 3864l3 28-12 35-2-31z"/>
<path class="j24" d="M2668 3836l3 28-11 32-3-31z"/>
<path class="j27" d="M2665 3808l3 28-11 29-4-31z"/>
<path class="j30" d="M2662 3780l3 28-12 26-3-30z"/>
<path class="j34" d="M2657 3746l5 34-12 24-4-38z"/>
<path class="j36" d="M2654 3725l3 21-11 20-3-23z"/>
<path class="j39" d="M2650 3697l4 28-11 18-5-31z"/>
<path class="j42" d="M2645 3670l5 27-12 15-5-30z"/>
<path class="j43" d="M2643 3657l2 13-12 12-2-13z"/>
<path class="j45" d="M2640 3642l3 15-12 12-3-17z"/>
<path class="j48" d="M2633 3616l7 26-12 10-6-30z"/>
<path class="j51" d="M2626 3589l2 6 5 21-11 6-5-22-2-7z"/>
<path class="j54" d="M2618 3563l8 26-11 4-9-29z"/>
<path class="j55" d="M2614 3554l4 9-12 1-4-10z"/>
<path class="j57" d="M2606 3538l8 16-12 0-7-18z"/>
<path class="j59" d="M2599 3528l7 10-11-2-7-12z"/>
<path class="j60" d="M2588 3515l11 13-11-4-11-13z"/>
<path class="j61" d="M2585 3513l3 2-11-4-4-3z"/>
<path class="j62" d="M2570 3506l15 7-12-5-14-8z"/>
<path class="j63" d="M2383 3571l14-9 15-7 14-7 15-5 14-6 14-5 15-6 14-5 15-6 14-5 15-4 14-2 14 2-11-6-14-3-15 2-14 4-15 5-14 5-15 5-14 6-14 6-15 5-14 6-15 6-14 7-15 10z"/>
<path class="j62" d="M2368 3584l15-13-12-7-14 14z"/>
<path class="j61" d="M2354 3602l14-18-11-6-14 19z"/>
<path class="j60" d="M2351 3608l3-6-11-5-4 6z"/>
<path class="j59" d="M2340 3629l11-21-12-5-11 23z"/>
<path class="j57" d="M2333 3645l7-16-12-3-7 17z"/>
<path class="j55" d="M2325 3667l8-22-12-2-7 24z"/>
<path class="j54" d="M2321 3680l4-13-11 0-4 14z"/>
<path class="j51" d="M2313 3714l8-34-11 1-9 37z"/>
<path class="j50" d="M2311 3722l2-8-12 4-2 9z"/>
<path class="j48" d="M2305 3747l6-25-12 5-5 27z"/>
<path class="j44" d="M2299 3780l6-33-11 7-6 36z"/>
<path class="j43" d="M2296 3798l3-18-11 10-3 20z"/>
<path class="j41" d="M2294 3813l2-15-11 12-2 16z"/>
<path class="j38" d="M2289 3845l5-32-11 13-5 36z"/>
<path class="j35" d="M2285 3878l4-33-11 17-5 35z"/>
<path class="j32" d="M2281 3910l4-32-12 19-3 35z"/>
<path class="j28" d="M2277 3942l4-32-11 22-4 35z"/>
<path class="j25" d="M2274 3974l3-32-11 25-3 35z"/>
<path class="j22" d="M2271 4006l3-32-11 28-4 35z"/>
<path class="j18" d="M2267 4043l4-37-12 31-3 41z"/>
<path class="j16" d="M2265 4070l2-27-11 35-2 29z"/>
<path class="j12" d="M2262 4102l3-32-11 37-3 35z"/>
<path class="j9" d="M2260 4134l2-32-11 40-3 35z"/>
<path class="j6" d="M2257 4165l3-31-12 43-2 35z"/>
<path class="j3" d="M2255 4197l2-32-11 47-2 34z"/>
<path class="j0" d="M2253 4229l2-32-11 49-2 35z"/>
<path class="j11" d="M2695 3960l2 26-11 46-2-28z"/>
<path class="j14" d="M2693 3935l2 25-11 44-3-28z"/>
<path class="j16" d="M2690 3909l3 26-12 41-2-28z"/>
<path class="j19" d="M2688 3884l2 25-11 39-3-28z"/>
<path class="j22" d="M2685 3859l3 25-12 36-2-28z"/>
<path class="j25" d="M2682 3833l3 26-11 33-3-28z"/>
<path class="j27" d="M2679 3808l3 25-11 31-3-28z"/>
<path class="j30" d="M2676 3783l3 25-11 28-3-28z"/>
<path class="j33" d="M2673 3758l3 25-11 25-3-28z"/>
<path class="j36" d="M2668 3727l5 31-11 22-5-34z"/>
<path class="j38" d="M2665 3708l3 19-11 19-3-21z"/>
<path class="j41" d="M2661 3683l4 25-11 17-4-28z"/>
<path class="j44" d="M2656 3658l5 25-11 14-5-27z"/>
<path class="j45" d="M2654 3647l2 11-11 12-2-13z"/>
<path class="j47" d="M2651 3634l3 13-11 10-3-15z"/>
<path class="j50" d="M2645 3610l6 24-11 8-7-26z"/>
<path class="j52" d="M2638 3586l2 5 5 19-12 6-5-21-2-6z"/>
<path class="j55" d="M2629 3562l9 24-12 3-8-26z"/>
<path class="j56" d="M2625 3554l4 8-11 1-4-9z"/>
<path class="j58" d="M2617 3540l8 14-11 0-8-16z"/>
<path class="j59" d="M2611 3531l6 9-11-2-7-10z"/>
<path class="j61" d="M2596 3518l4 2 11 11-12-3-11-13-3-2z"/>
<path class="j62" d="M2582 3512l14 6-11-5-15-7z"/>
<path class="j63" d="M2394 3578l15-9 14-7 15-6 14-6 14-5 15-6 14-5 15-6 14-5 15-5 14-4 14-2 15 0-12-6-14-2-14 2-15 4-14 5-15 6-14 5-15 6-14 5-14 6-15 5-14 7-15 7-14 9z"/>
<path class="j62" d="M2380 3590l14-12-11-7-15 13z"/>
<path class="j61" d="M2362 3612l3-5 15-17-12-6-14 18-3 6z"/>
<path class="j59" d="M2351 3632l11-20-11-4-11 21z"/>
<path class="j58" d="M2344 3647l7-15-11-3-7 16z"/>
<path class="j56" d="M2337 3667l7-20-11-2-8 22z"/>
<path class="j55" d="M2333 3679l4-12-12 0-4 13z"/>
<path class="j52" d="M2324 3710l9-31-12 1-8 34z"/>
<path class="j51" d="M2322 3718l2-8-11 4-2 8z"/>
<path class="j49" d="M2317 3741l5-23-11 4-6 25z"/>
<path class="j46" d="M2311 3771l6-30-12 6-6 33z"/>
<path class="j44" d="M2308 3787l3-16-12 9-3 18z"/>
<path class="j43" d="M2305 3801l3-14-12 11-2 15z"/>
<path class="j40" d="M2301 3830l4-29-11 12-5 32z"/>
<path class="j37" d="M2296 3860l5-30-12 15-4 33z"/>
<path class="j34" d="M2292 3889l4-29-11 18-4 32z"/>
<path class="j32" d="M2289 3919l3-30-11 21-4 32z"/>
<path class="j29" d="M2285 3948l4-29-12 23-3 32z"/>
<path class="j26" d="M2282 3977l3-29-11 26-3 32z"/>
<path class="j22" d="M2279 4011l3-34-11 29-4 37z"/>
<path class="j20" d="M2276 4035l3-24-12 32-2 27z"/>
<path class="j17" d="M2274 4064l2-29-11 35-3 32z"/>
<path class="j14" d="M2271 4093l3-29-12 38-2 32z"/>
<path class="j11" d="M2269 4122l2-29-11 41-3 31z"/>
<path class="j8" d="M2267 4150l2-28-12 43-2 32z"/>
<path class="j5" d="M2264 4179l3-29-12 47-2 32z"/>
<path class="j16" d="M2707 3919l2 23-12 44-2-26z"/>
<path class="j18" d="M2704 3896l3 23-12 41-2-25z"/>
<path class="j21" d="M2702 3873l2 23-11 39-3-26z"/>
<path class="j23" d="M2699 3850l3 23-12 36-2-25z"/>
<path class="j26" d="M2697 3827l2 23-11 34-3-25z"/>
<path class="j28" d="M2694 3805l3 22-12 32-3-26z"/>
<path class="j31" d="M2691 3782l3 23-12 28-3-25z"/>
<path class="j33" d="M2688 3759l3 23-12 26-3-25z"/>
<path class="j36" d="M2684 3737l4 22-12 24-3-25z"/>
<path class="j39" d="M2680 3709l4 28-11 21-5-31z"/>
<path class="j41" d="M2677 3692l3 17-12 18-3-19z"/>
<path class="j43" d="M2673 3670l4 22-12 16-4-25z"/>
<path class="j46" d="M2668 3648l5 22-12 13-5-25z"/>
<path class="j47" d="M2665 3638l3 10-12 10-2-11z"/>
<path class="j48" d="M2662 3626l3 12-11 9-3-13z"/>
<path class="j51" d="M2656 3604l6 22-11 8-6-24z"/>
<path class="j53" d="M2649 3583l2 5 5 16-11 6-5-19-2-5z"/>
<path class="j56" d="M2640 3562l9 21-11 3-9-24z"/>
<path class="j57" d="M2637 3555l3 7-11 0-4-8z"/>
<path class="j58" d="M2629 3543l8 12-12-1-8-14z"/>
<path class="j60" d="M2622 3535l7 8-12-3-6-9z"/>
<path class="j61" d="M2608 3523l3 2 11 10-11-4-11-11-4-2z"/>
<path class="j62" d="M2593 3519l15 4-12-5-14-6z"/>
<path class="j63" d="M2406 3585l14-8 15-7 14-6 14-6 15-6 14-5 15-6 14-5 15-6 14-5 14-4 15-2 14 0-11-7-15 0-14 2-14 4-15 5-14 5-15 6-14 5-15 6-14 5-14 6-15 6-14 7-15 9z"/>
<path class="j62" d="M2391 3597l15-12-12-7-14 12z"/>
<path class="j61" d="M2373 3617l4-4 14-16-11-7-15 17-3 5z"/>
<path class="j59" d="M2362 3636l11-19-11-5-11 20z"/>
<path class="j58" d="M2356 3649l6-13-11-4-7 15z"/>
<path class="j57" d="M2348 3668l8-19-12-2-7 20z"/>
<path class="j56" d="M2344 3679l4-11-11-1-4 12z"/>
<path class="j53" d="M2335 3707l9-28-11 0-9 31z"/>
<path class="j52" d="M2334 3714l1-7-11 3-2 8z"/>
<path class="j50" d="M2328 3735l6-21-12 4-5 23z"/>
<path class="j48" d="M2322 3762l6-27-11 6-6 30z"/>
<path class="j46" d="M2319 3777l3-15-11 9-3 16z"/>
<path class="j45" d="M2317 3789l2-12-11 10-3 14z"/>
<path class="j42" d="M2312 3816l5-27-12 12-4 29z"/>
<path class="j40" d="M2308 3843l4-27-11 14-5 30z"/>
<path class="j37" d="M2304 3870l4-27-12 17-4 29z"/>
<path class="j34" d="M2300 3896l4-26-12 19-3 30z"/>
<path class="j32" d="M2297 3923l3-27-11 23-4 29z"/>
<path class="j29" d="M2294 3949l3-26-12 25-3 29z"/>
<path class="j26" d="M2290 3980l4-31-12 28-3 34z"/>
<path class="j24" d="M2288 4002l2-22-11 31-3 24z"/>
<path class="j21" d="M2285 4028l3-26-12 33-2 29z"/>
<path class="j19" d="M2283 4054l2-26-11 36-3 29z"/>
<path class="j16" d="M2280 4080l3-26-12 39-2 29z"/>
<path class="j13" d="M2278 4107l2-27-11 42-2 28z"/>
<path class="j11" d="M2276 4133l2-26-11 43-3 29z"/>
<path class="j20" d="M2718 3880l2 20-11 42-2-23z"/>
<path class="j23" d="M2716 3860l2 20-11 39-3-23z"/>
<path class="j25" d="M2713 3839l3 21-12 36-2-23z"/>
<path class="j27" d="M2711 3819l2 20-11 34-3-23z"/>
<path class="j29" d="M2708 3798l3 21-12 31-2-23z"/>
<path class="j32" d="M2705 3778l3 20-11 29-3-22z"/>
<path class="j34" d="M2702 3758l3 20-11 27-3-23z"/>
<path class="j36" d="M2699 3738l3 20-11 24-3-23z"/>
<path class="j38" d="M2696 3717l3 21-11 21-4-22z"/>
<path class="j41" d="M2691 3693l5 24-12 20-4-28z"/>
<path class="j43" d="M2688 3677l3 16-11 16-3-17z"/>
<path class="j45" d="M2684 3658l4 19-11 15-4-22z"/>
<path class="j48" d="M2679 3638l5 20-11 12-5-22z"/>
<path class="j49" d="M2677 3629l2 9-11 10-3-10z"/>
<path class="j50" d="M2674 3619l3 10-12 9-3-12z"/>
<path class="j52" d="M2668 3599l6 20-12 7-6-22z"/>
<path class="j54" d="M2661 3581l1 4 6 14-12 5-5-16-2-5z"/>
<path class="j57" d="M2648 3556l4 7 9 18-12 2-9-21-3-7z"/>
<path class="j59" d="M2640 3545l8 11-11-1-8-12z"/>
<path class="j60" d="M2634 3538l6 7-11-2-7-8z"/>
<path class="j61" d="M2623 3531l11 7-12-3-11-10z"/>
<path class="j62" d="M2605 3525l14 4 4 2-12-6-3-2-15-4z"/>
<path class="j63" d="M2417 3592l15-8 14-7 14-6 15-5 14-6 15-5 14-6 15-6 14-5 14-5 15-4 14-3 15-1-12-6-14 0-15 2-14 4-14 5-15 6-14 5-15 6-14 5-15 6-14 6-14 6-15 7-14 8z"/>
<path class="j62" d="M2403 3603l14-11-11-7-15 12z"/>
<path class="j61" d="M2385 3623l3-5 15-15-12-6-14 16-4 4z"/>
<path class="j60" d="M2374 3639l11-16-12-6-11 19z"/>
<path class="j59" d="M2367 3652l7-13-12-3-6 13z"/>
<path class="j57" d="M2359 3669l8-17-11-3-8 19z"/>
<path class="j56" d="M2356 3679l3-10-11-1-4 11z"/>
<path class="j54" d="M2347 3704l9-25-12 0-9 28z"/>
<path class="j53" d="M2345 3711l2-7-12 3-1 7z"/>
<path class="j52" d="M2340 3730l5-19-11 3-6 21z"/>
<path class="j49" d="M2334 3755l6-25-12 5-6 27z"/>
<path class="j48" d="M2331 3768l3-13-12 7-3 15z"/>
<path class="j47" d="M2328 3779l3-11-12 9-2 12z"/>
<path class="j44" d="M2323 3803l5-24-11 10-5 27z"/>
<path class="j42" d="M2319 3828l4-25-11 13-4 27z"/>
<path class="j40" d="M2315 3852l4-24-11 15-4 27z"/>
<path class="j37" d="M2312 3876l3-24-11 18-4 26z"/>
<path class="j35" d="M2308 3900l4-24-12 20-3 27z"/>
<path class="j33" d="M2305 3923l3-23-11 23-3 26z"/>
<path class="j30" d="M2302 3951l3-28-11 26-4 31z"/>
<path class="j28" d="M2299 3971l3-20-12 29-2 22z"/>
<path class="j25" d="M2297 3995l2-24-11 31-3 26z"/>
<path class="j23" d="M2294 4018l3-23-12 33-2 26z"/>
<path class="j21" d="M2292 4042l2-24-11 36-3 26z"/>
<path class="j18" d="M2289 4065l3-23-12 38-2 27z"/>
<path class="j16" d="M2287 4089l2-24-11 42-2 26z"/>
<path class="j25" d="M2729 3844l3 18-12 38-2-20z"/>
<path class="j27" d="M2727 3825l2 19-11 36-2-20z"/>
<path class="j29" d="M2725 3807l2 18-11 35-3-21z"/>
<path class="j31" d="M2722 3789l3 18-12 32-2-20z"/>
<path class="j33" d="M2720 3771l2 18-11 30-3-21z"/>
<path class="j35" d="M2717 3753l3 18-12 27-3-20z"/>
<path class="j37" d="M2714 3735l3 18-12 25-3-20z"/>
<path class="j39" d="M2711 3717l3 18-12 23-3-20z"/>
<path class="j41" d="M2707 3699l4 18-12 21-3-21z"/>
<path class="j44" d="M2703 3678l4 21-11 18-5-24z"/>
<path class="j45" d="M2700 3664l3 14-12 15-3-16z"/>
<path class="j47" d="M2695 3647l5 17-12 13-4-19z"/>
<path class="j49" d="M2691 3629l4 18-11 11-5-20z"/>
<path class="j50" d="M2688 3622l3 7-12 9-2-9z"/>
<path class="j51" d="M2685 3612l3 10-11 7-3-10z"/>
<path class="j53" d="M2679 3595l6 17-11 7-6-20z"/>
<path class="j55" d="M2672 3579l2 4 5 12-11 4-6-14-1-4z"/>
<path class="j57" d="M2663 3563l9 16-11 2-9-18z"/>
<path class="j58" d="M2659 3558l4 5-11 0-4-7z"/>
<path class="j59" d="M2652 3548l7 10-11-2-8-11z"/>
<path class="j60" d="M2645 3542l7 6-12-3-6-7z"/>
<path class="j61" d="M2634 3536l11 6-11-4-11-7z"/>
<path class="j62" d="M2631 3535l3 1-11-5-4-2z"/>
<path class="j63" d="M2414 3610l15-10 14-8 14-7 15-6 14-6 15-5 14-6 15-5 14-6 14-5 15-5 14-5 15-3 14-1 15 3-12-6-14-4-15 1-14 3-15 4-14 5-14 5-15 6-14 6-15 5-14 6-15 5-14 6-14 7-15 8-14 11z"/>
<path class="j62" d="M2400 3624l14-14-11-7-15 15z"/>
<path class="j61" d="M2396 3628l4-4-12-6-3 5z"/>
<path class="j60" d="M2385 3643l11-15-11-5-11 16z"/>
<path class="j59" d="M2379 3655l6-12-11-4-7 13z"/>
<path class="j58" d="M2371 3670l8-15-12-3-8 17z"/>
<path class="j57" d="M2367 3679l4-9-12-1-3 10z"/>
<path class="j55" d="M2358 3702l9-23-11 0-9 25z"/>
<path class="j54" d="M2356 3708l2-6-11 2-2 7z"/>
<path class="j53" d="M2351 3725l5-17-11 3-5 19z"/>
<path class="j51" d="M2345 3748l6-23-11 5-6 25z"/>
<path class="j50" d="M2342 3760l3-12-11 7-3 13z"/>
<path class="j49" d="M2340 3770l2-10-11 8-3 11z"/>
<path class="j46" d="M2335 3792l5-22-12 9-5 24z"/>
<path class="j44" d="M2331 3813l4-21-12 11-4 25z"/>
<path class="j42" d="M2327 3835l4-22-12 15-4 24z"/>
<path class="j40" d="M2323 3857l4-22-12 17-3 24z"/>
<path class="j38" d="M2320 3878l3-21-11 19-4 24z"/>
<path class="j36" d="M2317 3899l3-21-12 22-3 23z"/>
<path class="j33" d="M2313 3924l4-25-12 24-3 28z"/>
<path class="j31" d="M2311 3942l2-18-11 27-3 20z"/>
<path class="j29" d="M2308 3963l3-21-12 29-2 24z"/>
<path class="j27" d="M2306 3984l2-21-11 32-3 23z"/>
<path class="j25" d="M2303 4006l3-22-12 34-2 24z"/>
<path class="j23" d="M2301 4027l2-21-11 36-3 23z"/>
<path class="j21" d="M2299 4048l2-21-12 38-2 24z"/>
<path class="j29" d="M2741 3810l2 16-11 36-3-18z"/>
<path class="j31" d="M2739 3794l2 16-12 34-2-19z"/>
<path class="j33" d="M2736 3778l3 16-12 31-2-18z"/>
<path class="j34" d="M2734 3762l2 16-11 29-3-18z"/>
<path class="j36" d="M2731 3746l3 16-12 27-2-18z"/>
<path class="j38" d="M2728 3730l3 16-11 25-3-18z"/>
<path class="j40" d="M2725 3714l3 16-11 23-3-18z"/>
<path class="j42" d="M2722 3699l3 15-11 21-3-18z"/>
<path class="j43" d="M2719 3683l3 16-11 18-4-18z"/>
<path class="j46" d="M2714 3664l5 19-12 16-4-21z"/>
<path class="j47" d="M2711 3652l3 12-11 14-3-14z"/>
<path class="j49" d="M2707 3637l4 15-11 12-5-17z"/>
<path class="j51" d="M2702 3622l5 15-12 10-4-18z"/>
<path class="j52" d="M2700 3615l2 7-11 7-3-7z"/>
<path class="j53" d="M2697 3607l3 8-12 7-3-10z"/>
<path class="j54" d="M2691 3592l6 15-12 5-6-17z"/>
<path class="j56" d="M2683 3578l2 3 6 11-12 3-5-12-2-4z"/>
<path class="j58" d="M2675 3564l8 14-11 1-9-16z"/>
<path class="j59" d="M2671 3559l4 5-12-1-4-5z"/>
<path class="j60" d="M2663 3552l8 7-12-1-7-10z"/>
<path class="j61" d="M2656 3547l7 5-11-4-7-6z"/>
<path class="j62" d="M2642 3540l3 1 11 6-11-5-11-6-3-1z"/>
<path class="j63" d="M2426 3616l14-9 14-8 15-7 14-5 15-6 14-6 15-5 14-6 14-5 15-6 14-5 15-4 14-4 15-1 14 1-11-5-15-3-14 1-15 3-14 5-15 5-14 5-14 6-15 5-14 6-15 5-14 6-15 6-14 7-14 8-15 10z"/>
<path class="j62" d="M2408 3633l3-4 15-13-12-6-14 14-4 4z"/>
<path class="j61" d="M2397 3647l11-14-12-5-11 15z"/>
<path class="j60" d="M2390 3658l7-11-12-4-6 12z"/>
<path class="j59" d="M2382 3672l8-14-11-3-8 15z"/>
<path class="j58" d="M2378 3680l4-8-11-2-4 9z"/>
<path class="j56" d="M2370 3701l8-21-11-1-9 23z"/>
<path class="j55" d="M2368 3706l2-5-12 1-2 6z"/>
<path class="j54" d="M2363 3721l5-15-12 2-5 17z"/>
<path class="j52" d="M2356 3742l7-21-12 4-6 23z"/>
<path class="j51" d="M2353 3753l3-11-11 6-3 12z"/>
<path class="j50" d="M2351 3761l2-8-11 7-2 10z"/>
<path class="j48" d="M2346 3781l5-20-11 9-5 22z"/>
<path class="j46" d="M2342 3801l4-20-11 11-4 21z"/>
<path class="j44" d="M2338 3820l4-19-11 12-4 22z"/>
<path class="j43" d="M2335 3839l3-19-11 15-4 22z"/>
<path class="j41" d="M2331 3858l4-19-12 18-3 21z"/>
<path class="j39" d="M2328 3877l3-19-11 20-3 21z"/>
<path class="j36" d="M2325 3899l3-22-11 22-4 25z"/>
<path class="j35" d="M2322 3915l3-16-12 25-2 18z"/>
<path class="j33" d="M2320 3934l2-19-11 27-3 21z"/>
<path class="j31" d="M2317 3953l3-19-12 29-2 21z"/>
<path class="j29" d="M2315 3972l2-19-11 31-3 22z"/>
<path class="j27" d="M2312 3991l3-19-12 34-2 21z"/>
<path class="j25" d="M2310 4009l2-18-11 36-2 21z"/>
<path class="j33" d="M2752 3778l3 14-12 34-2-16z"/>
<path class="j35" d="M2750 3764l2 14-11 32-2-16z"/>
<path class="j36" d="M2748 3750l2 14-11 30-3-16z"/>
<path class="j38" d="M2745 3737l3 13-12 28-2-16z"/>
<path class="j39" d="M2742 3723l3 14-11 25-3-16z"/>
<path class="j41" d="M2740 3709l2 14-11 23-3-16z"/>
<path class="j43" d="M2737 3695l3 14-12 21-3-16z"/>
<path class="j44" d="M2733 3682l4 13-12 19-3-15z"/>
<path class="j46" d="M2730 3668l3 14-11 17-3-16z"/>
<path class="j48" d="M2726 3652l4 16-11 15-5-19z"/>
<path class="j49" d="M2723 3641l3 11-12 12-3-12z"/>
<path class="j51" d="M2718 3628l5 13-12 11-4-15z"/>
<path class="j52" d="M2714 3615l4 13-11 9-5-15z"/>
<path class="j53" d="M2711 3609l3 6-12 7-2-7z"/>
<path class="j54" d="M2708 3602l3 7-11 6-3-8z"/>
<path class="j55" d="M2702 3589l6 13-11 5-6-15z"/>
<path class="j57" d="M2695 3577l2 3 5 9-11 3-6-11-2-3z"/>
<path class="j59" d="M2682 3562l4 4 9 11-12 1-8-14-4-5z"/>
<path class="j60" d="M2675 3555l7 7-11-3-8-7z"/>
<path class="j61" d="M2668 3551l7 4-12-3-7-5z"/>
<path class="j62" d="M2653 3546l4 1 11 4-12-4-11-6-3-1z"/>
<path class="j63" d="M2437 3623l14-9 15-8 14-6 15-6 14-5 15-6 14-6 14-5 15-6 14-5 15-5 14-5 15-4 14-2 14 1-11-6-14-1-15 1-14 4-15 4-14 5-15 6-14 5-14 6-15 5-14 6-15 6-14 5-15 7-14 8-14 9z"/>
<path class="j62" d="M2419 3639l4-4 14-12-11-7-15 13-3 4z"/>
<path class="j61" d="M2408 3651l11-12-11-6-11 14z"/>
<path class="j60" d="M2401 3661l7-10-11-4-7 11z"/>
<path class="j59" d="M2394 3674l7-13-11-3-8 14z"/>
<path class="j58" d="M2390 3681l4-7-12-2-4 8z"/>
<path class="j57" d="M2381 3700l9-19-12-1-8 21z"/>
<path class="j56" d="M2379 3704l2-4-11 1-2 5z"/>
<path class="j55" d="M2374 3718l5-14-11 2-5 15z"/>
<path class="j53" d="M2368 3736l6-18-11 3-7 21z"/>
<path class="j52" d="M2363 3754l2-8 3-10-12 6-3 11-2 8z"/>
<path class="j50" d="M2358 3771l5-17-12 7-5 20z"/>
<path class="j48" d="M2353 3789l5-18-12 10-4 20z"/>
<path class="j47" d="M2350 3806l3-17-11 12-4 19z"/>
<path class="j45" d="M2346 3823l4-17-12 14-3 19z"/>
<path class="j43" d="M2343 3840l3-17-11 16-4 19z"/>
<path class="j42" d="M2339 3857l4-17-12 18-3 19z"/>
<path class="j40" d="M2336 3877l3-20-11 20-3 22z"/>
<path class="j38" d="M2334 3891l2-14-11 22-3 16z"/>
<path class="j36" d="M2331 3907l3-16-12 24-2 19z"/>
<path class="j35" d="M2328 3924l3-17-11 27-3 19z"/>
<path class="j33" d="M2326 3941l2-17-11 29-2 19z"/>
<path class="j31" d="M2324 3957l2-16-11 31-3 19z"/>
<path class="j30" d="M2322 3974l2-17-12 34-2 18z"/>
<path class="j37" d="M2764 3749l2 12-11 31-3-14z"/>
<path class="j38" d="M2761 3737l3 12-12 29-2-14z"/>
<path class="j39" d="M2759 3725l2 12-11 27-2-14z"/>
<path class="j41" d="M2756 3713l3 12-11 25-3-13z"/>
<path class="j42" d="M2754 3702l2 11-11 24-3-14z"/>
<path class="j44" d="M2751 3690l3 12-12 21-2-14z"/>
<path class="j45" d="M2748 3678l3 12-11 19-3-14z"/>
<path class="j46" d="M2745 3666l3 12-11 17-4-13z"/>
<path class="j48" d="M2742 3654l3 12-12 16-3-14z"/>
<path class="j50" d="M2737 3640l5 14-12 14-4-16z"/>
<path class="j51" d="M2734 3631l3 9-11 12-3-11z"/>
<path class="j52" d="M2730 3620l4 11-11 10-5-13z"/>
<path class="j54" d="M2723 3604l2 5 5 11-12 8-4-13-3-6z"/>
<path class="j55" d="M2720 3598l3 6-12 5-3-7z"/>
<path class="j56" d="M2714 3587l6 11-12 4-6-13z"/>
<path class="j57" d="M2708 3580l6 7-12 2-5-9z"/>
<path class="j58" d="M2706 3577l2 3-11 0-2-3z"/>
<path class="j59" d="M2698 3567l8 10-11 0-9-11z"/>
<path class="j60" d="M2694 3564l4 3-12-1-4-4z"/>
<path class="j61" d="M2679 3556l7 3 8 5-12-2-7-7-7-4z"/>
<path class="j62" d="M2665 3552l3 1 11 3-11-5-11-4-4-1z"/>
<path class="j63" d="M2448 3630l15-9 14-7 15-6 14-6 15-6 14-5 14-6 15-5 14-6 15-5 14-6 15-5 14-3 14-3 15 0-12-6-14-1-14 2-15 4-14 5-15 5-14 5-15 6-14 5-14 6-15 6-14 5-15 6-14 6-15 8-14 9z"/>
<path class="j62" d="M2431 3644l3-3 14-11-11-7-14 12-4 4z"/>
<path class="j61" d="M2413 3665l7-9 11-12-12-5-11 12-7 10z"/>
<path class="j60" d="M2405 3676l8-11-12-4-7 13z"/>
<path class="j59" d="M2401 3683l4-7-11-2-4 7z"/>
<path class="j58" d="M2393 3700l8-17-11-2-9 19z"/>
<path class="j57" d="M2391 3704l2-4-12 0-2 4z"/>
<path class="j56" d="M2385 3716l6-12-12 0-5 14z"/>
<path class="j55" d="M2379 3732l6-16-11 2-6 18z"/>
<path class="j54" d="M2376 3741l3-9-11 4-3 10z"/>
<path class="j53" d="M2374 3748l2-7-11 5-2 8z"/>
<path class="j52" d="M2369 3763l5-15-11 6-5 17z"/>
<path class="j50" d="M2365 3778l4-15-11 8-5 18z"/>
<path class="j49" d="M2361 3793l4-15-12 11-3 17z"/>
<path class="j47" d="M2357 3809l4-16-11 13-4 17z"/>
<path class="j46" d="M2354 3824l3-15-11 14-3 17z"/>
<path class="j44" d="M2351 3838l3-14-11 16-4 17z"/>
<path class="j42" d="M2347 3856l4-18-12 19-3 20z"/>
<path class="j41" d="M2345 3868l2-12-11 21-2 14z"/>
<path class="j40" d="M2342 3883l3-15-11 23-3 16z"/>
<path class="j38" d="M2340 3897l2-14-11 24-3 17z"/>
<path class="j37" d="M2337 3912l3-15-12 27-2 17z"/>
<path class="j35" d="M2335 3927l2-15-11 29-2 16z"/>
<path class="j34" d="M2333 3941l2-14-11 30-2 17z"/>
<path class="j40" d="M2775 3723l2 10-11 28-2-12z"/>
<path class="j41" d="M2773 3713l2 10-11 26-3-12z"/>
<path class="j43" d="M2770 3703l3 10-12 24-2-12z"/>
<path class="j44" d="M2768 3692l2 11-11 22-3-12z"/>
<path class="j45" d="M2765 3682l3 10-12 21-2-11z"/>
<path class="j46" d="M2762 3672l3 10-11 20-3-12z"/>
<path class="j47" d="M2759 3662l3 10-11 18-3-12z"/>
<path class="j49" d="M2756 3652l3 10-11 16-3-12z"/>
<path class="j50" d="M2753 3642l3 10-11 14-3-12z"/>
<path class="j51" d="M2749 3630l4 12-11 12-5-14z"/>
<path class="j52" d="M2745 3623l4 7-12 10-3-9z"/>
<path class="j54" d="M2741 3613l4 10-11 8-4-11z"/>
<path class="j55" d="M2734 3600l2 4 5 9-11 7-5-11-2-5z"/>
<path class="j56" d="M2731 3595l3 5-11 4-3-6z"/>
<path class="j57" d="M2725 3586l6 9-11 3-6-11z"/>
<path class="j58" d="M2720 3580l5 6-11 1-6-7z"/>
<path class="j59" d="M2718 3578l2 2-12 0-2-3z"/>
<path class="j60" d="M2705 3567l4 3 9 8-12-1-8-10-4-3z"/>
<path class="j61" d="M2697 3563l8 4-11-3-8-5z"/>
<path class="j62" d="M2676 3558l4 0 11 2 6 3-11-4-7-3-11-3-3-1z"/>
<path class="j63" d="M2460 3637l14-9 15-7 14-6 15-6 14-5 14-6 15-5 14-6 15-5 14-6 15-5 14-5 14-4 15-3 14-1-11-6-15 0-14 3-14 3-15 5-14 6-15 5-14 6-15 5-14 6-14 5-15 6-14 6-15 6-14 7-15 9z"/>
<path class="j62" d="M2431 3661l11-11 3-3 15-10-12-7-14 11-3 3-11 12z"/>
<path class="j61" d="M2424 3669l7-8-11-5-7 9z"/>
<path class="j60" d="M2413 3685l4-6 7-10-11-4-8 11-4 7z"/>
<path class="j58" d="M2402 3703l2-3 9-15-12-2-8 17-2 4z"/>
<path class="j57" d="M2397 3714l5-11-11 1-6 12z"/>
<path class="j56" d="M2391 3728l6-14-12 2-6 16z"/>
<path class="j55" d="M2388 3736l3-8-12 4-3 9z"/>
<path class="j54" d="M2385 3742l3-6-12 5-2 7z"/>
<path class="j53" d="M2381 3756l4-14-11 6-5 15z"/>
<path class="j52" d="M2376 3769l5-13-12 7-4 15z"/>
<path class="j51" d="M2372 3782l4-13-11 9-4 15z"/>
<path class="j49" d="M2369 3796l3-14-11 11-4 16z"/>
<path class="j48" d="M2365 3809l4-13-12 13-3 15z"/>
<path class="j47" d="M2362 3822l3-13-11 15-3 14z"/>
<path class="j45" d="M2359 3837l3-15-11 16-4 18z"/>
<path class="j44" d="M2357 3847l2-10-12 19-2 12z"/>
<path class="j43" d="M2354 3860l3-13-12 21-3 15z"/>
<path class="j41" d="M2351 3873l3-13-12 23-2 14z"/>
<path class="j40" d="M2349 3886l2-13-11 24-3 15z"/>
<path class="j39" d="M2347 3898l2-12-12 26-2 15z"/>
<path class="j38" d="M2344 3911l3-13-12 29-2 14z"/>
<path class="j43" d="M2787 3699l2 9-12 25-2-10z"/>
<path class="j44" d="M2784 3691l3 8-12 24-2-10z"/>
<path class="j45" d="M2782 3682l2 9-11 22-3-10z"/>
<path class="j46" d="M2779 3674l3 8-12 21-2-11z"/>
<path class="j48" d="M2777 3665l2 9-11 18-3-10z"/>
<path class="j49" d="M2774 3657l3 8-12 17-3-10z"/>
<path class="j50" d="M2771 3648l3 9-12 15-3-10z"/>
<path class="j51" d="M2768 3640l3 8-12 14-3-10z"/>
<path class="j52" d="M2764 3632l4 8-12 12-3-10z"/>
<path class="j53" d="M2760 3622l4 10-11 10-4-12z"/>
<path class="j54" d="M2757 3616l3 6-11 8-4-7z"/>
<path class="j55" d="M2753 3608l4 8-12 7-4-10z"/>
<path class="j56" d="M2746 3597l2 3 5 8-12 5-5-9-2-4z"/>
<path class="j57" d="M2742 3593l4 4-12 3-3-5z"/>
<path class="j58" d="M2736 3585l6 8-11 2-6-9z"/>
<path class="j59" d="M2729 3578l2 2 5 5-11 1-5-6-2-2z"/>
<path class="j60" d="M2720 3572l9 6-11 0-9-8z"/>
<path class="j61" d="M2709 3567l8 3 3 2-11-2-4-3-8-4z"/>
<path class="j62" d="M2691 3564l11 1 7 2-12-4-6-3-11-2z"/>
<path class="j63" d="M2457 3653l14-9 15-8 14-7 15-6 14-6 14-6 15-5 14-6 15-5 14-6 15-5 14-6 14-5 15-4 14-3 15-2 3 0-11-6-4 0-14 1-15 3-14 4-14 5-15 5-14 6-15 5-14 6-15 5-14 6-14 5-15 6-14 6-15 7-14 9-15 10z"/>
<path class="j62" d="M2442 3666l11-10 4-3-12-6-3 3-11 11z"/>
<path class="j61" d="M2428 3682l8-9 6-7-11-5-7 8-7 10z"/>
<path class="j60" d="M2424 3687l4-5-11-3-4 6z"/>
<path class="j59" d="M2414 3704l1-4 9-13-11-2-9 15-2 3z"/>
<path class="j58" d="M2408 3713l6-9-12-1-5 11z"/>
<path class="j57" d="M2402 3726l6-13-11 1-6 14z"/>
<path class="j56" d="M2397 3738l2-6 3-6-11 2-3 8-3 6z"/>
<path class="j55" d="M2392 3749l5-11-12 4-4 14z"/>
<path class="j53" d="M2388 3761l4-12-11 7-5 13z"/>
<path class="j52" d="M2384 3773l4-12-12 8-4 13z"/>
<path class="j51" d="M2380 3784l4-11-12 9-3 14z"/>
<path class="j50" d="M2377 3795l3-11-11 12-4 13z"/>
<path class="j49" d="M2374 3807l3-12-12 14-3 13z"/>
<path class="j48" d="M2370 3820l4-13-12 15-3 15z"/>
<path class="j47" d="M2368 3829l2-9-11 17-2 10z"/>
<path class="j46" d="M2365 3840l3-11-11 18-3 13z"/>
<path class="j45" d="M2363 3851l2-11-11 20-3 13z"/>
<path class="j43" d="M2360 3862l3-11-12 22-2 13z"/>
<path class="j42" d="M2358 3873l2-11-11 24-2 12z"/>
<path class="j41" d="M2356 3884l2-11-11 25-3 13z"/>
<path class="j46" d="M2798 3678l2 7-11 23-2-9z"/>
<path class="j47" d="M2796 3671l2 7-11 21-3-8z"/>
<path class="j48" d="M2793 3664l3 7-12 20-2-9z"/>
<path class="j49" d="M2791 3657l2 7-11 18-3-8z"/>
<path class="j50" d="M2788 3650l3 7-12 17-2-9z"/>
<path class="j51" d="M2785 3643l3 7-11 15-3-8z"/>
<path class="j52" d="M2782 3636l3 7-11 14-3-9z"/>
<path class="j53" d="M2779 3629l3 7-11 12-3-8z"/>
<path class="j54" d="M2776 3623l3 6-11 11-4-8z"/>
<path class="j55" d="M2768 3609l3 6 5 8-12 9-4-10-3-6z"/>
<path class="j56" d="M2764 3603l4 6-11 7-4-8z"/>
<path class="j57" d="M2759 3597l5 6-11 5-5-8z"/>
<path class="j58" d="M2754 3591l3 3 2 3-11 3-2-3-4-4z"/>
<path class="j59" d="M2748 3585l6 6-12 2-6-8z"/>
<path class="j60" d="M2741 3580l2 1 5 4-12 0-5-5-2-2z"/>
<path class="j61" d="M2728 3574l4 1 9 5-12-2-9-6-3-2z"/>
<path class="j62" d="M2714 3571l6 1 8 2-11-4-8-3-7-2z"/>
<path class="j63" d="M2465 3662l3-2 15-10 14-7 15-7 14-6 14-5 15-6 14-5 15-6 14-6 15-5 14-6 14-5 15-5 14-5 15-3 14-2 4-1 11 1-12-6-11-1-3 0-15 2-14 3-15 4-14 5-14 6-15 5-14 6-15 5-14 6-15 5-14 6-14 6-15 6-14 7-15 8-14 9-4 3z"/>
<path class="j62" d="M2447 3677l7-6 11-9-12-6-11 10-6 7z"/>
<path class="j61" d="M2436 3690l3-5 8-8-11-4-8 9-4 5z"/>
<path class="j60" d="M2427 3702l9-12-12-3-9 13z"/>
<path class="j59" d="M2420 3713l5-9 2-2-12-2-1 4-6 9z"/>
<path class="j58" d="M2414 3724l6-11-12 0-6 13z"/>
<path class="j57" d="M2408 3734l3-5 3-5-12 2-3 6-2 6z"/>
<path class="j56" d="M2404 3744l4-10-11 4-5 11z"/>
<path class="j55" d="M2399 3754l5-10-12 5-4 12z"/>
<path class="j54" d="M2395 3764l4-10-11 7-4 12z"/>
<path class="j53" d="M2392 3774l3-10-11 9-4 11z"/>
<path class="j52" d="M2388 3784l4-10-12 10-3 11z"/>
<path class="j51" d="M2385 3794l3-10-11 11-3 12z"/>
<path class="j50" d="M2382 3805l3-11-11 13-4 13z"/>
<path class="j49" d="M2379 3813l3-8-12 15-2 9z"/>
<path class="j48" d="M2377 3822l2-9-11 16-3 11z"/>
<path class="j47" d="M2374 3832l3-10-12 18-2 11z"/>
<path class="j46" d="M2372 3841l2-9-11 19-3 11z"/>
<path class="j45" d="M2369 3850l3-9-12 21-2 11z"/>
<path class="j44" d="M2367 3860l2-10-11 23-2 11z"/>
<path class="j49" d="M2809 3659l3 6-12 20-2-7z"/>
<path class="j50" d="M2807 3653l2 6-11 19-2-7z"/>
<path class="j51" d="M2802 3642l3 6 2 5-11 18-3-7-2-7z"/>
<path class="j52" d="M2800 3637l2 5-11 15-3-7z"/>
<path class="j53" d="M2797 3631l3 6-12 13-3-7z"/>
<path class="j54" d="M2791 3620l3 6 3 5-12 12-3-7-3-7z"/>
<path class="j55" d="M2787 3615l4 5-12 9-3-6z"/>
<path class="j56" d="M2783 3609l4 6-11 8-5-8z"/>
<path class="j57" d="M2775 3600l5 5 3 4-12 6-3-6-4-6z"/>
<path class="j58" d="M2768 3593l3 2 4 5-11 3-5-6-2-3z"/>
<path class="j59" d="M2765 3590l3 3-11 1-3-3z"/>
<path class="j60" d="M2752 3582l2 1 5 3 6 4-11 1-6-6-5-4-2-1z"/>
<path class="j61" d="M2740 3578l3 1 9 3-11-2-9-5-4-1z"/>
<path class="j62" d="M2725 3576l7 1 8 1-12-4-8-2-6-1z"/>
<path class="j63" d="M2476 3668l4-2 14-9 15-7 14-6 14-6 15-6 14-5 15-6 14-5 15-6 14-5 14-6 15-5 14-6 15-4 14-4 15-3 3 0 11-1-11-5-11-1-4 1-14 2-15 3-14 5-15 5-14 5-14 6-15 5-14 6-15 6-14 5-15 6-14 5-14 6-15 7-14 7-15 10-3 2z"/>
<path class="j62" d="M2459 3682l6-6 11-8-11-6-11 9-7 6z"/>
<path class="j61" d="M2447 3693l4-4 8-7-12-5-8 8-3 5z"/>
<path class="j60" d="M2431 3713l5-7 2-2 9-11-11-3-9 12-2 2-5 9z"/>
<path class="j59" d="M2425 3723l6-10-11 0-6 11z"/>
<path class="j58" d="M2420 3732l2-4 3-5-11 1-3 5-3 5z"/>
<path class="j57" d="M2415 3740l5-8-12 2-4 10z"/>
<path class="j56" d="M2407 3757l4-8 4-9-11 4-5 10-4 10z"/>
<path class="j55" d="M2403 3766l4-9-12 7-3 10z"/>
<path class="j54" d="M2400 3774l3-8-11 8-4 10z"/>
<path class="j53" d="M2397 3782l3-8-12 10-3 10z"/>
<path class="j52" d="M2391 3798l2-6 4-10-12 12-3 11-3 8z"/>
<path class="j51" d="M2388 3806l3-8-12 15-2 9z"/>
<path class="j50" d="M2386 3814l2-8-11 16-3 10z"/>
<path class="j49" d="M2383 3822l3-8-12 18-2 9z"/>
<path class="j48" d="M2379 3838l2-8 2-8-11 19-3 9-2 10z"/>
<path class="j52" d="M2819 3638l2 5 2 4-11 18-3-6-2-6z"/>
<path class="j53" d="M2814 3630l2 4 3 4-12 15-2-5-3-6z"/>
<path class="j54" d="M2811 3625l3 5-12 12-2-5z"/>
<path class="j55" d="M2805 3617l3 4 3 4-11 12-3-6-3-5z"/>
<path class="j56" d="M2802 3613l3 4-11 9-3-6z"/>
<path class="j57" d="M2794 3604l5 5 3 4-11 7-4-5-4-6z"/>
<path class="j58" d="M2787 3597l4 4 3 3-11 5-3-4-5-5z"/>
<path class="j59" d="M2780 3592l2 2 5 3-12 3-4-5-3-2z"/>
<path class="j60" d="M2771 3587l6 3 3 2-12 1-3-3-6-4z"/>
<path class="j61" d="M2764 3585l1 0 6 2-12-1-5-3-2-1z"/>
<path class="j62" d="M2743 3582l8 0 4 1 9 2-12-3-9-3-3-1-8-1z"/>
<path class="j63" d="M2488 3675l3-3 15-7 14-7 14-7 15-5 14-6 15-6 14-5 15-6 14-5 14-6 15-5 14-6 15-5 14-5 15-4 14-3 4-1 11-1 6 0-11-5-7-1-11 1-3 0-15 3-14 4-15 4-14 6-15 5-14 6-14 5-15 6-14 5-15 6-14 5-15 6-14 6-14 6-15 7-14 9-4 2z"/>
<path class="j62" d="M2458 3697l4-4 8-6 7-5 11-7-12-7-11 8-6 6-8 7-4 4z"/>
<path class="j61" d="M2448 3708l2-2 8-9-11-4-9 11-2 2z"/>
<path class="j60" d="M2436 3722l7-8 5-6-12-2-5 7-6 10z"/>
<path class="j59" d="M2431 3730l2-3 3-5-11 1-3 5-2 4z"/>
<path class="j58" d="M2422 3745l4-8 5-7-11 2-5 8-4 9z"/>
<path class="j57" d="M2418 3752l4-7-11 4-4 8z"/>
<path class="j56" d="M2411 3766l4-7 3-7-11 5-4 9-3 8z"/>
<path class="j55" d="M2408 3773l3-7-11 8-3 8z"/>
<path class="j54" d="M2402 3786l3-5 3-8-11 9-4 10-2 6z"/>
<path class="j53" d="M2400 3793l2-7-11 12-3 8z"/>
<path class="j52" d="M2395 3806l2-6 3-7-12 13-2 8-3 8z"/>
<path class="j51" d="M2392 3813l3-7-12 16-2 8z"/>
<path class="j50" d="M2390 3819l2-6-11 17-2 8z"/>
<path class="j54" d="M2830 3626l2 3 3 4-12 14-2-4-2-5z"/>
<path class="j55" d="M2825 3619l3 4 2 3-11 12-3-4-2-4z"/>
<path class="j56" d="M2820 3613l2 3 3 3-11 11-3-5-3-4z"/>
<path class="j57" d="M2814 3607l3 3 3 3-12 8-3-4-3-4z"/>
<path class="j58" d="M2810 3604l4 3-12 6-3-4z"/>
<path class="j59" d="M2798 3596l5 2 3 2 4 4-11 5-5-5-3-3-4-4z"/>
<path class="j60" d="M2788 3591l3 1 3 1 4 3-11 1-5-3-2-2-3-2z"/>
<path class="j61" d="M2775 3588l2 0 5 1 6 2-11-1-6-3-6-2-1 0z"/>
<path class="j62" d="M2755 3587l7 0 4 0 9 1-11-3-9-2-4-1-8 0z"/>
<path class="j63" d="M2488 3688l11-7 4-2 14-7 14-7 15-6 14-6 15-5 14-6 15-6 14-5 14-6 15-5 14-6 15-5 14-5 15-5 14-5 15-4 3 0 11-2 7-1-12-5-6 0-11 1-4 1-14 3-15 4-14 5-15 5-14 6-15 5-14 6-14 5-15 6-14 5-15 6-14 6-15 5-14 7-14 7-15 7-3 3-11 7z"/>
<path class="j62" d="M2470 3701l4-3 7-6 7-4-11-6-7 5-8 6-4 4z"/>
<path class="j61" d="M2454 3716l5-5 2-2 9-8-12-4-8 9-2 2-5 6z"/>
<path class="j60" d="M2443 3729l2-3 3-3 6-7-11-2-7 8-3 5-2 3z"/>
<path class="j59" d="M2434 3742l4-6 5-7-12 1-5 7-4 8z"/>
<path class="j58" d="M2426 3754l4-6 4-6-12 3-4 7-3 7z"/>
<path class="j57" d="M2419 3765l4-6 3-5-11 5-4 7-3 7z"/>
<path class="j56" d="M2416 3772l3-7-11 8-3 8z"/>
<path class="j55" d="M2411 3782l3-6 2-4-11 9-3 5-2 7z"/>
<path class="j54" d="M2406 3792l2-5 3-5-11 11-3 7-2 6z"/>
<path class="j53" d="M2402 3803l2-5 2-6-11 14-3 7-2 6z"/>
<path class="j56" d="M2841 3616l3 2 2 2-11 13-3-4-2-3z"/>
<path class="j57" d="M2834 3609l3 2 2 2 2 3-11 10-2-3-3-4-3-3z"/>
<path class="j58" d="M2828 3605l3 2 3 2-12 7-2-3-3-3z"/>
<path class="j59" d="M2822 3601l3 1 3 3-11 5-3-3-4-3z"/>
<path class="j60" d="M2810 3595l4 2 3 1 5 3-12 3-4-4-3-2-5-2z"/>
<path class="j61" d="M2794 3592l6 1 3 0 2 1 5 1-12 1-4-3-3-1-3-1-6-2z"/>
<path class="j62" d="M2774 3592l4-1 8 0 2 0 6 1-12-3-5-1-2 0-9-1-4 0z"/>
<path class="j63" d="M2493 3698l7-4 11-6 3-2 14-7 15-7 14-5 15-6 14-6 15-5 14-6 14-5 15-6 14-6 15-5 14-6 15-5 14-5 15-5 14-4 3-1 11-2 7-1 8-1-12-5-7 0-7 1-11 2-3 0-15 4-14 5-15 5-14 5-15 5-14 6-15 5-14 6-14 5-15 6-14 6-15 5-14 6-15 6-14 7-14 7-4 2-11 7-7 4z"/>
<path class="j62" d="M2471 3714l2-2 8-6 4-3 8-5-12-6-7 6-4 3-9 8-2 2z"/>
<path class="j61" d="M2454 3730l2-3 3-3 6-5 6-5-12-3-5 5-6 7-3 3-2 3z"/>
<path class="j60" d="M2445 3740l4-5 5-5-11-1-5 7-4 6z"/>
<path class="j59" d="M2437 3750l4-5 4-5-11 2-4 6-4 6z"/>
<path class="j58" d="M2427 3764l4-5 3-5 3-4-11 4-3 5-4 6-3 7z"/>
<path class="j57" d="M2422 3773l3-5 2-4-11 8-2 4-3 6z"/>
<path class="j56" d="M2418 3781l2-4 2-4-11 9-3 5-2 5z"/>
<path class="j55" d="M2413 3790l2-4 3-5-12 11-2 6-2 5z"/>
<path class="j58" d="M2850 3606l3 2 2 1 2 2-11 9-2-2-3-2-2-3z"/>
<path class="j59" d="M2840 3601l2 1 3 1 3 2 2 1-11 7-2-2-3-2-3-2-3-2z"/>
<path class="j60" d="M2829 3598l4 1 3 1 4 1-12 4-3-3-3-1-5-3z"/>
<path class="j61" d="M2814 3595l2 1 5 0 4 1 4 1-12 0-3-1-4-2-5-1-2-1z"/>
<path class="j62" d="M2798 3596l2-1 5 0 6 0 3 0-11-2-3 0-6-1-6-1-2 0z"/>
<path class="j63" d="M2493 3711l4-3 7-4 7-4 11-6 3-1 15-7 14-6 15-6 14-6 15-5 14-6 14-5 15-6 14-5 15-6 14-5 15-6 14-5 15-6 14-5 14-4 4-1 11-3 6-1 8-2 4-1 9 0-12-5-8 0-4 1-8 1-7 1-11 2-3 1-14 4-15 5-14 5-15 5-14 6-15 5-14 6-15 6-14 5-14 6-15 5-14 6-15 6-14 5-15 7-14 7-3 2-11 6-7 4-8 5-4 3z"/>
<path class="j62" d="M2471 3727l6-5 5-4 2-2 9-5-12-5-8 6-2 2-6 5-6 5z"/>
<path class="j61" d="M2456 3740l5-5 4-4 3-2 3-2-12-3-3 3-2 3-5 5-4 5z"/>
<path class="j60" d="M2445 3751l4-4 3-3 4-4-11 0-4 5-4 5-3 4z"/>
<path class="j59" d="M2437 3762l2-3 3-4 3-4-11 3-3 5-4 5-2 4z"/>
<path class="j58" d="M2429 3773l2-4 3-3 3-4-12 6-3 5-2 4-2 4z"/>
<path class="j57" d="M2424 3779l3-3 2-3-11 8-3 5-2 4z"/>
<path class="j59" d="M2864 3602l3 1 2 1-12 7-2-2-2-1z"/>
<path class="j60" d="M2854 3600l3 0 2 1 3 0 2 1-11 6-3-2-2-1-3-2-3-1z"/>
<path class="j61" d="M2837 3598l3 0 4 0 4 1 3 0 3 1-12 2-2-1-4-1-3-1-4-1-4-1z"/>
<path class="j62" d="M2816 3599l6-1 4 0 2 0 5 0 4 0-12-1-4-1-5 0-2-1-3 0-6 0z"/>
<path class="j63" d="M2495 3721l9-5 4-2 8-4 6-4 11-5 4-1 14-7 15-6 14-5 15-6 14-6 14-5 15-6 14-5 15-6 14-5 15-6 14-5 15-6 14-5 14-5 15-5 3-1 11-3 7-2 8-2 3-1 9-2 2 0 5-1-11-4-5 0-2 1-9 0-4 1-8 2-6 1-11 3-4 1-14 4-14 5-15 6-14 5-15 6-14 5-15 6-14 5-15 6-14 5-14 6-15 5-14 6-15 6-14 6-15 7-3 1-11 6-7 4-7 4-4 3-9 5z"/>
<path class="j62" d="M2472 3737l5-4 2-1 3-2 6-5 6-3 1-1-11-5-2 2-5 4-6 5-3 2-3 2-4 4z"/>
<path class="j61" d="M2457 3750l3-3 4-3 4-4 4-3-11-2-5 5-4 4-3 3-4 4z"/>
<path class="j60" d="M2445 3761l3-3 2-2 4-3 3-3-12 1-3 4-3 4-2 3-3 4z"/>
<path class="j59" d="M2436 3772l2-3 2-2 3-3 2-3-11 5-3 3-2 4-2 3-3 3z"/>
<path class="j61" d="M2862 3599l3 0 3 0 3 0 2 0 3 0 2 0 2 0-11 5-2-1-3-1-2-1-3 0-2-1-3 0-3-1z"/>
<path class="j62" d="M2837 3602l2-1 5 0 4-1 3 0 5-1 3 0 3 0-11 0-3 0-4-1-4 0-3 0-4 0-5 0-2 0z"/>
<path class="j63" d="M2494 3733l6-3 5-3 2-1 9-4 3-2 8-4 7-3 11-5 3-1 15-6 14-6 15-6 14-5 14-6 15-5 14-6 15-6 14-5 15-6 14-5 15-6 14-5 14-6 15-5 14-5 4-1 11-4 6-2 8-2 4-1 9-3 2 0 5-1 6-2 3 0-11-4-4 0-6 1-5 1-2 0-9 2-3 1-8 2-7 2-11 3-3 1-15 5-14 5-14 5-15 6-14 5-15 6-14 5-15 6-14 5-15 6-14 5-14 6-15 6-14 5-15 6-14 7-4 1-11 5-6 4-8 4-4 2-9 5-1 1-6 3-6 5z"/>
<path class="j62" d="M2468 3750l4-3 3-2 4-3 5-2 4-3 3-2 3-2-12-3-3 2-2 1-5 4-4 3-4 4-4 3-3 3z"/>
<path class="j61" d="M2452 3763l2-2 3-2 2-2 3-2 3-3 3-2-11 0-3 3-4 3-2 2-3 3-2 3-3 3z"/>
<path class="j60" d="M2447 3767l3-2 2-2-12 4-2 2-2 3z"/>
<path class="j62" d="M2867 3602l4-1 3 0 3-1 3 0 2-1 3 0 2-1 2 0 3 0-12 1-2 0-2 0-3 0-2 0-3 0-3 0-3 0-3 0-3 0z"/>
<path class="j63" d="M2491 3746l4-3 5-2 2-1 3-2 6-3 5-2 2-1 9-4 4-2 8-3 6-3 11-5 4-1 14-6 15-6 14-5 14-6 15-5 14-6 15-5 14-6 15-5 14-6 15-6 14-5 14-6 15-5 14-5 15-6 3-1 11-4 7-2 8-3 3-1 9-3 2 0 5-2 6-2 3-1 3 0 4-1 5-1 3-1 4-1-11-3-5 1-3 0-4 1-5 0-2 1-3 0-6 2-5 1-2 0-9 3-4 1-8 2-6 2-11 4-4 1-14 5-15 5-14 6-14 5-15 6-14 5-15 6-14 5-15 6-14 6-15 5-14 6-14 5-15 6-14 6-15 6-3 1-11 5-7 3-8 4-3 2-9 4-2 1-5 3-6 3-3 2-3 2-4 3-5 2z"/>
<path class="j62" d="M2463 3762l3-2 2-1 3-2 2-1 4-2 3-2 3-2 4-2 4-2-12-4-4 3-3 2-4 3-3 2-3 3-3 2-2 2-3 2-2 2z"/>
<path class="j61" d="M2459 3765l2-2 2-1-11 1-2 2-3 2z"/>
<path class="j62" d="M2899 3600l2-1 2 0-11-1-3 0-2 0z"/>
<path class="j63" d="M2480 3761l2-2 3-1 3-1 3-2 4-1 3-2 4-2 4-2 5-2 2-1 3-1 7-3 5-2 2-1 9-4 3-1 8-3 7-3 11-4 3-2 15-5 14-6 14-6 15-5 14-6 15-5 14-6 15-5 14-6 15-5 14-6 14-5 15-6 14-5 15-6 14-5 4-2 11-4 6-2 8-3 4-1 9-3 1-1 6-2 6-2 3-1 2-1 5-1 4-2 3-1 5-1 3-1 3-1 3-1 3-1 3-1 2 0 3-1-12-2-2 1-3 0-2 1-3 0-3 1-3 0-4 1-4 1-3 1-5 1-4 1-3 0-3 1-6 2-5 2-2 0-9 3-3 1-8 3-7 2-11 4-3 1-15 6-14 5-15 5-14 6-14 5-15 6-14 6-15 5-14 6-15 5-14 6-15 5-14 6-14 5-15 6-14 6-4 1-11 5-6 3-8 3-4 2-9 4-2 1-5 2-6 3-3 2-2 1-5 2-4 3-4 2-4 2-3 2-3 2-4 2-2 1-3 2z"/>
<path class="j62" d="M2470 3765l2-1 3-1 2-1 3-1-12-2-2 1-3 2-2 1-2 2z"/>
<path class="j63" d="M2482 3769l2-1 2-1 3-1 2-1 3-1 2-1 3-1 4-2 3-1 4-2 4-1 4-2 5-2 2-1 3-1 6-2 5-2 2-1 9-4 4-1 7-3 7-3 11-4 4-1 14-6 14-5 15-6 14-5 15-6 14-6 15-5 14-6 15-5 14-6 14-5 15-6 14-5 15-6 14-5 15-6 3-1 11-4 7-3 7-3 4-1 9-4 2 0 5-2 6-3 3-1 3-1 4-1 5-2 3-1 4-2 4-1 3-1 3-1 2-1 3-1 3-1 2-1 2-1 3 0-12-4-2 0-2 1-3 1-2 0-3 1-3 1-3 1-3 1-3 1-5 1-3 1-4 2-5 1-2 1-3 1-6 2-6 2-1 1-9 3-4 1-8 3-6 2-11 4-4 2-14 5-15 6-14 5-15 6-14 5-14 6-15 5-14 6-15 5-14 6-15 5-14 6-15 5-14 6-14 6-15 5-3 2-11 4-7 3-8 3-3 1-9 4-2 1-5 2-7 3-3 1-2 1-5 2-4 2-4 2-3 2-4 1-3 2-3 1-3 1-2 2-3 1-2 1-3 1-2 1z"/>
<path class="j63" d="M2493 3775l2-1 3-1 2 0 2-1 3-1 2-1 4-2 3-1 3-1 4-2 4-1 4-2 5-2 2 0 3-2 6-2 6-2 2-1 8-3 4-2 8-3 7-2 11-4 3-2 14-5 15-6 14-5 15-6 14-5 15-6 14-5 15-6 14-6 14-5 15-6 14-5 15-6 14-5 15-6 14-5 3-2 11-4 7-2 8-3 4-2 8-3 2-1 6-2 6-2 3-2 2 0 5-2 4-2 3-1 5-2 3-1 3-1 3-1 3-2 3-1 2-1 2 0 3-1 2-1-11-6-3 0-2 1-2 1-3 1-3 1-2 1-3 1-3 1-4 1-4 2-3 1-5 2-4 1-3 1-3 1-6 3-5 2-2 0-9 4-4 1-7 3-7 3-11 4-3 1-15 6-14 5-15 6-14 5-15 6-14 5-14 6-15 5-14 6-15 5-14 6-15 6-14 5-15 6-14 5-14 6-4 1-11 4-7 3-7 3-4 1-9 4-2 1-5 2-6 2-3 1-2 1-5 2-4 2-4 1-4 2-3 1-4 2-3 1-2 1-3 1-2 1-3 1-2 1-2 1z"/>
<path class="j63" d="M2521 3802l2-1 2-1 3-2 2-1 3-2 2-1 4-2 3-1 3-2 4-2 4-2 4-2 5-2 2-1 3-1 6-3 6-3 2 0 8-4 4-2 8-3 7-3 11-4 3-2 14-5 15-6 14-6 15-5 14-6 15-5 14-6 14-5 15-6 14-5 15-6 14-5 15-6 14-6 14-5 15-5 3-2 11-4 7-2 8-3 4-1 8-3 2-1 6-1 6-2 3-1 2-1 5-1 4-2 3-1 5-1 3-1 3 0 3-1 3-1 2-1 3 0 2-1 3 0 2-1-28-26-2 1-3 1-2 0-2 1-3 1-3 2-3 1-3 1-3 1-5 2-3 1-4 2-5 2-2 0-3 2-6 2-6 2-2 1-8 3-4 2-8 3-7 2-11 4-3 2-14 5-15 6-14 5-15 6-14 5-15 6-14 5-14 6-15 6-14 5-15 6-14 5-15 6-14 5-15 6-14 5-3 2-11 4-7 2-8 3-4 2-8 3-2 1-6 2-6 2-3 2-2 0-5 2-4 2-4 1-4 2-3 1-3 1-4 2-2 1-3 1-2 1-2 0-3 1-2 1z"/>
<path class="j61" d="M2967 3674l3 1 2 0 3 1 2 0 3 1 2 1-28-43-2 1-3 0-2 1-3 0-2 1-3 1z"/>
<path class="j62" d="M2941 3673l5 0 4 0 3 0 4 0 4 0 3 1 3 0-28-35-3 1-3 0-3 1-5 1-3 1-4 2-5 1z"/>
<path class="j63" d="M2595 3805l6-4 6-4 1-1 9-5 4-2 8-4 7-3 10-5 4-2 14-6 15-6 14-6 15-5 14-6 15-6 14-5 14-6 15-5 14-6 15-5 14-6 15-5 14-6 14-5 15-5 3-1 11-3 7-2 8-2 4-1 8-2 2 0 5-1 7 0 3-1 2 0-28-27-2 1-3 1-6 2-6 1-2 1-8 3-4 1-8 3-7 2-11 4-3 2-15 5-14 5-14 6-15 6-14 5-15 6-14 5-15 6-14 5-14 6-15 5-14 6-15 5-14 6-15 6-14 5-3 2-11 4-7 3-8 3-4 2-8 4-2 0-6 3-6 3z"/>
<path class="j62" d="M2570 3824l3-3 4-3 4-3 4-3 5-4 2-1 3-2-28-26-3 1-2 1-5 2-4 2-4 2-4 2-3 2z"/>
<path class="j61" d="M2553 3841l3-3 2-3 3-2 2-3 4-3 3-3-28-33-3 1-4 2-2 1-3 2-2 1-3 2z"/>
<path class="j60" d="M2549 3846l2-3 2-2-28-41-2 1-2 1z"/>
<path class="j57" d="M3005 3731l3 2 2 3-28-58-2-1-3-1z"/>
<path class="j58" d="M2998 3723l2 3 3 2 2 3-28-55-2 0-3-1-2 0z"/>
<path class="j59" d="M2989 3716l3 2 3 3 3 2-28-48-3-1-3 0-3-1z"/>
<path class="j60" d="M2978 3709l3 2 4 2 4 3-28-43-4 0-4 0-3 0z"/>
<path class="j61" d="M2963 3704l4 1 2 1 5 1 4 2-28-36-4 0-5 0-2 0-3 1z"/>
<path class="j62" d="M2941 3702l9 0 2 0 5 1 6 1-27-30-7 0-5 1-2 0-8 2z"/>
<path class="j63" d="M2649 3813l8-5 6-4 11-7 4-1 14-8 15-6 14-6 15-6 14-5 14-6 15-5 14-6 15-6 14-5 15-6 14-5 14-5 15-6 14-4 15-4 3-1 11-2 7-1 8-1 3 0-27-25-4 1-8 2-7 2-11 3-3 1-15 5-14 5-14 6-15 5-14 6-15 5-14 6-15 5-14 6-14 5-15 6-14 6-15 5-14 6-15 6-14 6-4 2-10 5-7 3-8 4z"/>
<path class="j62" d="M2629 3830l6-5 1-2 9-7 4-3-28-24-4 2-9 5-1 1-6 4z"/>
<path class="j61" d="M2613 3847l5-6 2-2 3-3 6-6-28-29-6 4-3 2-2 1-5 4z"/>
<path class="j60" d="M2601 3863l4-5 4-6 4-5-28-35-4 3-4 3-4 3z"/>
<path class="j59" d="M2595 3873l3-5 3-5-28-42-3 3-3 3z"/>
<path class="j58" d="M2586 3887l3-4 2-4 4-6-28-46-4 3-2 3-3 2z"/>
<path class="j57" d="M2579 3901l2-4 3-5 2-5-28-52-2 3-3 3-2 2z"/>
<path class="j56" d="M2577 3906l2-5-28-58-2 3z"/>
<path class="j52" d="M3036 3805l2 5-28-74-2-3z"/>
<path class="j53" d="M3031 3794l2 5 3 6-28-72-3-2-2-3z"/>
<path class="j54" d="M3026 3783l2 6 3 5-28-66-3-2-2-3z"/>
<path class="j55" d="M3023 3778l3 5-28-60-3-2z"/>
<path class="j56" d="M3017 3768l3 5 3 5-28-57-3-3-3-2z"/>
<path class="j57" d="M3013 3763l4 5-28-52-4-3z"/>
<path class="j58" d="M3006 3753l3 4 4 6-28-50-4-2-3-2z"/>
<path class="j59" d="M2997 3744l5 4 4 5-28-44-4-2-5-1z"/>
<path class="j60" d="M2985 3735l6 4 3 3 3 2-28-38-2-1-4-1-6-1z"/>
<path class="j61" d="M2978 3732l2 1 5 2-28-32-5-1-2 0z"/>
<path class="j62" d="M2958 3727l8 1 3 1 9 3-28-30-9 0-3 0-8 1z"/>
<path class="j63" d="M2691 3827l11-8 4-2 14-9 15-7 14-6 15-6 14-6 14-5 15-6 14-5 15-6 14-5 15-6 14-5 14-6 15-4 14-4 15-3 3-1 11 0 7 0-28-24-7 1-11 2-3 1-15 4-14 4-15 6-14 5-14 5-15 6-14 5-15 6-14 6-15 5-14 6-14 5-15 6-14 6-15 6-14 8-4 1-11 7z"/>
<path class="j62" d="M2673 3843l4-4 8-7 6-5-28-23-6 4-8 5-4 3z"/>
<path class="j61" d="M2663 3856l1-3 9-10-28-27-9 7-1 2z"/>
<path class="j60" d="M2651 3872l6-9 6-7-28-31-6 5-6 6z"/>
<path class="j59" d="M2646 3880l2-3 3-5-28-36-3 3-2 2z"/>
<path class="j58" d="M2637 3897l4-8 5-9-28-39-5 6-4 5z"/>
<path class="j57" d="M2629 3913l4-8 4-8-28-45-4 6-4 5z"/>
<path class="j56" d="M2626 3921l3-8-28-50-3 5z"/>
<path class="j55" d="M2619 3938l4-9 3-8-28-53-3 5-4 6z"/>
<path class="j54" d="M2617 3945l2-7-28-59-2 4z"/>
<path class="j53" d="M2612 3960l2-7 3-8-28-62-3 4-2 5z"/>
<path class="j52" d="M2609 3968l3-8-28-68-3 5z"/>
<path class="j51" d="M2605 3983l2-8 2-7-28-71-2 4-2 5z"/>
<path class="j46" d="M3063 3891l3 9-28-90-2-5z"/>
<path class="j47" d="M3061 3882l2 9-27-86-3-6z"/>
<path class="j48" d="M3056 3864l3 9 2 9-28-83-2-5-3-5z"/>
<path class="j49" d="M3054 3855l2 9-28-75-2-6z"/>
<path class="j50" d="M3051 3847l3 8-28-72-3-5z"/>
<path class="j51" d="M3048 3838l3 9-28-69-3-5z"/>
<path class="j52" d="M3045 3829l3 9-28-65-3-5z"/>
<path class="j53" d="M3041 3821l4 8-28-61-4-5z"/>
<path class="j54" d="M3037 3810l4 11-28-58-4-6z"/>
<path class="j55" d="M3034 3804l3 6-28-53-3-4z"/>
<path class="j56" d="M3029 3796l5 8-28-51-4-5z"/>
<path class="j57" d="M3022 3784l3 3 4 9-27-48-5-4-3-2z"/>
<path class="j58" d="M3019 3780l3 4-28-42-3-3z"/>
<path class="j59" d="M3008 3767l5 5 6 8-28-41-6-4-5-2z"/>
<path class="j60" d="M3006 3765l2 2-28-34-2-1z"/>
<path class="j61" d="M2994 3756l3 2 9 7-28-33-9-3-3-1z"/>
<path class="j62" d="M2979 3751l7 2 8 3-28-28-8-1-7 0z"/>
<path class="j63" d="M2730 3841l4-2 14-10 15-8 14-7 14-6 15-6 14-6 15-5 14-6 15-5 14-6 15-5 14-6 14-5 15-4 14-3 15-1 3 0 11 1-28-24-11 0-3 1-15 3-14 4-15 4-14 6-14 5-15 6-14 5-15 6-14 5-15 6-14 5-14 6-15 6-14 6-15 7-14 9-4 2z"/>
<path class="j62" d="M2713 3858l6-7 11-10-28-22-11 8-6 5z"/>
<path class="j61" d="M2701 3873l4-5 8-10-28-26-8 7-4 4z"/>
<path class="j60" d="M2692 3887l9-14-28-30-9 10z"/>
<path class="j59" d="M2685 3900l5-10 2-3-28-34-1 3-6 7z"/>
<path class="j58" d="M2679 3913l6-13-28-37-6 9z"/>
<path class="j57" d="M2674 3925l2-5 3-7-28-41-3 5-2 3z"/>
<path class="j56" d="M2669 3937l5-12-28-45-5 9z"/>
<path class="j55" d="M2665 3949l4-12-28-48-4 8z"/>
<path class="j54" d="M2661 3961l4-12-28-52-4 8z"/>
<path class="j53" d="M2657 3973l4-12-28-56-4 8z"/>
<path class="j52" d="M2654 3985l3-12-28-60-3 8z"/>
<path class="j51" d="M2651 3997l3-12-28-64-3 8z"/>
<path class="j50" d="M2647 4010l4-13-28-68-4 9z"/>
<path class="j49" d="M2645 4020l2-10-28-72-2 7z"/>
<path class="j48" d="M2642 4031l3-11-28-75-3 8z"/>
<path class="j47" d="M2640 4042l2-11-28-78-2 7z"/>
<path class="j46" d="M2637 4054l3-12-28-82-3 8z"/>
<path class="j45" d="M2635 4065l2-11-28-86-2 7z"/>
<path class="j44" d="M2633 4076l2-11-28-90-2 8z"/>
<path class="j38" d="M3091 3992l3 14-28-106-3-9z"/>
<path class="j39" d="M3089 3979l2 13-28-101-2-9z"/>
<path class="j40" d="M3087 3966l2 13-28-97-2-9z"/>
<path class="j42" d="M3084 3953l3 13-28-93-3-9z"/>
<path class="j43" d="M3082 3939l2 14-28-89-2-9z"/>
<path class="j45" d="M3079 3926l3 13-28-84-3-8z"/>
<path class="j46" d="M3076 3913l3 13-28-79-3-9z"/>
<path class="j47" d="M3073 3900l3 13-28-75-3-9z"/>
<path class="j49" d="M3069 3887l4 13-28-71-4-8z"/>
<path class="j50" d="M3065 3872l4 15-28-66-4-11z"/>
<path class="j51" d="M3062 3862l3 10-28-62-3-6z"/>
<path class="j53" d="M3057 3849l5 13-28-58-5-8z"/>
<path class="j54" d="M3053 3837l4 12-28-53-4-9z"/>
<path class="j55" d="M3047 3825l3 6 3 6-28-50-3-3-3-4z"/>
<path class="j57" d="M3041 3813l6 12-28-45-6-8z"/>
<path class="j58" d="M3034 3801l2 3 5 9-28-41-5-5-2-2z"/>
<path class="j59" d="M3025 3790l9 11-28-36-9-7z"/>
<path class="j60" d="M3021 3786l4 4-28-32-3-2z"/>
<path class="j61" d="M3007 3776l7 4 7 6-27-30-8-3-7-2z"/>
<path class="j62" d="M2993 3772l3 1 11 3-28-25-11-1-3 0z"/>
<path class="j63" d="M2776 3849l15-9 14-7 14-6 15-6 14-6 15-5 14-6 15-6 14-5 14-6 15-5 14-5 15-3 14-2 15 0-28-22-15 1-14 3-15 4-14 5-14 6-15 5-14 6-15 5-14 6-15 5-14 6-15 6-14 6-14 7-15 8z"/>
<path class="j62" d="M2758 3864l4-3 14-12-28-20-14 10-4 2z"/>
<path class="j61" d="M2741 3886l6-9 11-13-28-23-11 10-6 7z"/>
<path class="j60" d="M2733 3899l8-13-28-28-8 10z"/>
<path class="j59" d="M2729 3905l4-6-28-31-4 5z"/>
<path class="j58" d="M2718 3928l2-4 9-19-28-32-9 14-2 3z"/>
<path class="j56" d="M2713 3941l5-13-28-38-5 10z"/>
<path class="j55" d="M2707 3959l6-18-28-41-6 13z"/>
<path class="j54" d="M2702 3976l2-8 3-9-28-46-3 7-2 5z"/>
<path class="j52" d="M2697 3993l5-17-28-51-5 12z"/>
<path class="j51" d="M2693 4009l4-16-28-56-4 12z"/>
<path class="j49" d="M2689 4026l4-17-28-60-4 12z"/>
<path class="j48" d="M2685 4042l4-16-28-65-4 12z"/>
<path class="j46" d="M2682 4058l3-16-28-69-3 12z"/>
<path class="j45" d="M2679 4075l3-17-28-73-3 12z"/>
<path class="j43" d="M2675 4093l4-18-28-78-4 13z"/>
<path class="j42" d="M2673 4107l2-14-28-83-2 10z"/>
<path class="j41" d="M2670 4123l3-16-28-87-3 11z"/>
<path class="j39" d="M2668 4139l2-16-28-92-2 11z"/>
<path class="j38" d="M2665 4155l3-16-28-97-3 12z"/>
<path class="j36" d="M2663 4171l2-16-28-101-2 11z"/>
<path class="j35" d="M2661 4187l2-16-28-106-2 11z"/>
<path class="j29" d="M3119 4109l3 18-28-121-3-14z"/>
<path class="j30" d="M3117 4090l2 19-28-117-2-13z"/>
<path class="j32" d="M3115 4072l2 18-28-111-2-13z"/>
<path class="j34" d="M3112 4054l3 18-28-106-3-13z"/>
<path class="j36" d="M3109 4035l3 19-28-101-2-14z"/>
<path class="j38" d="M3107 4017l2 18-27-96-3-13z"/>
<path class="j40" d="M3104 3999l3 18-28-91-3-13z"/>
<path class="j41" d="M3101 3981l3 18-28-86-3-13z"/>
<path class="j43" d="M3097 3963l4 18-28-81-4-13z"/>
<path class="j45" d="M3093 3941l4 22-28-76-4-15z"/>
<path class="j47" d="M3090 3927l3 14-28-69-3-10z"/>
<path class="j49" d="M3085 3909l5 18-28-65-5-13z"/>
<path class="j51" d="M3078 3884l3 8 4 17-28-60-4-12-3-6z"/>
<path class="j52" d="M3075 3874l3 10-28-53-3-6z"/>
<path class="j54" d="M3069 3857l6 17-28-49-6-12z"/>
<path class="j56" d="M3062 3840l2 4 5 13-28-44-5-9-2-3z"/>
<path class="j58" d="M3053 3824l9 16-28-39-9-11z"/>
<path class="j59" d="M3049 3819l4 5-28-34-4-4z"/>
<path class="j60" d="M3042 3809l7 10-28-33-7-6z"/>
<path class="j61" d="M3035 3803l7 6-28-29-7-4z"/>
<path class="j62" d="M3021 3795l3 2 11 6-28-27-11-3-3-1z"/>
<path class="j63" d="M2804 3870l15-10 14-8 14-7 15-6 14-5 15-6 14-5 15-6 14-5 14-6 15-5 14-4 15-4 14 0 15 2-28-23-15 0-14 2-15 3-14 5-15 5-14 6-14 5-15 6-14 6-15 5-14 6-15 6-14 6-14 7-15 9z"/>
<path class="j62" d="M2786 3889l4-5 14-14-28-21-14 12-4 3z"/>
<path class="j61" d="M2775 3904l11-15-28-25-11 13z"/>
<path class="j60" d="M2769 3916l6-12-28-27-6 9z"/>
<path class="j58" d="M2757 3940l4-9 8-15-28-30-8 13-4 6z"/>
<path class="j56" d="M2748 3964l9-24-28-35-9 19z"/>
<path class="j55" d="M2746 3970l2-6-28-40-2 4z"/>
<path class="j54" d="M2741 3987l5-17-28-42-5 13z"/>
<path class="j52" d="M2735 4010l6-23-28-46-6 18z"/>
<path class="j51" d="M2732 4022l3-12-28-51-3 9z"/>
<path class="j50" d="M2730 4032l2-10-28-54-2 8z"/>
<path class="j48" d="M2725 4054l5-22-28-56-5 17z"/>
<path class="j46" d="M2721 4076l4-22-28-61-4 16z"/>
<path class="j44" d="M2717 4098l4-22-28-67-4 17z"/>
<path class="j42" d="M2713 4120l4-22-28-72-4 16z"/>
<path class="j40" d="M2710 4142l3-22-28-78-3 16z"/>
<path class="j38" d="M2707 4163l3-21-28-84-3 17z"/>
<path class="j36" d="M2703 4189l4-26-28-88-4 18z"/>
<path class="j35" d="M2701 4206l2-17-28-96-2 14z"/>
<path class="j33" d="M2698 4228l3-22-28-99-3 16z"/>
<path class="j31" d="M2696 4249l2-21-28-105-2 16z"/>
<path class="j29" d="M2693 4271l3-22-28-110-3 16z"/>
<path class="j27" d="M2691 4292l2-21-28-116-2 16z"/>
<path class="j25" d="M2689 4313l2-21-28-121-2 16z"/>
<path class="j18" d="M3147 4240l3 25-28-138-3-18z"/>
<path class="j20" d="M3145 4216l2 24-28-131-2-19z"/>
<path class="j23" d="M3143 4192l2 24-28-126-2-18z"/>
<path class="j25" d="M3140 4167l3 25-28-120-3-18z"/>
<path class="j27" d="M3137 4143l3 24-28-113-3-19z"/>
<path class="j30" d="M3135 4119l2 24-28-108-2-18z"/>
<path class="j32" d="M3132 4095l3 24-28-102-3-18z"/>
<path class="j35" d="M3129 4071l3 24-28-96-3-18z"/>
<path class="j37" d="M3125 4047l4 24-28-90-4-18z"/>
<path class="j40" d="M3121 4018l4 29-28-84-4-22z"/>
<path class="j42" d="M3118 3999l3 19-28-77-3-14z"/>
<path class="j44" d="M3113 3976l5 23-28-72-5-18z"/>
<path class="j47" d="M3109 3952l4 24-28-67-4-17z"/>
<path class="j48" d="M3106 3942l3 10-28-60-3-8z"/>
<path class="j49" d="M3103 3929l3 13-28-58-3-10z"/>
<path class="j51" d="M3097 3906l6 23-28-55-6-17z"/>
<path class="j53" d="M3092 3888l5 18-28-49-5-13z"/>
<path class="j54" d="M3090 3883l2 5-28-44-2-4z"/>
<path class="j56" d="M3081 3861l9 22-28-43-9-16z"/>
<path class="j57" d="M3077 3853l4 8-28-37-4-5z"/>
<path class="j59" d="M3070 3840l7 13-28-34-7-10z"/>
<path class="j60" d="M3063 3831l7 9-28-31-7-6z"/>
<path class="j61" d="M3049 3819l3 2 11 10-28-28-11-6-3-2z"/>
<path class="j62" d="M3034 3814l15 5-28-24-15-2z"/>
<path class="j63" d="M2846 3880l15-9 14-7 15-6 14-6 15-5 14-6 14-5 15-6 14-5 15-5 14-4 15-3 14 1-28-21-14 0-15 4-14 4-15 5-14 6-14 5-15 6-14 5-15 6-14 5-15 6-14 7-14 8z"/>
<path class="j62" d="M2832 3892l14-12-27-20-15 10z"/>
<path class="j61" d="M2814 3913l4-5 14-16-28-22-14 14-4 5z"/>
<path class="j60" d="M2803 3932l11-19-28-24-11 15z"/>
<path class="j58" d="M2796 3947l7-15-28-28-6 12z"/>
<path class="j57" d="M2789 3966l7-19-27-31-8 15z"/>
<path class="j56" d="M2785 3977l4-11-28-35-4 9z"/>
<path class="j53" d="M2774 4014l2-7 9-30-28-37-9 24-2 6z"/>
<path class="j51" d="M2769 4037l5-23-28-44-5 17z"/>
<path class="j48" d="M2763 4066l6-29-28-50-6 23z"/>
<path class="j47" d="M2760 4081l3-15-28-56-3 12z"/>
<path class="j46" d="M2758 4094l2-13-28-59-2 10z"/>
<path class="j43" d="M2753 4123l5-29-28-62-5 22z"/>
<path class="j41" d="M2749 4151l4-28-28-69-4 22z"/>
<path class="j38" d="M2745 4179l4-28-28-75-4 22z"/>
<path class="j36" d="M2741 4207l4-28-28-81-4 22z"/>
<path class="j33" d="M2738 4235l3-28-28-87-3 22z"/>
<path class="j31" d="M2734 4263l4-28-28-93-3 21z"/>
<path class="j28" d="M2731 4295l3-32-27-100-4 26z"/>
<path class="j26" d="M2729 4319l2-24-28-106-2 17z"/>
<path class="j23" d="M2726 4346l3-27-28-113-3 22z"/>
<path class="j21" d="M2723 4374l3-28-28-118-2 21z"/>
<path class="j18" d="M2721 4402l2-28-27-125-3 22z"/>
<path class="j15" d="M2719 4429l2-27-28-131-2 21z"/>
<path class="j13" d="M2717 4457l2-28-28-137-2 21z"/>
<path class="j6" d="M3175 4387l2 31-27-153-3-25z"/>
<path class="j9" d="M3173 4356l2 31-28-147-2-24z"/>
<path class="j12" d="M3171 4325l2 31-28-140-2-24z"/>
<path class="j15" d="M3168 4294l3 31-28-133-3-25z"/>
<path class="j18" d="M3165 4263l3 31-28-127-3-24z"/>
<path class="j21" d="M3163 4232l2 31-28-120-2-24z"/>
<path class="j24" d="M3160 4201l3 31-28-113-3-24z"/>
<path class="j27" d="M3156 4170l4 31-28-106-3-24z"/>
<path class="j30" d="M3153 4140l3 30-27-99-4-24z"/>
<path class="j34" d="M3149 4102l4 38-28-93-4-29z"/>
<path class="j36" d="M3146 4079l3 23-28-84-3-19z"/>
<path class="j39" d="M3141 4048l5 31-28-80-5-23z"/>
<path class="j42" d="M3136 4018l5 30-28-72-4-24z"/>
<path class="j43" d="M3134 4005l2 13-27-66-3-10z"/>
<path class="j45" d="M3131 3988l3 17-28-63-3-13z"/>
<path class="j48" d="M3125 3958l6 30-28-59-6-23z"/>
<path class="j51" d="M3118 3929l2 7 5 22-28-52-5-18-2-5z"/>
<path class="j54" d="M3109 3900l9 29-28-46-9-22z"/>
<path class="j55" d="M3105 3890l4 10-28-39-4-8z"/>
<path class="j57" d="M3098 3872l7 18-28-37-7-13z"/>
<path class="j59" d="M3091 3860l7 12-28-32-7-9z"/>
<path class="j60" d="M3080 3847l11 13-28-29-11-10z"/>
<path class="j61" d="M3076 3844l4 3-28-26-3-2z"/>
<path class="j62" d="M3062 3836l14 8-27-25-15-5z"/>
<path class="j63" d="M2874 3900l15-10 14-7 15-6 14-6 15-5 14-6 14-6 15-5 14-5 15-5 14-4 15-2 14 3-28-22-14-1-15 3-14 4-15 5-14 5-15 6-14 5-14 6-15 5-14 6-15 6-14 7-15 9z"/>
<path class="j62" d="M2860 3914l14-14-28-20-14 12z"/>
<path class="j61" d="M2846 3933l14-19-28-22-14 16z"/>
<path class="j60" d="M2842 3939l4-6-28-25-4 5z"/>
<path class="j59" d="M2831 3962l11-23-28-26-11 19z"/>
<path class="j57" d="M2824 3979l7-17-28-30-7 15z"/>
<path class="j55" d="M2817 4003l7-24-28-32-7 19z"/>
<path class="j54" d="M2813 4017l4-14-28-37-4 11z"/>
<path class="j51" d="M2804 4054l9-37-28-40-9 30z"/>
<path class="j50" d="M2802 4063l2-9-28-47-2 7z"/>
<path class="j48" d="M2797 4090l5-27-28-49-5 23z"/>
<path class="j44" d="M2791 4126l6-36-28-53-6 29z"/>
<path class="j43" d="M2788 4146l3-20-28-60-3 15z"/>
<path class="j41" d="M2786 4162l2-16-28-65-2 13z"/>
<path class="j38" d="M2781 4198l5-36-28-68-5 29z"/>
<path class="j35" d="M2776 4233l5-35-28-75-4 28z"/>
<path class="j32" d="M2773 4268l3-35-27-82-4 28z"/>
<path class="j28" d="M2769 4303l4-35-28-89-4 28z"/>
<path class="j25" d="M2766 4338l3-35-28-96-3 28z"/>
<path class="j22" d="M2762 4373l4-35-28-103-4 28z"/>
<path class="j18" d="M2759 4414l3-41-28-110-3 32z"/>
<path class="j16" d="M2757 4443l2-29-28-119-2 24z"/>
<path class="j12" d="M2754 4478l3-35-28-124-3 27z"/>
<path class="j9" d="M2751 4513l3-35-28-132-3 28z"/>
<path class="j6" d="M2749 4548l2-35-28-139-2 28z"/>
<path class="j3" d="M2747 4582l2-34-28-146-2 27z"/>
<path class="j0" d="M2745 4617l2-35-28-153-2 28z"/>
</g>
<rect x="335.1" y="340" width="8.9" height="130.2" fill="url(#jet)"/>
<line x1="335.1" y1="340.2" x2="344" y2="340.2" stroke="#3a0000" stroke-width="0.5"/>
<line x1="335.1" y1="470" x2="344" y2="470" stroke="#00003a" stroke-width="0.5"/>
<line x1="342.7" y1="351.2" x2="344" y2="351.2" stroke="#222" stroke-width="0.45"/>
<line x1="335.1" y1="351.2" x2="336.4" y2="351.2" stroke="#222" stroke-width="0.45"/>
<line x1="342.7" y1="362.4" x2="344" y2="362.4" stroke="#222" stroke-width="0.45"/>
<line x1="335.1" y1="362.4" x2="336.4" y2="362.4" stroke="#222" stroke-width="0.45"/>
<line x1="342.7" y1="373.5" x2="344" y2="373.5" stroke="#222" stroke-width="0.45"/>
<line x1="335.1" y1="373.5" x2="336.4" y2="373.5" stroke="#222" stroke-width="0.45"/>
<line x1="342.7" y1="384.7" x2="344" y2="384.7" stroke="#222" stroke-width="0.45"/>
<line x1="335.1" y1="384.7" x2="336.4" y2="384.7" stroke="#222" stroke-width="0.45"/>
<line x1="342.7" y1="395.9" x2="344" y2="395.9" stroke="#222" stroke-width="0.45"/>
<line x1="335.1" y1="395.9" x2="336.4" y2="395.9" stroke="#222" stroke-width="0.45"/>
<line x1="342.7" y1="407.1" x2="344" y2="407.1" stroke="#222" stroke-width="0.45"/>
<line x1="335.1" y1="407.1" x2="336.4" y2="407.1" stroke="#222" stroke-width="0.45"/>
<line x1="342.7" y1="418.2" x2="344" y2="418.2" stroke="#222" stroke-width="0.45"/>
<line x1="335.1" y1="418.2" x2="336.4" y2="418.2" stroke="#222" stroke-width="0.45"/>
<line x1="342.7" y1="429.4" x2="344" y2="429.4" stroke="#222" stroke-width="0.45"/>
<line x1="335.1" y1="429.4" x2="336.4" y2="429.4" stroke="#222" stroke-width="0.45"/>
<line x1="342.7" y1="440.6" x2="344" y2="440.6" stroke="#222" stroke-width="0.45"/>
<line x1="335.1" y1="440.6" x2="336.4" y2="440.6" stroke="#222" stroke-width="0.45"/>
<line x1="342.7" y1="451.8" x2="344" y2="451.8" stroke="#222" stroke-width="0.45"/>
<line x1="335.1" y1="451.8" x2="336.4" y2="451.8" stroke="#222" stroke-width="0.45"/>
<line x1="342.7" y1="462.9" x2="344" y2="462.9" stroke="#222" stroke-width="0.45"/>
<line x1="335.1" y1="462.9" x2="336.4" y2="462.9" stroke="#222" stroke-width="0.45"/>
<line x1="468.5" y1="464.6" x2="418.2" y2="431" stroke="#b4b4b4" stroke-width="0.6"/>
<line x1="439.5" y1="462.5" x2="505.1" y2="437.3" stroke="#b4b4b4" stroke-width="0.6"/>
<line x1="484.9" y1="458.3" x2="434.6" y2="424.7" stroke="#b4b4b4" stroke-width="0.6"/>
<line x1="427" y1="454.1" x2="492.6" y2="428.9" stroke="#b4b4b4" stroke-width="0.6"/>
<line x1="501.3" y1="452" x2="451" y2="418.4" stroke="#b4b4b4" stroke-width="0.6"/>
<line x1="414.4" y1="445.7" x2="480" y2="420.5" stroke="#b4b4b4" stroke-width="0.6"/>
<line x1="418.2" y1="431" x2="418.2" y2="358.7" stroke="#b4b4b4" stroke-width="0.6"/>
<line x1="505.1" y1="437.3" x2="505.1" y2="365" stroke="#b4b4b4" stroke-width="0.6"/>
<line x1="434.6" y1="424.7" x2="434.6" y2="352.4" stroke="#b4b4b4" stroke-width="0.6"/>
<line x1="492.6" y1="428.9" x2="492.6" y2="356.6" stroke="#b4b4b4" stroke-width="0.6"/>
<line x1="451" y1="418.4" x2="451" y2="346.1" stroke="#b4b4b4" stroke-width="0.6"/>
<line x1="480" y1="420.5" x2="480" y2="348.2" stroke="#b4b4b4" stroke-width="0.6"/>
<line x1="401.8" y1="365" x2="467.4" y2="339.8" stroke="#b4b4b4" stroke-width="0.6"/>
<line x1="467.4" y1="339.8" x2="517.7" y2="373.4" stroke="#b4b4b4" stroke-width="0.6"/>
<line x1="401.8" y1="383.1" x2="467.4" y2="357.9" stroke="#b4b4b4" stroke-width="0.6"/>
<line x1="467.4" y1="357.9" x2="517.7" y2="391.5" stroke="#b4b4b4" stroke-width="0.6"/>
<line x1="401.8" y1="401.2" x2="467.4" y2="376" stroke="#b4b4b4" stroke-width="0.6"/>
<line x1="467.4" y1="376" x2="517.7" y2="409.6" stroke="#b4b4b4" stroke-width="0.6"/>
<line x1="401.8" y1="419.2" x2="467.4" y2="394" stroke="#b4b4b4" stroke-width="0.6"/>
<line x1="467.4" y1="394" x2="517.7" y2="427.6" stroke="#b4b4b4" stroke-width="0.6"/>
<line x1="401.8" y1="437.3" x2="467.4" y2="412.1" stroke="#b4b4b4" stroke-width="0.6"/>
<line x1="467.4" y1="412.1" x2="517.7" y2="445.7" stroke="#b4b4b4" stroke-width="0.6"/>
<line x1="401.8" y1="437.3" x2="467.4" y2="412.1" stroke="#b4b4b4" stroke-width="0.6"/>
<line x1="467.4" y1="412.1" x2="517.7" y2="445.7" stroke="#b4b4b4" stroke-width="0.6"/>
<line x1="467.4" y1="412.1" x2="467.4" y2="339.8" stroke="#b4b4b4" stroke-width="0.6"/>
<line x1="517.7" y1="445.7" x2="517.7" y2="373.4" stroke="#b4b4b4" stroke-width="0.6"/>
<line x1="401.8" y1="365" x2="467.4" y2="339.8" stroke="#b4b4b4" stroke-width="0.6"/>
<line x1="467.4" y1="339.8" x2="517.7" y2="373.4" stroke="#b4b4b4" stroke-width="0.6"/>
<line x1="401.8" y1="437.3" x2="452.1" y2="470.9" stroke="#8c8c8c" stroke-width="0.7"/>
<line x1="452.1" y1="470.9" x2="517.7" y2="445.7" stroke="#8c8c8c" stroke-width="0.7"/>
<line x1="401.8" y1="437.3" x2="401.8" y2="365" stroke="#cdcdcd" stroke-width="1"/>
<line x1="400.5" y1="365.5" x2="401.8" y2="365" stroke="#777" stroke-width="0.5"/>
<line x1="400.5" y1="383.6" x2="401.8" y2="383.1" stroke="#777" stroke-width="0.5"/>
<line x1="400.5" y1="401.7" x2="401.8" y2="401.2" stroke="#777" stroke-width="0.5"/>
<line x1="400.5" y1="419.7" x2="401.8" y2="419.2" stroke="#777" stroke-width="0.5"/>
<line x1="400.5" y1="437.8" x2="401.8" y2="437.3" stroke="#777" stroke-width="0.5"/>
<line x1="400.6" y1="438.2" x2="401.8" y2="437.3" stroke="#777" stroke-width="0.5"/>
<line x1="413.2" y1="446.6" x2="414.4" y2="445.7" stroke="#777" stroke-width="0.5"/>
<line x1="425.8" y1="455" x2="427" y2="454.1" stroke="#777" stroke-width="0.5"/>
<line x1="438.3" y1="463.4" x2="439.5" y2="462.5" stroke="#777" stroke-width="0.5"/>
<line x1="450.9" y1="471.8" x2="452.1" y2="470.9" stroke="#777" stroke-width="0.5"/>
<line x1="453.3" y1="471.8" x2="452.1" y2="470.9" stroke="#777" stroke-width="0.5"/>
<line x1="469.7" y1="465.5" x2="468.5" y2="464.6" stroke="#777" stroke-width="0.5"/>
<line x1="486.1" y1="459.2" x2="484.9" y2="458.3" stroke="#777" stroke-width="0.5"/>
<line x1="502.5" y1="452.9" x2="501.3" y2="452" stroke="#777" stroke-width="0.5"/>
<line x1="518.9" y1="446.6" x2="517.7" y2="445.7" stroke="#777" stroke-width="0.5"/>
<clipPath id="c4350"><rect x="0" y="0" width="523.8" height="509"/></clipPath>
<g transform="scale(.1)" stroke-width="7" stroke-linejoin="round">
<path class="j7" d="M4572 4037l2 21-12 34-1-23z"/>
<path class="j10" d="M4570 4017l2 20-11 32-2-22z"/>
<path class="j13" d="M4568 3996l2 21-11 30-2-23z"/>
<path class="j16" d="M4566 3976l2 20-11 28-2-23z"/>
<path class="j18" d="M4564 3955l2 21-11 25-3-22z"/>
<path class="j21" d="M4561 3935l3 20-12 24-2-23z"/>
<path class="j24" d="M4559 3914l2 21-11 21-3-22z"/>
<path class="j27" d="M4556 3894l3 20-12 20-2-23z"/>
<path class="j30" d="M4553 3874l3 20-11 17-3-22z"/>
<path class="j33" d="M4550 3853l3 21-11 15-3-22z"/>
<path class="j36" d="M4547 3833l3 20-11 14-3-22z"/>
<path class="j38" d="M4545 3823l2 10-11 12-2-12z"/>
<path class="j39" d="M4543 3813l2 10-11 10-2-11z"/>
<path class="j42" d="M4539 3793l4 20-11 9-4-22z"/>
<path class="j45" d="M4535 3774l4 19-11 7-5-21z"/>
<path class="j48" d="M4529 3754l2 5 4 15-12 5-4-17-1-5z"/>
<path class="j51" d="M4523 3735l6 19-11 3-6-21z"/>
<path class="j54" d="M4515 3717l8 18-11 1-8-21z"/>
<path class="j57" d="M4505 3699l10 18-11-2-11-19z"/>
<path class="j58" d="M4502 3695l3 4-12-3-3-5z"/>
<path class="j60" d="M4489 3684l13 11-12-4-13-13z"/>
<path class="j61" d="M4487 3683l2 1-12-6-1-1z"/>
<path class="j62" d="M4473 3678l14 5-11-6-15-6z"/>
<path class="j63" d="M4256 3756l15-9 14-6 15-6 14-6 15-6 14-5 14-6 15-5 14-6 15-5 14-6 15-5 14-4 14-3 15 0-12-7-14 0-14 2-15 5-14 5-15 5-14 6-15 5-14 6-14 5-15 6-14 5-15 6-14 6-15 7-14 9z"/>
<path class="j62" d="M4242 3767l14-11-11-7-14 11z"/>
<path class="j61" d="M4228 3783l14-16-11-7-15 18z"/>
<path class="j60" d="M4226 3785l2-2-12-5-1 2z"/>
<path class="j58" d="M4213 3808l13-23-11-5-13 24z"/>
<path class="j57" d="M4210 3814l3-6-11-4-3 7z"/>
<path class="j54" d="M4199 3844l11-30-11-3-12 32z"/>
<path class="j51" d="M4192 3867l7-23-12-1-7 25z"/>
<path class="j48" d="M4186 3892l6-25-12 1-6 28z"/>
<path class="j47" d="M4184 3898l2-6-12 4-1 6z"/>
<path class="j44" d="M4180 3917l4-19-11 4-4 21z"/>
<path class="j41" d="M4176 3942l4-25-11 6-5 27z"/>
<path class="j38" d="M4172 3966l4-24-12 8-4 26z"/>
<path class="j36" d="M4170 3978l2-12-12 10-2 13z"/>
<path class="j35" d="M4168 3990l2-12-12 11-2 14z"/>
<path class="j32" d="M4165 4015l3-25-12 13-3 26z"/>
<path class="j28" d="M4161 4039l4-24-12 14-3 27z"/>
<path class="j25" d="M4159 4063l2-24-11 17-3 26z"/>
<path class="j21" d="M4155 4092l4-29-12 19-3 32z"/>
<path class="j19" d="M4153 4111l2-19-11 22-2 20z"/>
<path class="j16" d="M4151 4135l2-24-11 23-2 26z"/>
<path class="j12" d="M4149 4158l2-23-11 25-3 26z"/>
<path class="j9" d="M4147 4182l2-24-12 28-2 26z"/>
<path class="j6" d="M4145 4206l2-24-12 30-2 26z"/>
<path class="j3" d="M4143 4230l2-24-12 32-2 26z"/>
<path class="j0" d="M4141 4253l2-23-12 34-1 26z"/>
<path class="j12" d="M4584 4007l1 19-11 32-2-21z"/>
<path class="j14" d="M4582 3988l2 19-12 30-2-20z"/>
<path class="j17" d="M4580 3970l2 18-12 29-2-21z"/>
<path class="j20" d="M4577 3951l3 19-12 26-2-20z"/>
<path class="j22" d="M4575 3933l2 18-11 25-2-21z"/>
<path class="j25" d="M4573 3914l2 19-11 22-3-20z"/>
<path class="j28" d="M4570 3896l3 18-12 21-2-21z"/>
<path class="j31" d="M4568 3878l2 18-11 18-3-20z"/>
<path class="j33" d="M4565 3859l3 19-12 16-3-20z"/>
<path class="j36" d="M4562 3841l3 18-12 15-3-21z"/>
<path class="j39" d="M4558 3823l4 18-12 12-3-20z"/>
<path class="j40" d="M4556 3813l2 10-11 10-2-10z"/>
<path class="j42" d="M4555 3805l1 8-11 10-2-10z"/>
<path class="j44" d="M4551 3787l4 18-12 8-4-20z"/>
<path class="j47" d="M4546 3769l5 18-12 6-4-19z"/>
<path class="j49" d="M4542 3756l4 13-11 5-4-15z"/>
<path class="j50" d="M4541 3752l1 4-11 3-2-5z"/>
<path class="j52" d="M4534 3735l7 17-12 2-6-19z"/>
<path class="j55" d="M4527 3718l7 17-11 0-8-18z"/>
<path class="j58" d="M4516 3703l11 15-12-1-10-18z"/>
<path class="j59" d="M4513 3699l3 4-11-4-3-4z"/>
<path class="j61" d="M4499 3689l1 0 13 10-11-4-13-11-2-1z"/>
<path class="j62" d="M4484 3685l15 4-12-6-14-5z"/>
<path class="j63" d="M4268 3763l14-8 15-7 14-6 15-5 14-6 14-5 15-6 14-6 15-5 14-6 15-5 14-5 14-5 15-3 14 0-11-7-15 0-14 3-14 4-15 5-14 6-15 5-14 6-15 5-14 6-14 5-15 6-14 6-15 6-14 6-15 9z"/>
<path class="j62" d="M4253 3774l15-11-12-7-14 11z"/>
<path class="j61" d="M4237 3791l2-2 14-15-11-7-14 16-2 2z"/>
<path class="j58" d="M4221 3818l4-6 12-21-11-6-13 23-3 6z"/>
<path class="j55" d="M4210 3845l11-27-11-4-11 30z"/>
<path class="j52" d="M4203 3866l7-21-11-1-7 23z"/>
<path class="j49" d="M4197 3889l6-23-11 1-6 25z"/>
<path class="j48" d="M4196 3895l1-6-11 3-2 6z"/>
<path class="j46" d="M4192 3912l4-17-12 3-4 19z"/>
<path class="j43" d="M4187 3934l5-22-12 5-4 25z"/>
<path class="j40" d="M4183 3957l4-23-11 8-4 24z"/>
<path class="j39" d="M4181 3967l2-10-11 9-2 12z"/>
<path class="j37" d="M4179 3979l2-12-11 11-2 12z"/>
<path class="j34" d="M4176 4001l3-22-11 11-3 25z"/>
<path class="j32" d="M4173 4023l3-22-11 14-4 24z"/>
<path class="j29" d="M4170 4045l3-22-12 16-2 24z"/>
<path class="j25" d="M4167 4072l3-27-11 18-4 29z"/>
<path class="j23" d="M4165 4089l2-17-12 20-2 19z"/>
<path class="j20" d="M4163 4110l2-21-12 22-2 24z"/>
<path class="j17" d="M4160 4132l3-22-12 25-2 23z"/>
<path class="j14" d="M4158 4154l2-22-11 26-2 24z"/>
<path class="j11" d="M4156 4175l2-21-11 28-2 24z"/>
<path class="j8" d="M4154 4197l2-22-11 31-2 24z"/>
<path class="j5" d="M4152 4218l2-21-11 33-2 23z"/>
<path class="j16" d="M4595 3979l2 16-12 31-1-19z"/>
<path class="j19" d="M4593 3962l2 17-11 28-2-19z"/>
<path class="j21" d="M4591 3945l2 17-11 26-2-18z"/>
<path class="j24" d="M4589 3929l2 16-11 25-3-19z"/>
<path class="j26" d="M4587 3912l2 17-12 22-2-18z"/>
<path class="j29" d="M4584 3895l3 17-12 21-2-19z"/>
<path class="j31" d="M4582 3879l2 16-11 19-3-18z"/>
<path class="j34" d="M4579 3862l3 17-12 17-2-18z"/>
<path class="j36" d="M4576 3846l3 16-11 16-3-19z"/>
<path class="j39" d="M4573 3830l3 16-11 13-3-18z"/>
<path class="j41" d="M4570 3813l3 17-11 11-4-18z"/>
<path class="j42" d="M4568 3805l2 8-12 10-2-10z"/>
<path class="j44" d="M4566 3797l2 8-12 8-1-8z"/>
<path class="j46" d="M4562 3781l4 16-11 8-4-18z"/>
<path class="j49" d="M4557 3766l5 15-11 6-5-18z"/>
<path class="j50" d="M4553 3754l4 12-11 3-4-13z"/>
<path class="j51" d="M4552 3750l1 4-11 2-1-4z"/>
<path class="j54" d="M4546 3735l6 15-11 2-7-17z"/>
<path class="j56" d="M4538 3720l8 15-12 0-7-17z"/>
<path class="j58" d="M4528 3706l10 14-11-2-11-15z"/>
<path class="j59" d="M4525 3703l3 3-12-3-3-4z"/>
<path class="j61" d="M4510 3694l2 1 13 8-12-4-13-10-1 0z"/>
<path class="j62" d="M4496 3692l14 2-11-5-15-4z"/>
<path class="j63" d="M4279 3770l15-8 14-6 15-6 14-6 14-5 15-6 14-5 15-6 14-5 15-6 14-5 14-6 15-4 14-3 15-1-12-7-14 0-15 3-14 5-14 5-15 5-14 6-15 5-14 6-15 6-14 5-14 6-15 5-14 6-15 7-14 8z"/>
<path class="j62" d="M4265 3781l14-11-11-7-15 11z"/>
<path class="j61" d="M4249 3797l1-2 15-14-12-7-14 15-2 2z"/>
<path class="j59" d="M4236 3816l13-19-12-6-12 21z"/>
<path class="j58" d="M4233 3821l3-5-11-4-4 6z"/>
<path class="j55" d="M4222 3846l11-25-12-3-11 27z"/>
<path class="j53" d="M4215 3866l7-20-12-1-7 21z"/>
<path class="j50" d="M4207 3892l1-5 7-21-12 0-6 23-1 6z"/>
<path class="j48" d="M4203 3907l4-15-11 3-4 17z"/>
<path class="j45" d="M4199 3928l4-21-11 5-5 22z"/>
<path class="j42" d="M4194 3948l5-20-12 6-4 23z"/>
<path class="j41" d="M4193 3958l1-10-11 9-2 10z"/>
<path class="j40" d="M4191 3968l2-10-12 9-2 12z"/>
<path class="j37" d="M4187 3988l4-20-12 11-3 22z"/>
<path class="j34" d="M4184 4008l3-20-11 13-3 22z"/>
<path class="j32" d="M4181 4028l3-20-11 15-3 22z"/>
<path class="j29" d="M4178 4052l3-24-11 17-3 27z"/>
<path class="j27" d="M4176 4068l2-16-11 20-2 17z"/>
<path class="j24" d="M4174 4088l2-20-11 21-2 21z"/>
<path class="j21" d="M4172 4107l2-19-11 22-3 22z"/>
<path class="j19" d="M4170 4127l2-20-12 25-2 22z"/>
<path class="j16" d="M4168 4146l2-19-12 27-2 21z"/>
<path class="j13" d="M4166 4166l2-20-12 29-2 22z"/>
<path class="j11" d="M4164 4186l2-20-12 31-2 21z"/>
<path class="j21" d="M4606 3952l2 15-11 28-2-16z"/>
<path class="j23" d="M4604 3937l2 15-11 27-2-17z"/>
<path class="j25" d="M4602 3922l2 15-11 25-2-17z"/>
<path class="j28" d="M4600 3907l2 15-11 23-2-16z"/>
<path class="j30" d="M4598 3893l2 14-11 22-2-17z"/>
<path class="j32" d="M4596 3878l2 15-11 19-3-17z"/>
<path class="j34" d="M4593 3863l3 15-12 17-2-16z"/>
<path class="j37" d="M4591 3848l2 15-11 16-3-17z"/>
<path class="j39" d="M4588 3834l3 14-12 14-3-16z"/>
<path class="j41" d="M4585 3819l3 15-12 12-3-16z"/>
<path class="j43" d="M4581 3805l4 14-12 11-3-17z"/>
<path class="j44" d="M4579 3797l2 8-11 8-2-8z"/>
<path class="j46" d="M4578 3790l1 7-11 8-2-8z"/>
<path class="j48" d="M4573 3776l5 14-12 7-4-16z"/>
<path class="j50" d="M4569 3762l4 14-11 5-5-15z"/>
<path class="j52" d="M4564 3749l1 3 4 10-12 4-4-12-1-4z"/>
<path class="j54" d="M4557 3735l7 14-12 1-6-15z"/>
<path class="j57" d="M4550 3722l7 13-11 0-8-15z"/>
<path class="j59" d="M4539 3710l11 12-12-2-10-14z"/>
<path class="j60" d="M4536 3708l3 2-11-4-3-3z"/>
<path class="j61" d="M4522 3700l1 1 13 7-11-5-13-8-2-1z"/>
<path class="j62" d="M4507 3698l15 2-12-6-14-2z"/>
<path class="j63" d="M4291 3778l14-8 15-7 14-5 14-6 15-6 14-5 15-6 14-5 15-6 14-5 14-6 15-5 14-5 15-3 14-2-11-6-15 1-14 3-15 4-14 6-14 5-15 6-14 5-15 6-14 5-15 6-14 5-14 6-15 6-14 6-15 8z"/>
<path class="j62" d="M4276 3787l15-9-12-8-14 11z"/>
<path class="j61" d="M4260 3802l2-1 14-14-11-6-15 14-1 2z"/>
<path class="j59" d="M4244 3825l3-5 13-18-11-5-13 19-3 5z"/>
<path class="j56" d="M4233 3848l11-23-11-4-11 25z"/>
<path class="j54" d="M4226 3866l7-18-11-2-7 20z"/>
<path class="j52" d="M4220 3885l6-19-11 0-7 21z"/>
<path class="j51" d="M4219 3889l1-4-12 2-1 5z"/>
<path class="j49" d="M4215 3904l4-15-12 3-4 15z"/>
<path class="j47" d="M4210 3922l5-18-12 3-4 21z"/>
<path class="j44" d="M4206 3941l4-19-11 6-5 20z"/>
<path class="j43" d="M4204 3949l2-8-12 7-1 10z"/>
<path class="j42" d="M4202 3959l2-10-11 9-2 10z"/>
<path class="j40" d="M4199 3977l3-18-11 9-4 20z"/>
<path class="j37" d="M4196 3995l3-18-12 11-3 20z"/>
<path class="j35" d="M4193 4013l3-18-12 13-3 20z"/>
<path class="j32" d="M4190 4035l3-22-12 15-3 24z"/>
<path class="j30" d="M4188 4049l2-14-12 17-2 16z"/>
<path class="j28" d="M4185 4066l3-17-12 19-2 20z"/>
<path class="j25" d="M4183 4084l2-18-11 22-2 19z"/>
<path class="j23" d="M4181 4102l2-18-11 23-2 20z"/>
<path class="j21" d="M4179 4120l2-18-11 25-2 19z"/>
<path class="j18" d="M4177 4137l2-17-11 26-2 20z"/>
<path class="j16" d="M4175 4155l2-18-11 29-2 20z"/>
<path class="j25" d="M4618 3927l2 14-12 26-2-15z"/>
<path class="j27" d="M4616 3914l2 13-12 25-2-15z"/>
<path class="j29" d="M4614 3901l2 13-12 23-2-15z"/>
<path class="j31" d="M4612 3888l2 13-12 21-2-15z"/>
<path class="j33" d="M4610 3875l2 13-12 19-2-14z"/>
<path class="j35" d="M4607 3862l3 13-12 18-2-15z"/>
<path class="j37" d="M4605 3849l2 13-11 16-3-15z"/>
<path class="j39" d="M4602 3836l3 13-12 14-2-15z"/>
<path class="j41" d="M4599 3823l3 13-11 12-3-14z"/>
<path class="j43" d="M4596 3810l3 13-11 11-3-15z"/>
<path class="j45" d="M4593 3797l3 13-11 9-4-14z"/>
<path class="j46" d="M4591 3790l2 7-12 8-2-8z"/>
<path class="j47" d="M4589 3784l2 6-12 7-1-7z"/>
<path class="j49" d="M4585 3772l4 12-11 6-5-14z"/>
<path class="j51" d="M4580 3760l5 12-12 4-4-14z"/>
<path class="j53" d="M4575 3748l1 3 4 9-11 2-4-10-1-3z"/>
<path class="j55" d="M4569 3736l6 12-11 1-7-14z"/>
<path class="j57" d="M4561 3725l8 11-12-1-7-13z"/>
<path class="j59" d="M4551 3715l10 10-11-3-11-12z"/>
<path class="j60" d="M4547 3712l4 3-12-5-3-2z"/>
<path class="j61" d="M4535 3707l12 5-11-4-13-7z"/>
<path class="j62" d="M4533 3706l2 1-12-6-1-1z"/>
<path class="j63" d="M4288 3794l14-9 15-8 14-6 14-6 15-5 14-6 15-6 14-5 15-6 14-5 14-6 15-5 14-5 15-5 14-4 15-2 14 1-11-6-15-2-14 2-15 3-14 5-15 5-14 6-14 5-15 6-14 5-15 6-14 5-15 6-14 6-14 5-15 7-14 8-15 9z"/>
<path class="j62" d="M4273 3807l15-13-12-7-14 14z"/>
<path class="j61" d="M4272 3808l1-1-11-6-2 1z"/>
<path class="j60" d="M4259 3824l13-16-12-6-13 18z"/>
<path class="j59" d="M4256 3829l3-5-12-4-3 5z"/>
<path class="j57" d="M4244 3850l12-21-12-4-11 23z"/>
<path class="j55" d="M4238 3866l6-16-11-2-7 18z"/>
<path class="j53" d="M4231 3883l7-17-12 0-6 19z"/>
<path class="j52" d="M4230 3888l1-5-11 2-1 4z"/>
<path class="j51" d="M4226 3900l4-12-11 1-4 15z"/>
<path class="j49" d="M4221 3917l5-17-11 4-5 18z"/>
<path class="j46" d="M4217 3934l4-17-11 5-4 19z"/>
<path class="j45" d="M4216 3942l1-8-11 7-2 8z"/>
<path class="j44" d="M4214 3950l2-8-12 7-2 10z"/>
<path class="j42" d="M4210 3967l4-17-12 9-3 18z"/>
<path class="j40" d="M4207 3983l3-16-11 10-3 18z"/>
<path class="j38" d="M4204 3999l3-16-11 12-3 18z"/>
<path class="j35" d="M4201 4018l3-19-11 14-3 22z"/>
<path class="j34" d="M4199 4031l2-13-11 17-2 14z"/>
<path class="j31" d="M4197 4047l2-16-11 18-3 17z"/>
<path class="j29" d="M4195 4063l2-16-12 19-2 18z"/>
<path class="j27" d="M4192 4079l3-16-12 21-2 18z"/>
<path class="j25" d="M4190 4095l2-16-11 23-2 18z"/>
<path class="j23" d="M4189 4110l1-15-11 25-2 17z"/>
<path class="j21" d="M4187 4126l2-16-12 27-2 18z"/>
<path class="j30" d="M4629 3905l2 11-11 25-2-14z"/>
<path class="j31" d="M4627 3893l2 12-11 22-2-13z"/>
<path class="j33" d="M4625 3881l2 12-11 21-2-13z"/>
<path class="j35" d="M4623 3870l2 11-11 20-2-13z"/>
<path class="j37" d="M4621 3858l2 12-11 18-2-13z"/>
<path class="j38" d="M4619 3847l2 11-11 17-3-13z"/>
<path class="j40" d="M4616 3835l3 12-12 15-2-13z"/>
<path class="j42" d="M4613 3824l3 11-11 14-3-13z"/>
<path class="j44" d="M4611 3813l2 11-11 12-3-13z"/>
<path class="j46" d="M4607 3801l4 12-12 10-3-13z"/>
<path class="j47" d="M4604 3790l3 11-11 9-3-13z"/>
<path class="j48" d="M4602 3784l2 6-11 7-2-7z"/>
<path class="j49" d="M4600 3779l2 5-11 6-2-6z"/>
<path class="j51" d="M4596 3768l4 11-11 5-4-12z"/>
<path class="j53" d="M4592 3758l4 10-11 4-5-12z"/>
<path class="j54" d="M4586 3747l2 3 4 8-12 2-4-9-1-3z"/>
<path class="j56" d="M4580 3737l6 10-11 1-6-12z"/>
<path class="j58" d="M4572 3728l8 9-11-1-8-11z"/>
<path class="j60" d="M4559 3717l3 2 10 9-11-3-10-10-4-3z"/>
<path class="j62" d="M4544 3712l2 1 13 4-12-5-12-5-2-1z"/>
<path class="j63" d="M4299 3801l15-9 14-7 14-6 15-6 14-6 15-5 14-6 15-5 14-6 14-6 15-5 14-6 15-5 14-5 15-4 14-2 14 0-11-6-14-1-15 2-14 4-15 5-14 5-15 5-14 6-14 5-15 6-14 5-15 6-14 6-15 5-14 6-14 6-15 8-14 9z"/>
<path class="j62" d="M4283 3814l2-1 14-12-11-7-15 13-1 1z"/>
<path class="j60" d="M4267 3834l3-5 13-15-11-6-13 16-3 5z"/>
<path class="j58" d="M4256 3853l11-19-11-5-12 21z"/>
<path class="j56" d="M4249 3867l7-14-12-3-6 16z"/>
<path class="j54" d="M4241 3886l2-3 6-16-11-1-7 17-1 5z"/>
<path class="j52" d="M4237 3898l4-12-11 2-4 12z"/>
<path class="j50" d="M4233 3913l4-15-11 2-5 17z"/>
<path class="j48" d="M4229 3928l4-15-12 4-4 17z"/>
<path class="j47" d="M4227 3935l2-7-12 6-1 8z"/>
<path class="j46" d="M4225 3942l2-7-11 7-2 8z"/>
<path class="j44" d="M4222 3957l3-15-11 8-4 17z"/>
<path class="j43" d="M4219 3972l3-15-12 10-3 16z"/>
<path class="j41" d="M4216 3986l3-14-12 11-3 16z"/>
<path class="j38" d="M4213 4003l3-17-12 13-3 19z"/>
<path class="j37" d="M4211 4015l2-12-12 15-2 13z"/>
<path class="j35" d="M4208 4029l3-14-12 16-2 16z"/>
<path class="j33" d="M4206 4043l2-14-11 18-2 16z"/>
<path class="j31" d="M4204 4057l2-14-11 20-3 16z"/>
<path class="j29" d="M4202 4071l2-14-12 22-2 16z"/>
<path class="j27" d="M4200 4085l2-14-12 24-1 15z"/>
<path class="j25" d="M4198 4100l2-15-11 25-2 16z"/>
<path class="j33" d="M4641 3884l2 10-12 22-2-11z"/>
<path class="j35" d="M4639 3873l2 11-12 21-2-12z"/>
<path class="j37" d="M4637 3863l2 10-12 20-2-12z"/>
<path class="j38" d="M4635 3853l2 10-12 18-2-11z"/>
<path class="j40" d="M4632 3843l3 10-12 17-2-12z"/>
<path class="j41" d="M4630 3833l2 10-11 15-2-11z"/>
<path class="j43" d="M4628 3823l2 10-11 14-3-12z"/>
<path class="j44" d="M4625 3813l3 10-12 12-3-11z"/>
<path class="j46" d="M4622 3804l3 9-12 11-2-11z"/>
<path class="j48" d="M4619 3794l3 10-11 9-4-12z"/>
<path class="j49" d="M4616 3784l3 10-12 7-3-11z"/>
<path class="j50" d="M4614 3779l2 5-12 6-2-6z"/>
<path class="j51" d="M4612 3775l2 4-12 5-2-5z"/>
<path class="j52" d="M4608 3765l4 10-12 4-4-11z"/>
<path class="j54" d="M4603 3756l5 9-12 3-4-10z"/>
<path class="j55" d="M4599 3749l4 7-11 2-4-8z"/>
<path class="j56" d="M4598 3747l1 2-11 1-2-3z"/>
<path class="j57" d="M4592 3739l6 8-12 0-6-10z"/>
<path class="j59" d="M4584 3731l8 8-12-2-8-9z"/>
<path class="j60" d="M4574 3724l10 7-12-3-10-9z"/>
<path class="j61" d="M4570 3722l4 2-12-5-3-2z"/>
<path class="j62" d="M4556 3719l1 0 13 3-11-5-13-4-2-1z"/>
<path class="j63" d="M4311 3808l14-9 14-7 15-6 14-6 15-5 14-6 15-5 14-6 14-5 15-6 14-5 15-6 14-5 15-5 14-4 14-3 15 0-12-7-14 0-14 2-15 4-14 5-15 5-14 6-15 5-14 6-14 6-15 5-14 6-15 5-14 6-15 6-14 6-14 7-15 9z"/>
<path class="j62" d="M4295 3820l1-1 15-11-12-7-14 12-2 1z"/>
<path class="j61" d="M4282 3834l13-14-12-6-13 15z"/>
<path class="j60" d="M4279 3838l3-4-12-5-3 5z"/>
<path class="j58" d="M4267 3855l12-17-12-4-11 19z"/>
<path class="j57" d="M4260 3868l7-13-11-2-7 14z"/>
<path class="j55" d="M4253 3886l1-4 6-14-11-1-6 16-2 3z"/>
<path class="j53" d="M4249 3896l4-10-12 0-4 12z"/>
<path class="j52" d="M4244 3909l5-13-12 2-4 15z"/>
<path class="j50" d="M4240 3923l4-14-11 4-4 15z"/>
<path class="j49" d="M4238 3929l2-6-11 5-2 7z"/>
<path class="j48" d="M4237 3936l1-7-11 6-2 7z"/>
<path class="j47" d="M4233 3949l4-13-12 6-3 15z"/>
<path class="j45" d="M4230 3962l3-13-11 8-3 15z"/>
<path class="j43" d="M4227 3974l3-12-11 10-3 14z"/>
<path class="j41" d="M4224 3990l3-16-11 12-3 17z"/>
<path class="j40" d="M4222 4000l2-10-11 13-2 12z"/>
<path class="j38" d="M4220 4012l2-12-11 15-3 14z"/>
<path class="j36" d="M4217 4025l3-13-12 17-2 14z"/>
<path class="j35" d="M4215 4038l2-13-11 18-2 14z"/>
<path class="j33" d="M4213 4050l2-12-11 19-2 14z"/>
<path class="j31" d="M4211 4063l2-13-11 21-2 14z"/>
<path class="j30" d="M4210 4075l1-12-11 22-2 15z"/>
<path class="j37" d="M4652 3864l2 9-11 21-2-10z"/>
<path class="j38" d="M4650 3856l2 8-11 20-2-11z"/>
<path class="j40" d="M4648 3847l2 9-11 17-2-10z"/>
<path class="j41" d="M4646 3838l2 9-11 16-2-10z"/>
<path class="j43" d="M4644 3830l2 8-11 15-3-10z"/>
<path class="j44" d="M4641 3821l3 9-12 13-2-10z"/>
<path class="j45" d="M4639 3813l2 8-11 12-2-10z"/>
<path class="j47" d="M4636 3804l3 9-11 10-3-10z"/>
<path class="j48" d="M4633 3796l3 8-11 9-3-9z"/>
<path class="j50" d="M4630 3787l3 9-11 8-3-10z"/>
<path class="j51" d="M4627 3779l3 8-11 7-3-10z"/>
<path class="j52" d="M4623 3771l2 4 2 4-11 5-2-5-2-4z"/>
<path class="j54" d="M4619 3763l4 8-11 4-4-10z"/>
<path class="j55" d="M4615 3755l4 8-11 2-5-9z"/>
<path class="j56" d="M4609 3748l2 2 4 5-12 1-4-7-1-2z"/>
<path class="j58" d="M4603 3741l6 7-11-1-6-8z"/>
<path class="j59" d="M4595 3734l8 7-11-2-8-8z"/>
<path class="j61" d="M4582 3727l3 1 10 6-11-3-10-7-4-2z"/>
<path class="j62" d="M4567 3725l2 0 13 2-12-5-13-3-1 0z"/>
<path class="j63" d="M4322 3815l14-8 15-7 14-6 15-6 14-6 15-5 14-6 14-5 15-6 14-5 15-6 14-5 15-6 14-5 14-4 15-3 14-1-11-6-15 0-14 3-14 4-15 5-14 5-15 6-14 5-15 6-14 5-14 6-15 5-14 6-15 5-14 6-15 6-14 7-14 9z"/>
<path class="j62" d="M4306 3826l2-1 14-10-11-7-15 11-1 1z"/>
<path class="j61" d="M4290 3843l3-4 13-13-11-6-13 14-3 4z"/>
<path class="j59" d="M4279 3858l11-15-11-5-12 17z"/>
<path class="j58" d="M4272 3870l7-12-12-3-7 13z"/>
<path class="j56" d="M4264 3885l2-3 6-12-12-2-6 14-1 4z"/>
<path class="j55" d="M4260 3895l4-10-11 1-4 10z"/>
<path class="j53" d="M4256 3907l4-12-11 1-5 13z"/>
<path class="j52" d="M4252 3918l4-11-12 2-4 14z"/>
<path class="j51" d="M4250 3924l2-6-12 5-2 6z"/>
<path class="j50" d="M4248 3930l2-6-12 5-1 7z"/>
<path class="j49" d="M4245 3941l3-11-11 6-4 13z"/>
<path class="j47" d="M4242 3953l3-12-12 8-3 13z"/>
<path class="j46" d="M4239 3964l3-11-12 9-3 12z"/>
<path class="j44" d="M4235 3978l4-14-12 10-3 16z"/>
<path class="j43" d="M4233 3986l2-8-11 12-2 10z"/>
<path class="j41" d="M4231 3997l2-11-11 14-2 12z"/>
<path class="j40" d="M4229 4009l2-12-11 15-3 13z"/>
<path class="j38" d="M4227 4020l2-11-12 16-2 13z"/>
<path class="j37" d="M4225 4031l2-11-12 18-2 12z"/>
<path class="j35" d="M4223 4042l2-11-12 19-2 13z"/>
<path class="j34" d="M4221 4052l2-10-12 21-1 12z"/>
<path class="j40" d="M4664 3847l1 8-11 18-2-9z"/>
<path class="j42" d="M4662 3840l2 7-12 17-2-8z"/>
<path class="j43" d="M4660 3832l2 8-12 16-2-9z"/>
<path class="j44" d="M4657 3825l3 7-12 15-2-9z"/>
<path class="j45" d="M4655 3818l2 7-11 13-2-8z"/>
<path class="j46" d="M4653 3810l2 8-11 12-3-9z"/>
<path class="j48" d="M4650 3803l3 7-12 11-2-8z"/>
<path class="j49" d="M4648 3796l2 7-11 10-3-9z"/>
<path class="j50" d="M4645 3789l3 7-12 8-3-8z"/>
<path class="j51" d="M4642 3782l3 7-12 7-3-9z"/>
<path class="j53" d="M4637 3771l1 4 4 7-12 5-3-8-2-4z"/>
<path class="j54" d="M4635 3768l2 3-12 4-2-4z"/>
<path class="j55" d="M4631 3761l4 7-12 3-4-8z"/>
<path class="j56" d="M4626 3755l5 6-12 2-4-8z"/>
<path class="j57" d="M4621 3749l1 1 4 5-11 0-4-5-2-2z"/>
<path class="j59" d="M4614 3743l7 6-12-1-6-7z"/>
<path class="j60" d="M4607 3738l7 5-11-2-8-7z"/>
<path class="j61" d="M4593 3733l3 0 11 5-12-4-10-6-3-1z"/>
<path class="j62" d="M4579 3731l1 0 13 2-11-6-13-2-2 0z"/>
<path class="j63" d="M4333 3822l15-8 14-7 15-6 14-5 15-6 14-5 14-6 15-6 14-5 15-6 14-5 15-6 14-5 14-5 15-5 14-3 15-2-12-6-14 1-15 3-14 4-14 5-15 6-14 5-15 6-14 5-15 6-14 5-14 6-15 5-14 6-15 6-14 6-15 7-14 8z"/>
<path class="j62" d="M4317 3833l2-2 14-9-11-7-14 10-2 1z"/>
<path class="j61" d="M4301 3847l4-3 12-11-11-7-13 13-3 4z"/>
<path class="j60" d="M4290 3862l11-15-11-4-11 15z"/>
<path class="j58" d="M4283 3872l7-10-11-4-7 12z"/>
<path class="j57" d="M4276 3886l1-3 6-11-11-2-6 12-2 3z"/>
<path class="j56" d="M4272 3894l4-8-12-1-4 10z"/>
<path class="j54" d="M4267 3904l5-10-12 1-4 12z"/>
<path class="j53" d="M4261 3920l2-5 4-11-11 3-4 11-2 6z"/>
<path class="j52" d="M4259 3925l2-5-11 4-2 6z"/>
<path class="j51" d="M4256 3935l3-10-11 5-3 11z"/>
<path class="j49" d="M4253 3945l3-10-11 6-3 12z"/>
<path class="j48" d="M4250 3955l3-10-11 8-3 11z"/>
<path class="j46" d="M4247 3967l3-12-11 9-4 14z"/>
<path class="j45" d="M4245 3974l2-7-12 11-2 8z"/>
<path class="j44" d="M4243 3984l2-10-12 12-2 11z"/>
<path class="j43" d="M4240 3994l3-10-12 13-2 12z"/>
<path class="j41" d="M4238 4003l2-9-11 15-2 11z"/>
<path class="j40" d="M4236 4013l2-10-11 17-2 11z"/>
<path class="j39" d="M4234 4023l2-10-11 18-2 11z"/>
<path class="j38" d="M4232 4032l2-9-11 19-2 10z"/>
<path class="j44" d="M4675 3832l2 6-12 17-1-8z"/>
<path class="j45" d="M4673 3825l2 7-11 15-2-7z"/>
<path class="j46" d="M4671 3819l2 6-11 15-2-8z"/>
<path class="j47" d="M4669 3813l2 6-11 13-3-7z"/>
<path class="j48" d="M4667 3807l2 6-12 12-2-7z"/>
<path class="j49" d="M4664 3801l3 6-12 11-2-8z"/>
<path class="j50" d="M4662 3795l2 6-11 9-3-7z"/>
<path class="j51" d="M4659 3789l3 6-12 8-2-7z"/>
<path class="j52" d="M4656 3783l3 6-11 7-3-7z"/>
<path class="j53" d="M4653 3777l3 6-11 6-3-7z"/>
<path class="j54" d="M4650 3772l3 5-11 5-4-7z"/>
<path class="j55" d="M4646 3766l2 3 2 3-12 3-1-4-2-3z"/>
<path class="j56" d="M4642 3761l4 5-11 2-4-7z"/>
<path class="j57" d="M4637 3755l5 6-11 0-5-6z"/>
<path class="j58" d="M4632 3750l2 2 3 3-11 0-4-5-1-1z"/>
<path class="j59" d="M4626 3746l6 4-11-1-7-6z"/>
<path class="j60" d="M4618 3742l8 4-12-3-7-5z"/>
<path class="j61" d="M4608 3739l10 3-11-4-11-5z"/>
<path class="j62" d="M4592 3738l13 0 3 1-12-6-3 0-13-2z"/>
<path class="j63" d="M4345 3829l14-8 15-6 14-6 15-6 14-5 14-6 15-5 14-6 15-5 14-6 15-6 14-5 14-5 15-6 14-4 15-4 14-2 2 0-12-7-1 0-15 2-14 3-15 5-14 5-14 5-15 6-14 5-15 6-14 5-15 6-14 6-14 5-15 6-14 5-15 6-14 7-15 8z"/>
<path class="j62" d="M4316 3850l13-11 1-1 15-9-12-7-14 9-2 2-12 11z"/>
<path class="j61" d="M4313 3853l3-3-11-6-4 3z"/>
<path class="j60" d="M4302 3865l11-12-12-6-11 15z"/>
<path class="j59" d="M4295 3874l7-9-12-3-7 10z"/>
<path class="j58" d="M4287 3887l1-3 7-10-12-2-6 11-1 3z"/>
<path class="j57" d="M4283 3894l4-7-11-1-4 8z"/>
<path class="j56" d="M4279 3903l4-9-11 0-5 10z"/>
<path class="j55" d="M4274 3912l5-9-12 1-4 11z"/>
<path class="j54" d="M4273 3916l1-4-11 3-2 5z"/>
<path class="j53" d="M4271 3921l2-5-12 4-2 5z"/>
<path class="j52" d="M4267 3930l4-9-12 4-3 10z"/>
<path class="j51" d="M4264 3938l3-8-11 5-3 10z"/>
<path class="j50" d="M4262 3947l2-9-11 7-3 10z"/>
<path class="j49" d="M4258 3957l4-10-12 8-3 12z"/>
<path class="j48" d="M4256 3964l2-7-11 10-2 7z"/>
<path class="j47" d="M4254 3972l2-8-11 10-2 10z"/>
<path class="j46" d="M4252 3981l2-9-11 12-3 10z"/>
<path class="j45" d="M4250 3989l2-8-12 13-2 9z"/>
<path class="j43" d="M4248 3997l2-8-12 14-2 10z"/>
<path class="j42" d="M4246 4006l2-9-12 16-2 10z"/>
<path class="j41" d="M4244 4014l2-8-12 17-2 9z"/>
<path class="j47" d="M4684 3813l2 5 2 5-11 15-2-6-2-7z"/>
<path class="j48" d="M4682 3808l2 5-11 12-2-6z"/>
<path class="j49" d="M4680 3803l2 5-11 11-2-6z"/>
<path class="j50" d="M4678 3798l2 5-11 10-2-6z"/>
<path class="j51" d="M4676 3793l2 5-11 9-3-6z"/>
<path class="j52" d="M4673 3788l3 5-12 8-2-6z"/>
<path class="j53" d="M4671 3783l2 5-11 7-3-6z"/>
<path class="j54" d="M4668 3778l3 5-12 6-3-6z"/>
<path class="j55" d="M4661 3769l4 5 3 4-12 5-3-6-3-5z"/>
<path class="j56" d="M4658 3765l1 2 2 2-11 3-2-3-2-3z"/>
<path class="j57" d="M4653 3760l5 5-12 1-4-5z"/>
<path class="j58" d="M4649 3756l4 4-11 1-5-6z"/>
<path class="j59" d="M4644 3752l1 1 4 3-12-1-3-3-2-2z"/>
<path class="j60" d="M4637 3749l7 3-12-2-6-4z"/>
<path class="j61" d="M4630 3746l7 3-11-3-8-4z"/>
<path class="j62" d="M4616 3744l3 0 11 2-12-4-10-3-3-1z"/>
<path class="j63" d="M4340 3845l2-1 14-8 15-7 14-6 15-6 14-6 14-6 15-5 14-6 15-5 14-6 15-5 14-6 14-5 15-6 14-5 15-5 14-4 15-3 1 0 13 0-11-6-13 0-2 0-14 2-15 4-14 4-15 6-14 5-14 5-15 6-14 6-15 5-14 6-15 5-14 6-14 5-15 6-14 6-15 6-14 8-15 9-1 1z"/>
<path class="j62" d="M4324 3858l3-3 13-10-11-6-13 11-3 3z"/>
<path class="j61" d="M4313 3869l11-11-11-5-11 12z"/>
<path class="j60" d="M4306 3877l7-8-11-4-7 9z"/>
<path class="j59" d="M4299 3888l1-2 6-9-11-3-7 10-1 3z"/>
<path class="j58" d="M4295 3894l4-6-12-1-4 7z"/>
<path class="j57" d="M4290 3902l5-8-12 0-4 9z"/>
<path class="j56" d="M4286 3910l4-8-11 1-5 9z"/>
<path class="j55" d="M4282 3918l2-4 2-4-12 2-1 4-2 5z"/>
<path class="j54" d="M4279 3925l3-7-11 3-4 9z"/>
<path class="j53" d="M4276 3933l3-8-12 5-3 8z"/>
<path class="j52" d="M4273 3940l3-7-12 5-2 9z"/>
<path class="j51" d="M4270 3949l3-9-11 7-4 10z"/>
<path class="j50" d="M4268 3955l2-6-12 8-2 7z"/>
<path class="j49" d="M4265 3962l3-7-12 9-2 8z"/>
<path class="j48" d="M4263 3969l2-7-11 10-2 9z"/>
<path class="j47" d="M4261 3976l2-7-11 12-2 8z"/>
<path class="j46" d="M4259 3983l2-7-11 13-2 8z"/>
<path class="j45" d="M4257 3991l2-8-11 14-2 9z"/>
<path class="j44" d="M4255 3998l2-7-11 15-2 8z"/>
<path class="j49" d="M4698 3806l2 4-12 13-2-5z"/>
<path class="j50" d="M4696 3802l2 4-12 12-2-5z"/>
<path class="j51" d="M4694 3798l2 4-12 11-2-5z"/>
<path class="j52" d="M4690 3790l2 4 2 4-12 10-2-5-2-5z"/>
<path class="j53" d="M4687 3786l3 4-12 8-2-5z"/>
<path class="j54" d="M4682 3778l3 4 2 4-11 7-3-5-2-5z"/>
<path class="j55" d="M4679 3775l3 3-11 5-3-5z"/>
<path class="j56" d="M4676 3771l3 4-11 3-3-4z"/>
<path class="j57" d="M4669 3764l2 2 2 2 3 3-11 3-4-5-2-2-1-2z"/>
<path class="j58" d="M4665 3761l4 3-11 1-5-5z"/>
<path class="j59" d="M4660 3758l5 3-12-1-4-4z"/>
<path class="j60" d="M4649 3752l6 3 1 1 4 2-11-2-4-3-1-1-7-3z"/>
<path class="j61" d="M4641 3750l8 2-12-3-7-3z"/>
<path class="j62" d="M4628 3750l3 0 10 0-11-4-11-2-3 0z"/>
<path class="j63" d="M4352 3852l1-1 15-8 14-7 15-6 14-6 14-5 15-6 14-6 15-5 14-6 15-5 14-6 14-5 15-6 14-5 15-5 14-5 15-5 14-3 2 0 13-1-12-6-13 0-1 0-15 3-14 4-15 5-14 5-15 6-14 5-14 6-15 5-14 6-15 5-14 6-15 5-14 6-14 6-15 6-14 6-15 7-14 8-2 1z"/>
<path class="j62" d="M4336 3863l3-2 13-9-12-7-13 10-3 3z"/>
<path class="j61" d="M4324 3873l12-10-12-5-11 11z"/>
<path class="j60" d="M4311 3888l7-7 6-8-11-4-7 8-6 9z"/>
<path class="j59" d="M4306 3895l4-5 1-2-11-2-1 2-4 6z"/>
<path class="j58" d="M4301 3902l5-7-11-1-5 8z"/>
<path class="j57" d="M4296 3912l1-3 4-7-11 0-4 8-2 4z"/>
<path class="j56" d="M4290 3922l4-6 2-4-12 2-2 4-3 7z"/>
<path class="j55" d="M4287 3929l3-7-11 3-3 8z"/>
<path class="j54" d="M4284 3935l3-6-11 4-3 7z"/>
<path class="j53" d="M4281 3942l3-7-11 5-3 9z"/>
<path class="j52" d="M4277 3953l2-6 2-5-11 7-2 6-3 7z"/>
<path class="j51" d="M4275 3959l2-6-12 9-2 7z"/>
<path class="j50" d="M4272 3965l3-6-12 10-2 7z"/>
<path class="j49" d="M4270 3971l2-6-11 11-2 7z"/>
<path class="j48" d="M4267 3983l2-6 1-6-11 12-2 8-2 7z"/>
<path class="j52" d="M4707 3793l2 3 2 4-11 10-2-4-2-4z"/>
<path class="j53" d="M4705 3790l2 3-11 9-2-4z"/>
<path class="j54" d="M4701 3784l2 3 2 3-11 8-2-4-2-4z"/>
<path class="j55" d="M4696 3778l3 3 2 3-11 6-3-4-2-4z"/>
<path class="j56" d="M4693 3775l3 3-11 4-3-4z"/>
<path class="j57" d="M4687 3769l4 3 2 3-11 3-3-3-3-4z"/>
<path class="j58" d="M4682 3765l2 2 3 2-11 2-3-3-2-2z"/>
<path class="j59" d="M4676 3762l4 2 2 1-11 1-2-2-4-3z"/>
<path class="j60" d="M4666 3758l2 0 4 2 4 2-11-1-5-3-4-2-1-1z"/>
<path class="j61" d="M4660 3756l6 2-11-3-6-3z"/>
<path class="j62" d="M4639 3756l3-1 10 0 8 1-11-4-8-2-10 0-3 0z"/>
<path class="j63" d="M4363 3859l2-1 14-8 15-6 14-6 14-6 15-6 14-5 15-6 14-5 15-6 14-6 14-5 15-6 14-5 15-6 14-5 15-5 14-4 15-4 1 0 13-2-11-6-13 1-2 0-14 3-15 5-14 5-15 5-14 5-15 6-14 5-14 6-15 5-14 6-15 5-14 6-15 6-14 5-14 6-15 6-14 7-15 8-1 1z"/>
<path class="j62" d="M4347 3869l3-2 13-8-11-7-13 9-3 2z"/>
<path class="j61" d="M4329 3884l7-6 11-9-11-6-12 10-6 8z"/>
<path class="j60" d="M4317 3897l4-5 2-1 6-7-11-3-7 7-1 2-4 5z"/>
<path class="j59" d="M4313 3903l4-6-11-2-5 7z"/>
<path class="j58" d="M4305 3915l2-3 2-3 4-6-12-1-4 7-1 3-2 4z"/>
<path class="j57" d="M4302 3920l3-5-11 1-4 6z"/>
<path class="j56" d="M4296 3931l3-6 3-5-12 2-3 7-3 6z"/>
<path class="j55" d="M4293 3937l3-6-12 4-3 7z"/>
<path class="j54" d="M4288 3946l3-5 2-4-12 5-2 5-2 6z"/>
<path class="j53" d="M4286 3951l2-5-11 7-2 6z"/>
<path class="j52" d="M4282 3961l2-5 2-5-11 8-3 6-2 6z"/>
<path class="j51" d="M4280 3966l2-5-12 10-1 6z"/>
<path class="j50" d="M4278 3971l2-5-11 11-2 6z"/>
<path class="j54" d="M4719 3786l2 2 2 3-12 9-2-4-2-3z"/>
<path class="j55" d="M4715 3781l2 3 2 2-12 7-2-3-2-3z"/>
<path class="j56" d="M4710 3777l2 2 3 2-12 6-2-3-2-3z"/>
<path class="j57" d="M4705 3773l3 2 2 2-11 4-3-3-3-3z"/>
<path class="j58" d="M4699 3769l3 2 3 2-12 2-2-3-4-3z"/>
<path class="j59" d="M4692 3765l2 1 2 1 3 2-12 0-3-2-2-2-2-1z"/>
<path class="j60" d="M4683 3762l5 2 4 1-12-1-4-2-4-2z"/>
<path class="j61" d="M4672 3761l6 0 1 1 4 0-11-2-4-2-2 0-6-2z"/>
<path class="j62" d="M4654 3761l10-1 8 1-12-5-8-1-10 0z"/>
<path class="j63" d="M4362 3873l13-8 1 0 15-7 14-7 14-6 15-6 14-5 15-6 14-5 15-6 14-5 14-6 15-5 14-6 15-5 14-6 15-5 14-5 15-5 14-4 1-1 13-2 4-1-12-6-3 1-13 2-1 0-15 4-14 4-15 5-14 5-15 6-14 5-15 6-14 5-14 6-15 6-14 5-15 6-14 5-15 6-14 6-14 6-15 6-14 8-2 1-13 8z"/>
<path class="j62" d="M4347 3883l12-8 3-2-12-6-3 2-11 9z"/>
<path class="j61" d="M4333 3895l1-1 6-6 7-5-11-5-7 6-6 7-2 1z"/>
<path class="j60" d="M4324 3905l5-5 4-5-12-3-4 5-4 6z"/>
<path class="j59" d="M4317 3914l1-2 2-2 4-5-11-2-4 6-2 3-2 3z"/>
<path class="j58" d="M4310 3923l3-4 4-5-12 1-3 5-3 5z"/>
<path class="j57" d="M4307 3928l3-5-11 2-3 6z"/>
<path class="j56" d="M4302 3936l2-3 3-5-11 3-3 6-2 4z"/>
<path class="j55" d="M4297 3945l3-4 2-5-11 5-3 5-2 5z"/>
<path class="j54" d="M4293 3953l2-4 2-4-11 6-2 5-2 5z"/>
<path class="j53" d="M4290 3961l1-4 2-4-11 8-2 5-2 5z"/>
<path class="j56" d="M4730 3780l2 2 2 2-11 7-2-3-2-2z"/>
<path class="j57" d="M4726 3777l2 2 2 1-11 6-2-2-2-3z"/>
<path class="j58" d="M4719 3773l2 1 3 2 2 1-11 4-3-2-2-2-2-2z"/>
<path class="j59" d="M4713 3770l3 2 3 1-11 2-3-2-3-2z"/>
<path class="j60" d="M4703 3767l2 0 2 1 3 1 3 1-11 1-3-2-3-2-2-1-2-1z"/>
<path class="j61" d="M4691 3765l4 1 4 0 4 1-11-2-4-1-5-2-4 0z"/>
<path class="j62" d="M4675 3766l8-1 6 0 2 0-12-3-1-1-6 0-8-1z"/>
<path class="j63" d="M4370 3881l3-2 13-7 2 0 14-7 14-6 15-6 14-6 15-6 14-5 15-6 14-5 14-6 15-5 14-6 15-5 14-6 15-5 14-6 15-5 14-5 14-4 2-1 13-3 3-1 10-1-11-6-10 1-4 1-13 2-1 1-14 4-15 5-14 5-15 5-14 6-15 5-14 6-15 5-14 6-14 5-15 6-14 5-15 6-14 5-15 6-14 6-14 7-15 7-1 0-13 8-3 2z"/>
<path class="j62" d="M4352 3893l7-5 11-7-11-6-12 8-7 5z"/>
<path class="j61" d="M4336 3907l4-4 4-4 2-1 6-5-12-5-6 6-1 1-4 5-5 5z"/>
<path class="j60" d="M4328 3915l2-2 2-2 4-4-12-2-4 5-2 2-1 2z"/>
<path class="j59" d="M4322 3922l3-3 3-4-11-1-4 5-3 4z"/>
<path class="j58" d="M4313 3933l2-3 4-4 3-4-12 1-3 5-3 5-2 3z"/>
<path class="j57" d="M4309 3940l2-3 2-4-11 3-2 5-3 4z"/>
<path class="j56" d="M4305 3947l2-4 2-3-12 5-2 4-2 4z"/>
<path class="j55" d="M4301 3953l2-3 2-3-12 6-2 4-1 4z"/>
<path class="j58" d="M4740 3776l2 1 2 1 1 1-11 5-2-2-2-2-2-1z"/>
<path class="j59" d="M4733 3773l2 1 2 1 3 1-12 3-2-2-2-1-3-2z"/>
<path class="j60" d="M4722 3770l3 1 3 1 2 0 3 1-12 1-2-1-3-1-3-2-3-1z"/>
<path class="j61" d="M4711 3769l4 1 2 0 1 0 4 0-12-1-3-1-2-1-2 0-4-1z"/>
<path class="j62" d="M4694 3770l7 0 1 0 4-1 5 0-12-3-4 0-4-1-2 0-6 0z"/>
<path class="j63" d="M4370 3894l11-7 4-1 13-7 1 0 14-7 15-6 14-6 15-5 14-6 15-5 14-6 14-6 15-5 14-6 15-5 14-6 15-5 14-6 15-5 14-6 14-5 15-4 1-1 13-3 3-1 11-2 7-2-11-5-8 1-10 1-3 1-13 3-2 1-14 4-14 5-15 5-14 6-15 5-14 6-15 5-14 6-15 5-14 6-14 5-15 6-14 5-15 6-14 6-15 6-14 6-14 7-2 0-13 7-3 2-11 7z"/>
<path class="j62" d="M4352 3906l4-3 1-1 6-4 7-4-11-6-7 5-6 5-2 1-4 4z"/>
<path class="j61" d="M4339 3916l2-1 2-2 4-3 5-4-12-3-4 4-4 4-2 2-2 2z"/>
<path class="j60" d="M4330 3926l3-3 3-3 3-4-11-1-3 4-3 3-3 4z"/>
<path class="j59" d="M4323 3934l2-3 2-2 3-3-11 0-4 4-2 3-2 4z"/>
<path class="j58" d="M4316 3942l2-2 2-3 3-3-12 3-2 3-2 3-2 4z"/>
<path class="j57" d="M4312 3947l2-2 2-3-11 5-2 3-2 3z"/>
<path class="j59" d="M4753 3775l2 0 2 1-12 3-1-1-2-1z"/>
<path class="j60" d="M4744 3773l3 1 2 0 2 0 2 1-11 2-2-1-3-1-2-1-2-1z"/>
<path class="j61" d="M4730 3773l3 0 3 0 3 0 3 0 2 0-11 0-3-1-2 0-3-1-3-1-4 0z"/>
<path class="j62" d="M4712 3775l2-1 3 0 5-1 4 0 2 0 2 0-12-3-1 0-2 0-4-1-5 0-4 1-1 0z"/>
<path class="j63" d="M4375 3903l7-3 11-6 3-2 13-6 1 0 15-6 14-6 15-6 14-6 15-5 14-6 14-5 15-6 14-5 15-6 14-6 15-5 14-6 15-5 14-6 14-5 15-5 14-5 2-1 13-4 3-1 10-2 8-2 6-1-11-5-7 0-7 2-11 2-3 1-13 3-1 1-15 4-14 5-14 6-15 5-14 6-15 5-14 6-15 5-14 6-15 5-14 6-14 6-15 5-14 6-15 5-14 6-15 6-14 7-1 0-13 7-4 1-11 7-7 4z"/>
<path class="j62" d="M4355 3916l4-3 4-3 4-2 2-1 6-4-12-5-6 4-1 1-4 3-5 4-4 3z"/>
<path class="j61" d="M4342 3926l2-2 3-2 4-3 2-1 2-2-12-3-2 2-2 1-3 4-3 3-3 3z"/>
<path class="j60" d="M4332 3935l2-2 2-2 2-2 4-3-12 0-3 3-2 2-2 3-3 3z"/>
<path class="j59" d="M4324 3944l2-2 2-2 2-2 2-3-12 2-2 3-2 2-2 3-2 2z"/>
<path class="j61" d="M4753 3775l3 0 2 0 2 0 2-1 2 0 2 1 2 0-11 1-2-1-2 0-2-1-2 0-2 0-3-1-2 0z"/>
<path class="j62" d="M4734 3778l4-1 1 0 2-1 4 0 3 0 3-1 2 0-11-2-3 0-3 0-3 0-3 0-2 0-2 0-4 0z"/>
<path class="j63" d="M4375 3915l4-2 1-1 6-3 7-3 11-5 3-2 13-5 2-1 14-6 15-6 14-5 15-6 14-6 14-5 15-6 14-5 15-6 14-5 15-6 14-5 15-6 14-5 14-6 15-5 14-6 15-5 1 0 13-5 3-1 11-3 7-2 7-2 1 0 4-1 5-1-12-5-5 1-3 0-2 1-6 1-8 2-10 2-3 1-13 4-2 1-14 5-15 5-14 5-14 6-15 5-14 6-15 5-14 6-15 6-14 5-15 6-14 5-14 6-15 5-14 6-15 6-14 6-15 6-1 0-13 6-3 2-11 6-7 3-6 4-2 1-4 2z"/>
<path class="j62" d="M4353 3929l3-2 3-2 3-3 2-1 2-1 4-2 5-3-12-5-4 3-4 3-2 2-2 1-4 3-3 2-2 2z"/>
<path class="j61" d="M4339 3939l2-2 2-1 2-2 3-2 2-1 3-2-11-3-4 3-2 2-2 2-2 2-2 3-2 2z"/>
<path class="j60" d="M4335 3942l2-2 2-1-11 1-2 2-2 2z"/>
<path class="j62" d="M4759 3779l3 0 3-1 2 0 3-1 2 0 2-1 2 0 2 0 2-1-12 0-2 0-2-1-2 0-2 1-2 0-2 0-3 0-2 0-3 1z"/>
<path class="j63" d="M4374 3927l2-1 1-1 4-2 5-2 4-2 1-1 7-3 6-3 12-5 3-1 13-5 1-1 15-6 14-5 15-6 14-5 14-6 15-6 14-5 15-6 14-5 15-6 14-5 15-6 14-5 14-6 15-5 14-6 15-5 14-6 2 0 13-5 3-1 10-3 8-3 6-2 1 0 4-2 5-1 4-1 2-1 2 0 3-1 3-1-11-3-3 0-4 0-2 1-1 0-4 1-5 1-4 1-1 0-7 2-7 2-11 3-3 1-13 5-1 0-15 5-14 6-15 5-14 6-14 5-15 6-14 5-15 6-14 5-15 6-14 5-15 6-14 5-14 6-15 6-14 5-15 6-14 6-2 1-13 5-3 2-11 5-7 3-6 3-1 1-4 2-5 3-4 2-2 1-2 1z"/>
<path class="j62" d="M4350 3940l3-1 2-2 2-1 2-1 2-1 3-2 3-2 3-1 4-2-12-5-3 3-3 2-3 2-3 2-2 1-3 2-2 2-2 1-2 2z"/>
<path class="j61" d="M4347 3942l2-1 1-1-11-1-2 1-2 2z"/>
<path class="j62" d="M4787 3779l2 0 2-1-11-3-2 1-2 0z"/>
<path class="j63" d="M4366 3941l2-1 3-1 2-1 3-2 3-1 3-1 3-2 2-1 2 0 4-2 5-2 3-2 2 0 6-3 7-3 11-4 3-2 13-5 2 0 14-6 15-6 14-5 14-6 15-5 14-6 15-5 14-6 15-6 14-5 15-6 14-5 14-6 15-5 14-6 15-5 14-6 15-5 1-1 13-5 3-1 10-4 8-2 6-3 2 0 4-1 4-2 4-1 2-1 2-1 3-1 4-1 2-1 3 0 3-1 2-1 2-1 2 0 2-1-11-3-2 0-2 1-2 0-3 1-2 0-3 1-3 0-3 1-3 1-2 0-2 1-4 1-5 1-4 2-1 0-6 2-8 3-10 3-3 1-13 5-2 0-14 6-15 5-14 6-15 5-14 6-14 5-15 6-14 5-15 6-14 5-15 6-14 5-15 6-14 6-14 5-15 6-14 5-15 6-1 1-13 5-3 1-12 5-6 3-7 3-1 1-4 2-5 2-4 2-1 1-2 1-4 2-3 1-3 2-3 2-2 1-2 1-2 1z"/>
<path class="j62" d="M4358 3945l2-1 2-1 2-1 2-1-11-4-2 2-3 1-1 1-2 1z"/>
<path class="j63" d="M4370 3949l1 0 2-1 2-1 2-1 3-1 2-1 2-1 3-1 3-1 3-1 4-2 1 0 2-1 4-2 5-2 4-1 1-1 7-2 6-3 12-4 3-1 13-5 1-1 15-6 14-5 14-6 15-5 14-6 15-5 14-6 15-5 14-6 15-5 14-6 14-6 15-5 14-6 15-5 14-6 15-5 14-6 1 0 13-5 4-1 10-4 8-3 6-3 1 0 4-2 5-1 4-2 2-1 2 0 3-1 3-2 3-1 3-1 2-1 2 0 3-1 2-1 2-1 2 0 2-1-12-5-2 1-2 0-2 1-2 0-2 1-2 1-3 1-3 0-2 1-4 1-3 1-2 1-2 1-4 1-4 2-4 1-2 0-6 3-8 2-10 4-3 1-13 5-1 1-15 5-14 6-15 5-14 6-15 5-14 6-14 5-15 6-14 5-15 6-14 6-15 5-14 6-15 5-14 6-14 5-15 6-14 6-2 0-13 5-3 2-11 4-7 3-6 3-2 0-3 2-5 2-4 2-2 0-2 1-3 2-3 1-3 1-3 2-2 1-3 1-2 1-2 1-2 1-2 1-2 1z"/>
<path class="j63" d="M4381 3956l2-1 2-1 2 0 2-1 2-1 3-1 1-1 4-1 3-1 3-1 3-1 2-1 2-1 4-1 4-2 4-2 2 0 6-3 7-2 11-5 3-1 13-5 2 0 14-6 14-5 15-6 14-6 15-5 14-6 15-5 14-6 15-5 14-6 14-5 15-6 14-5 15-6 14-6 15-5 14-6 14-5 2-1 13-5 3-1 10-4 8-3 6-2 2-1 4-1 4-2 4-2 2 0 2-1 3-1 3-2 3-1 3-1 2-1 3-1 2 0 2-1 2-1 2-1 2 0-11-7-2 1-2 0-2 1-2 1-3 1-2 0-2 1-3 1-3 1-3 2-3 1-2 0-2 1-4 2-5 1-4 2-1 0-6 3-8 3-10 4-4 1-13 5-1 0-14 6-15 5-14 6-15 5-14 6-15 5-14 6-14 6-15 5-14 6-15 5-14 6-15 5-14 6-15 5-14 6-14 5-15 6-1 1-13 5-3 1-12 4-6 3-7 2-1 1-4 1-5 2-4 2-2 1-1 0-4 2-3 1-3 1-3 1-2 1-2 1-3 1-2 1-2 1-2 1-1 0z"/>
<path class="j63" d="M4409 3981l2-1 2-1 2-1 2-2 2-1 2-1 2-1 4-1 2-2 4-1 3-2 2-1 2-1 4-2 4-2 4-1 2-1 6-3 7-3 11-4 3-2 13-5 2 0 14-6 14-6 15-5 14-6 15-5 14-6 15-5 14-6 14-6 15-5 14-6 15-5 14-6 15-5 14-6 14-5 15-6 14-5 2-1 13-5 3-1 10-3 8-3 6-2 2-1 4-1 4-1 4-2 2 0 2-1 3-1 3-1 3 0 3-1 2-1 3 0 2-1 2-1 2 0 2-1 2 0-28-24-2 0-2 1-2 1-2 1-2 0-3 1-2 1-3 1-3 1-3 2-3 1-2 1-2 0-4 2-4 2-4 1-2 1-6 2-8 3-10 4-3 1-13 5-2 1-14 5-14 6-15 5-14 6-15 6-14 5-15 6-14 5-14 6-15 5-14 6-15 5-14 6-15 5-14 6-15 6-14 5-14 6-2 0-13 5-3 1-11 5-7 2-6 3-2 0-4 2-4 2-4 1-2 1-2 1-3 1-3 1-3 1-4 1-1 1-3 1-2 1-2 1-2 0-2 1-2 1z"/>
<path class="j61" d="M4857 3848l3 0 2 1 2 0 2 0 2 1 2 0-28-36-2 0-2 1-2 0-2 1-2 1-3 0z"/>
<path class="j62" d="M4835 3848l4 0 2 0 2 0 3 0 3 0 3 0 3 0 2 0-28-31-2 1-3 1-3 0-3 1-3 1-2 1-2 0-4 2z"/>
<path class="j63" d="M4476 3986l4-3 2-1 6-3 7-4 11-6 3-1 13-6 2-1 14-6 14-6 15-6 14-5 15-6 14-5 15-6 14-5 14-6 15-5 14-6 15-6 14-5 15-6 14-5 14-5 15-6 14-5 2 0 13-4 3-1 10-3 8-2 6-1 2 0 4-1 4-1-28-24-4 1-4 1-2 1-6 2-8 3-10 3-3 1-13 5-2 1-14 5-15 6-14 5-14 6-15 5-14 6-15 5-14 6-15 5-14 6-14 6-15 5-14 6-15 5-14 6-15 5-14 6-14 6-2 0-13 5-3 2-11 4-7 3-6 3-2 1-4 1z"/>
<path class="j62" d="M4455 4001l2-2 4-2 3-3 2-1 2-2 4-2 4-3-28-25-4 2-4 2-2 1-2 1-3 2-4 1-2 2z"/>
<path class="j61" d="M4441 4014l2-2 2-2 2-2 2-2 2-2 4-3-28-29-4 1-2 1-2 1-2 1-2 2-2 1z"/>
<path class="j60" d="M4437 4018l2-2 2-2-28-35-2 1-2 1z"/>
<path class="j57" d="M4896 3896l2 2-28-48-2 0z"/>
<path class="j58" d="M4888 3889l2 1 2 2 2 2 2 2-28-46-2-1-2 0-2 0-2-1z"/>
<path class="j59" d="M4880 3884l3 1 2 2 3 2-28-41-3 0-2 0-3 0z"/>
<path class="j60" d="M4871 3880l3 1 3 1 3 2-28-36-3 0-3 0-3 0z"/>
<path class="j61" d="M4858 3876l5 1 4 1 2 1 2 1-28-32-2 0-2 0-4 0-4 1z"/>
<path class="j62" d="M4839 3876l8 0 6 0 2 0 3 0-27-27-4 1-2 0-6 1-8 2z"/>
<path class="j63" d="M4534 3991l3-2 13-7 1-1 15-7 14-6 15-6 14-5 15-6 14-6 14-5 15-6 14-5 15-6 14-5 15-6 14-5 14-6 15-5 14-6 15-4 14-5 2 0 13-3 3-1 10-1-28-23-10 3-3 1-13 4-2 0-14 5-15 6-14 5-14 5-15 6-14 5-15 6-14 6-15 5-14 6-14 5-15 6-14 5-15 6-14 5-15 6-14 6-14 6-2 1-13 6-3 1z"/>
<path class="j62" d="M4508 4010l2-1 6-6 7-5 11-7-28-22-11 6-7 4-6 3-2 1z"/>
<path class="j61" d="M4496 4022l4-4 4-5 4-3-28-27-4 3-4 3-4 2z"/>
<path class="j60" d="M4485 4035l3-4 4-4 2-3 2-2-28-31-2 2-2 1-3 3-4 2z"/>
<path class="j59" d="M4477 4046l2-3 4-4 2-4-28-36-2 2-4 3-2 2z"/>
<path class="j58" d="M4473 4053l2-3 2-4-28-40-2 2-2 2z"/>
<path class="j57" d="M4467 4064l2-3 2-4 2-4-28-43-2 2-2 2-2 2z"/>
<path class="j56" d="M4465 4068l2-4-28-48-2 2z"/>
<path class="j52" d="M4924 3953l2 4-28-59-2-2z"/>
<path class="j53" d="M4920 3946l2 3 2 4-28-57-2-2-2-2z"/>
<path class="j54" d="M4918 3942l2 4-28-54-2-2z"/>
<path class="j55" d="M4913 3934l3 4 2 4-28-52-2-1-3-2z"/>
<path class="j56" d="M4908 3927l3 4 2 3-28-47-2-2-3-1z"/>
<path class="j57" d="M4905 3923l3 4-28-43-3-2z"/>
<path class="j58" d="M4897 3915l2 2 3 3 3 3-28-41-3-1-3-1-2-1z"/>
<path class="j59" d="M4891 3910l4 3 2 2-28-36-2-1-4-1z"/>
<path class="j60" d="M4882 3905l4 2 5 3-28-33-5-1-3 0z"/>
<path class="j61" d="M4875 3903l6 2 1 0-27-29-2 0-6 0z"/>
<path class="j62" d="M4854 3900l3 0 10 1 8 2-28-27-8 0-10 1-3 1z"/>
<path class="j63" d="M4578 4003l1-1 15-8 14-7 15-6 14-6 15-5 14-6 14-5 15-6 14-6 15-5 14-6 15-5 14-6 14-5 15-5 14-5 15-5 14-3 2 0 13-2-28-22-13 3-2 0-14 5-15 4-14 6-15 5-14 6-14 5-15 6-14 5-15 6-14 5-15 6-14 5-14 6-15 6-14 5-15 6-14 6-15 7-1 1z"/>
<path class="j62" d="M4551 4024l11-10 3-3 13-8-28-21-13 7-3 2-11 7z"/>
<path class="j61" d="M4544 4031l7-7-28-26-7 5z"/>
<path class="j60" d="M4532 4045l4-5 1-2 7-7-28-28-6 6-2 1-4 3z"/>
<path class="j59" d="M4528 4052l4-7-28-32-4 5z"/>
<path class="j58" d="M4520 4065l2-4 1-3 5-6-28-34-4 4-2 2-2 3z"/>
<path class="j57" d="M4513 4077l3-6 4-6-28-38-4 4-3 4z"/>
<path class="j56" d="M4510 4083l3-6-28-42-2 4z"/>
<path class="j55" d="M4505 4095l2-4 3-8-27-44-4 4-2 3z"/>
<path class="j54" d="M4503 4101l2-6-28-49-2 4z"/>
<path class="j53" d="M4499 4113l2-6 2-6-28-51-2 3-2 4z"/>
<path class="j52" d="M4497 4118l2-5-28-56-2 4z"/>
<path class="j51" d="M4493 4130l2-6 2-6-28-57-2 3-2 4z"/>
<path class="j46" d="M4952 4022l2 6-28-71-2-4z"/>
<path class="j47" d="M4950 4015l2 7-28-69-2-4z"/>
<path class="j48" d="M4948 4009l2 6-28-66-2-3z"/>
<path class="j49" d="M4946 4002l2 7-28-63-2-4z"/>
<path class="j50" d="M4944 3996l2 6-28-60-2-4z"/>
<path class="j51" d="M4939 3983l2 7 3 6-28-58-3-4-2-3z"/>
<path class="j52" d="M4936 3977l3 6-28-52-3-4z"/>
<path class="j53" d="M4933 3971l3 6-28-50-3-4z"/>
<path class="j54" d="M4930 3965l3 6-28-48-3-3z"/>
<path class="j55" d="M4927 3959l3 6-28-45-3-3z"/>
<path class="j56" d="M4923 3953l2 3 2 3-28-42-2-2-2-2z"/>
<path class="j57" d="M4919 3947l4 6-28-40-4-3z"/>
<path class="j58" d="M4914 3942l5 5-28-37-5-3z"/>
<path class="j59" d="M4909 3937l1 1 4 4-28-35-4-2-1 0z"/>
<path class="j60" d="M4903 3932l6 5-28-32-6-2z"/>
<path class="j61" d="M4895 3927l8 5-28-29-8-2z"/>
<path class="j62" d="M4882 3924l3 0 10 3-28-26-10-1-3 0z"/>
<path class="j63" d="M4606 4024l1-1 15-9 14-8 15-6 14-6 14-6 15-5 14-6 15-5 14-6 15-5 14-6 15-6 14-5 14-5 15-6 14-4 15-4 14-2 2 0 13 1-28-24-13 2-2 0-14 3-15 5-14 5-15 5-14 5-14 6-15 5-14 6-15 5-14 6-15 6-14 5-14 6-15 5-14 6-15 6-14 7-15 8-1 1z"/>
<path class="j62" d="M4590 4038l3-3 13-11-28-21-13 8-3 3z"/>
<path class="j60" d="M4572 4060l6-9 12-13-28-24-11 10-7 7z"/>
<path class="j59" d="M4565 4071l7-11-28-29-7 7z"/>
<path class="j58" d="M4560 4080l4-7 1-2-28-33-1 2-4 5z"/>
<path class="j57" d="M4555 4090l5-10-28-35-4 7z"/>
<path class="j56" d="M4551 4099l4-9-27-38-5 6z"/>
<path class="j55" d="M4548 4108l2-4 1-5-28-41-1 3-2 4z"/>
<path class="j54" d="M4544 4117l4-9-28-43-4 6z"/>
<path class="j53" d="M4541 4126l3-9-28-46-3 6z"/>
<path class="j52" d="M4538 4135l3-9-28-49-3 6z"/>
<path class="j50" d="M4533 4153l2-7 3-11-28-52-3 8-2 4z"/>
<path class="j49" d="M4531 4161l2-8-28-58-2 6z"/>
<path class="j48" d="M4529 4170l2-9-28-60-2 6z"/>
<path class="j47" d="M4527 4179l2-9-28-63-2 6z"/>
<path class="j46" d="M4525 4187l2-8-28-66-2 5z"/>
<path class="j45" d="M4523 4196l2-9-28-69-2 6z"/>
<path class="j44" d="M4521 4204l2-8-28-72-2 6z"/>
<path class="j38" d="M4980 4101l2 10-28-83-2-6z"/>
<path class="j40" d="M4978 4091l2 10-28-79-2-7z"/>
<path class="j41" d="M4976 4082l2 9-28-76-2-6z"/>
<path class="j42" d="M4974 4072l2 10-28-73-2-7z"/>
<path class="j43" d="M4972 4063l2 9-28-70-2-6z"/>
<path class="j45" d="M4969 4053l3 10-28-67-3-6z"/>
<path class="j46" d="M4967 4044l2 9-28-63-2-7z"/>
<path class="j47" d="M4964 4034l3 10-28-61-3-6z"/>
<path class="j49" d="M4961 4025l3 9-28-57-3-6z"/>
<path class="j50" d="M4958 4016l3 9-28-54-3-6z"/>
<path class="j51" d="M4955 4006l3 10-28-51-3-6z"/>
<path class="j52" d="M4953 4002l2 4-28-47-2-3z"/>
<path class="j53" d="M4951 3997l2 5-28-46-2-3z"/>
<path class="j54" d="M4947 3989l4 8-28-44-4-6z"/>
<path class="j55" d="M4942 3980l5 9-28-42-5-5z"/>
<path class="j56" d="M4938 3973l4 7-28-38-4-4z"/>
<path class="j57" d="M4937 3971l1 2-28-35-1-1z"/>
<path class="j58" d="M4931 3963l6 8-28-34-6-5z"/>
<path class="j59" d="M4923 3956l8 7-28-31-8-5z"/>
<path class="j61" d="M4909 3948l4 1 10 7-28-29-10-3-3 0z"/>
<path class="j62" d="M4895 3945l2 0 12 3-27-24-13-1-2 0z"/>
<path class="j63" d="M4650 4034l14-8 15-7 14-6 14-6 15-6 14-5 15-6 14-5 15-6 14-5 14-6 15-5 14-6 15-5 14-4 15-3 14 0-28-22-14 2-15 4-14 4-15 6-14 5-14 5-15 6-14 6-15 5-14 6-15 5-14 6-15 5-14 6-14 6-15 6-14 8z"/>
<path class="j62" d="M4634 4046l1-1 15-11-28-20-15 9-1 1z"/>
<path class="j61" d="M4618 4064l3-4 13-14-28-22-13 11-3 3z"/>
<path class="j59" d="M4606 4080l12-16-28-26-12 13z"/>
<path class="j58" d="M4600 4093l6-13-28-29-6 9z"/>
<path class="j56" d="M4592 4109l1-3 7-13-28-33-7 11-1 2z"/>
<path class="j55" d="M4588 4119l4-10-28-36-4 7z"/>
<path class="j54" d="M4583 4132l5-13-28-39-5 10z"/>
<path class="j52" d="M4579 4145l4-13-28-42-4 9z"/>
<path class="j51" d="M4576 4158l2-7 1-6-28-46-1 5-2 4z"/>
<path class="j49" d="M4572 4170l4-12-28-50-4 9z"/>
<path class="j48" d="M4569 4182l3-12-28-53-3 9z"/>
<path class="j46" d="M4566 4195l3-13-28-56-3 9z"/>
<path class="j45" d="M4563 4210l3-15-28-60-3 11z"/>
<path class="j44" d="M4561 4219l2-9-28-64-2 7z"/>
<path class="j42" d="M4559 4231l2-12-28-66-2 8z"/>
<path class="j41" d="M4557 4243l2-12-28-70-2 9z"/>
<path class="j39" d="M4554 4255l3-12-28-73-2 9z"/>
<path class="j38" d="M4552 4267l2-12-27-76-2 8z"/>
<path class="j36" d="M4551 4279l1-12-27-80-2 9z"/>
<path class="j35" d="M4549 4291l2-12-28-83-2 8z"/>
<path class="j29" d="M5008 4191l2 14-28-94-2-10z"/>
<path class="j31" d="M5006 4178l2 13-28-90-2-10z"/>
<path class="j33" d="M5004 4165l2 13-28-87-2-9z"/>
<path class="j34" d="M5002 4151l2 14-28-83-2-10z"/>
<path class="j36" d="M4999 4138l3 13-28-79-2-9z"/>
<path class="j38" d="M4997 4125l2 13-27-75-3-10z"/>
<path class="j40" d="M4995 4111l2 14-28-72-2-9z"/>
<path class="j42" d="M4992 4098l3 13-28-67-3-10z"/>
<path class="j44" d="M4989 4085l3 13-28-64-3-9z"/>
<path class="j45" d="M4986 4072l3 13-28-60-3-9z"/>
<path class="j47" d="M4983 4059l3 13-28-56-3-10z"/>
<path class="j48" d="M4981 4052l2 7-28-53-2-4z"/>
<path class="j49" d="M4979 4046l2 6-28-50-2-5z"/>
<path class="j51" d="M4975 4034l4 12-28-49-4-8z"/>
<path class="j53" d="M4970 4021l5 13-28-45-5-9z"/>
<path class="j54" d="M4965 4009l1 3 4 9-28-41-4-7-1-2z"/>
<path class="j56" d="M4959 3997l6 12-28-38-6-8z"/>
<path class="j58" d="M4951 3986l8 11-28-34-8-7z"/>
<path class="j60" d="M4937 3973l4 3 10 10-28-30-10-7-4-1z"/>
<path class="j62" d="M4923 3967l2 0 12 6-28-25-12-3-2 0z"/>
<path class="j63" d="M4678 4055l14-10 15-7 14-6 14-6 15-6 14-5 15-6 14-6 15-5 14-6 14-5 15-6 14-5 15-5 14-3 15-2 14 1-28-22-14 0-15 3-14 4-15 5-14 6-15 5-14 6-14 5-15 6-14 5-15 6-14 5-15 6-14 6-14 6-15 7-14 8z"/>
<path class="j62" d="M4662 4069l1-2 15-12-28-21-15 11-1 1z"/>
<path class="j60" d="M4646 4090l3-5 13-16-28-23-13 14-3 4z"/>
<path class="j58" d="M4634 4111l12-21-28-26-12 16z"/>
<path class="j56" d="M4628 4127l6-16-28-31-6 13z"/>
<path class="j54" d="M4621 4145l7-18-28-34-7 13z"/>
<path class="j53" d="M4620 4149l1-4-28-39-1 3z"/>
<path class="j52" d="M4616 4162l4-13-28-40-4 10z"/>
<path class="j50" d="M4611 4179l5-17-28-43-5 13z"/>
<path class="j48" d="M4607 4196l4-17-28-47-4 13z"/>
<path class="j47" d="M4605 4204l2-8-28-51-1 6z"/>
<path class="j46" d="M4604 4212l1-8-27-53-2 7z"/>
<path class="j44" d="M4600 4229l4-17-28-54-4 12z"/>
<path class="j42" d="M4597 4245l3-16-28-59-3 12z"/>
<path class="j40" d="M4594 4262l3-17-28-63-3 13z"/>
<path class="j38" d="M4591 4282l3-20-28-67-3 15z"/>
<path class="j36" d="M4589 4294l2-12-28-72-2 9z"/>
<path class="j35" d="M4587 4310l2-16-28-75-2 12z"/>
<path class="j33" d="M4585 4326l2-16-28-79-2 12z"/>
<path class="j31" d="M4582 4343l3-17-28-83-3 12z"/>
<path class="j29" d="M4580 4359l2-16-28-88-2 12z"/>
<path class="j27" d="M4578 4375l2-16-28-92-1 12z"/>
<path class="j25" d="M4577 4391l1-16-27-96-2 12z"/>
<path class="j19" d="M5036 4293l2 18-28-106-2-14z"/>
<path class="j21" d="M5034 4275l2 18-28-102-2-13z"/>
<path class="j23" d="M5032 4257l2 18-28-97-2-13z"/>
<path class="j26" d="M5030 4240l2 17-28-92-2-14z"/>
<path class="j28" d="M5027 4222l3 18-28-89-3-13z"/>
<path class="j30" d="M5025 4204l2 18-28-84-2-13z"/>
<path class="j33" d="M5023 4187l2 17-28-79-2-14z"/>
<path class="j35" d="M5020 4169l3 18-28-76-3-13z"/>
<path class="j37" d="M5017 4152l3 17-28-71-3-13z"/>
<path class="j40" d="M5014 4135l3 17-28-67-3-13z"/>
<path class="j42" d="M5011 4117l3 18-28-63-3-13z"/>
<path class="j43" d="M5009 4108l2 9-28-58-2-7z"/>
<path class="j44" d="M5007 4100l2 8-28-56-2-6z"/>
<path class="j47" d="M5003 4083l4 17-28-54-4-12z"/>
<path class="j49" d="M4998 4066l5 17-28-49-5-13z"/>
<path class="j51" d="M4994 4054l4 12-28-45-4-9z"/>
<path class="j52" d="M4993 4050l1 4-28-42-1-3z"/>
<path class="j54" d="M4987 4033l6 17-28-41-6-12z"/>
<path class="j56" d="M4979 4018l8 15-28-36-8-11z"/>
<path class="j59" d="M4965 4000l4 3 10 15-28-32-10-10-4-3z"/>
<path class="j61" d="M4951 3990l1 0 13 10-28-27-12-6-2 0z"/>
<path class="j62" d="M4937 3986l14 4-28-23-14-1z"/>
<path class="j63" d="M4720 4065l14-8 15-7 14-6 15-5 14-6 15-5 14-6 14-5 15-6 14-6 15-5 14-5 15-5 14-3 15-1-28-20-15 2-14 3-15 5-14 5-15 6-14 5-14 6-15 5-14 6-15 6-14 5-15 6-14 6-14 6-15 7z"/>
<path class="j62" d="M4706 4075l14-10-28-20-14 10z"/>
<path class="j61" d="M4690 4092l1-2 15-15-28-20-15 12-1 2z"/>
<path class="j59" d="M4677 4112l13-20-28-23-13 16z"/>
<path class="j58" d="M4674 4118l3-6-28-27-3 5z"/>
<path class="j56" d="M4662 4144l12-26-28-28-12 21z"/>
<path class="j53" d="M4656 4164l6-20-28-33-6 16z"/>
<path class="j51" d="M4649 4187l7-23-28-37-7 18z"/>
<path class="j50" d="M4648 4192l1-5-28-42-1 4z"/>
<path class="j48" d="M4644 4209l4-17-28-43-4 13z"/>
<path class="j46" d="M4639 4230l5-21-28-47-5 17z"/>
<path class="j43" d="M4635 4252l4-22-28-51-4 17z"/>
<path class="j42" d="M4633 4262l2-10-28-56-2 8z"/>
<path class="j41" d="M4632 4273l1-11-28-58-1 8z"/>
<path class="j38" d="M4628 4294l4-21-28-61-4 17z"/>
<path class="j36" d="M4625 4315l3-21-28-65-3 16z"/>
<path class="j33" d="M4622 4336l3-21-28-70-3 17z"/>
<path class="j30" d="M4619 4362l3-26-28-74-3 20z"/>
<path class="j28" d="M4617 4378l2-16-28-80-2 12z"/>
<path class="j26" d="M4615 4399l2-21-28-84-2 16z"/>
<path class="j23" d="M4612 4419l3-20-28-89-2 16z"/>
<path class="j21" d="M4610 4440l2-21-27-93-3 17z"/>
<path class="j18" d="M4608 4461l2-21-28-97-2 16z"/>
<path class="j15" d="M4606 4482l2-21-28-102-2 16z"/>
<path class="j13" d="M4605 4502l1-20-28-107-1 16z"/>
<path class="j7" d="M5064 4405l1 23-27-117-2-18z"/>
<path class="j10" d="M5062 4383l2 22-28-112-2-18z"/>
<path class="j13" d="M5060 4360l2 23-28-108-2-18z"/>
<path class="j16" d="M5058 4337l2 23-28-103-2-17z"/>
<path class="j18" d="M5055 4315l3 22-28-97-3-18z"/>
<path class="j21" d="M5053 4292l2 23-28-93-2-18z"/>
<path class="j24" d="M5050 4270l3 22-28-88-2-17z"/>
<path class="j27" d="M5048 4247l2 23-27-83-3-18z"/>
<path class="j30" d="M5045 4225l3 22-28-78-3-17z"/>
<path class="j33" d="M5042 4203l3 22-28-73-3-17z"/>
<path class="j36" d="M5039 4181l3 22-28-68-3-18z"/>
<path class="j38" d="M5037 4169l2 12-28-64-2-9z"/>
<path class="j39" d="M5035 4158l2 11-28-61-2-8z"/>
<path class="j42" d="M5031 4136l4 22-28-58-4-17z"/>
<path class="j45" d="M5026 4115l5 21-28-53-5-17z"/>
<path class="j48" d="M5021 4093l1 5 4 17-28-49-4-12-1-4z"/>
<path class="j51" d="M5015 4072l6 21-28-43-6-17z"/>
<path class="j54" d="M5007 4051l8 21-28-39-8-15z"/>
<path class="j57" d="M4996 4032l11 19-28-33-10-15z"/>
<path class="j58" d="M4993 4027l3 5-27-29-4-3z"/>
<path class="j60" d="M4980 4014l13 13-28-27-13-10z"/>
<path class="j61" d="M4979 4013l1 1-28-24-1 0z"/>
<path class="j62" d="M4964 4007l15 6-28-23-14-4z"/>
<path class="j63" d="M4748 4085l14-9 15-7 14-6 15-6 14-5 15-6 14-5 14-6 15-5 14-6 15-5 14-5 15-5 14-2 14 0-27-21-15 1-14 3-15 5-14 5-15 5-14 6-15 6-14 5-14 6-15 5-14 6-15 5-14 6-15 7-14 8z"/>
<path class="j62" d="M4734 4096l14-11-28-20-14 10z"/>
<path class="j61" d="M4719 4114l15-18-28-21-15 15z"/>
<path class="j60" d="M4718 4116l1-2-28-24-1 2z"/>
<path class="j58" d="M4705 4140l13-24-28-24-13 20z"/>
<path class="j57" d="M4702 4147l3-7-28-28-3 6z"/>
<path class="j54" d="M4690 4179l12-32-28-29-12 26z"/>
<path class="j51" d="M4683 4204l7-25-28-35-6 20z"/>
<path class="j48" d="M4677 4232l6-28-27-40-7 23z"/>
<path class="j47" d="M4676 4238l1-6-28-45-1 5z"/>
<path class="j44" d="M4672 4259l4-21-28-46-4 17z"/>
<path class="j41" d="M4667 4286l5-27-28-50-5 21z"/>
<path class="j38" d="M4663 4312l4-26-28-56-4 22z"/>
<path class="j36" d="M4661 4325l2-13-28-60-2 10z"/>
<path class="j35" d="M4659 4339l2-14-28-63-1 11z"/>
<path class="j32" d="M4656 4365l3-26-27-66-4 21z"/>
<path class="j28" d="M4653 4392l3-27-28-71-3 21z"/>
<path class="j25" d="M4650 4418l3-26-28-77-3 21z"/>
<path class="j21" d="M4647 4450l3-32-28-82-3 26z"/>
<path class="j19" d="M4645 4470l2-20-28-88-2 16z"/>
<path class="j16" d="M4643 4496l2-26-28-92-2 21z"/>
<path class="j12" d="M4640 4522l3-26-28-97-3 20z"/>
<path class="j9" d="M4638 4548l2-26-28-103-2 21z"/>
<path class="j6" d="M4636 4574l2-26-28-108-2 21z"/>
<path class="j3" d="M4634 4600l2-26-28-113-2 21z"/>
<path class="j0" d="M4633 4626l1-26-28-118-1 20z"/>
</g>
<rect x="523.9" y="340" width="8.9" height="130.2" fill="url(#jet)"/>
<line x1="523.9" y1="340.2" x2="532.8" y2="340.2" stroke="#3a0000" stroke-width="0.5"/>
<line x1="523.9" y1="470" x2="532.8" y2="470" stroke="#00003a" stroke-width="0.5"/>
<line x1="531.5" y1="358.7" x2="532.8" y2="358.7" stroke="#222" stroke-width="0.45"/>
<line x1="523.9" y1="358.7" x2="525.2" y2="358.7" stroke="#222" stroke-width="0.45"/>
<line x1="531.5" y1="377.5" x2="532.8" y2="377.5" stroke="#222" stroke-width="0.45"/>
<line x1="523.9" y1="377.5" x2="525.2" y2="377.5" stroke="#222" stroke-width="0.45"/>
<line x1="531.5" y1="396.2" x2="532.8" y2="396.2" stroke="#222" stroke-width="0.45"/>
<line x1="523.9" y1="396.2" x2="525.2" y2="396.2" stroke="#222" stroke-width="0.45"/>
<line x1="531.5" y1="414.9" x2="532.8" y2="414.9" stroke="#222" stroke-width="0.45"/>
<line x1="523.9" y1="414.9" x2="525.2" y2="414.9" stroke="#222" stroke-width="0.45"/>
<line x1="531.5" y1="433.7" x2="532.8" y2="433.7" stroke="#222" stroke-width="0.45"/>
<line x1="523.9" y1="433.7" x2="525.2" y2="433.7" stroke="#222" stroke-width="0.45"/>
<line x1="531.5" y1="452.4" x2="532.8" y2="452.4" stroke="#222" stroke-width="0.45"/>
<line x1="523.9" y1="452.4" x2="525.2" y2="452.4" stroke="#222" stroke-width="0.45"/>
</g>
<g>
<text transform="translate(116.5 117.5) scale(0.87 1)" font-size="6.5" text-anchor="end" font-family='"Liberation Sans", sans-serif' fill="#2a2a2a" stroke="#2a2a2a" stroke-width="0.09">0</text>
<text transform="translate(116.5 102.1) scale(0.87 1)" font-size="6.5" text-anchor="end" font-family='"Liberation Sans", sans-serif' fill="#2a2a2a" stroke="#2a2a2a" stroke-width="0.09">0.2</text>
<text transform="translate(116.5 86.7) scale(0.87 1)" font-size="6.5" text-anchor="end" font-family='"Liberation Sans", sans-serif' fill="#2a2a2a" stroke="#2a2a2a" stroke-width="0.09">0.4</text>
<text transform="translate(116.5 71.3) scale(0.87 1)" font-size="6.5" text-anchor="end" font-family='"Liberation Sans", sans-serif' fill="#2a2a2a" stroke="#2a2a2a" stroke-width="0.09">0.6</text>
<text transform="translate(116.5 56) scale(0.87 1)" font-size="6.5" text-anchor="end" font-family='"Liberation Sans", sans-serif' fill="#2a2a2a" stroke="#2a2a2a" stroke-width="0.09">0.8</text>
<text transform="translate(116.5 40.6) scale(0.87 1)" font-size="6.5" text-anchor="end" font-family='"Liberation Sans", sans-serif' fill="#2a2a2a" stroke="#2a2a2a" stroke-width="0.09">1</text>
<text transform="translate(116.5 25.2) scale(0.87 1)" font-size="6.5" text-anchor="end" font-family='"Liberation Sans", sans-serif' fill="#2a2a2a" stroke="#2a2a2a" stroke-width="0.09">1.2</text>
<text transform="translate(116.5 9.8) scale(0.87 1)" font-size="6.5" text-anchor="end" font-family='"Liberation Sans", sans-serif' fill="#2a2a2a" stroke="#2a2a2a" stroke-width="0.09">1.4</text>
<text transform="translate(117.6 122.3) scale(0.87 1)" font-size="6.5" text-anchor="middle" font-family='"Liberation Sans", sans-serif' fill="#2a2a2a" stroke="#2a2a2a" stroke-width="0.09">-100</text>
<text transform="translate(151.8 122.3) scale(0.87 1)" font-size="6.5" text-anchor="middle" font-family='"Liberation Sans", sans-serif' fill="#2a2a2a" stroke="#2a2a2a" stroke-width="0.09">-50</text>
<text transform="translate(186.9 122.3) scale(0.87 1)" font-size="6.5" text-anchor="middle" font-family='"Liberation Sans", sans-serif' fill="#2a2a2a" stroke="#2a2a2a" stroke-width="0.09">0</text>
<text transform="translate(221.2 122.3) scale(0.87 1)" font-size="6.5" text-anchor="middle" font-family='"Liberation Sans", sans-serif' fill="#2a2a2a" stroke="#2a2a2a" stroke-width="0.09">50</text>
<text transform="translate(255.4 122.3) scale(0.87 1)" font-size="6.5" text-anchor="middle" font-family='"Liberation Sans", sans-serif' fill="#2a2a2a" stroke="#2a2a2a" stroke-width="0.09">100</text>
<text x="185.5" y="129.7" font-size="6.5" text-anchor="middle" font-family='"Liberation Serif", serif' fill="#222" stroke="#222" stroke-width="0.06">Azimuth frequency /Hz</text>
<text transform="translate(104.6 57.9) rotate(-90)" font-size="6" text-anchor="middle" font-family='"Liberation Serif", serif' fill="#222">G</text>
<text x="186.9" y="148.5" font-size="10" text-anchor="middle" font-family='"Liberation Serif", serif' fill="#111" stroke="#111" stroke-width="0.1">(a)</text>
<text transform="translate(306.9 116.5) scale(0.87 1)" font-size="6.5" text-anchor="end" font-family='"Liberation Sans", sans-serif' fill="#2a2a2a" stroke="#2a2a2a" stroke-width="0.09">0</text>
<text transform="translate(306.9 101.1) scale(0.87 1)" font-size="6.5" text-anchor="end" font-family='"Liberation Sans", sans-serif' fill="#2a2a2a" stroke="#2a2a2a" stroke-width="0.09">0.05</text>
<text transform="translate(306.9 85.7) scale(0.87 1)" font-size="6.5" text-anchor="end" font-family='"Liberation Sans", sans-serif' fill="#2a2a2a" stroke="#2a2a2a" stroke-width="0.09">0.1</text>
<text transform="translate(306.9 70.3) scale(0.87 1)" font-size="6.5" text-anchor="end" font-family='"Liberation Sans", sans-serif' fill="#2a2a2a" stroke="#2a2a2a" stroke-width="0.09">0.15</text>
<text transform="translate(306.9 55) scale(0.87 1)" font-size="6.5" text-anchor="end" font-family='"Liberation Sans", sans-serif' fill="#2a2a2a" stroke="#2a2a2a" stroke-width="0.09">0.2</text>
<text transform="translate(306.9 39.6) scale(0.87 1)" font-size="6.5" text-anchor="end" font-family='"Liberation Sans", sans-serif' fill="#2a2a2a" stroke="#2a2a2a" stroke-width="0.09">0.25</text>
<text transform="translate(306.9 24.2) scale(0.87 1)" font-size="6.5" text-anchor="end" font-family='"Liberation Sans", sans-serif' fill="#2a2a2a" stroke="#2a2a2a" stroke-width="0.09">0.3</text>
<text transform="translate(306.9 8.8) scale(0.87 1)" font-size="6.5" text-anchor="end" font-family='"Liberation Sans", sans-serif' fill="#2a2a2a" stroke="#2a2a2a" stroke-width="0.09">0.35</text>
<text transform="translate(308 121.3) scale(0.87 1)" font-size="6.5" text-anchor="middle" font-family='"Liberation Sans", sans-serif' fill="#2a2a2a" stroke="#2a2a2a" stroke-width="0.09">-100</text>
<text transform="translate(342.2 121.3) scale(0.87 1)" font-size="6.5" text-anchor="middle" font-family='"Liberation Sans", sans-serif' fill="#2a2a2a" stroke="#2a2a2a" stroke-width="0.09">-50</text>
<text transform="translate(377.4 121.3) scale(0.87 1)" font-size="6.5" text-anchor="middle" font-family='"Liberation Sans", sans-serif' fill="#2a2a2a" stroke="#2a2a2a" stroke-width="0.09">0</text>
<text transform="translate(411.6 121.3) scale(0.87 1)" font-size="6.5" text-anchor="middle" font-family='"Liberation Sans", sans-serif' fill="#2a2a2a" stroke="#2a2a2a" stroke-width="0.09">50</text>
<text transform="translate(445.9 121.3) scale(0.87 1)" font-size="6.5" text-anchor="middle" font-family='"Liberation Sans", sans-serif' fill="#2a2a2a" stroke="#2a2a2a" stroke-width="0.09">100</text>
<text x="376" y="128.7" font-size="6.5" text-anchor="middle" font-family='"Liberation Serif", serif' fill="#222" stroke="#222" stroke-width="0.06">Azimuth frequency /Hz</text>
<text transform="translate(295 56.9) rotate(-90)" font-size="6" text-anchor="middle" font-family='"Liberation Serif", serif' fill="#222">G</text>
<text x="371.4" y="148" font-size="10" text-anchor="middle" font-family='"Liberation Serif", serif' fill="#111" stroke="#111" stroke-width="0.1">(b)</text>
<text transform="translate(21.6 189.9) scale(0.81 1)" font-size="4.8" text-anchor="end" font-family='"Liberation Sans", sans-serif' fill="#2a2a2a" stroke="#2a2a2a" stroke-width="0.09">0</text>
<text transform="translate(21.6 204.4) scale(0.81 1)" font-size="4.8" text-anchor="end" font-family='"Liberation Sans", sans-serif' fill="#2a2a2a" stroke="#2a2a2a" stroke-width="0.09">-1000</text>
<text transform="translate(21.6 218.8) scale(0.81 1)" font-size="4.8" text-anchor="end" font-family='"Liberation Sans", sans-serif' fill="#2a2a2a" stroke="#2a2a2a" stroke-width="0.09">-2000</text>
<text transform="translate(21.6 233.3) scale(0.81 1)" font-size="4.8" text-anchor="end" font-family='"Liberation Sans", sans-serif' fill="#2a2a2a" stroke="#2a2a2a" stroke-width="0.09">-3000</text>
<text transform="translate(21.6 247.7) scale(0.81 1)" font-size="4.8" text-anchor="end" font-family='"Liberation Sans", sans-serif' fill="#2a2a2a" stroke="#2a2a2a" stroke-width="0.09">-4000</text>
<text transform="translate(21.6 262.2) scale(0.81 1)" font-size="4.8" text-anchor="end" font-family='"Liberation Sans", sans-serif' fill="#2a2a2a" stroke="#2a2a2a" stroke-width="0.09">-5000</text>
<text transform="translate(21.2 267.1) scale(0.81 1)" font-size="4.8" text-anchor="end" font-family='"Liberation Sans", sans-serif' fill="#2a2a2a" stroke="#2a2a2a" stroke-width="0.09">100</text>
<text transform="translate(33.8 275.5) scale(0.81 1)" font-size="4.8" text-anchor="end" font-family='"Liberation Sans", sans-serif' fill="#2a2a2a" stroke="#2a2a2a" stroke-width="0.09">50</text>
<text transform="translate(46.4 283.9) scale(0.81 1)" font-size="4.8" text-anchor="end" font-family='"Liberation Sans", sans-serif' fill="#2a2a2a" stroke="#2a2a2a" stroke-width="0.09">0</text>
<text transform="translate(58.9 292.3) scale(0.81 1)" font-size="4.8" text-anchor="end" font-family='"Liberation Sans", sans-serif' fill="#2a2a2a" stroke="#2a2a2a" stroke-width="0.09">-50</text>
<text transform="translate(71.5 300.7) scale(0.81 1)" font-size="4.8" text-anchor="end" font-family='"Liberation Sans", sans-serif' fill="#2a2a2a" stroke="#2a2a2a" stroke-width="0.09">-100</text>
<text transform="translate(76.6 300.8) scale(0.81 1)" font-size="4.8" text-anchor="start" font-family='"Liberation Sans", sans-serif' fill="#2a2a2a" stroke="#2a2a2a" stroke-width="0.09">-100</text>
<text transform="translate(93 294.5) scale(0.81 1)" font-size="4.8" text-anchor="start" font-family='"Liberation Sans", sans-serif' fill="#2a2a2a" stroke="#2a2a2a" stroke-width="0.09">-50</text>
<text transform="translate(109.4 288.2) scale(0.81 1)" font-size="4.8" text-anchor="start" font-family='"Liberation Sans", sans-serif' fill="#2a2a2a" stroke="#2a2a2a" stroke-width="0.09">0</text>
<text transform="translate(125.8 281.9) scale(0.81 1)" font-size="4.8" text-anchor="start" font-family='"Liberation Sans", sans-serif' fill="#2a2a2a" stroke="#2a2a2a" stroke-width="0.09">50</text>
<g clip-path="url(#c115)">
<text transform="translate(142.2 275.6) scale(0.81 1)" font-size="4.8" text-anchor="start" font-family='"Liberation Sans", sans-serif' fill="#2a2a2a" stroke="#2a2a2a" stroke-width="0.09">100</text>
</g>
<text transform="translate(27.5 300.9) scale(0.81 1)" font-size="4.8" text-anchor="middle" font-family='"Liberation Sans", sans-serif' fill="#2a2a2a" stroke="#2a2a2a" stroke-width="0.09">Range frequency MHz</text>
<text transform="translate(123.1 303) scale(0.81 1)" font-size="4.8" text-anchor="middle" font-family='"Liberation Sans", sans-serif' fill="#2a2a2a" stroke="#2a2a2a" stroke-width="0.09">Azimuth frequency Hz</text>
<text transform="translate(7.9 225.5) scale(.81 1) rotate(-90)" font-size="4.8" text-anchor="middle" font-family='"Liberation Sans", sans-serif' fill="#2a2a2a" stroke="#2a2a2a" stroke-width=".09">QPE /degree</text>
<text transform="translate(155.5 165.5) scale(0.81 1)" font-size="4.8" text-anchor="start" font-family='"Liberation Sans", sans-serif' fill="#2a2a2a" stroke="#2a2a2a" stroke-width="0.09">0</text>
<text transform="translate(156.1 181.3) scale(0.81 1)" font-size="4.8" text-anchor="start" font-family='"Liberation Sans", sans-serif' fill="#2a2a2a" stroke="#2a2a2a" stroke-width="0.09">-500</text>
<text transform="translate(156.1 197.1) scale(0.81 1)" font-size="4.8" text-anchor="start" font-family='"Liberation Sans", sans-serif' fill="#2a2a2a" stroke="#2a2a2a" stroke-width="0.09">-1000</text>
<text transform="translate(156.1 212.9) scale(0.81 1)" font-size="4.8" text-anchor="start" font-family='"Liberation Sans", sans-serif' fill="#2a2a2a" stroke="#2a2a2a" stroke-width="0.09">-1500</text>
<text transform="translate(156.1 228.7) scale(0.81 1)" font-size="4.8" text-anchor="start" font-family='"Liberation Sans", sans-serif' fill="#2a2a2a" stroke="#2a2a2a" stroke-width="0.09">-2000</text>
<text transform="translate(156.1 244.5) scale(0.81 1)" font-size="4.8" text-anchor="start" font-family='"Liberation Sans", sans-serif' fill="#2a2a2a" stroke="#2a2a2a" stroke-width="0.09">-2500</text>
<text transform="translate(156.1 260.3) scale(0.81 1)" font-size="4.8" text-anchor="start" font-family='"Liberation Sans", sans-serif' fill="#2a2a2a" stroke="#2a2a2a" stroke-width="0.09">-3000</text>
<text transform="translate(156.1 276.1) scale(0.81 1)" font-size="4.8" text-anchor="start" font-family='"Liberation Sans", sans-serif' fill="#2a2a2a" stroke="#2a2a2a" stroke-width="0.09">-3500</text>
<text transform="translate(156.1 291.9) scale(0.81 1)" font-size="4.8" text-anchor="start" font-family='"Liberation Sans", sans-serif' fill="#2a2a2a" stroke="#2a2a2a" stroke-width="0.09">-4000</text>
<text x="96" y="325" font-size="10" text-anchor="middle" font-family='"Liberation Serif", serif' fill="#111" stroke="#111" stroke-width="0.1">(c)</text>
<text transform="translate(210.6 189.9) scale(0.81 1)" font-size="4.8" text-anchor="end" font-family='"Liberation Sans", sans-serif' fill="#2a2a2a" stroke="#2a2a2a" stroke-width="0.09">0</text>
<text transform="translate(210.6 214) scale(0.81 1)" font-size="4.8" text-anchor="end" font-family='"Liberation Sans", sans-serif' fill="#2a2a2a" stroke="#2a2a2a" stroke-width="0.09">-5000</text>
<text transform="translate(210.6 238.1) scale(0.81 1)" font-size="4.8" text-anchor="end" font-family='"Liberation Sans", sans-serif' fill="#2a2a2a" stroke="#2a2a2a" stroke-width="0.09">-10000</text>
<text transform="translate(210.6 262.2) scale(0.81 1)" font-size="4.8" text-anchor="end" font-family='"Liberation Sans", sans-serif' fill="#2a2a2a" stroke="#2a2a2a" stroke-width="0.09">-15000</text>
<text transform="translate(210.2 267.1) scale(0.81 1)" font-size="4.8" text-anchor="end" font-family='"Liberation Sans", sans-serif' fill="#2a2a2a" stroke="#2a2a2a" stroke-width="0.09">100</text>
<text transform="translate(222.8 275.5) scale(0.81 1)" font-size="4.8" text-anchor="end" font-family='"Liberation Sans", sans-serif' fill="#2a2a2a" stroke="#2a2a2a" stroke-width="0.09">50</text>
<text transform="translate(235.3 283.9) scale(0.81 1)" font-size="4.8" text-anchor="end" font-family='"Liberation Sans", sans-serif' fill="#2a2a2a" stroke="#2a2a2a" stroke-width="0.09">0</text>
<text transform="translate(247.9 292.3) scale(0.81 1)" font-size="4.8" text-anchor="end" font-family='"Liberation Sans", sans-serif' fill="#2a2a2a" stroke="#2a2a2a" stroke-width="0.09">-50</text>
<text transform="translate(260.5 300.7) scale(0.81 1)" font-size="4.8" text-anchor="end" font-family='"Liberation Sans", sans-serif' fill="#2a2a2a" stroke="#2a2a2a" stroke-width="0.09">-100</text>
<text transform="translate(265.6 300.8) scale(0.81 1)" font-size="4.8" text-anchor="start" font-family='"Liberation Sans", sans-serif' fill="#2a2a2a" stroke="#2a2a2a" stroke-width="0.09">-100</text>
<text transform="translate(282 294.5) scale(0.81 1)" font-size="4.8" text-anchor="start" font-family='"Liberation Sans", sans-serif' fill="#2a2a2a" stroke="#2a2a2a" stroke-width="0.09">-50</text>
<text transform="translate(298.4 288.2) scale(0.81 1)" font-size="4.8" text-anchor="start" font-family='"Liberation Sans", sans-serif' fill="#2a2a2a" stroke="#2a2a2a" stroke-width="0.09">0</text>
<text transform="translate(314.8 281.9) scale(0.81 1)" font-size="4.8" text-anchor="start" font-family='"Liberation Sans", sans-serif' fill="#2a2a2a" stroke="#2a2a2a" stroke-width="0.09">50</text>
<g clip-path="url(#c1169)">
<text transform="translate(331.2 275.6) scale(0.81 1)" font-size="4.8" text-anchor="start" font-family='"Liberation Sans", sans-serif' fill="#2a2a2a" stroke="#2a2a2a" stroke-width="0.09">100</text>
</g>
<text transform="translate(216.5 300.9) scale(0.81 1)" font-size="4.8" text-anchor="middle" font-family='"Liberation Sans", sans-serif' fill="#2a2a2a" stroke="#2a2a2a" stroke-width="0.09">Range frequency MHz</text>
<text transform="translate(312.1 303) scale(0.81 1)" font-size="4.8" text-anchor="middle" font-family='"Liberation Sans", sans-serif' fill="#2a2a2a" stroke="#2a2a2a" stroke-width="0.09">Azimuth frequency Hz</text>
<text transform="translate(195.6 225.5) scale(.81 1) rotate(-90)" font-size="4.8" text-anchor="middle" font-family='"Liberation Sans", sans-serif' fill="#2a2a2a" stroke="#2a2a2a" stroke-width=".09">QPE /degree</text>
<text transform="translate(344.5 165.5) scale(0.81 1)" font-size="4.8" text-anchor="start" font-family='"Liberation Sans", sans-serif' fill="#2a2a2a" stroke="#2a2a2a" stroke-width="0.09">0</text>
<text transform="translate(345.1 187) scale(0.81 1)" font-size="4.8" text-anchor="start" font-family='"Liberation Sans", sans-serif' fill="#2a2a2a" stroke="#2a2a2a" stroke-width="0.09">-2000</text>
<text transform="translate(345.1 208.5) scale(0.81 1)" font-size="4.8" text-anchor="start" font-family='"Liberation Sans", sans-serif' fill="#2a2a2a" stroke="#2a2a2a" stroke-width="0.09">-4000</text>
<text transform="translate(345.1 230.1) scale(0.81 1)" font-size="4.8" text-anchor="start" font-family='"Liberation Sans", sans-serif' fill="#2a2a2a" stroke="#2a2a2a" stroke-width="0.09">-6000</text>
<text transform="translate(345.1 251.6) scale(0.81 1)" font-size="4.8" text-anchor="start" font-family='"Liberation Sans", sans-serif' fill="#2a2a2a" stroke="#2a2a2a" stroke-width="0.09">-8000</text>
<text transform="translate(345.1 273.1) scale(0.81 1)" font-size="4.8" text-anchor="start" font-family='"Liberation Sans", sans-serif' fill="#2a2a2a" stroke="#2a2a2a" stroke-width="0.09">-10000</text>
<text transform="translate(345.1 294.6) scale(0.81 1)" font-size="4.8" text-anchor="start" font-family='"Liberation Sans", sans-serif' fill="#2a2a2a" stroke="#2a2a2a" stroke-width="0.09">-12000</text>
<text x="280" y="325" font-size="10" text-anchor="middle" font-family='"Liberation Serif", serif' fill="#111" stroke="#111" stroke-width="0.1">(d)</text>
<text transform="translate(399.4 189.9) scale(0.81 1)" font-size="4.8" text-anchor="end" font-family='"Liberation Sans", sans-serif' fill="#2a2a2a" stroke="#2a2a2a" stroke-width="0.09">0</text>
<text transform="translate(399.4 201.9) scale(0.81 1)" font-size="4.8" text-anchor="end" font-family='"Liberation Sans", sans-serif' fill="#2a2a2a" stroke="#2a2a2a" stroke-width="0.09">-1000</text>
<text transform="translate(399.4 214) scale(0.81 1)" font-size="4.8" text-anchor="end" font-family='"Liberation Sans", sans-serif' fill="#2a2a2a" stroke="#2a2a2a" stroke-width="0.09">-2000</text>
<text transform="translate(399.4 226) scale(0.81 1)" font-size="4.8" text-anchor="end" font-family='"Liberation Sans", sans-serif' fill="#2a2a2a" stroke="#2a2a2a" stroke-width="0.09">-3000</text>
<text transform="translate(399.4 238.1) scale(0.81 1)" font-size="4.8" text-anchor="end" font-family='"Liberation Sans", sans-serif' fill="#2a2a2a" stroke="#2a2a2a" stroke-width="0.09">-4000</text>
<text transform="translate(399.4 250.1) scale(0.81 1)" font-size="4.8" text-anchor="end" font-family='"Liberation Sans", sans-serif' fill="#2a2a2a" stroke="#2a2a2a" stroke-width="0.09">-5000</text>
<text transform="translate(399.4 262.2) scale(0.81 1)" font-size="4.8" text-anchor="end" font-family='"Liberation Sans", sans-serif' fill="#2a2a2a" stroke="#2a2a2a" stroke-width="0.09">-6000</text>
<text transform="translate(399 267.1) scale(0.81 1)" font-size="4.8" text-anchor="end" font-family='"Liberation Sans", sans-serif' fill="#2a2a2a" stroke="#2a2a2a" stroke-width="0.09">100</text>
<text transform="translate(411.6 275.5) scale(0.81 1)" font-size="4.8" text-anchor="end" font-family='"Liberation Sans", sans-serif' fill="#2a2a2a" stroke="#2a2a2a" stroke-width="0.09">50</text>
<text transform="translate(424.2 283.9) scale(0.81 1)" font-size="4.8" text-anchor="end" font-family='"Liberation Sans", sans-serif' fill="#2a2a2a" stroke="#2a2a2a" stroke-width="0.09">0</text>
<text transform="translate(436.7 292.3) scale(0.81 1)" font-size="4.8" text-anchor="end" font-family='"Liberation Sans", sans-serif' fill="#2a2a2a" stroke="#2a2a2a" stroke-width="0.09">-50</text>
<text transform="translate(449.3 300.7) scale(0.81 1)" font-size="4.8" text-anchor="end" font-family='"Liberation Sans", sans-serif' fill="#2a2a2a" stroke="#2a2a2a" stroke-width="0.09">-100</text>
<text transform="translate(454.4 300.8) scale(0.81 1)" font-size="4.8" text-anchor="start" font-family='"Liberation Sans", sans-serif' fill="#2a2a2a" stroke="#2a2a2a" stroke-width="0.09">-100</text>
<text transform="translate(470.8 294.5) scale(0.81 1)" font-size="4.8" text-anchor="start" font-family='"Liberation Sans", sans-serif' fill="#2a2a2a" stroke="#2a2a2a" stroke-width="0.09">-50</text>
<text transform="translate(487.2 288.2) scale(0.81 1)" font-size="4.8" text-anchor="start" font-family='"Liberation Sans", sans-serif' fill="#2a2a2a" stroke="#2a2a2a" stroke-width="0.09">0</text>
<text transform="translate(503.6 281.9) scale(0.81 1)" font-size="4.8" text-anchor="start" font-family='"Liberation Sans", sans-serif' fill="#2a2a2a" stroke="#2a2a2a" stroke-width="0.09">50</text>
<g clip-path="url(#c1704)">
<text transform="translate(520 275.6) scale(0.81 1)" font-size="4.8" text-anchor="start" font-family='"Liberation Sans", sans-serif' fill="#2a2a2a" stroke="#2a2a2a" stroke-width="0.09">100</text>
</g>
<text transform="translate(405.3 300.9) scale(0.81 1)" font-size="4.8" text-anchor="middle" font-family='"Liberation Sans", sans-serif' fill="#2a2a2a" stroke="#2a2a2a" stroke-width="0.09">Range frequency MHz</text>
<text transform="translate(500.9 303) scale(0.81 1)" font-size="4.8" text-anchor="middle" font-family='"Liberation Sans", sans-serif' fill="#2a2a2a" stroke="#2a2a2a" stroke-width="0.09">Azimuth frequency Hz</text>
<text transform="translate(385.7 225.5) scale(.81 1) rotate(-90)" font-size="4.8" text-anchor="middle" font-family='"Liberation Sans", sans-serif' fill="#2a2a2a" stroke="#2a2a2a" stroke-width=".09">QPE /degree</text>
<text transform="translate(533.3 165.5) scale(0.81 1)" font-size="4.8" text-anchor="start" font-family='"Liberation Sans", sans-serif' fill="#2a2a2a" stroke="#2a2a2a" stroke-width="0.09">0</text>
<text transform="translate(533.9 177.6) scale(0.81 1)" font-size="4.8" text-anchor="start" font-family='"Liberation Sans", sans-serif' fill="#2a2a2a" stroke="#2a2a2a" stroke-width="0.09">-500</text>
<text transform="translate(533.9 189.7) scale(0.81 1)" font-size="4.8" text-anchor="start" font-family='"Liberation Sans", sans-serif' fill="#2a2a2a" stroke="#2a2a2a" stroke-width="0.09">-1000</text>
<text transform="translate(533.9 201.8) scale(0.81 1)" font-size="4.8" text-anchor="start" font-family='"Liberation Sans", sans-serif' fill="#2a2a2a" stroke="#2a2a2a" stroke-width="0.09">-1500</text>
<text transform="translate(533.9 213.9) scale(0.81 1)" font-size="4.8" text-anchor="start" font-family='"Liberation Sans", sans-serif' fill="#2a2a2a" stroke="#2a2a2a" stroke-width="0.09">-2000</text>
<text transform="translate(533.9 226) scale(0.81 1)" font-size="4.8" text-anchor="start" font-family='"Liberation Sans", sans-serif' fill="#2a2a2a" stroke="#2a2a2a" stroke-width="0.09">-2500</text>
<text transform="translate(533.9 238.1) scale(0.81 1)" font-size="4.8" text-anchor="start" font-family='"Liberation Sans", sans-serif' fill="#2a2a2a" stroke="#2a2a2a" stroke-width="0.09">-3000</text>
<text transform="translate(533.9 250.2) scale(0.81 1)" font-size="4.8" text-anchor="start" font-family='"Liberation Sans", sans-serif' fill="#2a2a2a" stroke="#2a2a2a" stroke-width="0.09">-3500</text>
<text transform="translate(533.9 262.3) scale(0.81 1)" font-size="4.8" text-anchor="start" font-family='"Liberation Sans", sans-serif' fill="#2a2a2a" stroke="#2a2a2a" stroke-width="0.09">-4000</text>
<text transform="translate(533.9 274.4) scale(0.81 1)" font-size="4.8" text-anchor="start" font-family='"Liberation Sans", sans-serif' fill="#2a2a2a" stroke="#2a2a2a" stroke-width="0.09">-4500</text>
<text transform="translate(533.9 286.5) scale(0.81 1)" font-size="4.8" text-anchor="start" font-family='"Liberation Sans", sans-serif' fill="#2a2a2a" stroke="#2a2a2a" stroke-width="0.09">-5000</text>
<text x="464.4" y="325" font-size="10" text-anchor="middle" font-family='"Liberation Serif", serif' fill="#111" stroke="#111" stroke-width="0.1">(e)</text>
<text transform="translate(21.6 366.2) scale(0.81 1)" font-size="4.8" text-anchor="end" font-family='"Liberation Sans", sans-serif' fill="#2a2a2a" stroke="#2a2a2a" stroke-width="0.09">0</text>
<text transform="translate(21.6 380.7) scale(0.81 1)" font-size="4.8" text-anchor="end" font-family='"Liberation Sans", sans-serif' fill="#2a2a2a" stroke="#2a2a2a" stroke-width="0.09">-1000</text>
<text transform="translate(21.6 395.1) scale(0.81 1)" font-size="4.8" text-anchor="end" font-family='"Liberation Sans", sans-serif' fill="#2a2a2a" stroke="#2a2a2a" stroke-width="0.09">-2000</text>
<text transform="translate(21.6 409.6) scale(0.81 1)" font-size="4.8" text-anchor="end" font-family='"Liberation Sans", sans-serif' fill="#2a2a2a" stroke="#2a2a2a" stroke-width="0.09">-3000</text>
<text transform="translate(21.6 424) scale(0.81 1)" font-size="4.8" text-anchor="end" font-family='"Liberation Sans", sans-serif' fill="#2a2a2a" stroke="#2a2a2a" stroke-width="0.09">-4000</text>
<text transform="translate(21.6 438.5) scale(0.81 1)" font-size="4.8" text-anchor="end" font-family='"Liberation Sans", sans-serif' fill="#2a2a2a" stroke="#2a2a2a" stroke-width="0.09">-5000</text>
<text transform="translate(21.2 443.4) scale(0.81 1)" font-size="4.8" text-anchor="end" font-family='"Liberation Sans", sans-serif' fill="#2a2a2a" stroke="#2a2a2a" stroke-width="0.09">100</text>
<text transform="translate(33.8 451.8) scale(0.81 1)" font-size="4.8" text-anchor="end" font-family='"Liberation Sans", sans-serif' fill="#2a2a2a" stroke="#2a2a2a" stroke-width="0.09">50</text>
<text transform="translate(46.4 460.2) scale(0.81 1)" font-size="4.8" text-anchor="end" font-family='"Liberation Sans", sans-serif' fill="#2a2a2a" stroke="#2a2a2a" stroke-width="0.09">0</text>
<text transform="translate(58.9 468.6) scale(0.81 1)" font-size="4.8" text-anchor="end" font-family='"Liberation Sans", sans-serif' fill="#2a2a2a" stroke="#2a2a2a" stroke-width="0.09">-50</text>
<text transform="translate(71.5 477) scale(0.81 1)" font-size="4.8" text-anchor="end" font-family='"Liberation Sans", sans-serif' fill="#2a2a2a" stroke="#2a2a2a" stroke-width="0.09">-100</text>
<text transform="translate(76.6 477.1) scale(0.81 1)" font-size="4.8" text-anchor="start" font-family='"Liberation Sans", sans-serif' fill="#2a2a2a" stroke="#2a2a2a" stroke-width="0.09">-100</text>
<text transform="translate(93 470.8) scale(0.81 1)" font-size="4.8" text-anchor="start" font-family='"Liberation Sans", sans-serif' fill="#2a2a2a" stroke="#2a2a2a" stroke-width="0.09">-50</text>
<text transform="translate(109.4 464.5) scale(0.81 1)" font-size="4.8" text-anchor="start" font-family='"Liberation Sans", sans-serif' fill="#2a2a2a" stroke="#2a2a2a" stroke-width="0.09">0</text>
<text transform="translate(125.8 458.2) scale(0.81 1)" font-size="4.8" text-anchor="start" font-family='"Liberation Sans", sans-serif' fill="#2a2a2a" stroke="#2a2a2a" stroke-width="0.09">50</text>
<g clip-path="url(#c2318)">
<text transform="translate(142.2 451.9) scale(0.81 1)" font-size="4.8" text-anchor="start" font-family='"Liberation Sans", sans-serif' fill="#2a2a2a" stroke="#2a2a2a" stroke-width="0.09">100</text>
</g>
<text transform="translate(27.5 477.2) scale(0.81 1)" font-size="4.8" text-anchor="middle" font-family='"Liberation Sans", sans-serif' fill="#2a2a2a" stroke="#2a2a2a" stroke-width="0.09">Range frequency MHz</text>
<text transform="translate(123.1 479.3) scale(0.81 1)" font-size="4.8" text-anchor="middle" font-family='"Liberation Sans", sans-serif' fill="#2a2a2a" stroke="#2a2a2a" stroke-width="0.09">Azimuth frequency Hz</text>
<text transform="translate(7.9 401.8) scale(.81 1) rotate(-90)" font-size="4.8" text-anchor="middle" font-family='"Liberation Sans", sans-serif' fill="#2a2a2a" stroke="#2a2a2a" stroke-width=".09">QPE /degree</text>
<text transform="translate(155.5 341.8) scale(0.81 1)" font-size="4.8" text-anchor="start" font-family='"Liberation Sans", sans-serif' fill="#2a2a2a" stroke="#2a2a2a" stroke-width="0.09">0</text>
<text transform="translate(156.1 357.6) scale(0.81 1)" font-size="4.8" text-anchor="start" font-family='"Liberation Sans", sans-serif' fill="#2a2a2a" stroke="#2a2a2a" stroke-width="0.09">-500</text>
<text transform="translate(156.1 373.4) scale(0.81 1)" font-size="4.8" text-anchor="start" font-family='"Liberation Sans", sans-serif' fill="#2a2a2a" stroke="#2a2a2a" stroke-width="0.09">-1000</text>
<text transform="translate(156.1 389.2) scale(0.81 1)" font-size="4.8" text-anchor="start" font-family='"Liberation Sans", sans-serif' fill="#2a2a2a" stroke="#2a2a2a" stroke-width="0.09">-1500</text>
<text transform="translate(156.1 405) scale(0.81 1)" font-size="4.8" text-anchor="start" font-family='"Liberation Sans", sans-serif' fill="#2a2a2a" stroke="#2a2a2a" stroke-width="0.09">-2000</text>
<text transform="translate(156.1 420.8) scale(0.81 1)" font-size="4.8" text-anchor="start" font-family='"Liberation Sans", sans-serif' fill="#2a2a2a" stroke="#2a2a2a" stroke-width="0.09">-2500</text>
<text transform="translate(156.1 436.6) scale(0.81 1)" font-size="4.8" text-anchor="start" font-family='"Liberation Sans", sans-serif' fill="#2a2a2a" stroke="#2a2a2a" stroke-width="0.09">-3000</text>
<text transform="translate(156.1 452.4) scale(0.81 1)" font-size="4.8" text-anchor="start" font-family='"Liberation Sans", sans-serif' fill="#2a2a2a" stroke="#2a2a2a" stroke-width="0.09">-3500</text>
<text transform="translate(156.1 468.2) scale(0.81 1)" font-size="4.8" text-anchor="start" font-family='"Liberation Sans", sans-serif' fill="#2a2a2a" stroke="#2a2a2a" stroke-width="0.09">-4000</text>
<text x="95.6" y="500.5" font-size="10" text-anchor="middle" font-family='"Liberation Serif", serif' fill="#111" stroke="#111" stroke-width="0.1">(f)</text>
<text transform="translate(210.6 366.2) scale(0.81 1)" font-size="4.8" text-anchor="end" font-family='"Liberation Sans", sans-serif' fill="#2a2a2a" stroke="#2a2a2a" stroke-width="0.09">0</text>
<text transform="translate(210.6 380.7) scale(0.81 1)" font-size="4.8" text-anchor="end" font-family='"Liberation Sans", sans-serif' fill="#2a2a2a" stroke="#2a2a2a" stroke-width="0.09">-50</text>
<text transform="translate(210.6 395.1) scale(0.81 1)" font-size="4.8" text-anchor="end" font-family='"Liberation Sans", sans-serif' fill="#2a2a2a" stroke="#2a2a2a" stroke-width="0.09">-100</text>
<text transform="translate(210.6 409.6) scale(0.81 1)" font-size="4.8" text-anchor="end" font-family='"Liberation Sans", sans-serif' fill="#2a2a2a" stroke="#2a2a2a" stroke-width="0.09">-150</text>
<text transform="translate(210.6 424) scale(0.81 1)" font-size="4.8" text-anchor="end" font-family='"Liberation Sans", sans-serif' fill="#2a2a2a" stroke="#2a2a2a" stroke-width="0.09">-200</text>
<text transform="translate(210.6 438.5) scale(0.81 1)" font-size="4.8" text-anchor="end" font-family='"Liberation Sans", sans-serif' fill="#2a2a2a" stroke="#2a2a2a" stroke-width="0.09">-250</text>
<text transform="translate(210.2 443.4) scale(0.81 1)" font-size="4.8" text-anchor="end" font-family='"Liberation Sans", sans-serif' fill="#2a2a2a" stroke="#2a2a2a" stroke-width="0.09">100</text>
<text transform="translate(222.8 451.8) scale(0.81 1)" font-size="4.8" text-anchor="end" font-family='"Liberation Sans", sans-serif' fill="#2a2a2a" stroke="#2a2a2a" stroke-width="0.09">50</text>
<text transform="translate(235.3 460.2) scale(0.81 1)" font-size="4.8" text-anchor="end" font-family='"Liberation Sans", sans-serif' fill="#2a2a2a" stroke="#2a2a2a" stroke-width="0.09">0</text>
<text transform="translate(247.9 468.6) scale(0.81 1)" font-size="4.8" text-anchor="end" font-family='"Liberation Sans", sans-serif' fill="#2a2a2a" stroke="#2a2a2a" stroke-width="0.09">-50</text>
<text transform="translate(260.5 477) scale(0.81 1)" font-size="4.8" text-anchor="end" font-family='"Liberation Sans", sans-serif' fill="#2a2a2a" stroke="#2a2a2a" stroke-width="0.09">-100</text>
<text transform="translate(265.6 477.1) scale(0.81 1)" font-size="4.8" text-anchor="start" font-family='"Liberation Sans", sans-serif' fill="#2a2a2a" stroke="#2a2a2a" stroke-width="0.09">-100</text>
<text transform="translate(282 470.8) scale(0.81 1)" font-size="4.8" text-anchor="start" font-family='"Liberation Sans", sans-serif' fill="#2a2a2a" stroke="#2a2a2a" stroke-width="0.09">-50</text>
<text transform="translate(298.4 464.5) scale(0.81 1)" font-size="4.8" text-anchor="start" font-family='"Liberation Sans", sans-serif' fill="#2a2a2a" stroke="#2a2a2a" stroke-width="0.09">0</text>
<text transform="translate(314.8 458.2) scale(0.81 1)" font-size="4.8" text-anchor="start" font-family='"Liberation Sans", sans-serif' fill="#2a2a2a" stroke="#2a2a2a" stroke-width="0.09">50</text>
<g clip-path="url(#c3378)">
<text transform="translate(331.2 451.9) scale(0.81 1)" font-size="4.8" text-anchor="start" font-family='"Liberation Sans", sans-serif' fill="#2a2a2a" stroke="#2a2a2a" stroke-width="0.09">100</text>
</g>
<text transform="translate(216.5 477.2) scale(0.81 1)" font-size="4.8" text-anchor="middle" font-family='"Liberation Sans", sans-serif' fill="#2a2a2a" stroke="#2a2a2a" stroke-width="0.09">Range frequency MHz</text>
<text transform="translate(312.1 479.3) scale(0.81 1)" font-size="4.8" text-anchor="middle" font-family='"Liberation Sans", sans-serif' fill="#2a2a2a" stroke="#2a2a2a" stroke-width="0.09">Azimuth frequency Hz</text>
<text transform="translate(198.6 401.8) scale(.81 1) rotate(-90)" font-size="4.8" text-anchor="middle" font-family='"Liberation Sans", sans-serif' fill="#2a2a2a" stroke="#2a2a2a" stroke-width=".09">QPE /degree</text>
<text transform="translate(344.5 341.8) scale(0.81 1)" font-size="4.8" text-anchor="start" font-family='"Liberation Sans", sans-serif' fill="#2a2a2a" stroke="#2a2a2a" stroke-width="0.09">0</text>
<text transform="translate(345.1 353) scale(0.81 1)" font-size="4.8" text-anchor="start" font-family='"Liberation Sans", sans-serif' fill="#2a2a2a" stroke="#2a2a2a" stroke-width="0.09">-20</text>
<text transform="translate(345.1 364.2) scale(0.81 1)" font-size="4.8" text-anchor="start" font-family='"Liberation Sans", sans-serif' fill="#2a2a2a" stroke="#2a2a2a" stroke-width="0.09">-40</text>
<text transform="translate(345.1 375.3) scale(0.81 1)" font-size="4.8" text-anchor="start" font-family='"Liberation Sans", sans-serif' fill="#2a2a2a" stroke="#2a2a2a" stroke-width="0.09">-60</text>
<text transform="translate(345.1 386.5) scale(0.81 1)" font-size="4.8" text-anchor="start" font-family='"Liberation Sans", sans-serif' fill="#2a2a2a" stroke="#2a2a2a" stroke-width="0.09">-80</text>
<text transform="translate(345.1 397.7) scale(0.81 1)" font-size="4.8" text-anchor="start" font-family='"Liberation Sans", sans-serif' fill="#2a2a2a" stroke="#2a2a2a" stroke-width="0.09">-100</text>
<text transform="translate(345.1 408.9) scale(0.81 1)" font-size="4.8" text-anchor="start" font-family='"Liberation Sans", sans-serif' fill="#2a2a2a" stroke="#2a2a2a" stroke-width="0.09">-120</text>
<text transform="translate(345.1 420) scale(0.81 1)" font-size="4.8" text-anchor="start" font-family='"Liberation Sans", sans-serif' fill="#2a2a2a" stroke="#2a2a2a" stroke-width="0.09">-140</text>
<text transform="translate(345.1 431.2) scale(0.81 1)" font-size="4.8" text-anchor="start" font-family='"Liberation Sans", sans-serif' fill="#2a2a2a" stroke="#2a2a2a" stroke-width="0.09">-160</text>
<text transform="translate(345.1 442.4) scale(0.81 1)" font-size="4.8" text-anchor="start" font-family='"Liberation Sans", sans-serif' fill="#2a2a2a" stroke="#2a2a2a" stroke-width="0.09">-180</text>
<text transform="translate(345.1 453.6) scale(0.81 1)" font-size="4.8" text-anchor="start" font-family='"Liberation Sans", sans-serif' fill="#2a2a2a" stroke="#2a2a2a" stroke-width="0.09">-200</text>
<text transform="translate(345.1 464.7) scale(0.81 1)" font-size="4.8" text-anchor="start" font-family='"Liberation Sans", sans-serif' fill="#2a2a2a" stroke="#2a2a2a" stroke-width="0.09">-220</text>
<text x="279.2" y="500.5" font-size="10" text-anchor="middle" font-family='"Liberation Serif", serif' fill="#111" stroke="#111" stroke-width="0.1">(g)</text>
<text transform="translate(399.4 366.2) scale(0.81 1)" font-size="4.8" text-anchor="end" font-family='"Liberation Sans", sans-serif' fill="#2a2a2a" stroke="#2a2a2a" stroke-width="0.09">5</text>
<text transform="translate(399.4 384.3) scale(0.81 1)" font-size="4.8" text-anchor="end" font-family='"Liberation Sans", sans-serif' fill="#2a2a2a" stroke="#2a2a2a" stroke-width="0.09">0</text>
<text transform="translate(399.4 402.4) scale(0.81 1)" font-size="4.8" text-anchor="end" font-family='"Liberation Sans", sans-serif' fill="#2a2a2a" stroke="#2a2a2a" stroke-width="0.09">-5</text>
<text transform="translate(399.4 420.4) scale(0.81 1)" font-size="4.8" text-anchor="end" font-family='"Liberation Sans", sans-serif' fill="#2a2a2a" stroke="#2a2a2a" stroke-width="0.09">-10</text>
<text transform="translate(399.4 438.5) scale(0.81 1)" font-size="4.8" text-anchor="end" font-family='"Liberation Sans", sans-serif' fill="#2a2a2a" stroke="#2a2a2a" stroke-width="0.09">-15</text>
<text transform="translate(399 443.4) scale(0.81 1)" font-size="4.8" text-anchor="end" font-family='"Liberation Sans", sans-serif' fill="#2a2a2a" stroke="#2a2a2a" stroke-width="0.09">100</text>
<text transform="translate(411.6 451.8) scale(0.81 1)" font-size="4.8" text-anchor="end" font-family='"Liberation Sans", sans-serif' fill="#2a2a2a" stroke="#2a2a2a" stroke-width="0.09">50</text>
<text transform="translate(424.2 460.2) scale(0.81 1)" font-size="4.8" text-anchor="end" font-family='"Liberation Sans", sans-serif' fill="#2a2a2a" stroke="#2a2a2a" stroke-width="0.09">0</text>
<text transform="translate(436.7 468.6) scale(0.81 1)" font-size="4.8" text-anchor="end" font-family='"Liberation Sans", sans-serif' fill="#2a2a2a" stroke="#2a2a2a" stroke-width="0.09">-50</text>
<text transform="translate(449.3 477) scale(0.81 1)" font-size="4.8" text-anchor="end" font-family='"Liberation Sans", sans-serif' fill="#2a2a2a" stroke="#2a2a2a" stroke-width="0.09">-100</text>
<text transform="translate(454.4 477.1) scale(0.81 1)" font-size="4.8" text-anchor="start" font-family='"Liberation Sans", sans-serif' fill="#2a2a2a" stroke="#2a2a2a" stroke-width="0.09">-100</text>
<text transform="translate(470.8 470.8) scale(0.81 1)" font-size="4.8" text-anchor="start" font-family='"Liberation Sans", sans-serif' fill="#2a2a2a" stroke="#2a2a2a" stroke-width="0.09">-50</text>
<text transform="translate(487.2 464.5) scale(0.81 1)" font-size="4.8" text-anchor="start" font-family='"Liberation Sans", sans-serif' fill="#2a2a2a" stroke="#2a2a2a" stroke-width="0.09">0</text>
<text transform="translate(503.6 458.2) scale(0.81 1)" font-size="4.8" text-anchor="start" font-family='"Liberation Sans", sans-serif' fill="#2a2a2a" stroke="#2a2a2a" stroke-width="0.09">50</text>
<g clip-path="url(#c4350)">
<text transform="translate(520 451.9) scale(0.81 1)" font-size="4.8" text-anchor="start" font-family='"Liberation Sans", sans-serif' fill="#2a2a2a" stroke="#2a2a2a" stroke-width="0.09">100</text>
</g>
<text transform="translate(405.3 477.2) scale(0.81 1)" font-size="4.8" text-anchor="middle" font-family='"Liberation Sans", sans-serif' fill="#2a2a2a" stroke="#2a2a2a" stroke-width="0.09">Range frequency MHz</text>
<text transform="translate(500.9 479.3) scale(0.81 1)" font-size="4.8" text-anchor="middle" font-family='"Liberation Sans", sans-serif' fill="#2a2a2a" stroke="#2a2a2a" stroke-width="0.09">Azimuth frequency Hz</text>
<text transform="translate(390.8 401.8) scale(.81 1) rotate(-90)" font-size="4.8" text-anchor="middle" font-family='"Liberation Sans", sans-serif' fill="#2a2a2a" stroke="#2a2a2a" stroke-width=".09">QPE /degree</text>
<text transform="translate(533.3 341.8) scale(0.81 1)" font-size="4.8" text-anchor="start" font-family='"Liberation Sans", sans-serif' fill="#2a2a2a" stroke="#2a2a2a" stroke-width="0.09">0</text>
<text transform="translate(533.9 360.5) scale(0.81 1)" font-size="4.8" text-anchor="start" font-family='"Liberation Sans", sans-serif' fill="#2a2a2a" stroke="#2a2a2a" stroke-width="0.09">-2</text>
<text transform="translate(533.9 379.3) scale(0.81 1)" font-size="4.8" text-anchor="start" font-family='"Liberation Sans", sans-serif' fill="#2a2a2a" stroke="#2a2a2a" stroke-width="0.09">-4</text>
<text transform="translate(533.9 398) scale(0.81 1)" font-size="4.8" text-anchor="start" font-family='"Liberation Sans", sans-serif' fill="#2a2a2a" stroke="#2a2a2a" stroke-width="0.09">-6</text>
<text transform="translate(533.9 416.7) scale(0.81 1)" font-size="4.8" text-anchor="start" font-family='"Liberation Sans", sans-serif' fill="#2a2a2a" stroke="#2a2a2a" stroke-width="0.09">-8</text>
<text transform="translate(533.9 435.5) scale(0.81 1)" font-size="4.8" text-anchor="start" font-family='"Liberation Sans", sans-serif' fill="#2a2a2a" stroke="#2a2a2a" stroke-width="0.09">-10</text>
<text transform="translate(533.9 454.2) scale(0.81 1)" font-size="4.8" text-anchor="start" font-family='"Liberation Sans", sans-serif' fill="#2a2a2a" stroke="#2a2a2a" stroke-width="0.09">-12</text>
<text x="463.9" y="500.5" font-size="10" text-anchor="middle" font-family='"Liberation Serif", serif' fill="#111" stroke="#111" stroke-width="0.1">(h)</text>
</g>
</svg>
</body></html>
